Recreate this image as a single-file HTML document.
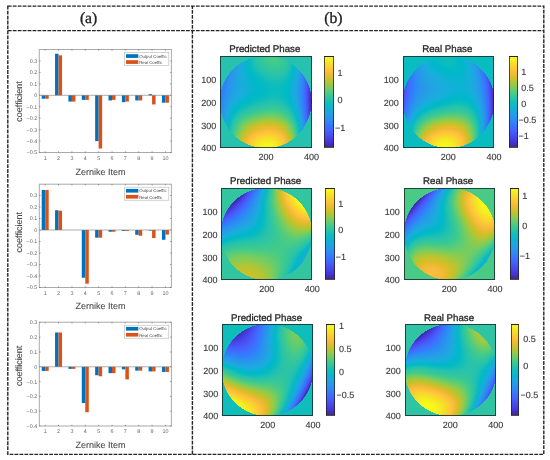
<!DOCTYPE html>
<html><head><meta charset="utf-8"><title>Zernike coefficients and phase</title>
<style>
html,body{margin:0;padding:0;background:#fff}
body{width:550px;height:460px;position:relative;overflow:hidden;font-family:"Liberation Sans", sans-serif}
#wrap{position:absolute;left:0;top:0;width:550px;height:460px;filter:blur(0.3px)}
svg{position:absolute;left:0;top:0;text-rendering:geometricPrecision}
.pm{position:absolute;overflow:hidden}
.pm i{position:absolute;left:0;right:0;display:block}
.fr{position:absolute;box-sizing:border-box;border:1px solid rgba(25,45,45,0.85)}
.cb{position:absolute;box-sizing:border-box;border:0.7px solid rgba(30,30,30,0.75)}
.tk{font-size:5.4px;fill:#666}
.al{font-size:9px;fill:#4a4a4a;stroke:#4a4a4a;stroke-width:0.1px}
.lg{font-size:4.3px;fill:#444}
.pt{font-size:9.0px;fill:#3a3a3a;stroke:#3a3a3a;stroke-width:0.12px}
.tt{font-size:9.7px;fill:#262626;stroke:#262626;stroke-width:0.3px}
.hd{font-family:"Liberation Serif",serif;font-size:15.7px;fill:#222;stroke:#222;stroke-width:0.35px}
</style></head><body><div id="wrap">

<svg width="550" height="460" viewBox="0 0 550 460" font-family='"Liberation Sans", sans-serif'>
<path d="M7.8 6.1H543.8V454.4H7.8Z" stroke="#252525" stroke-width="1.4" stroke-dasharray="3.8 1.15" fill="none"/>
<path d="M7.8 30.6H543.8" stroke="#252525" stroke-width="1.4" stroke-dasharray="3.8 1.15" fill="none"/>
<path d="M192.4 6.1V454.4" stroke-dashoffset="1" stroke="#252525" stroke-width="1.4" stroke-dasharray="3.8 1.15" fill="none"/>
<text x="79.9" y="22.6" class="hd">(a)</text>
<text x="324.2" y="22.6" class="hd">(b)</text>
<rect x="41.70" y="95.30" width="3.50" height="3.44" fill="#0072bd"/>
<rect x="45.20" y="95.30" width="3.50" height="3.44" fill="#d95319"/>
<rect x="55.06" y="53.74" width="3.50" height="41.56" fill="#0072bd"/>
<rect x="58.56" y="55.34" width="3.50" height="39.96" fill="#d95319"/>
<rect x="68.42" y="95.30" width="3.50" height="6.30" fill="#0072bd"/>
<rect x="71.92" y="95.30" width="3.50" height="6.30" fill="#d95319"/>
<rect x="81.78" y="95.30" width="3.50" height="4.58" fill="#0072bd"/>
<rect x="85.28" y="95.30" width="3.50" height="4.58" fill="#d95319"/>
<rect x="95.14" y="95.30" width="3.50" height="45.80" fill="#0072bd"/>
<rect x="98.64" y="95.30" width="3.50" height="53.24" fill="#d95319"/>
<rect x="108.50" y="95.30" width="3.50" height="5.15" fill="#0072bd"/>
<rect x="112.00" y="95.30" width="3.50" height="4.58" fill="#d95319"/>
<rect x="121.86" y="95.30" width="3.50" height="6.87" fill="#0072bd"/>
<rect x="125.36" y="95.30" width="3.50" height="6.30" fill="#d95319"/>
<rect x="135.22" y="95.30" width="3.50" height="5.15" fill="#0072bd"/>
<rect x="138.72" y="95.30" width="3.50" height="5.15" fill="#d95319"/>
<rect x="148.58" y="94.16" width="3.50" height="1.14" fill="#0072bd"/>
<rect x="152.08" y="95.30" width="3.50" height="9.16" fill="#d95319"/>
<rect x="161.94" y="95.30" width="3.50" height="7.44" fill="#0072bd"/>
<rect x="165.44" y="95.30" width="3.50" height="7.44" fill="#d95319"/>
<line x1="39.3" y1="95.30" x2="171.4" y2="95.30" stroke="#777" stroke-width="0.6"/>
<rect x="39.30" y="49.50" width="132.10" height="103.00" fill="none" stroke="#aaa" stroke-width="1"/>
<path d="M45.20 152.50v-1.2M45.20 49.50v1.2M58.56 152.50v-1.2M58.56 49.50v1.2M71.92 152.50v-1.2M71.92 49.50v1.2M85.28 152.50v-1.2M85.28 49.50v1.2M98.64 152.50v-1.2M98.64 49.50v1.2M112.00 152.50v-1.2M112.00 49.50v1.2M125.36 152.50v-1.2M125.36 49.50v1.2M138.72 152.50v-1.2M138.72 49.50v1.2M152.08 152.50v-1.2M152.08 49.50v1.2M165.44 152.50v-1.2M165.44 49.50v1.2M39.30 60.95h1.2M171.40 60.95h-1.2M39.30 72.40h1.2M171.40 72.40h-1.2M39.30 83.85h1.2M171.40 83.85h-1.2M39.30 95.30h1.2M171.40 95.30h-1.2M39.30 106.75h1.2M171.40 106.75h-1.2M39.30 118.20h1.2M171.40 118.20h-1.2M39.30 129.65h1.2M171.40 129.65h-1.2M39.30 141.10h1.2M171.40 141.10h-1.2M39.30 152.55h1.2M171.40 152.55h-1.2" stroke="#555" stroke-width="0.6" fill="none"/>
<text x="37.2" y="60.95" class="tk" text-anchor="end" dy="0.36em">0.3</text>
<text x="37.2" y="72.40" class="tk" text-anchor="end" dy="0.36em">0.2</text>
<text x="37.2" y="83.85" class="tk" text-anchor="end" dy="0.36em">0.1</text>
<text x="37.2" y="95.30" class="tk" text-anchor="end" dy="0.36em">0</text>
<text x="37.2" y="106.75" class="tk" text-anchor="end" dy="0.36em">−0.1</text>
<text x="37.2" y="118.20" class="tk" text-anchor="end" dy="0.36em">−0.2</text>
<text x="37.2" y="129.65" class="tk" text-anchor="end" dy="0.36em">−0.3</text>
<text x="37.2" y="141.10" class="tk" text-anchor="end" dy="0.36em">−0.4</text>
<text x="37.2" y="152.55" class="tk" text-anchor="end" dy="0.36em">−0.5</text>
<text x="45.20" y="158.30" class="tk" text-anchor="middle" dy="0.36em">1</text>
<text x="58.56" y="158.30" class="tk" text-anchor="middle" dy="0.36em">2</text>
<text x="71.92" y="158.30" class="tk" text-anchor="middle" dy="0.36em">3</text>
<text x="85.28" y="158.30" class="tk" text-anchor="middle" dy="0.36em">4</text>
<text x="98.64" y="158.30" class="tk" text-anchor="middle" dy="0.36em">5</text>
<text x="112.00" y="158.30" class="tk" text-anchor="middle" dy="0.36em">6</text>
<text x="125.36" y="158.30" class="tk" text-anchor="middle" dy="0.36em">7</text>
<text x="138.72" y="158.30" class="tk" text-anchor="middle" dy="0.36em">8</text>
<text x="152.08" y="158.30" class="tk" text-anchor="middle" dy="0.36em">9</text>
<text x="165.44" y="158.30" class="tk" text-anchor="middle" dy="0.36em">10</text>
<text x="75.6" y="174.90" class="al">Zernike Item</text>
<text transform="translate(22.3 101.50) rotate(-90)" class="al" text-anchor="middle">coefficient</text>
<rect x="124.5" y="52.50" width="44.3" height="13" fill="#fff" stroke="#b5b5b5" stroke-width="0.6"/>
<rect x="126" y="54.20" width="12.3" height="3.7" fill="#0072bd"/>
<rect x="126" y="60.20" width="12.3" height="3.7" fill="#d95319"/>
<text x="139.2" y="56.20" class="lg" dy="0.36em">Output Coeffic</text>
<text x="139.2" y="62.30" class="lg" dy="0.36em">Real Coeffic</text>
<rect x="41.70" y="189.98" width="3.50" height="40.02" fill="#0072bd"/>
<rect x="45.20" y="189.98" width="3.50" height="40.02" fill="#d95319"/>
<rect x="55.06" y="210.22" width="3.50" height="19.78" fill="#0072bd"/>
<rect x="58.56" y="210.68" width="3.50" height="19.32" fill="#d95319"/>
<rect x="81.78" y="230.00" width="3.50" height="47.73" fill="#0072bd"/>
<rect x="85.28" y="230.00" width="3.50" height="53.70" fill="#d95319"/>
<rect x="95.14" y="230.00" width="3.50" height="7.71" fill="#0072bd"/>
<rect x="98.64" y="230.00" width="3.50" height="7.71" fill="#d95319"/>
<rect x="108.50" y="230.00" width="3.50" height="1.72" fill="#0072bd"/>
<rect x="112.00" y="230.00" width="3.50" height="1.72" fill="#d95319"/>
<rect x="121.86" y="230.00" width="3.50" height="0.92" fill="#0072bd"/>
<rect x="125.36" y="230.00" width="3.50" height="0.92" fill="#d95319"/>
<rect x="135.22" y="230.00" width="3.50" height="4.83" fill="#0072bd"/>
<rect x="138.72" y="230.00" width="3.50" height="5.75" fill="#d95319"/>
<rect x="148.58" y="230.00" width="3.50" height="0.57" fill="#0072bd"/>
<rect x="152.08" y="230.00" width="3.50" height="8.05" fill="#d95319"/>
<rect x="161.94" y="230.00" width="3.50" height="9.78" fill="#0072bd"/>
<rect x="165.44" y="230.00" width="3.50" height="4.60" fill="#d95319"/>
<line x1="39.3" y1="230.00" x2="171.4" y2="230.00" stroke="#777" stroke-width="0.6"/>
<rect x="39.30" y="184.20" width="132.10" height="103.30" fill="none" stroke="#aaa" stroke-width="1"/>
<path d="M45.20 287.50v-1.2M45.20 184.20v1.2M58.56 287.50v-1.2M58.56 184.20v1.2M71.92 287.50v-1.2M71.92 184.20v1.2M85.28 287.50v-1.2M85.28 184.20v1.2M98.64 287.50v-1.2M98.64 184.20v1.2M112.00 287.50v-1.2M112.00 184.20v1.2M125.36 287.50v-1.2M125.36 184.20v1.2M138.72 287.50v-1.2M138.72 184.20v1.2M152.08 287.50v-1.2M152.08 184.20v1.2M165.44 287.50v-1.2M165.44 184.20v1.2M39.30 195.50h1.2M171.40 195.50h-1.2M39.30 207.00h1.2M171.40 207.00h-1.2M39.30 218.50h1.2M171.40 218.50h-1.2M39.30 230.00h1.2M171.40 230.00h-1.2M39.30 241.50h1.2M171.40 241.50h-1.2M39.30 253.00h1.2M171.40 253.00h-1.2M39.30 264.50h1.2M171.40 264.50h-1.2M39.30 276.00h1.2M171.40 276.00h-1.2M39.30 287.50h1.2M171.40 287.50h-1.2" stroke="#555" stroke-width="0.6" fill="none"/>
<text x="37.2" y="195.50" class="tk" text-anchor="end" dy="0.36em">0.3</text>
<text x="37.2" y="207.00" class="tk" text-anchor="end" dy="0.36em">0.2</text>
<text x="37.2" y="218.50" class="tk" text-anchor="end" dy="0.36em">0.1</text>
<text x="37.2" y="230.00" class="tk" text-anchor="end" dy="0.36em">0</text>
<text x="37.2" y="241.50" class="tk" text-anchor="end" dy="0.36em">−0.1</text>
<text x="37.2" y="253.00" class="tk" text-anchor="end" dy="0.36em">−0.2</text>
<text x="37.2" y="264.50" class="tk" text-anchor="end" dy="0.36em">−0.3</text>
<text x="37.2" y="276.00" class="tk" text-anchor="end" dy="0.36em">−0.4</text>
<text x="37.2" y="287.50" class="tk" text-anchor="end" dy="0.36em">−0.5</text>
<text x="45.20" y="293.10" class="tk" text-anchor="middle" dy="0.36em">1</text>
<text x="58.56" y="293.10" class="tk" text-anchor="middle" dy="0.36em">2</text>
<text x="71.92" y="293.10" class="tk" text-anchor="middle" dy="0.36em">3</text>
<text x="85.28" y="293.10" class="tk" text-anchor="middle" dy="0.36em">4</text>
<text x="98.64" y="293.10" class="tk" text-anchor="middle" dy="0.36em">5</text>
<text x="112.00" y="293.10" class="tk" text-anchor="middle" dy="0.36em">6</text>
<text x="125.36" y="293.10" class="tk" text-anchor="middle" dy="0.36em">7</text>
<text x="138.72" y="293.10" class="tk" text-anchor="middle" dy="0.36em">8</text>
<text x="152.08" y="293.10" class="tk" text-anchor="middle" dy="0.36em">9</text>
<text x="165.44" y="293.10" class="tk" text-anchor="middle" dy="0.36em">10</text>
<text x="75.6" y="308.60" class="al">Zernike Item</text>
<text transform="translate(22.3 232.30) rotate(-90)" class="al" text-anchor="middle">coefficient</text>
<rect x="124.5" y="187.20" width="44.3" height="13" fill="#fff" stroke="#b5b5b5" stroke-width="0.6"/>
<rect x="126" y="188.90" width="12.3" height="3.7" fill="#0072bd"/>
<rect x="126" y="194.90" width="12.3" height="3.7" fill="#d95319"/>
<text x="139.2" y="190.90" class="lg" dy="0.36em">Output Coeffic</text>
<text x="139.2" y="197.00" class="lg" dy="0.36em">Real Coeffic</text>
<rect x="41.70" y="366.80" width="3.50" height="4.14" fill="#0072bd"/>
<rect x="45.20" y="366.80" width="3.50" height="4.14" fill="#d95319"/>
<rect x="55.06" y="332.46" width="3.50" height="34.34" fill="#0072bd"/>
<rect x="58.56" y="332.46" width="3.50" height="34.34" fill="#d95319"/>
<rect x="68.42" y="366.80" width="3.50" height="2.07" fill="#0072bd"/>
<rect x="71.92" y="366.80" width="3.50" height="2.07" fill="#d95319"/>
<rect x="81.78" y="366.80" width="3.50" height="36.26" fill="#0072bd"/>
<rect x="85.28" y="366.80" width="3.50" height="45.44" fill="#d95319"/>
<rect x="95.14" y="366.80" width="3.50" height="8.44" fill="#0072bd"/>
<rect x="98.64" y="366.80" width="3.50" height="9.47" fill="#d95319"/>
<rect x="108.50" y="366.80" width="3.50" height="6.36" fill="#0072bd"/>
<rect x="112.00" y="366.80" width="3.50" height="6.36" fill="#d95319"/>
<rect x="121.86" y="366.80" width="3.50" height="2.52" fill="#0072bd"/>
<rect x="125.36" y="366.80" width="3.50" height="12.58" fill="#d95319"/>
<rect x="135.22" y="366.80" width="3.50" height="3.85" fill="#0072bd"/>
<rect x="138.72" y="366.80" width="3.50" height="3.85" fill="#d95319"/>
<rect x="148.58" y="366.80" width="3.50" height="4.59" fill="#0072bd"/>
<rect x="152.08" y="366.80" width="3.50" height="4.59" fill="#d95319"/>
<rect x="161.94" y="366.80" width="3.50" height="5.18" fill="#0072bd"/>
<rect x="165.44" y="366.80" width="3.50" height="5.18" fill="#d95319"/>
<line x1="39.3" y1="366.80" x2="171.4" y2="366.80" stroke="#777" stroke-width="0.6"/>
<rect x="39.30" y="322.20" width="132.10" height="103.80" fill="none" stroke="#aaa" stroke-width="1"/>
<path d="M45.20 426.00v-1.2M45.20 322.20v1.2M58.56 426.00v-1.2M58.56 322.20v1.2M71.92 426.00v-1.2M71.92 322.20v1.2M85.28 426.00v-1.2M85.28 322.20v1.2M98.64 426.00v-1.2M98.64 322.20v1.2M112.00 426.00v-1.2M112.00 322.20v1.2M125.36 426.00v-1.2M125.36 322.20v1.2M138.72 426.00v-1.2M138.72 322.20v1.2M152.08 426.00v-1.2M152.08 322.20v1.2M165.44 426.00v-1.2M165.44 322.20v1.2M39.30 322.40h1.2M171.40 322.40h-1.2M39.30 337.20h1.2M171.40 337.20h-1.2M39.30 352.00h1.2M171.40 352.00h-1.2M39.30 366.80h1.2M171.40 366.80h-1.2M39.30 381.60h1.2M171.40 381.60h-1.2M39.30 396.40h1.2M171.40 396.40h-1.2M39.30 411.20h1.2M171.40 411.20h-1.2M39.30 426.00h1.2M171.40 426.00h-1.2" stroke="#555" stroke-width="0.6" fill="none"/>
<text x="37.2" y="322.40" class="tk" text-anchor="end" dy="0.36em">0.3</text>
<text x="37.2" y="337.20" class="tk" text-anchor="end" dy="0.36em">0.2</text>
<text x="37.2" y="352.00" class="tk" text-anchor="end" dy="0.36em">0.1</text>
<text x="37.2" y="366.80" class="tk" text-anchor="end" dy="0.36em">0</text>
<text x="37.2" y="381.60" class="tk" text-anchor="end" dy="0.36em">−0.1</text>
<text x="37.2" y="396.40" class="tk" text-anchor="end" dy="0.36em">−0.2</text>
<text x="37.2" y="411.20" class="tk" text-anchor="end" dy="0.36em">−0.3</text>
<text x="37.2" y="426.00" class="tk" text-anchor="end" dy="0.36em">−0.4</text>
<text x="45.20" y="431.30" class="tk" text-anchor="middle" dy="0.36em">1</text>
<text x="58.56" y="431.30" class="tk" text-anchor="middle" dy="0.36em">2</text>
<text x="71.92" y="431.30" class="tk" text-anchor="middle" dy="0.36em">3</text>
<text x="85.28" y="431.30" class="tk" text-anchor="middle" dy="0.36em">4</text>
<text x="98.64" y="431.30" class="tk" text-anchor="middle" dy="0.36em">5</text>
<text x="112.00" y="431.30" class="tk" text-anchor="middle" dy="0.36em">6</text>
<text x="125.36" y="431.30" class="tk" text-anchor="middle" dy="0.36em">7</text>
<text x="138.72" y="431.30" class="tk" text-anchor="middle" dy="0.36em">8</text>
<text x="152.08" y="431.30" class="tk" text-anchor="middle" dy="0.36em">9</text>
<text x="165.44" y="431.30" class="tk" text-anchor="middle" dy="0.36em">10</text>
<text x="75.6" y="448.00" class="al">Zernike Item</text>
<text transform="translate(22.3 365.90) rotate(-90)" class="al" text-anchor="middle">coefficient</text>
<rect x="124.5" y="325.20" width="44.3" height="13" fill="#fff" stroke="#b5b5b5" stroke-width="0.6"/>
<rect x="126" y="326.90" width="12.3" height="3.7" fill="#0072bd"/>
<rect x="126" y="332.90" width="12.3" height="3.7" fill="#d95319"/>
<text x="139.2" y="328.90" class="lg" dy="0.36em">Output Coeffic</text>
<text x="139.2" y="335.00" class="lg" dy="0.36em">Real Coeffic</text>
<text x="264.80" y="52.30" class="tt" text-anchor="middle">Predicted Phase</text>
<text x="216.40" y="79.05" class="pt" text-anchor="end" dy="0.42em">100</text>
<text x="216.40" y="101.90" class="pt" text-anchor="end" dy="0.42em">200</text>
<text x="216.40" y="124.75" class="pt" text-anchor="end" dy="0.42em">300</text>
<text x="216.40" y="147.60" class="pt" text-anchor="end" dy="0.42em">400</text>
<text x="265.90" y="156.50" class="pt" text-anchor="middle" dy="0.36em">200</text>
<text x="311.60" y="156.50" class="pt" text-anchor="middle" dy="0.36em">400</text>
<text x="337.50" y="72.60" class="pt" dy="0.36em">1</text>
<text x="337.50" y="100.00" class="pt" dy="0.36em">0</text>
<text x="334.90" y="127.90" class="pt" dy="0.36em">−1</text>
<text x="447.25" y="52.30" class="tt" text-anchor="middle">Real Phase</text>
<text x="398.90" y="79.05" class="pt" text-anchor="end" dy="0.42em">100</text>
<text x="398.90" y="101.90" class="pt" text-anchor="end" dy="0.42em">200</text>
<text x="398.90" y="124.75" class="pt" text-anchor="end" dy="0.42em">300</text>
<text x="398.90" y="147.60" class="pt" text-anchor="end" dy="0.42em">400</text>
<text x="448.35" y="156.50" class="pt" text-anchor="middle" dy="0.36em">200</text>
<text x="494.00" y="156.50" class="pt" text-anchor="middle" dy="0.36em">400</text>
<text x="521.20" y="71.80" class="pt" dy="0.36em">1</text>
<text x="521.20" y="88.20" class="pt" dy="0.36em">0.5</text>
<text x="521.20" y="103.30" class="pt" dy="0.36em">0</text>
<text x="518.60" y="119.50" class="pt" dy="0.36em">−0.5</text>
<text x="518.60" y="135.90" class="pt" dy="0.36em">−1</text>
<text x="265.65" y="184.30" class="tt" text-anchor="middle">Predicted Phase</text>
<text x="217.50" y="211.05" class="pt" text-anchor="end" dy="0.42em">100</text>
<text x="217.50" y="233.90" class="pt" text-anchor="end" dy="0.42em">200</text>
<text x="217.50" y="256.75" class="pt" text-anchor="end" dy="0.42em">300</text>
<text x="217.50" y="279.60" class="pt" text-anchor="end" dy="0.42em">400</text>
<text x="266.75" y="288.50" class="pt" text-anchor="middle" dy="0.36em">200</text>
<text x="312.20" y="288.50" class="pt" text-anchor="middle" dy="0.36em">400</text>
<text x="338.30" y="203.40" class="pt" dy="0.36em">1</text>
<text x="338.30" y="230.00" class="pt" dy="0.36em">0</text>
<text x="335.70" y="256.30" class="pt" dy="0.36em">−1</text>
<text x="448.10" y="184.30" class="tt" text-anchor="middle">Real Phase</text>
<text x="399.70" y="211.05" class="pt" text-anchor="end" dy="0.42em">100</text>
<text x="399.70" y="233.90" class="pt" text-anchor="end" dy="0.42em">200</text>
<text x="399.70" y="256.75" class="pt" text-anchor="end" dy="0.42em">300</text>
<text x="399.70" y="279.60" class="pt" text-anchor="end" dy="0.42em">400</text>
<text x="449.20" y="288.50" class="pt" text-anchor="middle" dy="0.36em">200</text>
<text x="494.90" y="288.50" class="pt" text-anchor="middle" dy="0.36em">400</text>
<text x="522.30" y="195.50" class="pt" dy="0.36em">1</text>
<text x="522.30" y="225.70" class="pt" dy="0.36em">0</text>
<text x="519.70" y="255.90" class="pt" dy="0.36em">−1</text>
<text x="266.55" y="320.50" class="tt" text-anchor="middle">Predicted Phase</text>
<text x="218.40" y="347.20" class="pt" text-anchor="end" dy="0.42em">100</text>
<text x="218.40" y="370.00" class="pt" text-anchor="end" dy="0.42em">200</text>
<text x="218.40" y="392.80" class="pt" text-anchor="end" dy="0.42em">300</text>
<text x="218.40" y="415.60" class="pt" text-anchor="end" dy="0.42em">400</text>
<text x="267.65" y="424.50" class="pt" text-anchor="middle" dy="0.36em">200</text>
<text x="313.10" y="424.50" class="pt" text-anchor="middle" dy="0.36em">400</text>
<text x="339.10" y="325.70" class="pt" dy="0.36em">1</text>
<text x="339.10" y="349.10" class="pt" dy="0.36em">0.5</text>
<text x="339.10" y="372.10" class="pt" dy="0.36em">0</text>
<text x="336.50" y="394.80" class="pt" dy="0.36em">−0.5</text>
<text x="449.05" y="320.50" class="tt" text-anchor="middle">Real Phase</text>
<text x="400.70" y="347.20" class="pt" text-anchor="end" dy="0.42em">100</text>
<text x="400.70" y="370.00" class="pt" text-anchor="end" dy="0.42em">200</text>
<text x="400.70" y="392.80" class="pt" text-anchor="end" dy="0.42em">300</text>
<text x="400.70" y="415.60" class="pt" text-anchor="end" dy="0.42em">400</text>
<text x="450.15" y="424.50" class="pt" text-anchor="middle" dy="0.36em">200</text>
<text x="495.80" y="424.50" class="pt" text-anchor="middle" dy="0.36em">400</text>
<text x="523.20" y="339.00" class="pt" dy="0.36em">0.5</text>
<text x="523.20" y="366.10" class="pt" dy="0.36em">0</text>
<text x="520.60" y="394.70" class="pt" dy="0.36em">−0.5</text>
</svg>
<div class="pm" style="left:220.2px;top:56.2px;width:91.4px;height:91.4px;background:#26c2ad">
<i style="top:0.00px;height:1.02px;background:linear-gradient(90deg,#26c2ad 38.5px,#2ec4a4 38.9px,#34c79c 41.6px,#3ac994 44.3px,#3fca8e 47.1px,#45cb89 49.8px,#48cb86 52.5px,#26c2ad 52.9px)"></i>
<i style="top:1.00px;height:1.02px;background:linear-gradient(90deg,#26c2ad 33.6px,#1bc0b4 34.1px,#29c3aa 37.0px,#30c5a1 39.9px,#36c898 42.8px,#3dc991 45.7px,#43ca8b 48.6px,#47cb87 51.5px,#49cb85 54.4px,#48cb87 57.3px,#26c2ad 57.8px)"></i>
<i style="top:2.01px;height:1.02px;background:linear-gradient(90deg,#26c2ad 30.3px,#07bcc0 30.8px,#1ac0b5 33.7px,#28c3aa 36.7px,#30c5a1 39.7px,#36c899 42.7px,#3cc991 45.7px,#43ca8b 48.7px,#47cb87 51.7px,#49cb86 54.7px,#47cb87 57.7px,#41ca8c 60.6px,#26c2ad 61.1px)"></i>
<i style="top:3.01px;height:1.02px;background:linear-gradient(90deg,#26c2ad 27.7px,#01b8c9 28.1px,#09bdbe 31.1px,#1cc0b3 34.0px,#29c3aa 36.9px,#30c5a1 39.8px,#36c899 42.8px,#3cc992 45.7px,#41ca8c 48.6px,#46cb88 51.6px,#48cb86 54.5px,#46cb88 57.4px,#41ca8c 60.3px,#3ac994 63.3px,#26c2ad 63.7px)"></i>
<i style="top:4.02px;height:1.02px;background:linear-gradient(90deg,#26c2ad 25.4px,#08b4d0 25.9px,#01b9c6 28.7px,#0dbdbc 31.5px,#1ec0b2 34.4px,#2ac3a9 37.2px,#30c5a1 40.0px,#36c799 42.9px,#3bc993 45.7px,#40ca8d 48.5px,#44cb89 51.4px,#46cb88 54.2px,#46cb88 57.0px,#41ca8c 59.9px,#3bc992 62.7px,#34c79c 65.5px,#26c2ad 66.0px)"></i>
<i style="top:5.02px;height:1.02px;background:linear-gradient(90deg,#26c2ad 23.5px,#13b1d7 23.9px,#03b7cc 26.8px,#04bbc2 29.7px,#14bfb8 32.6px,#24c1af 35.5px,#2cc4a6 38.4px,#32c69e 41.3px,#37c897 44.2px,#3cc991 47.2px,#41ca8c 50.1px,#44cb8a 53.0px,#45cb89 55.9px,#42ca8b 58.8px,#3dc991 61.7px,#36c799 64.6px,#2ec4a4 67.5px,#26c2ad 67.9px)"></i>
<i style="top:6.03px;height:1.02px;background:linear-gradient(90deg,#26c2ad 21.7px,#19addc 22.2px,#0ab4d2 25.1px,#01b9c7 28.0px,#0abdbd 31.0px,#1bc0b4 33.9px,#27c2ab 36.9px,#2fc5a3 39.8px,#34c79c 42.8px,#38c896 45.7px,#3dc990 48.6px,#41ca8c 51.6px,#43ca8b 54.5px,#42ca8c 57.5px,#3eca8f 60.4px,#38c896 63.4px,#31c6a0 66.3px,#26c2ac 69.2px,#26c2ad 69.7px)"></i>
<i style="top:7.03px;height:1.02px;background:linear-gradient(90deg,#26c2ad 20.1px,#1ca9e0 20.6px,#13b1d7 23.5px,#04b6cd 26.5px,#03bbc3 29.4px,#11beb9 32.4px,#21c1b1 35.4px,#2ac3a8 38.3px,#30c5a1 41.3px,#35c79a 44.2px,#39c995 47.2px,#3dc990 50.1px,#40ca8d 53.1px,#40ca8d 56.0px,#3eca8f 59.0px,#3ac994 62.0px,#34c79c 64.9px,#2cc4a7 67.9px,#1ac0b5 70.8px,#26c2ad 71.3px)"></i>
<i style="top:8.04px;height:1.02px;background:linear-gradient(90deg,#26c2ad 18.7px,#1fa5e2 19.1px,#18aedb 22.1px,#0ab4d1 25.0px,#01b9c8 28.0px,#09bcbe 30.9px,#19bfb6 33.9px,#25c2ad 36.8px,#2dc4a6 39.8px,#31c69f 42.7px,#36c799 45.7px,#3ac994 48.7px,#3dc991 51.6px,#3eca8f 54.6px,#3dca90 57.5px,#3bc993 60.5px,#36c799 63.4px,#2fc5a2 66.4px,#24c1ae 69.3px,#0abdbd 72.3px,#26c2ad 72.7px)"></i>
<i style="top:9.04px;height:1.02px;background:linear-gradient(90deg,#26c2ad 17.3px,#22a2e4 17.8px,#1babde 20.7px,#11b1d6 23.6px,#03b7cc 26.6px,#02bbc3 29.5px,#0fbeba 32.5px,#1ec0b2 35.4px,#28c2ab 38.3px,#2ec4a4 41.3px,#32c69e 44.2px,#36c899 47.2px,#39c995 50.1px,#3cc992 53.1px,#3cc991 56.0px,#3bc993 58.9px,#37c898 61.9px,#32c69f 64.8px,#2ac3a9 67.8px,#19bfb6 70.7px,#01bac5 73.6px,#26c2ad 74.1px)"></i>
<i style="top:10.04px;height:1.02px;background:linear-gradient(90deg,#26c2ad 16.0px,#249ee6 16.5px,#1ea8e1 19.4px,#16afd9 22.3px,#08b4d0 25.3px,#01b9c8 28.2px,#08bcbf 31.1px,#15bfb7 34.0px,#22c1b0 36.9px,#2ac3a9 39.9px,#2fc5a3 42.8px,#33c69d 45.7px,#36c899 48.6px,#38c896 51.5px,#3ac994 54.5px,#3ac994 57.4px,#37c897 60.3px,#33c79c 63.2px,#2ec4a4 66.1px,#23c1af 69.1px,#0bbdbd 72.0px,#05b6cd 74.9px,#26c2ad 75.4px)"></i>
<i style="top:11.05px;height:1.02px;background:linear-gradient(90deg,#26c2ad 14.9px,#259be7 15.3px,#20a5e3 18.2px,#19acdc 21.1px,#0fb2d4 24.0px,#03b7cc 26.9px,#02bac4 29.8px,#0cbdbc 32.7px,#1ac0b5 35.6px,#25c2ae 38.5px,#2bc3a8 41.4px,#2fc5a2 44.3px,#33c69d 47.1px,#35c79a 50.0px,#37c897 52.9px,#38c896 55.8px,#37c898 58.7px,#34c79b 61.6px,#30c5a1 64.5px,#29c3aa 67.4px,#18bfb6 70.3px,#02bac4 73.2px,#10b2d5 76.1px,#26c2ad 76.5px)"></i>
<i style="top:12.05px;height:1.02px;background:linear-gradient(90deg,#26c2ad 13.8px,#2699ea 14.2px,#22a2e4 17.2px,#1baade 20.2px,#12b1d7 23.2px,#05b6ce 26.2px,#01b9c6 29.2px,#09bcbe 32.2px,#16bfb7 35.2px,#21c1b0 38.2px,#29c3aa 41.2px,#2ec4a4 44.2px,#31c6a0 47.2px,#34c79c 50.2px,#35c79a 53.2px,#36c899 56.2px,#35c79a 59.2px,#32c69e 62.2px,#2dc4a5 65.2px,#24c1af 68.2px,#0ebdbb 71.2px,#02b7cb 74.2px,#19addc 77.2px,#26c2ad 77.6px)"></i>
<i style="top:13.06px;height:1.02px;background:linear-gradient(90deg,#26c2ad 12.8px,#2896ec 13.2px,#23a0e5 16.2px,#1da8e0 19.1px,#16aeda 22.1px,#0bb4d2 25.0px,#01b8ca 28.0px,#03bbc2 30.9px,#0dbdbb 33.9px,#1ac0b5 36.8px,#24c1af 39.8px,#2ac3a9 42.7px,#2ec4a4 45.7px,#31c6a0 48.7px,#33c69d 51.6px,#34c79c 54.6px,#34c79c 57.5px,#32c69e 60.5px,#2fc5a3 63.4px,#28c3aa 66.4px,#1ac0b4 69.3px,#04bbc2 72.3px,#0ab4d2 75.2px,#1ea8e1 78.2px,#26c2ad 78.6px)"></i>
<i style="top:14.06px;height:1.02px;background:linear-gradient(90deg,#26c2ad 11.8px,#2a93ed 12.2px,#259de7 15.2px,#1fa5e2 18.1px,#19acdc 21.0px,#10b2d5 23.9px,#05b6ce 26.8px,#01b9c7 29.7px,#07bcc0 32.6px,#12beb9 35.5px,#1cc0b3 38.4px,#25c2ae 41.3px,#2ac3a9 44.2px,#2ec4a4 47.2px,#30c5a1 50.1px,#32c69f 53.0px,#32c69e 55.9px,#32c69f 58.8px,#2fc5a2 61.7px,#2bc3a8 64.6px,#22c1b0 67.5px,#0fbeba 70.4px,#01b8c8 73.3px,#14b0d8 76.2px,#22a2e4 79.2px,#26c2ad 79.6px)"></i>
<i style="top:15.07px;height:1.02px;background:linear-gradient(90deg,#26c2ad 10.9px,#2b91ef 11.3px,#259be8 14.3px,#21a4e3 17.3px,#1babde 20.3px,#13b0d7 23.3px,#07b5d0 26.3px,#01b8c9 29.3px,#04bbc2 32.3px,#0dbdbb 35.2px,#19bfb5 38.2px,#22c1b0 41.2px,#28c2ab 44.2px,#2cc4a7 47.2px,#2ec5a3 50.2px,#30c5a1 53.2px,#31c5a1 56.2px,#30c5a2 59.1px,#2dc4a5 62.1px,#28c2ab 65.1px,#1cc0b3 68.1px,#08bcbf 71.1px,#04b6cd 74.1px,#1aacdd 77.1px,#259ce7 80.1px,#26c2ad 80.5px)"></i>
<i style="top:16.07px;height:1.02px;background:linear-gradient(90deg,#26c2ad 10.0px,#2c8ef1 10.5px,#2699e9 13.4px,#22a1e4 16.4px,#1da9e0 19.3px,#16aeda 22.2px,#0cb3d3 25.2px,#03b7cc 28.1px,#01b9c6 31.0px,#07bcbf 34.0px,#11beba 36.9px,#1bc0b4 39.8px,#22c1af 42.8px,#28c2ab 45.7px,#2bc3a7 48.6px,#2ec4a5 51.6px,#2fc5a3 54.5px,#2fc5a3 57.4px,#2dc4a5 60.4px,#2ac3a9 63.3px,#22c1b0 66.2px,#13beb9 69.2px,#02bac5 72.1px,#0db3d3 75.0px,#1ea7e1 78.0px,#2896ec 80.9px,#26c2ad 81.4px)"></i>
<i style="top:17.07px;height:1.02px;background:linear-gradient(90deg,#26c2ad 9.2px,#2d8cf3 9.7px,#2797eb 12.6px,#249fe5 15.4px,#1ea6e1 18.3px,#19acdc 21.2px,#12b1d6 24.1px,#07b5d0 27.0px,#01b8c9 29.9px,#02bac3 32.7px,#09bdbe 35.6px,#13beb8 38.5px,#1cc0b4 41.4px,#23c1af 44.3px,#27c2ab 47.1px,#2ac3a8 50.0px,#2cc4a6 52.9px,#2dc4a5 55.8px,#2dc4a6 58.7px,#2ac3a9 61.5px,#25c2ad 64.4px,#1ac0b4 67.3px,#09bcbe 70.2px,#02b7cb 73.1px,#15afd9 76.0px,#22a2e4 78.8px,#2c8ff0 81.7px,#26c2ad 82.2px)"></i>
<i style="top:18.08px;height:1.02px;background:linear-gradient(90deg,#26c2ad 8.5px,#2d8af5 8.9px,#2895ec 11.9px,#249ee6 14.8px,#1fa5e2 17.7px,#1aabdd 20.7px,#13b0d7 23.6px,#09b4d1 26.6px,#02b7cb 29.5px,#01bac5 32.5px,#07bcc0 35.4px,#0fbebb 38.3px,#18bfb6 41.3px,#1fc1b1 44.2px,#25c2ae 47.2px,#28c3ab 50.1px,#2ac3a9 53.1px,#2bc3a8 56.0px,#2ac3a9 58.9px,#27c2ab 61.9px,#21c1b0 64.8px,#15bfb8 67.8px,#04bbc2 70.7px,#06b5cf 73.7px,#1aacdd 76.6px,#249de6 79.5px,#2d89f5 82.5px,#26c2ad 82.9px)"></i>
<i style="top:19.08px;height:1.02px;background:linear-gradient(90deg,#26c2ad 7.7px,#2d88f6 8.2px,#2a93ee 11.1px,#259ce7 14.0px,#21a3e3 16.9px,#1ca9df 19.7px,#17aeda 22.6px,#0eb2d4 25.5px,#06b5ce 28.4px,#01b8c9 31.3px,#02bac3 34.2px,#08bcbe 37.0px,#11beba 39.9px,#19bfb5 42.8px,#1fc0b2 45.7px,#24c1ae 48.6px,#27c2ac 51.5px,#28c3aa 54.4px,#29c3aa 57.2px,#27c2ac 60.1px,#23c1af 63.0px,#1ac0b4 65.9px,#0bbdbc 68.8px,#01b9c7 71.7px,#0eb2d4 74.5px,#1ea8e1 77.4px,#2798ea 80.3px,#2f83f9 83.2px,#26c2ad 83.7px)"></i>
<i style="top:20.09px;height:1.02px;background:linear-gradient(90deg,#26c2ad 7.1px,#2e86f7 7.5px,#2b92ef 10.5px,#259be8 13.4px,#22a2e4 16.3px,#1da8e0 19.3px,#18addb 22.2px,#11b2d5 25.1px,#07b5d0 28.1px,#01b7ca 31.0px,#01bac5 34.0px,#06bcc0 36.9px,#0dbdbc 39.8px,#15bfb7 42.8px,#1cc0b4 45.7px,#21c1b0 48.6px,#25c2ae 51.6px,#26c2ac 54.5px,#26c2ac 57.4px,#25c2ae 60.4px,#1fc1b1 63.3px,#16bfb7 66.3px,#07bcbf 69.2px,#02b7cb 72.1px,#14b0d8 75.1px,#20a4e3 78.0px,#2a93ee 80.9px,#327cfc 83.9px,#26c2ad 84.3px)"></i>
<i style="top:21.09px;height:1.02px;background:linear-gradient(90deg,#26c2ad 6.4px,#2e84f8 6.9px,#2c90f0 9.9px,#269ae9 12.8px,#22a1e4 15.8px,#1ea8e1 18.8px,#19addc 21.8px,#12b1d7 24.8px,#09b4d1 27.8px,#03b7cc 30.8px,#01b9c7 33.8px,#04bbc2 36.7px,#0abdbd 39.7px,#11beb9 42.7px,#19bfb5 45.7px,#1ec0b2 48.7px,#22c1b0 51.7px,#24c1af 54.7px,#24c1af 57.6px,#21c1b0 60.6px,#1bc0b4 63.6px,#11beba 66.6px,#03bbc2 69.6px,#05b6ce 72.6px,#18aedb 75.6px,#23a1e5 78.6px,#2c8ef1 81.5px,#3975fe 84.5px,#26c2ad 85.0px)"></i>
<i style="top:22.10px;height:1.02px;background:linear-gradient(90deg,#26c2ad 5.8px,#2e83f9 6.3px,#2c8ff1 9.2px,#2798ea 12.1px,#23a0e5 15.0px,#1fa6e2 18.0px,#1babde 20.9px,#15afd9 23.8px,#0eb2d4 26.7px,#06b5cf 29.6px,#01b8ca 32.6px,#01bac5 35.5px,#05bbc1 38.4px,#0bbdbd 41.3px,#12beb9 44.2px,#18bfb6 47.2px,#1dc0b3 50.1px,#20c1b1 53.0px,#21c1b0 55.9px,#20c1b1 58.8px,#1cc0b3 61.8px,#15bfb7 64.7px,#09bcbe 67.6px,#01b9c7 70.5px,#0cb3d3 73.4px,#1caadf 76.4px,#259ce7 79.3px,#2d89f6 82.2px,#3f6efe 85.1px,#26c2ad 85.6px)"></i>
<i style="top:23.10px;height:1.02px;background:linear-gradient(90deg,#26c2ad 5.2px,#2f81fa 5.7px,#2d8df2 8.7px,#2797eb 11.6px,#249fe6 14.6px,#20a5e2 17.5px,#1baade 20.5px,#16aeda 23.5px,#10b2d5 26.4px,#07b5d0 29.4px,#02b7cb 32.4px,#01b9c7 35.3px,#03bbc3 38.3px,#08bcbe 41.3px,#0fbebb 44.2px,#15bfb7 47.2px,#1abfb5 50.1px,#1dc0b3 53.1px,#1ec0b2 56.1px,#1dc0b3 59.0px,#19bfb5 62.0px,#11beba 65.0px,#06bcc0 67.9px,#01b8ca 70.9px,#11b1d6 73.9px,#1ea7e1 76.8px,#2698ea 79.8px,#2e84f9 82.7px,#4367fd 85.7px,#26c2ad 86.2px)"></i>
<i style="top:24.11px;height:1.02px;background:linear-gradient(90deg,#26c2ad 4.7px,#3080fa 5.2px,#2d8cf3 8.1px,#2896ec 11.0px,#249de6 13.8px,#21a4e3 16.7px,#1da9e0 19.6px,#19addc 22.5px,#13b0d7 25.4px,#0bb3d2 28.3px,#05b6ce 31.2px,#01b8ca 34.1px,#01bac6 37.0px,#04bbc2 39.9px,#09bcbe 42.8px,#0fbebb 45.7px,#14bfb8 48.6px,#19bfb6 51.5px,#1bc0b4 54.4px,#1bc0b4 57.3px,#19bfb5 60.2px,#13beb8 63.1px,#0abdbd 66.0px,#02bac5 68.9px,#06b6ce 71.8px,#16aeda 74.7px,#21a3e3 77.6px,#2994ed 80.4px,#317efb 83.3px,#4561fc 86.2px,#26c2ad 86.7px)"></i>
<i style="top:25.11px;height:1.02px;background:linear-gradient(90deg,#26c2ad 4.2px,#307ffb 4.7px,#2d8bf4 7.6px,#2995ec 10.5px,#259de7 13.4px,#21a3e3 16.4px,#1da8e0 19.3px,#19acdc 22.2px,#14b0d8 25.2px,#0db3d3 28.1px,#06b5cf 31.0px,#02b7cb 34.0px,#01b9c7 36.9px,#02bbc3 39.8px,#07bcbf 42.8px,#0cbdbc 45.7px,#11beb9 48.6px,#16bfb7 51.6px,#18bfb6 54.5px,#18bfb6 57.4px,#16bfb7 60.4px,#10beba 63.3px,#07bcbf 66.2px,#01b9c7 69.2px,#08b4d1 72.1px,#19addc 75.0px,#23a1e5 78.0px,#2c90f0 80.9px,#3579fd 83.8px,#475bfa 86.7px,#26c2ad 87.2px)"></i>
<i style="top:26.11px;height:1.02px;background:linear-gradient(90deg,#26c2ad 3.7px,#317efb 4.2px,#2d8af4 7.1px,#2994ed 10.1px,#259ce7 13.1px,#21a2e4 16.0px,#1ea8e0 19.0px,#1aacdd 22.0px,#15afd8 24.9px,#0eb2d4 27.9px,#07b5d0 30.9px,#03b7cc 33.8px,#01b8c8 36.8px,#02bac4 39.8px,#05bbc1 42.7px,#0abdbd 45.7px,#0fbebb 48.7px,#13beb9 51.6px,#15bfb7 54.6px,#15bfb7 57.6px,#13beb9 60.5px,#0dbdbc 63.5px,#05bbc1 66.5px,#01b8c9 69.4px,#0cb3d3 72.4px,#1babde 75.4px,#249ee6 78.3px,#2d8df2 81.3px,#3a74fe 84.3px,#4756f6 87.2px,#26c2ad 87.7px)"></i>
<i style="top:27.12px;height:1.02px;background:linear-gradient(90deg,#26c2ad 3.3px,#327dfc 3.7px,#2d89f5 6.7px,#2994ed 9.7px,#259ce7 12.7px,#22a2e4 15.7px,#1ea7e1 18.7px,#1aacdd 21.7px,#15afd9 24.7px,#10b2d5 27.7px,#09b4d1 30.7px,#04b6cd 33.7px,#01b8c9 36.7px,#01bac5 39.7px,#04bbc2 42.7px,#08bcbf 45.7px,#0cbdbc 48.7px,#10beba 51.7px,#13beb9 54.7px,#13beb9 57.7px,#10beba 60.7px,#0abdbd 63.7px,#02bbc3 66.7px,#02b7cb 69.7px,#10b2d5 72.7px,#1da9e0 75.7px,#259ce7 78.7px,#2d89f5 81.7px,#3e6fff 84.7px,#4850f3 87.7px,#26c2ad 88.1px)"></i>
<i style="top:28.12px;height:1.02px;background:linear-gradient(90deg,#26c2ad 2.9px,#327cfc 3.3px,#2d88f6 6.2px,#2a92ee 9.2px,#269ae8 12.1px,#23a1e4 15.0px,#1fa6e2 17.9px,#1baade 20.9px,#17aeda 23.8px,#12b1d7 26.7px,#0cb3d3 29.6px,#06b5cf 32.5px,#02b7cb 35.5px,#01b9c8 38.4px,#02bac4 41.3px,#05bbc1 44.2px,#09bcbe 47.2px,#0cbdbc 50.1px,#0fbeba 53.0px,#11beba 55.9px,#10beba 58.9px,#0cbdbc 61.8px,#06bcc0 64.7px,#01b9c6 67.6px,#06b5ce 70.5px,#15afd9 73.5px,#1fa6e2 76.4px,#2798ea 79.3px,#2e85f8 82.2px,#426afe 85.2px,#484bef 88.1px,#26c2ad 88.5px)"></i>
<i style="top:29.13px;height:1.02px;background:linear-gradient(90deg,#26c2ad 2.5px,#337bfd 2.9px,#2d88f6 5.9px,#2b92ee 8.8px,#269ae8 11.8px,#23a1e5 14.7px,#1fa6e2 17.7px,#1baade 20.6px,#18aedb 23.6px,#13b1d7 26.5px,#0db3d3 29.5px,#07b5cf 32.4px,#03b7cc 35.4px,#01b8c8 38.3px,#02bac5 41.3px,#04bbc2 44.2px,#07bcbf 47.2px,#0bbdbd 50.1px,#0dbdbb 53.1px,#0fbebb 56.0px,#0ebdbb 59.0px,#0abdbd 61.9px,#04bbc1 64.9px,#01b9c8 67.8px,#07b5d0 70.8px,#17aeda 73.7px,#20a4e3 76.7px,#2895ec 79.6px,#2f81fa 82.6px,#4466fd 85.5px,#4746eb 88.5px,#26c2ad 88.9px)"></i>
<i style="top:30.13px;height:1.02px;background:linear-gradient(90deg,#26c2ad 2.1px,#347afd 2.6px,#2d87f7 5.5px,#2b92ee 8.5px,#269ae8 11.5px,#23a0e5 14.5px,#1fa6e2 17.4px,#1caadf 20.4px,#18aedb 23.4px,#13b0d7 26.4px,#0db3d3 29.3px,#07b5d0 32.3px,#04b6cc 35.3px,#01b8c9 38.3px,#01b9c6 41.2px,#03bbc3 44.2px,#06bcc0 47.2px,#0abdbe 50.2px,#0cbdbc 53.1px,#0dbdbb 56.1px,#0cbdbc 59.1px,#09bcbe 62.1px,#03bbc2 65.0px,#01b8c9 68.0px,#0ab4d1 71.0px,#19addc 74.0px,#22a2e4 76.9px,#2a93ed 79.9px,#307efb 82.9px,#4562fc 85.9px,#4742e6 88.8px,#26c2ad 89.3px)"></i>
<i style="top:31.14px;height:1.02px;background:linear-gradient(90deg,#26c2ad 1.8px,#3479fd 2.2px,#2e87f7 5.2px,#2b92ef 8.2px,#269ae9 11.2px,#23a0e5 14.2px,#1fa6e2 17.2px,#1caadf 20.2px,#18addb 23.2px,#13b0d7 26.2px,#0eb3d4 29.2px,#08b5d0 32.2px,#04b6cd 35.2px,#01b8c9 38.2px,#01b9c6 41.2px,#02bbc3 44.2px,#06bcc0 47.2px,#09bcbe 50.2px,#0bbdbd 53.2px,#0cbdbc 56.2px,#0bbdbd 59.2px,#07bcbf 62.2px,#02bac3 65.2px,#01b8ca 68.2px,#0cb3d3 71.2px,#1aacdd 74.2px,#23a1e4 77.2px,#2b91ef 80.2px,#327bfc 83.2px,#465efb 86.2px,#463de0 89.2px,#26c2ad 89.6px)"></i>
<i style="top:32.14px;height:1.02px;background:linear-gradient(90deg,#26c2ad 1.5px,#3579fd 1.9px,#2e86f7 4.8px,#2b91ef 7.7px,#2699e9 10.7px,#23a0e5 13.6px,#20a5e2 16.5px,#1ca9df 19.4px,#19addc 22.3px,#14b0d8 25.3px,#0fb2d5 28.2px,#0ab4d1 31.1px,#05b6ce 34.0px,#02b7cb 36.9px,#01b9c8 39.9px,#02bac5 42.8px,#03bbc2 45.7px,#07bcc0 48.6px,#09bcbe 51.5px,#0bbdbd 54.5px,#0bbdbd 57.4px,#09bcbe 60.3px,#05bbc1 63.2px,#01b9c6 66.1px,#04b6cd 69.1px,#11b1d6 72.0px,#1ca9df 74.9px,#249ee6 77.8px,#2d8df2 80.7px,#3777fe 83.7px,#475af9 86.6px,#463ada 89.5px,#26c2ad 89.9px)"></i>
<i style="top:33.15px;height:1.02px;background:linear-gradient(90deg,#26c2ad 1.2px,#3578fd 1.6px,#2e86f7 4.6px,#2b91ef 7.5px,#2699e9 10.4px,#23a0e5 13.4px,#1fa5e2 16.3px,#1ca9df 19.3px,#19addc 22.2px,#14b0d8 25.1px,#0fb2d5 28.1px,#0ab4d1 31.0px,#05b6ce 33.9px,#02b7cb 36.9px,#01b9c8 39.8px,#02bac5 42.8px,#03bbc2 45.7px,#06bcc0 48.6px,#09bcbe 51.6px,#0abdbd 54.5px,#0abdbd 57.5px,#08bcbe 60.4px,#04bbc1 63.3px,#01b9c6 66.3px,#05b6ce 69.2px,#12b1d7 72.1px,#1da8e0 75.1px,#259ce7 78.0px,#2d8bf3 81.0px,#3a74fe 83.9px,#4757f7 86.8px,#4536d4 89.8px,#26c2ad 90.2px)"></i>
<i style="top:34.15px;height:1.02px;background:linear-gradient(90deg,#26c2ad 0.9px,#3678fd 1.4px,#2e86f7 4.3px,#2b91ef 7.3px,#2699e9 10.2px,#23a0e5 13.2px,#1fa5e2 16.1px,#1caadf 19.1px,#19addc 22.0px,#14b0d8 25.0px,#0fb2d4 28.0px,#09b4d1 30.9px,#05b6ce 33.9px,#02b7cb 36.8px,#01b9c8 39.8px,#02bac5 42.7px,#03bbc2 45.7px,#07bcc0 48.7px,#09bcbe 51.6px,#0abdbd 54.6px,#0abdbd 57.5px,#08bcbf 60.5px,#04bbc2 63.4px,#01b9c7 66.4px,#05b6ce 69.4px,#13b0d7 72.3px,#1ea8e1 75.3px,#259be8 78.2px,#2d8af5 81.2px,#3c71ff 84.1px,#4854f5 87.1px,#4434ce 90.0px,#26c2ad 90.5px)"></i>
<i style="top:35.15px;height:1.02px;background:linear-gradient(90deg,#26c2ad 0.7px,#3678fe 1.1px,#2e86f7 4.1px,#2b91ef 7.1px,#269ae9 10.0px,#23a0e5 13.0px,#1fa6e2 16.0px,#1caadf 19.0px,#18addb 21.9px,#13b0d8 24.9px,#0eb2d4 27.9px,#09b4d1 30.8px,#05b6cd 33.8px,#01b7ca 36.8px,#01b9c7 39.8px,#02bac4 42.7px,#04bbc2 45.7px,#07bcc0 48.7px,#09bcbe 51.6px,#0abdbd 54.6px,#0abdbd 57.6px,#08bcbf 60.6px,#04bbc2 63.5px,#01b9c7 66.5px,#06b5cf 69.5px,#14b0d8 72.4px,#1ea7e1 75.4px,#269ae8 78.4px,#2d88f6 81.4px,#3e6fff 84.3px,#4851f3 87.3px,#4331c7 90.3px,#26c2ad 90.7px)"></i>
<i style="top:36.16px;height:1.02px;background:linear-gradient(90deg,#26c2ad 0.5px,#3678fe 0.9px,#2e86f7 3.9px,#2b91ef 6.9px,#269ae9 9.9px,#23a1e4 12.8px,#1fa6e2 15.8px,#1baade 18.8px,#18aedb 21.8px,#13b0d7 24.8px,#0db3d3 27.8px,#08b5d0 30.8px,#04b6cd 33.8px,#01b8ca 36.7px,#01b9c7 39.7px,#02bac4 42.7px,#04bbc1 45.7px,#07bcbf 48.7px,#0abdbe 51.7px,#0bbdbd 54.7px,#0abdbd 57.6px,#08bcbf 60.6px,#04bbc2 63.6px,#01b9c7 66.6px,#06b5cf 69.6px,#15afd8 72.6px,#1fa6e1 75.6px,#2699e9 78.6px,#2e87f7 81.5px,#406dfe 84.5px,#484ff2 87.5px,#422fc1 90.5px,#26c2ad 90.9px)"></i>
<i style="top:37.16px;height:1.02px;background:linear-gradient(90deg,#26c2ad 0.3px,#3678fe 0.7px,#2e86f7 3.7px,#2b92ee 6.7px,#269ae8 9.7px,#22a1e4 12.7px,#1ea7e1 15.7px,#1babde 18.7px,#17aeda 21.7px,#12b1d6 24.7px,#0cb3d3 27.7px,#07b5cf 30.7px,#03b7cc 33.7px,#01b8c9 36.7px,#01b9c6 39.7px,#02bac3 42.7px,#05bbc1 45.7px,#08bcbf 48.7px,#0abdbd 51.7px,#0cbdbc 54.7px,#0bbdbd 57.7px,#09bcbe 60.7px,#04bbc2 63.7px,#01b9c7 66.7px,#06b5cf 69.7px,#15afd9 72.7px,#1fa6e2 75.7px,#2698ea 78.7px,#2e86f7 81.7px,#416bfe 84.7px,#484df0 87.7px,#412dbc 90.7px,#26c2ad 91.1px)"></i>
<i style="top:38.17px;height:1.02px;background:linear-gradient(90deg,#26c2ad 0.1px,#3678fe 0.5px,#2e86f7 3.5px,#2b91ef 6.4px,#269ae8 9.3px,#23a1e4 12.2px,#1ea6e1 15.1px,#1babde 18.0px,#17aeda 20.9px,#12b1d6 23.9px,#0cb3d3 26.8px,#07b5d0 29.7px,#04b6cc 32.6px,#01b8c9 35.5px,#01b9c6 38.4px,#02bac4 41.3px,#05bbc1 44.2px,#08bcbf 47.2px,#0abdbd 50.1px,#0dbdbc 53.0px,#0dbdbb 55.9px,#0bbdbc 58.8px,#08bcbf 61.7px,#03bbc3 64.6px,#01b8c9 67.5px,#09b4d1 70.5px,#18aedb 73.4px,#21a4e3 76.3px,#2896ec 79.2px,#2e83f9 82.1px,#4368fe 85.0px,#484aee 87.9px,#402bb7 90.9px,#26c2ad 91.3px)"></i>
<i style="top:39.17px;height:1.02px;background:linear-gradient(90deg,#26c2ad 0.0px,#3678fd 0.4px,#2e87f7 3.3px,#2b92ee 6.2px,#259be8 9.2px,#22a2e4 12.1px,#1ea7e1 15.0px,#1aabdd 17.9px,#16afd9 20.9px,#11b1d6 23.8px,#0ab4d2 26.7px,#06b5ce 29.6px,#02b7cb 32.5px,#01b8c8 35.5px,#01bac5 38.4px,#03bbc2 41.3px,#06bcc0 44.2px,#09bdbe 47.2px,#0cbdbc 50.1px,#0ebebb 53.0px,#0fbebb 55.9px,#0dbdbc 58.9px,#09bcbe 61.8px,#03bbc2 64.7px,#01b8c8 67.6px,#09b4d1 70.5px,#18aedb 73.5px,#21a4e3 76.4px,#2895ec 79.3px,#2f82fa 82.2px,#4367fd 85.2px,#4848ec 88.1px,#402ab3 91.0px,#26c2ad 91.4px)"></i>
<i style="top:40.18px;height:1.02px;background:linear-gradient(90deg,#26c2ad 0.0px,#3578fd 0.3px,#2e87f7 3.2px,#2a93ee 6.1px,#259be7 9.1px,#21a2e4 12.0px,#1da8e0 14.9px,#19acdc 17.9px,#14b0d8 20.8px,#0fb2d4 23.7px,#08b4d1 26.7px,#04b6cd 29.6px,#01b8ca 32.5px,#01b9c7 35.4px,#02bac4 38.4px,#05bbc1 41.3px,#08bcbf 44.2px,#0bbdbc 47.2px,#0fbebb 50.1px,#11beba 53.0px,#11beb9 56.0px,#0fbeba 58.9px,#0abdbd 61.8px,#04bbc1 64.7px,#01b9c8 67.7px,#08b4d0 70.6px,#17aedb 73.5px,#21a4e3 76.5px,#2895ec 79.4px,#2f81fa 82.3px,#4466fd 85.3px,#4747eb 88.2px,#3f28af 91.1px,#26c2ad 91.4px)"></i>
<i style="top:41.18px;height:1.02px;background:linear-gradient(90deg,#26c2ad 0.0px,#3579fd 0.2px,#2d88f6 3.1px,#2a93ed 6.1px,#259ce7 9.0px,#21a3e3 11.9px,#1da9e0 14.9px,#19addc 17.8px,#13b0d7 20.7px,#0cb3d3 23.7px,#07b5cf 26.6px,#03b7cc 29.5px,#01b8c8 32.5px,#01bac5 35.4px,#03bbc2 38.4px,#07bcc0 41.3px,#0abdbd 44.2px,#0ebebb 47.2px,#12beb9 50.1px,#14beb8 53.0px,#14beb8 56.0px,#12beb9 58.9px,#0cbdbc 61.9px,#06bcc0 64.8px,#01b9c7 67.7px,#07b5d0 70.7px,#17aeda 73.6px,#21a4e3 76.5px,#2895ec 79.5px,#2f81fa 82.4px,#4465fd 85.3px,#4746ea 88.3px,#3e27ac 91.2px,#26c2ad 91.4px)"></i>
<i style="top:42.18px;height:1.02px;background:linear-gradient(90deg,#26c2ad 0.0px,#3479fd 0.1px,#2d88f6 3.0px,#2994ed 6.0px,#249de7 8.9px,#20a4e3 11.9px,#1caadf 14.8px,#17aeda 17.8px,#11b1d6 20.7px,#0ab4d1 23.6px,#05b6ce 26.6px,#01b8ca 29.5px,#01b9c7 32.5px,#02bac4 35.4px,#06bcc1 38.3px,#09bdbe 41.3px,#0ebdbb 44.2px,#12beb9 47.2px,#15bfb7 50.1px,#17bfb6 53.1px,#17bfb6 56.0px,#15bfb8 58.9px,#0fbeba 61.9px,#08bcbf 64.8px,#01b9c6 67.8px,#06b5cf 70.7px,#16aeda 73.6px,#20a4e3 76.6px,#2895ec 79.5px,#2f81fa 82.5px,#4465fd 85.4px,#4745e9 88.4px,#3e27a9 91.3px,#26c2ad 91.4px)"></i>
<i style="top:43.19px;height:1.02px;background:linear-gradient(90deg,#347afd 0.0px,#2d89f5 3.0px,#2895ec 5.9px,#249ee6 8.9px,#1fa5e2 11.8px,#1babde 14.8px,#15afd9 17.7px,#0fb2d4 20.7px,#07b5d0 23.6px,#03b7cc 26.6px,#01b8c8 29.5px,#02bac5 32.4px,#04bbc1 35.4px,#08bcbe 38.3px,#0dbdbc 41.3px,#12beb9 44.2px,#16bfb7 47.2px,#19bfb5 50.1px,#1ac0b4 53.1px,#1ac0b5 56.0px,#18bfb6 59.0px,#12beb9 61.9px,#0abdbe 64.8px,#02bac5 67.8px,#05b6ce 70.7px,#15afd9 73.7px,#20a4e3 76.6px,#2896ec 79.6px,#2f81fa 82.5px,#4465fd 85.5px,#4744e9 88.4px,#3e26a8 91.4px)"></i>
<i style="top:44.19px;height:1.02px;background:linear-gradient(90deg,#337bfc 0.0px,#2d8af4 3.0px,#2896eb 5.9px,#249fe5 8.9px,#1fa6e1 11.8px,#1aacdd 14.7px,#14b0d8 17.7px,#0cb3d3 20.6px,#05b6ce 23.6px,#01b8ca 26.5px,#01b9c6 29.5px,#03bbc3 32.4px,#07bcbf 35.4px,#0cbdbc 38.3px,#11beb9 41.3px,#16bfb7 44.2px,#1ac0b5 47.2px,#1cc0b3 50.1px,#1ec0b2 53.1px,#1dc0b2 56.0px,#1bc0b4 59.0px,#16bfb7 61.9px,#0cbdbc 64.9px,#02bbc3 67.8px,#04b6cd 70.8px,#14b0d8 73.7px,#20a5e2 76.7px,#2896eb 79.6px,#2f81fa 82.5px,#4465fd 85.5px,#4744e8 88.4px,#3e26a8 91.4px)"></i>
<i style="top:45.20px;height:1.02px;background:linear-gradient(90deg,#327cfc 0.0px,#2d8bf4 2.9px,#2797eb 5.9px,#23a0e5 8.8px,#1ea7e1 11.8px,#19addc 14.7px,#12b1d6 17.7px,#08b4d1 20.6px,#03b7cc 23.6px,#01b9c8 26.5px,#02bac4 29.5px,#06bcc0 32.4px,#0bbdbd 35.4px,#11beba 38.3px,#16bfb7 41.3px,#1bc0b4 44.2px,#1ec0b2 47.2px,#20c1b1 50.1px,#22c1b0 53.1px,#21c1b0 56.0px,#1fc0b2 59.0px,#1abfb5 61.9px,#10beba 64.9px,#04bbc1 67.8px,#02b7cb 70.8px,#13b0d7 73.7px,#1fa6e2 76.7px,#2797eb 79.6px,#2f82fa 82.6px,#4465fd 85.5px,#4744e8 88.5px,#3e26a8 91.4px)"></i>
<i style="top:46.20px;height:1.02px;background:linear-gradient(90deg,#317dfc 0.0px,#2d8cf3 3.0px,#2798ea 5.9px,#22a1e4 8.9px,#1da9e0 11.8px,#17aeda 14.7px,#0eb2d4 17.7px,#06b5cf 20.6px,#01b8ca 23.6px,#01bac5 26.5px,#05bbc1 29.5px,#0abdbd 32.4px,#10beba 35.4px,#16bfb7 38.3px,#1bc0b4 41.3px,#1fc0b2 44.2px,#22c1af 47.2px,#24c2ae 50.1px,#25c2ad 53.1px,#25c2ae 56.0px,#23c1af 59.0px,#1dc0b3 61.9px,#14beb8 64.9px,#07bcc0 67.8px,#01b8ca 70.8px,#11b1d6 73.7px,#1ea7e1 76.7px,#2798ea 79.6px,#2e83f9 82.5px,#4466fd 85.5px,#4745e9 88.4px,#3e26a8 91.4px)"></i>
<i style="top:47.21px;height:1.02px;background:linear-gradient(90deg,#317efb 0.0px,#2d8df2 3.0px,#2699e9 5.9px,#21a3e4 8.9px,#1caadf 11.8px,#15afd8 14.8px,#0bb3d2 17.7px,#03b7cc 20.7px,#01b9c7 23.6px,#03bbc2 26.6px,#09bcbe 29.5px,#0fbebb 32.4px,#16bfb7 35.4px,#1bc0b4 38.3px,#20c1b1 41.3px,#24c1af 44.2px,#26c2ac 47.2px,#28c2ab 50.1px,#28c3aa 53.1px,#28c2ab 56.0px,#26c2ad 59.0px,#21c1b0 61.9px,#19bfb6 64.8px,#0abdbd 67.8px,#01b9c8 70.7px,#0fb2d4 73.7px,#1da8e0 76.6px,#2699ea 79.6px,#2e84f9 82.5px,#4367fd 85.5px,#4745ea 88.4px,#3e26a8 91.4px)"></i>
<i style="top:48.21px;height:1.02px;background:linear-gradient(90deg,#26c2ad 0.0px,#307ffb 0.1px,#2c8ff1 3.0px,#269be8 6.0px,#20a4e3 8.9px,#1aabdd 11.9px,#12b1d7 14.8px,#07b5d0 17.8px,#01b8ca 20.7px,#02bac4 23.6px,#07bcc0 26.6px,#0dbdbb 29.5px,#15bfb7 32.5px,#1bc0b4 35.4px,#20c1b1 38.3px,#25c2ae 41.3px,#27c2ab 44.2px,#2ac3a9 47.2px,#2bc3a8 50.1px,#2cc4a7 53.1px,#2bc3a8 56.0px,#29c3aa 58.9px,#25c2ad 61.9px,#1dc0b3 64.8px,#0ebdbb 67.8px,#01b9c6 70.7px,#0cb3d3 73.6px,#1ca9e0 76.6px,#269ae9 79.5px,#2e85f8 82.5px,#4368fd 85.4px,#4746eb 88.4px,#3e27aa 91.3px,#26c2ad 91.4px)"></i>
<i style="top:49.22px;height:1.02px;background:linear-gradient(90deg,#26c2ad 0.0px,#2f81fa 0.2px,#2c90f0 3.1px,#259ce7 6.1px,#1fa6e2 9.0px,#19addc 11.9px,#0fb2d4 14.9px,#05b6cd 17.8px,#01b9c7 20.7px,#04bbc1 23.7px,#0bbdbd 26.6px,#14beb8 29.5px,#1bc0b4 32.5px,#21c1b0 35.4px,#25c2ad 38.4px,#29c3aa 41.3px,#2bc3a8 44.2px,#2dc4a5 47.2px,#2ec4a4 50.1px,#2ec5a4 53.0px,#2ec4a4 56.0px,#2cc4a6 58.9px,#28c3aa 61.9px,#21c1b0 64.8px,#13beb8 67.7px,#02bac3 70.7px,#08b4d1 73.6px,#1baade 76.5px,#259be8 79.5px,#2e86f7 82.4px,#4269fe 85.3px,#4848ec 88.3px,#3e28ac 91.2px,#26c2ad 91.4px)"></i>
<i style="top:50.22px;height:1.02px;background:linear-gradient(90deg,#26c2ad 0.0px,#2f82fa 0.3px,#2b91ef 3.2px,#249de6 6.1px,#1ea7e1 9.1px,#17aeda 12.0px,#0bb3d2 14.9px,#02b7cb 17.9px,#02bac4 20.8px,#09bcbe 23.7px,#11beb9 26.7px,#1ac0b5 29.6px,#21c1b1 32.5px,#26c2ad 35.4px,#29c3a9 38.4px,#2cc4a6 41.3px,#2ec5a4 44.2px,#30c5a2 47.2px,#31c6a0 50.1px,#31c6a0 53.0px,#31c6a1 56.0px,#2fc5a3 58.9px,#2cc4a7 61.8px,#25c2ad 64.7px,#19bfb6 67.7px,#05bbc1 70.6px,#06b6ce 73.5px,#1aacdd 76.5px,#259de7 79.4px,#2d88f6 82.3px,#416bfe 85.3px,#4849ed 88.2px,#3f29b0 91.1px,#26c2ad 91.4px)"></i>
<i style="top:51.22px;height:1.02px;background:linear-gradient(90deg,#26c2ad 0.0px,#2e84f9 0.4px,#2a93ee 3.3px,#249fe5 6.2px,#1da9e0 9.2px,#14b0d8 12.1px,#07b5d0 15.0px,#01b8c8 17.9px,#05bbc1 20.9px,#0ebdbb 23.8px,#18bfb6 26.7px,#20c1b1 29.6px,#26c2ad 32.5px,#2ac3a9 35.5px,#2dc4a5 38.4px,#2fc5a2 41.3px,#31c69f 44.2px,#33c69d 47.2px,#34c79c 50.1px,#34c79b 53.0px,#34c79c 55.9px,#32c69f 58.9px,#2fc5a3 61.8px,#29c3aa 64.7px,#1ec0b2 67.6px,#09bdbe 70.5px,#03b7cc 73.5px,#18addb 76.4px,#249ee6 79.3px,#2d8af4 82.2px,#406dfe 85.2px,#484bef 88.1px,#402ab4 91.0px,#26c2ad 91.4px)"></i>
<i style="top:52.23px;height:1.02px;background:linear-gradient(90deg,#26c2ad 0.1px,#2e85f8 0.5px,#2995ec 3.5px,#23a1e4 6.4px,#1baade 9.3px,#11b1d6 12.2px,#04b6cd 15.1px,#02bac5 18.0px,#09bdbe 20.9px,#15bfb8 23.9px,#1ec0b2 26.8px,#25c2ad 29.7px,#2ac3a9 32.6px,#2ec4a5 35.5px,#30c5a1 38.4px,#33c69d 41.3px,#35c79b 44.2px,#36c898 47.2px,#37c897 50.1px,#37c897 53.0px,#37c898 55.9px,#35c79b 58.8px,#31c69f 61.7px,#2dc4a6 64.6px,#23c1af 67.5px,#0fbebb 70.5px,#01b8c9 73.4px,#15afd9 76.3px,#23a0e5 79.2px,#2d8cf3 82.1px,#3e6fff 85.0px,#484ef1 87.9px,#412cb9 90.9px,#26c2ad 91.3px)"></i>
<i style="top:53.23px;height:1.02px;background:linear-gradient(90deg,#26c2ad 0.3px,#2e87f7 0.7px,#2797eb 3.7px,#21a3e3 6.7px,#19addc 9.7px,#0bb3d2 12.7px,#01b8c9 15.7px,#06bcc0 18.7px,#13beb9 21.7px,#1ec0b2 24.7px,#26c2ac 27.7px,#2cc4a7 30.7px,#2fc5a3 33.7px,#32c69e 36.7px,#35c79a 39.7px,#37c897 42.7px,#3ac994 45.7px,#3bc992 48.7px,#3cc991 51.7px,#3bc992 54.7px,#39c994 57.7px,#36c899 60.7px,#31c6a0 63.7px,#2ac3a9 66.7px,#1bc0b4 69.7px,#02bbc3 72.7px,#0eb2d4 75.7px,#20a5e2 78.7px,#2b91ef 81.7px,#3974fe 84.7px,#4851f4 87.7px,#412ebe 90.7px,#26c2ad 91.1px)"></i>
<i style="top:54.24px;height:1.02px;background:linear-gradient(90deg,#26c2ad 0.5px,#2d89f5 0.9px,#2699e9 3.9px,#20a5e2 6.9px,#16aeda 9.9px,#07b5cf 12.8px,#01bac5 15.8px,#0bbdbd 18.8px,#1abfb5 21.8px,#24c1ae 24.8px,#2bc3a8 27.8px,#2fc5a3 30.8px,#33c69e 33.8px,#36c799 36.7px,#39c895 39.7px,#3cc991 42.7px,#3fca8e 45.7px,#41ca8c 48.7px,#42ca8c 51.7px,#41ca8c 54.7px,#3eca8f 57.6px,#3ac994 60.6px,#34c79b 63.6px,#2ec4a5 66.6px,#20c1b1 69.6px,#07bcbf 72.6px,#09b4d1 75.6px,#1ea7e1 78.6px,#2a93ed 81.5px,#3677fe 84.5px,#4854f5 87.5px,#4230c4 90.5px,#26c2ad 90.9px)"></i>
<i style="top:55.24px;height:1.02px;background:linear-gradient(90deg,#26c2ad 0.7px,#2d8bf4 1.1px,#269be8 4.1px,#1ea7e1 7.1px,#13b0d7 10.0px,#04b6cc 13.0px,#03bbc2 16.0px,#12beb9 19.0px,#20c1b1 21.9px,#29c3aa 24.9px,#2ec5a4 27.9px,#33c69e 30.8px,#36c898 33.8px,#3ac993 36.8px,#3eca8f 39.8px,#42ca8b 42.7px,#46cb88 45.7px,#48cb86 48.7px,#49cb85 51.6px,#48cb86 54.6px,#44cb89 57.6px,#3fca8f 60.6px,#38c896 63.5px,#31c6a0 66.5px,#26c2ad 69.5px,#0cbdbc 72.4px,#05b6ce 75.4px,#1ca9df 78.4px,#2896ec 81.4px,#337bfc 84.3px,#4757f7 87.3px,#4332cb 90.3px,#26c2ad 90.7px)"></i>
<i style="top:56.25px;height:1.02px;background:linear-gradient(90deg,#26c2ad 0.9px,#2d8df2 1.4px,#259de7 4.3px,#1da9e0 7.3px,#10b2d5 10.2px,#01b8c9 13.2px,#08bcbf 16.1px,#19bfb5 19.1px,#26c2ad 22.0px,#2dc4a5 25.0px,#32c69f 28.0px,#36c898 30.9px,#3bc992 33.9px,#40ca8d 36.8px,#45cb88 39.8px,#4acb84 42.7px,#4ecc81 45.7px,#50cc7f 48.7px,#51cc7f 51.6px,#50cc80 54.6px,#4ccb83 57.5px,#45cb89 60.5px,#3dc991 63.4px,#34c79b 66.4px,#2ac3a8 69.4px,#14bfb8 72.3px,#01b8ca 75.3px,#1aacdd 78.2px,#2699e9 81.2px,#317efb 84.1px,#475bf9 87.1px,#4435d2 90.0px,#26c2ad 90.5px)"></i>
<i style="top:57.25px;height:1.02px;background:linear-gradient(90deg,#26c2ad 1.2px,#2c8ff0 1.6px,#249fe6 4.6px,#1babde 7.5px,#0bb4d2 10.4px,#01b9c6 13.4px,#0fbebb 16.3px,#20c1b1 19.3px,#2bc3a8 22.2px,#31c6a0 25.1px,#36c799 28.1px,#3bc992 31.0px,#41ca8c 33.9px,#48cb86 36.9px,#4ecc81 39.8px,#53cc7d 42.8px,#57cc7a 45.7px,#59cc78 48.6px,#5acc77 51.6px,#58cc79 54.5px,#54cc7c 57.5px,#4dcc82 60.4px,#43ca8b 63.3px,#38c896 66.3px,#2ec5a4 69.2px,#1cc0b4 72.1px,#01b9c6 75.1px,#17aeda 78.0px,#259ce7 81.0px,#2f82fa 83.9px,#465ffb 86.8px,#4539d9 89.8px,#26c2ad 90.2px)"></i>
<i style="top:58.25px;height:1.02px;background:linear-gradient(90deg,#26c2ad 1.5px,#2b92ee 1.9px,#22a1e4 4.8px,#19addc 7.7px,#06b5cf 10.7px,#03bbc2 13.6px,#16bfb7 16.5px,#26c2ad 19.4px,#2ec5a4 22.3px,#34c79b 25.3px,#3ac993 28.2px,#41ca8c 31.1px,#49cb85 34.0px,#51cc7f 36.9px,#57cc7a 39.9px,#5ccc75 42.8px,#60cd72 45.7px,#63cd70 48.6px,#63cd6f 51.5px,#61cd71 54.5px,#5dcc75 57.4px,#55cc7b 60.3px,#4acb84 63.2px,#3dc990 66.1px,#32c69f 69.1px,#23c1af 72.0px,#03bbc2 74.9px,#13b0d7 77.8px,#249fe6 80.7px,#2e86f7 83.7px,#4563fd 86.6px,#463ddf 89.5px,#26c2ad 89.9px)"></i>
<i style="top:59.26px;height:1.02px;background:linear-gradient(90deg,#26c2ad 1.8px,#2994ed 2.2px,#20a4e3 5.2px,#14b0d8 8.2px,#01b8ca 11.2px,#0bbdbd 14.2px,#20c1b1 17.2px,#2dc4a6 20.2px,#34c79c 23.2px,#3bc993 26.2px,#43ca8a 29.2px,#4dcb82 32.2px,#55cc7b 35.2px,#5dcc75 38.2px,#63cd6f 41.2px,#68cd6b 44.2px,#6ccd68 47.2px,#6dcd67 50.2px,#6dcd68 53.2px,#69cd6b 56.2px,#61cd71 59.2px,#57cc7a 62.2px,#48cb86 65.2px,#38c896 68.2px,#2cc4a7 71.2px,#10beba 74.2px,#08b5d0 77.2px,#20a4e3 80.2px,#2d8cf3 83.2px,#4269fe 86.2px,#4742e6 89.2px,#26c2ad 89.6px)"></i>
<i style="top:60.26px;height:1.02px;background:linear-gradient(90deg,#26c2ad 2.1px,#2797eb 2.6px,#1fa6e1 5.5px,#10b2d5 8.5px,#01b9c6 11.5px,#13beb9 14.5px,#26c2ac 17.4px,#30c5a1 20.4px,#38c896 23.4px,#41ca8c 26.4px,#4bcb83 29.3px,#56cc7b 32.3px,#5fcd73 35.3px,#67cd6c 38.3px,#6ecd67 41.2px,#73cd62 44.2px,#77cc60 47.2px,#79cc5f 50.2px,#77cc5f 53.1px,#73cd63 56.1px,#6bcd69 59.1px,#60cd72 62.1px,#50cc7f 65.0px,#3eca8f 68.0px,#30c5a1 71.0px,#19bfb5 74.0px,#03b7cc 76.9px,#1ea7e1 79.9px,#2c90f0 82.9px,#3f6eff 85.9px,#4747eb 88.8px,#26c2ad 89.3px)"></i>
<i style="top:61.27px;height:1.02px;background:linear-gradient(90deg,#26c2ad 2.5px,#269ae9 2.9px,#1da9e0 5.9px,#0ab4d2 8.8px,#03bbc2 11.8px,#1bc0b4 14.7px,#2bc3a8 17.7px,#34c79c 20.6px,#3dc990 23.6px,#49cb85 26.5px,#55cc7c 29.5px,#60cd72 32.4px,#69cd6a 35.4px,#72cd63 38.3px,#7acc5e 41.3px,#7fcc5a 44.2px,#83cc57 47.2px,#84cc56 50.1px,#83cc57 53.1px,#7ecc5a 56.0px,#76cc60 59.0px,#6acd6a 61.9px,#5acc78 64.9px,#45cb88 67.8px,#34c79c 70.8px,#21c1b0 73.7px,#01b9c7 76.7px,#1babde 79.6px,#2994ed 82.6px,#3a74fe 85.5px,#484df0 88.5px,#26c2ad 88.9px)"></i>
<i style="top:62.27px;height:1.02px;background:linear-gradient(90deg,#26c2ad 2.9px,#259de7 3.3px,#1aabdd 6.2px,#05b6ce 9.2px,#09bcbe 12.1px,#22c1b0 15.0px,#2fc5a2 17.9px,#38c896 20.9px,#44cb89 23.8px,#52cc7e 26.7px,#5fcd73 29.6px,#6acd6a 32.5px,#75cc61 35.5px,#7ecc5b 38.4px,#85cb55 41.3px,#8bcb51 44.2px,#8fcb4e 47.2px,#90ca4d 50.1px,#8ecb4e 53.0px,#8acb52 55.9px,#81cc58 58.9px,#74cc62 61.8px,#63cd70 64.7px,#4ecc81 67.6px,#39c895 70.5px,#28c3ab 73.5px,#04bbc2 76.4px,#17aeda 79.3px,#2698ea 82.2px,#347afd 85.2px,#4853f4 88.1px,#26c2ad 88.5px)"></i>
<i style="top:63.28px;height:1.02px;background:linear-gradient(90deg,#26c2ad 3.3px,#23a0e5 3.7px,#17aeda 6.7px,#01b8c9 9.7px,#14beb8 12.7px,#2ac3a9 15.7px,#35c79b 18.7px,#41ca8c 21.7px,#51cc7f 24.7px,#5fcd73 27.7px,#6dcd67 30.7px,#7acc5e 33.7px,#85cb56 36.7px,#8dcb4f 39.7px,#94ca4a 42.7px,#99c946 45.7px,#9bc944 48.7px,#9bc945 51.7px,#97ca47 54.7px,#90ca4d 57.7px,#85cb56 60.7px,#73cd62 63.7px,#5ecc74 66.7px,#44cb8a 69.7px,#30c5a1 72.7px,#12beb9 75.7px,#0cb3d3 78.7px,#249fe6 81.7px,#2f81fa 84.7px,#4759f8 87.7px,#26c2ad 88.1px)"></i>
<i style="top:64.28px;height:1.02px;background:linear-gradient(90deg,#26c2ad 3.7px,#21a3e3 4.2px,#12b1d7 7.1px,#02bac5 10.1px,#1cc0b3 13.1px,#2ec5a4 16.0px,#39c994 19.0px,#49cb85 22.0px,#5acc77 24.9px,#6acd6a 27.9px,#79cc5e 30.9px,#86cb55 33.8px,#91ca4d 36.8px,#99c946 39.8px,#a0c841 42.7px,#a5c83e 45.7px,#a7c73c 48.7px,#a6c73c 51.6px,#a3c83f 54.6px,#9cc944 57.6px,#90ca4d 60.5px,#7fcc5a 63.5px,#68cd6b 66.5px,#4dcc82 69.4px,#35c79a 72.4px,#1dc0b3 75.4px,#05b6cd 78.3px,#21a3e3 81.3px,#2e87f7 84.3px,#4660fb 87.2px,#26c2ad 87.7px)"></i>
<i style="top:65.29px;height:1.02px;background:linear-gradient(90deg,#26c2ad 4.2px,#1fa6e2 4.7px,#0cb3d3 7.6px,#06bcc0 10.5px,#24c1af 13.4px,#32c69e 16.4px,#3fca8e 19.3px,#52cc7e 22.2px,#64cd6f 25.2px,#75cc61 28.1px,#85cb56 31.0px,#92ca4c 34.0px,#9dc943 36.9px,#a5c83d 39.8px,#acc739 42.8px,#b0c636 45.7px,#b2c535 48.6px,#b2c635 51.6px,#aec637 54.5px,#a7c73c 57.4px,#9cc944 60.4px,#8bcb51 63.3px,#74cd62 66.2px,#58cc79 69.2px,#3bc993 72.1px,#26c2ac 75.0px,#01b9c7 78.0px,#1da8e0 80.9px,#2d8df2 83.8px,#4367fd 86.7px,#26c2ad 87.2px)"></i>
<i style="top:66.29px;height:1.02px;background:linear-gradient(90deg,#26c2ad 4.7px,#1ca9df 5.2px,#05b6ce 8.1px,#0ebdbb 11.0px,#29c3a9 13.8px,#36c898 16.7px,#47cb87 19.6px,#5ccc76 22.5px,#6fcd66 25.4px,#81cc58 28.3px,#91ca4c 31.2px,#9ec942 34.1px,#a8c73b 37.0px,#b1c635 39.9px,#b7c532 42.8px,#bbc42f 45.7px,#bdc32e 48.6px,#bdc32f 51.5px,#b9c430 54.4px,#b2c535 57.3px,#a7c73c 60.2px,#97ca48 63.1px,#80cc59 66.0px,#63cd70 68.9px,#43ca8b 71.8px,#2dc4a6 74.7px,#05bbc1 77.6px,#19acdc 80.4px,#2a93ee 83.3px,#3e6fff 86.2px,#26c2ad 86.7px)"></i>
<i style="top:67.29px;height:1.02px;background:linear-gradient(90deg,#26c2ad 5.2px,#19addc 5.7px,#01b8c9 8.7px,#1ac0b5 11.6px,#30c5a2 14.6px,#3eca8f 17.5px,#55cc7c 20.5px,#6bcd69 23.5px,#80cc59 26.4px,#92ca4b 29.4px,#a1c840 32.4px,#aec637 35.3px,#b8c431 38.3px,#bfc32d 41.3px,#c4c22a 44.2px,#c7c129 47.2px,#c8c129 50.1px,#c6c22a 53.1px,#c0c32d 56.1px,#b7c532 59.0px,#a8c73b 62.0px,#93ca4b 65.0px,#76cc61 67.9px,#54cc7d 70.9px,#35c79a 73.9px,#16bfb7 76.8px,#0fb2d5 79.8px,#269ae8 82.7px,#3678fe 85.7px,#26c2ad 86.2px)"></i>
<i style="top:68.30px;height:1.02px;background:linear-gradient(90deg,#26c2ad 5.8px,#14b0d8 6.3px,#02bac3 9.2px,#23c1af 12.1px,#34c79b 15.0px,#47cb87 18.0px,#5fcd73 20.9px,#76cc60 23.8px,#8ccb50 26.7px,#9ec942 29.6px,#adc638 32.6px,#b9c430 35.5px,#c3c22b 38.4px,#cac129 41.3px,#cfc028 44.2px,#d2bf27 47.2px,#d2bf27 50.1px,#d0bf27 53.0px,#cbc129 55.9px,#c1c32c 58.8px,#b3c534 61.8px,#9fc942 64.7px,#83cc57 67.6px,#60cd73 70.5px,#3cc991 73.4px,#22c1af 76.4px,#05b6ce 79.3px,#23a0e5 82.2px,#2f80fa 85.1px,#26c2ad 85.6px)"></i>
<i style="top:69.30px;height:1.02px;background:linear-gradient(90deg,#26c2ad 6.4px,#0cb3d3 6.9px,#0abdbd 9.9px,#2bc3a8 12.8px,#3cc992 15.8px,#55cc7c 18.8px,#6fcd66 21.8px,#88cb53 24.8px,#9dc943 27.8px,#afc637 30.8px,#bdc42f 33.8px,#c8c129 36.7px,#d0bf27 39.7px,#d6be28 42.7px,#dabd28 45.7px,#dcbd29 48.7px,#dbbd28 51.7px,#d7be28 54.7px,#cfc028 57.6px,#c3c22b 60.6px,#b1c635 63.6px,#97ca48 66.6px,#74cd62 69.6px,#4ccb83 72.6px,#2ec5a4 75.6px,#02bac4 78.6px,#1ea7e1 81.5px,#2d89f5 84.5px,#26c2ad 85.0px)"></i>
<i style="top:70.31px;height:1.02px;background:linear-gradient(90deg,#26c2ad 7.1px,#05b6ce 7.5px,#16bfb7 10.5px,#30c5a1 13.4px,#43ca8a 16.3px,#5fcd73 19.3px,#7bcc5d 22.2px,#94ca4a 25.1px,#a9c73b 28.1px,#bac430 31.0px,#c7c129 34.0px,#d2bf27 36.9px,#dabd28 39.8px,#e0bc2a 42.8px,#e3bc2c 45.7px,#e5bb2c 48.6px,#e4bb2c 51.6px,#e0bc2a 54.5px,#d9be28 57.4px,#cec028 60.4px,#bcc42f 63.3px,#a4c83e 66.3px,#82cc58 69.2px,#59cc79 72.1px,#34c79b 75.1px,#0dbdbb 78.0px,#18addb 80.9px,#2b91ef 83.9px,#26c2ad 84.3px)"></i>
<i style="top:71.31px;height:1.02px;background:linear-gradient(90deg,#26c2ad 7.7px,#01b9c7 8.2px,#21c1b1 11.1px,#35c79a 14.0px,#4dcc82 16.9px,#6bcd69 19.7px,#87cb54 22.6px,#a0c841 25.5px,#b4c533 28.4px,#c5c22a 31.3px,#d2bf27 34.2px,#dcbd29 37.0px,#e3bc2c 39.9px,#e8bb2f 42.8px,#ecba32 45.7px,#edba33 48.6px,#ecba32 51.5px,#e9bb2f 54.4px,#e2bc2b 57.2px,#d7be28 60.1px,#c8c129 63.0px,#b0c636 65.9px,#90ca4d 68.8px,#66cd6d 71.7px,#3cc991 74.5px,#1ec0b2 77.4px,#0db3d4 80.3px,#2699e9 83.2px,#26c2ad 83.7px)"></i>
<i style="top:72.32px;height:1.02px;background:linear-gradient(90deg,#26c2ad 8.5px,#05bbc1 8.9px,#2ac3a9 11.9px,#3dc990 14.8px,#5ccc76 17.7px,#7ccc5c 20.7px,#99c946 23.6px,#b1c635 26.6px,#c4c22b 29.5px,#d3bf27 32.5px,#dfbc2a 35.4px,#e8bb2e 38.3px,#eeba34 41.3px,#f2ba38 44.2px,#f4ba39 47.2px,#f4ba3a 50.1px,#f2ba38 53.1px,#edba33 56.0px,#e4bb2c 58.9px,#d7be28 61.9px,#c3c22b 64.8px,#a5c83d 67.8px,#7dcc5c 70.7px,#4ecc81 73.7px,#2cc4a6 76.6px,#01b8c9 79.5px,#22a2e4 82.5px,#26c2ad 82.9px)"></i>
<i style="top:73.32px;height:1.02px;background:linear-gradient(90deg,#26c2ad 9.2px,#11beb9 9.7px,#30c5a1 12.6px,#47cb87 15.4px,#68cd6b 18.3px,#89cb52 21.2px,#a5c83d 24.1px,#bcc42f 27.0px,#cfc028 29.9px,#ddbd29 32.7px,#e8bb2e 35.6px,#f0ba36 38.5px,#f5ba3b 41.4px,#f9bb3d 44.3px,#fabb3d 47.1px,#fabb3d 50.0px,#f9bb3d 52.9px,#f4ba3a 55.8px,#edba33 58.7px,#e0bc2b 61.5px,#cec028 64.4px,#b3c534 67.3px,#8dcb50 70.2px,#5dcc75 73.1px,#34c79c 76.0px,#08bcbf 78.8px,#1caadf 81.7px,#26c2ad 82.2px)"></i>
<i style="top:74.33px;height:1.02px;background:linear-gradient(90deg,#26c2ad 10.0px,#1fc0b2 10.5px,#37c898 13.4px,#56cc7b 16.4px,#7acc5e 19.3px,#9bc944 22.2px,#b6c532 25.2px,#ccc028 28.1px,#ddbd29 31.0px,#e9bb30 34.0px,#f2ba38 36.9px,#f9bb3d 39.8px,#fdbd3d 42.8px,#febe3c 45.7px,#febf3b 48.6px,#febe3c 51.6px,#fcbc3d 54.5px,#f7ba3c 57.4px,#edba33 60.4px,#ddbd29 63.3px,#c6c22a 66.2px,#a3c83f 69.2px,#74cc62 72.1px,#41ca8c 75.0px,#1ec0b2 78.0px,#12b1d6 80.9px,#26c2ad 81.4px)"></i>
<i style="top:75.33px;height:1.02px;background:linear-gradient(90deg,#26c2ad 10.9px,#2ac3a9 11.3px,#41ca8c 14.3px,#66cd6d 17.3px,#8dcb50 20.3px,#adc638 23.3px,#c7c12a 26.3px,#dbbd28 29.3px,#e9bb30 32.3px,#f4ba3a 35.2px,#fbbc3d 38.2px,#febf3b 41.2px,#fec239 44.2px,#fec438 47.2px,#fec438 50.2px,#fec239 53.2px,#febe3c 56.2px,#f8ba3d 59.1px,#ebba31 62.1px,#d7be28 65.1px,#b8c431 68.1px,#8dcb50 71.1px,#56cc7b 74.1px,#2ec4a5 77.1px,#02b7cb 80.1px,#26c2ad 80.5px)"></i>
<i style="top:76.33px;height:1.02px;background:linear-gradient(90deg,#26c2ad 11.8px,#31c6a0 12.2px,#4ecc81 15.2px,#75cc61 18.1px,#9bc945 21.0px,#bac430 23.9px,#d2bf27 26.8px,#e4bb2c 29.7px,#f1ba37 32.6px,#fabb3d 35.5px,#fec03b 38.4px,#fec438 41.3px,#fec735 44.2px,#fec934 47.2px,#fec834 50.1px,#fec736 53.0px,#fec339 55.9px,#fdbd3d 58.8px,#f3ba39 61.7px,#e2bc2b 64.6px,#c6c22a 67.5px,#9ec942 70.4px,#69cd6b 73.3px,#37c897 76.2px,#09bcbe 79.2px,#26c2ad 79.6px)"></i>
<i style="top:77.34px;height:1.02px;background:linear-gradient(90deg,#26c2ad 12.8px,#39c895 13.2px,#5ecd74 16.2px,#89cb53 19.1px,#adc638 22.1px,#cac129 25.0px,#e0bc2a 28.0px,#f0ba36 30.9px,#fbbc3d 33.9px,#fec13a 36.8px,#fec736 39.8px,#fdcb33 42.7px,#fdcd32 45.7px,#fdce31 48.7px,#fdcc32 51.6px,#fec934 54.6px,#fec438 57.5px,#fdbd3d 60.5px,#efba35 63.4px,#d9be28 66.4px,#b6c533 69.3px,#84cc57 72.3px,#49cb85 75.2px,#22c1b0 78.2px,#26c2ad 78.6px)"></i>
<i style="top:78.34px;height:1.02px;background:linear-gradient(90deg,#26c2ad 13.8px,#46cb88 14.2px,#71cd64 17.2px,#9cc944 20.2px,#bfc32d 23.2px,#d9bd28 26.2px,#edba33 29.2px,#fabb3d 32.2px,#fec239 35.2px,#fec835 38.2px,#fdcd31 41.2px,#fcd12f 44.2px,#fbd22f 47.2px,#fbd22f 50.2px,#fcd030 53.2px,#fdcb33 56.2px,#fec438 59.2px,#fbbc3d 62.2px,#e9bb2f 65.2px,#cbc129 68.2px,#9ec942 71.2px,#62cd71 74.2px,#31c6a0 77.2px,#26c2ad 77.6px)"></i>
<i style="top:79.35px;height:1.02px;background:linear-gradient(90deg,#26c2ad 14.9px,#57cc7a 15.3px,#84cc56 18.2px,#acc738 21.1px,#ccc028 24.0px,#e4bb2c 26.9px,#f5ba3a 29.8px,#febf3c 32.7px,#fec736 35.6px,#fdcd31 38.5px,#fbd22f 41.4px,#fad62d 44.3px,#f9d72c 47.1px,#f9d72c 50.0px,#fad52e 52.9px,#fcd030 55.8px,#fec934 58.7px,#fec03b 61.6px,#f2ba38 64.5px,#d9bd28 67.4px,#b2c535 70.3px,#7bcc5d 73.2px,#3fca8e 76.1px,#26c2ad 76.5px)"></i>
<i style="top:80.35px;height:1.02px;background:linear-gradient(90deg,#26c2ad 16.0px,#6bcd69 16.5px,#99c946 19.4px,#bfc32d 22.3px,#dcbd29 25.3px,#f0ba36 28.2px,#febd3c 31.1px,#fec636 34.0px,#fdce31 36.9px,#fad42e 39.9px,#f8d92c 42.8px,#f7db2a 45.7px,#f7dc2a 48.6px,#f7db2b 51.5px,#f9d72d 54.5px,#fcd130 57.4px,#fec835 60.3px,#fdbd3d 63.2px,#eaba31 66.1px,#c9c129 69.1px,#98c947 72.0px,#59cc78 74.9px,#26c2ad 75.4px)"></i>
<i style="top:81.36px;height:1.02px;background:linear-gradient(90deg,#26c2ad 17.3px,#82cc58 17.8px,#aec637 20.7px,#d1bf27 23.6px,#eaba31 26.6px,#fbbc3d 29.5px,#fec537 32.5px,#fdce31 35.4px,#fad52d 38.3px,#f7db2b 41.3px,#f6df29 44.2px,#f6e028 47.2px,#f6e028 50.1px,#f6dd29 53.1px,#f9d82c 56.0px,#fcd030 58.9px,#fec537 61.9px,#f8ba3d 64.8px,#debc2a 67.8px,#b4c534 70.7px,#78cc5f 73.6px,#26c2ad 74.1px)"></i>
<i style="top:82.36px;height:1.02px;background:linear-gradient(90deg,#26c2ad 18.7px,#9ac946 19.1px,#c3c22b 22.1px,#e1bc2b 25.0px,#f7ba3c 28.0px,#fec339 30.9px,#fdcd32 33.9px,#fad52d 36.8px,#f7dc2a 39.8px,#f5e128 42.7px,#f5e427 45.7px,#f5e526 48.7px,#f5e327 51.6px,#f6df29 54.6px,#f9d82c 57.5px,#fdce31 60.5px,#fec13a 63.4px,#f0ba36 66.4px,#cdc028 69.3px,#99c946 72.3px,#26c2ad 72.7px)"></i>
<i style="top:83.36px;height:1.02px;background:linear-gradient(90deg,#26c2ad 20.1px,#b1c635 20.6px,#d6be28 23.5px,#f0ba36 26.5px,#febf3b 29.4px,#fdcb33 32.4px,#fad52e 35.4px,#f7dd2a 38.3px,#f5e327 41.3px,#f5e725 44.2px,#f5e924 47.2px,#f5e825 50.1px,#f5e526 53.1px,#f6df29 56.0px,#f9d72d 59.0px,#fdcb33 62.0px,#fdbd3d 64.9px,#e4bb2c 67.9px,#b9c431 70.8px,#26c2ad 71.3px)"></i>
<i style="top:84.37px;height:1.02px;background:linear-gradient(90deg,#26c2ad 21.7px,#c9c129 22.2px,#e8bb2e 25.1px,#fcbc3d 28.0px,#fec835 31.0px,#fbd32e 33.9px,#f7dc2a 36.9px,#f5e427 39.8px,#f5e924 42.8px,#f5eb23 45.7px,#f5ec22 48.6px,#f5ea23 51.6px,#f5e626 54.5px,#f6df29 57.5px,#fad42e 60.4px,#fec736 63.4px,#f6ba3b 66.3px,#d5be28 69.2px,#26c2ad 69.7px)"></i>
<i style="top:85.37px;height:1.02px;background:linear-gradient(90deg,#26c2ad 23.5px,#debc2a 23.9px,#f7ba3c 26.8px,#fec537 29.7px,#fcd12f 32.6px,#f7db2a 35.5px,#f5e427 38.4px,#f5ea24 41.3px,#f5ee21 44.2px,#f6ef20 47.2px,#f5ef20 50.1px,#f5ec22 53.0px,#f5e626 55.9px,#f6dd29 58.8px,#fcd12f 61.7px,#fec239 64.6px,#edba33 67.5px,#26c2ad 67.9px)"></i>
<i style="top:86.38px;height:1.02px;background:linear-gradient(90deg,#26c2ad 25.4px,#f1ba37 25.9px,#fec139 28.7px,#fdce31 31.5px,#f8da2b 34.4px,#f5e327 37.2px,#f5ea24 40.0px,#f6ef20 42.9px,#f6f21e 45.7px,#f6f21d 48.5px,#f6f11f 51.4px,#f5ec22 54.2px,#f5e626 57.0px,#f7db2a 59.9px,#fdce31 62.7px,#febe3c 65.5px,#26c2ad 66.0px)"></i>
<i style="top:87.38px;height:1.02px;background:linear-gradient(90deg,#26c2ad 27.7px,#fec03b 28.1px,#fdce31 31.1px,#f8da2b 34.0px,#f5e426 36.9px,#f5ec22 39.8px,#f6f11e 42.8px,#f7f41c 45.7px,#f7f51b 48.6px,#f7f31d 51.6px,#f5ee21 54.5px,#f5e725 57.4px,#f7db2a 60.3px,#fdcc32 63.3px,#26c2ad 63.7px)"></i>
<i style="top:88.39px;height:1.02px;background:linear-gradient(90deg,#26c2ad 30.3px,#fdcd31 30.8px,#f7db2b 33.7px,#f5e626 36.7px,#f5ee21 39.7px,#f7f31c 42.7px,#f8f619 45.7px,#f8f719 48.7px,#f7f51b 51.7px,#f6f020 54.7px,#f5e825 57.7px,#f7db2a 60.6px,#26c2ad 61.1px)"></i>
<i style="top:89.39px;height:1.02px;background:linear-gradient(90deg,#26c2ad 33.6px,#f6dd29 34.1px,#f5e825 37.0px,#f6f020 39.9px,#f7f51b 42.8px,#f8f817 45.7px,#f8f917 48.6px,#f8f719 51.5px,#f6f21e 54.4px,#f5ea24 57.3px,#26c2ad 57.8px)"></i>
<i style="top:90.40px;height:1.02px;background:linear-gradient(90deg,#26c2ad 38.5px,#f5ef20 38.9px,#f7f51b 41.6px,#f8f917 44.3px,#f9fa15 47.1px,#f9fa16 49.8px,#f8f719 52.5px,#26c2ad 52.9px)"></i>
</div>
<div class="fr" style="left:220.2px;top:56.2px;width:91.4px;height:91.4px"></div>
<div class="cb" style="left:324.4px;top:56.2px;width:9.4px;height:91.6px;background:linear-gradient(180deg,#f9fb15 0.0%,#f5e327 6.2%,#feca33 12.5%,#f1ba37 18.8%,#c8c129 25.0%,#94ca4a 31.2%,#5ccc76 37.5%,#34c79c 43.8%,#12beb9 50.0%,#0cb3d3 56.2%,#21a3e3 62.5%,#2c90f0 68.8%,#347afd 75.0%,#4562fc 81.2%,#484cef 87.5%,#4536d5 93.8%,#3e26a8 100.0%)"></div>
<div class="pm" style="left:402.7px;top:56.2px;width:91.3px;height:91.4px;background:#08bcbf">
<i style="top:0.00px;height:1.02px;background:linear-gradient(90deg,#08bcbf 38.5px,#0abdbe 38.9px,#0cbdbc 41.6px,#0dbdbc 44.3px,#0bbdbd 47.0px,#08bcbf 49.7px,#03bbc3 52.4px,#08bcbf 52.8px)"></i>
<i style="top:1.00px;height:1.02px;background:linear-gradient(90deg,#08bcbf 33.6px,#03bbc3 34.0px,#08bcbf 36.9px,#0bbdbc 39.8px,#0ebdbb 42.7px,#0ebdbb 45.7px,#0bbdbd 48.6px,#06bcc0 51.5px,#02bac5 54.4px,#02b7cb 57.3px,#08bcbf 57.7px)"></i>
<i style="top:2.01px;height:1.02px;background:linear-gradient(90deg,#08bcbf 30.3px,#01b8c8 30.7px,#02bbc3 33.7px,#08bcbf 36.7px,#0cbdbc 39.7px,#0fbebb 42.7px,#0fbebb 45.7px,#0cbdbc 48.6px,#08bcbf 51.6px,#02bac4 54.6px,#01b7ca 57.6px,#0cb3d3 60.6px,#08bcbf 61.0px)"></i>
<i style="top:3.01px;height:1.02px;background:linear-gradient(90deg,#08bcbf 27.6px,#05b6ce 28.1px,#01b9c8 31.0px,#03bbc3 33.9px,#08bcbf 36.9px,#0cbdbc 39.8px,#0fbebb 42.7px,#0fbebb 45.7px,#0dbdbc 48.6px,#09bcbe 51.5px,#03bbc2 54.4px,#01b8c8 57.4px,#07b5d0 60.3px,#15afd9 63.2px,#08bcbf 63.7px)"></i>
<i style="top:4.02px;height:1.02px;background:linear-gradient(90deg,#08bcbf 25.4px,#0cb3d3 25.9px,#04b6cd 28.7px,#01b9c7 31.5px,#03bbc2 34.3px,#08bcbf 37.2px,#0bbdbc 40.0px,#0ebdbb 42.8px,#0fbebb 45.7px,#0dbdbb 48.5px,#0abdbe 51.3px,#05bbc1 54.1px,#01b9c6 57.0px,#04b6cd 59.8px,#11b1d6 62.6px,#1babde 65.4px,#08bcbf 65.9px)"></i>
<i style="top:5.02px;height:1.02px;background:linear-gradient(90deg,#08bcbf 23.4px,#14b0d8 23.9px,#09b4d1 26.8px,#02b7cb 29.7px,#01b9c6 32.6px,#04bbc1 35.5px,#09bcbe 38.4px,#0cbdbc 41.3px,#0ebdbb 44.2px,#0ebdbb 47.1px,#0bbdbd 50.0px,#07bcbf 52.9px,#02bac4 55.8px,#01b8c9 58.7px,#09b4d1 61.6px,#17aeda 64.5px,#1fa6e2 67.4px,#08bcbf 67.9px)"></i>
<i style="top:6.03px;height:1.02px;background:linear-gradient(90deg,#08bcbf 21.7px,#19acdc 22.1px,#10b2d5 25.1px,#06b5cf 28.0px,#01b8c9 31.0px,#02bac4 33.9px,#05bbc1 36.8px,#09bcbe 39.8px,#0bbdbc 42.7px,#0dbdbc 45.7px,#0cbdbc 48.6px,#09bcbe 51.5px,#05bbc1 54.5px,#01b9c6 57.4px,#04b6cd 60.3px,#10b2d5 63.3px,#1babde 66.2px,#23a1e4 69.2px,#08bcbf 69.6px)"></i>
<i style="top:7.03px;height:1.02px;background:linear-gradient(90deg,#08bcbf 20.1px,#1da9e0 20.5px,#16afd9 23.5px,#0cb3d3 26.5px,#04b6cd 29.4px,#01b9c8 32.4px,#02bac4 35.3px,#06bcc0 38.3px,#09bcbe 41.2px,#0bbdbd 44.2px,#0bbdbd 47.1px,#0abdbd 50.1px,#07bcc0 53.0px,#02bac3 56.0px,#01b8c9 58.9px,#07b5d0 61.9px,#15afd9 64.8px,#1ea7e1 67.8px,#259ce7 70.8px,#08bcbf 71.2px)"></i>
<i style="top:8.04px;height:1.02px;background:linear-gradient(90deg,#08bcbf 18.6px,#20a5e2 19.1px,#1aacdd 22.0px,#12b1d7 25.0px,#08b4d1 27.9px,#02b7cb 30.9px,#01b9c7 33.8px,#02bbc3 36.8px,#06bcc0 39.7px,#08bcbf 42.7px,#0abdbe 45.7px,#09bdbe 48.6px,#08bcbf 51.6px,#04bbc2 54.5px,#01b9c6 57.5px,#03b7cc 60.4px,#0db3d3 63.4px,#19addc 66.3px,#21a3e3 69.3px,#2797eb 72.2px,#08bcbf 72.7px)"></i>
<i style="top:9.04px;height:1.02px;background:linear-gradient(90deg,#08bcbf 17.3px,#23a1e4 17.7px,#1da8e0 20.7px,#17aeda 23.6px,#0fb2d4 26.5px,#06b5cf 29.5px,#01b8ca 32.4px,#01b9c6 35.4px,#02bbc3 38.3px,#05bbc1 41.2px,#07bcbf 44.2px,#08bcbf 47.1px,#08bcbf 50.1px,#05bbc1 53.0px,#02bac4 55.9px,#01b8c8 58.9px,#06b5cf 61.8px,#12b1d7 64.8px,#1caadf 67.7px,#23a0e5 70.6px,#2b92ee 73.6px,#08bcbf 74.0px)"></i>
<i style="top:10.04px;height:1.02px;background:linear-gradient(90deg,#08bcbf 16.0px,#249de7 16.5px,#20a5e2 19.4px,#1aabdd 22.3px,#14b0d8 25.2px,#0bb3d2 28.1px,#05b6ce 31.1px,#01b8c9 34.0px,#01b9c6 36.9px,#02bac3 39.8px,#04bbc1 42.7px,#06bcc0 45.7px,#06bcc0 48.6px,#05bbc1 51.5px,#03bbc3 54.4px,#01b9c6 57.3px,#02b7cb 60.2px,#0ab4d2 63.2px,#16afda 66.1px,#1ea7e1 69.0px,#259ce7 71.9px,#2d8df2 74.8px,#08bcbf 75.3px)"></i>
<i style="top:11.05px;height:1.02px;background:linear-gradient(90deg,#08bcbf 14.9px,#2699e9 15.3px,#22a1e4 18.2px,#1da8e0 21.1px,#18addb 24.0px,#11b1d6 26.9px,#09b4d1 29.8px,#04b6cd 32.6px,#01b8c9 35.5px,#01b9c6 38.4px,#02bac4 41.3px,#03bbc2 44.2px,#04bbc1 47.1px,#04bbc1 50.0px,#03bbc2 52.9px,#02bac5 55.8px,#01b8c8 58.7px,#05b6ce 61.5px,#0fb2d5 64.4px,#19acdc 67.3px,#21a3e3 70.2px,#2798ea 73.1px,#2d88f6 76.0px,#08bcbf 76.4px)"></i>
<i style="top:12.05px;height:1.02px;background:linear-gradient(90deg,#08bcbf 13.8px,#2895ec 14.2px,#249ee6 17.2px,#1fa6e2 20.2px,#1aabdd 23.2px,#14b0d8 26.2px,#0db3d3 29.2px,#06b5cf 32.2px,#02b7cb 35.2px,#01b8c8 38.2px,#01b9c6 41.2px,#02bac4 44.2px,#02bbc3 47.1px,#03bbc3 50.1px,#02bac4 53.1px,#01b9c6 56.1px,#01b8ca 59.1px,#06b5cf 62.1px,#12b1d6 65.1px,#1babde 68.1px,#22a1e4 71.1px,#2994ed 74.1px,#2f83f9 77.1px,#08bcbf 77.5px)"></i>
<i style="top:13.06px;height:1.02px;background:linear-gradient(90deg,#08bcbf 12.7px,#2b91ef 13.2px,#259be8 16.1px,#21a2e4 19.1px,#1da9e0 22.0px,#18addb 25.0px,#12b1d7 27.9px,#0bb3d2 30.9px,#06b5ce 33.8px,#02b7cb 36.8px,#01b8c8 39.7px,#01b9c6 42.7px,#02bac5 45.7px,#02bac4 48.6px,#02bac4 51.6px,#01bac5 54.5px,#01b8c8 57.5px,#03b7cc 60.4px,#0ab4d2 63.4px,#15afd9 66.3px,#1da8e0 69.3px,#249ee6 72.2px,#2c90f0 75.2px,#317dfc 78.1px,#08bcbf 78.6px)"></i>
<i style="top:14.06px;height:1.02px;background:linear-gradient(90deg,#08bcbf 11.8px,#2d8df2 12.2px,#2797ea 15.1px,#249fe5 18.0px,#1fa6e2 21.0px,#1babde 23.9px,#16aeda 26.8px,#11b1d6 29.7px,#0ab4d2 32.6px,#06b5ce 35.5px,#03b7cb 38.4px,#01b8c9 41.3px,#01b9c7 44.2px,#01b9c6 47.1px,#01bac5 50.0px,#01b9c6 52.9px,#01b9c7 55.8px,#01b8ca 58.7px,#06b5cf 61.6px,#0fb2d4 64.5px,#19addc 67.4px,#1fa5e2 70.3px,#269ae8 73.3px,#2d8cf3 76.2px,#3678fe 79.1px,#08bcbf 79.5px)"></i>
<i style="top:15.07px;height:1.02px;background:linear-gradient(90deg,#08bcbf 10.9px,#2d89f5 11.3px,#2994ed 14.3px,#259de7 17.3px,#21a3e3 20.3px,#1da9e0 23.3px,#19addc 26.3px,#14b0d8 29.2px,#0eb2d4 32.2px,#08b4d0 35.2px,#05b6cd 38.2px,#02b7cb 41.2px,#01b8c9 44.2px,#01b9c8 47.1px,#01b9c7 50.1px,#01b9c7 53.1px,#01b8c9 56.1px,#02b7cb 59.1px,#07b5d0 62.1px,#11b1d6 65.0px,#1aacdd 68.0px,#21a4e3 71.0px,#2798ea 74.0px,#2d88f6 77.0px,#3b72ff 80.0px,#08bcbf 80.4px)"></i>
<i style="top:16.07px;height:1.02px;background:linear-gradient(90deg,#08bcbf 10.0px,#2e85f8 10.5px,#2b91ef 13.4px,#2699e9 16.3px,#23a0e5 19.3px,#1fa6e2 22.2px,#1baade 25.1px,#17aedb 28.1px,#13b1d7 31.0px,#0db3d3 33.9px,#08b4d0 36.9px,#05b6ce 39.8px,#03b7cc 42.7px,#01b8ca 45.7px,#01b8c9 48.6px,#01b8c8 51.5px,#01b8c9 54.4px,#02b7ca 57.4px,#05b6cd 60.3px,#0bb3d2 63.2px,#14b0d8 66.2px,#1caadf 69.1px,#23a1e4 72.0px,#2995ec 75.0px,#2e84f8 77.9px,#406dfe 80.8px,#08bcbf 81.3px)"></i>
<i style="top:17.07px;height:1.02px;background:linear-gradient(90deg,#08bcbf 9.2px,#2f81fa 9.7px,#2d8df2 12.7px,#2797eb 15.7px,#249ee6 18.7px,#20a4e3 21.7px,#1da9e0 24.7px,#19acdc 27.7px,#15afd9 30.7px,#10b2d5 33.7px,#0bb3d2 36.7px,#07b5d0 39.7px,#05b6cd 42.7px,#03b7cc 45.7px,#01b7ca 48.6px,#01b8ca 51.6px,#01b8ca 54.6px,#03b7cc 57.6px,#06b5cf 60.6px,#0db3d3 63.6px,#16afd9 66.6px,#1da9e0 69.6px,#249fe5 72.6px,#2a92ee 75.6px,#2f80fa 78.6px,#4368fe 81.6px,#08bcbf 82.1px)"></i>
<i style="top:18.08px;height:1.02px;background:linear-gradient(90deg,#08bcbf 8.5px,#317dfc 8.9px,#2d8af5 11.8px,#2994ed 14.8px,#259be7 17.7px,#22a1e4 20.7px,#1fa6e1 23.6px,#1baadf 26.5px,#18addb 29.5px,#14b0d8 32.4px,#10b2d5 35.4px,#0cb3d2 38.3px,#08b5d0 41.2px,#05b6ce 44.2px,#04b6cc 47.1px,#02b7cb 50.1px,#02b7cb 53.0px,#03b7cc 55.9px,#05b6cd 58.9px,#09b4d1 61.8px,#11b1d6 64.8px,#19addc 67.7px,#1fa6e2 70.6px,#259ce7 73.6px,#2c8ff1 76.5px,#327cfc 79.5px,#4563fc 82.4px,#08bcbf 82.8px)"></i>
<i style="top:19.08px;height:1.02px;background:linear-gradient(90deg,#08bcbf 7.7px,#3479fd 8.2px,#2e87f7 11.2px,#2b91ef 14.2px,#2699e9 17.2px,#23a0e5 20.2px,#20a5e3 23.2px,#1da9e0 26.2px,#1aacdd 29.2px,#16aeda 32.2px,#13b1d7 35.2px,#0eb2d4 38.2px,#0ab4d2 41.2px,#07b5d0 44.2px,#05b6ce 47.1px,#04b6cd 50.1px,#03b7cc 53.1px,#04b6cd 56.1px,#06b5ce 59.1px,#0ab4d2 62.1px,#12b1d6 65.1px,#19acdc 68.1px,#20a5e2 71.1px,#269be8 74.1px,#2d8cf3 77.1px,#3578fd 80.1px,#465efb 83.1px,#08bcbf 83.6px)"></i>
<i style="top:20.09px;height:1.02px;background:linear-gradient(90deg,#08bcbf 7.1px,#3875fe 7.5px,#2e83f9 10.4px,#2c8ef1 13.4px,#2796eb 16.3px,#259de7 19.2px,#22a2e4 22.2px,#1fa6e1 25.1px,#1caadf 28.0px,#19acdc 31.0px,#16afd9 33.9px,#13b1d7 36.8px,#0fb2d4 39.8px,#0bb3d2 42.7px,#08b5d0 45.7px,#06b5cf 48.6px,#05b6ce 51.5px,#05b6cd 54.5px,#06b6ce 57.4px,#08b5d0 60.3px,#0eb3d4 63.3px,#15afd9 66.2px,#1baade 69.1px,#21a2e4 72.1px,#2798ea 75.0px,#2d89f5 77.9px,#3a74fe 80.9px,#475af9 83.8px,#08bcbf 84.2px)"></i>
<i style="top:21.09px;height:1.02px;background:linear-gradient(90deg,#08bcbf 6.4px,#3c71ff 6.9px,#2f80fa 9.9px,#2d8cf3 12.8px,#2994ec 15.8px,#259be8 18.8px,#23a1e5 21.8px,#20a5e2 24.8px,#1da8e0 27.8px,#1aabdd 30.7px,#18aedb 33.7px,#14b0d8 36.7px,#11b1d6 39.7px,#0db3d4 42.7px,#0ab4d2 45.6px,#07b5d0 48.6px,#06b5cf 51.6px,#06b5cf 54.6px,#07b5cf 57.6px,#09b4d1 60.6px,#0fb2d4 63.5px,#16afd9 66.5px,#1ca9df 69.5px,#22a1e4 72.5px,#2796eb 75.5px,#2e87f7 78.5px,#3d70ff 81.4px,#4756f6 84.4px,#08bcbf 84.9px)"></i>
<i style="top:22.10px;height:1.02px;background:linear-gradient(90deg,#08bcbf 5.8px,#3f6efe 6.3px,#317dfc 9.2px,#2d89f5 12.1px,#2b92ee 15.0px,#2699e9 17.9px,#249ee6 20.9px,#21a3e4 23.8px,#1fa6e1 26.7px,#1ca9df 29.6px,#1aacdd 32.5px,#17aedb 35.4px,#14b0d8 38.4px,#12b1d6 41.3px,#0eb2d4 44.2px,#0bb4d2 47.1px,#08b4d1 50.0px,#07b5d0 52.9px,#07b5d0 55.9px,#08b4d1 58.8px,#0cb3d3 61.7px,#12b1d6 64.6px,#18addb 67.5px,#1ea7e1 70.4px,#249fe5 73.4px,#2a93ed 76.3px,#2e83f9 79.2px,#406cfe 82.1px,#4852f4 85.0px,#08bcbf 85.5px)"></i>
<i style="top:23.10px;height:1.02px;background:linear-gradient(90deg,#08bcbf 5.2px,#426afe 5.7px,#337afd 8.7px,#2e87f7 11.6px,#2c90f0 14.6px,#2797eb 17.5px,#259de7 20.5px,#22a1e4 23.5px,#20a5e2 26.4px,#1da8e0 29.4px,#1babde 32.3px,#19addc 35.3px,#16afd9 38.3px,#13b0d7 41.2px,#10b2d5 44.2px,#0db3d3 47.1px,#0ab4d2 50.1px,#08b4d1 53.0px,#08b4d0 56.0px,#09b4d1 59.0px,#0db3d3 61.9px,#13b0d7 64.9px,#19addc 67.8px,#1ea7e1 70.8px,#249ee6 73.8px,#2b92ee 76.7px,#2f81fa 79.7px,#4269fe 82.6px,#484ef1 85.6px,#08bcbf 86.1px)"></i>
<i style="top:24.11px;height:1.02px;background:linear-gradient(90deg,#08bcbf 4.7px,#4367fd 5.2px,#3677fe 8.2px,#2e84f8 11.2px,#2c8ef1 14.2px,#2896ec 17.2px,#259be7 20.2px,#23a0e5 23.2px,#20a4e3 26.2px,#1ea7e1 29.2px,#1caadf 32.2px,#1aacdd 35.2px,#17aedb 38.2px,#14b0d8 41.2px,#12b1d6 44.2px,#0eb2d4 47.1px,#0cb3d3 50.1px,#0ab4d1 53.1px,#09b4d1 56.1px,#0bb4d2 59.1px,#0eb2d4 62.1px,#14b0d8 65.1px,#19acdc 68.1px,#1fa6e2 71.1px,#259de7 74.1px,#2b90f0 77.1px,#307ffb 80.1px,#4466fd 83.1px,#484aed 86.1px,#08bcbf 86.6px)"></i>
<i style="top:25.11px;height:1.02px;background:linear-gradient(90deg,#08bcbf 4.2px,#4564fd 4.6px,#3974fe 7.6px,#2f82fa 10.5px,#2d8cf3 13.4px,#2a93ed 16.4px,#2699e9 19.3px,#249ee6 22.2px,#22a2e4 25.1px,#1fa5e2 28.1px,#1da8e0 31.0px,#1baade 33.9px,#19acdc 36.9px,#17aeda 39.8px,#14b0d8 42.7px,#12b1d6 45.7px,#0fb2d4 48.6px,#0cb3d3 51.5px,#0bb4d2 54.4px,#0bb4d2 57.4px,#0cb3d3 60.3px,#11b2d5 63.2px,#16afd9 66.2px,#1babde 69.1px,#20a4e3 72.0px,#269be8 74.9px,#2d8df2 77.9px,#337bfc 80.8px,#4562fc 83.7px,#4746ea 86.7px,#08bcbf 87.1px)"></i>
<i style="top:26.11px;height:1.02px;background:linear-gradient(90deg,#08bcbf 3.7px,#4561fc 4.2px,#3c72ff 7.1px,#3080fb 10.1px,#2d8af4 13.1px,#2b92ee 16.0px,#2798ea 19.0px,#259de7 21.9px,#23a1e4 24.9px,#20a4e3 27.9px,#1ea7e1 30.8px,#1ca9df 33.8px,#1aacdd 36.8px,#18addb 39.7px,#15afd9 42.7px,#13b1d7 45.7px,#10b2d5 48.6px,#0db3d4 51.6px,#0cb3d3 54.5px,#0cb3d2 57.5px,#0db3d3 60.5px,#11b1d6 63.4px,#16afda 66.4px,#1baade 69.4px,#21a3e3 72.3px,#269ae9 75.3px,#2d8cf3 78.2px,#3579fd 81.2px,#465ffb 84.2px,#4742e6 87.1px,#08bcbf 87.6px)"></i>
<i style="top:27.12px;height:1.02px;background:linear-gradient(90deg,#08bcbf 3.3px,#465ffb 3.7px,#3e6fff 6.7px,#317efb 9.7px,#2d89f6 12.7px,#2b91ef 15.7px,#2797eb 18.7px,#259ce7 21.7px,#23a0e5 24.7px,#21a3e3 27.7px,#1fa6e1 30.7px,#1da9e0 33.7px,#1babde 36.7px,#19addc 39.7px,#16afda 42.7px,#14b0d8 45.7px,#11b1d6 48.6px,#0eb2d4 51.6px,#0db3d3 54.6px,#0cb3d3 57.6px,#0eb2d4 60.6px,#12b1d6 63.6px,#17aeda 66.6px,#1caadf 69.6px,#21a3e3 72.6px,#2699e9 75.6px,#2d8bf4 78.6px,#3777fe 81.6px,#475dfa 84.6px,#473fe2 87.6px,#08bcbf 88.0px)"></i>
<i style="top:28.12px;height:1.02px;background:linear-gradient(90deg,#08bcbf 2.9px,#475cfa 3.3px,#406dfe 6.2px,#327bfc 9.1px,#2e86f7 12.1px,#2c8ff1 15.0px,#2895ec 17.9px,#269ae8 20.8px,#249ee6 23.7px,#22a2e4 26.7px,#20a5e2 29.6px,#1ea7e1 32.5px,#1caadf 35.4px,#1aacdd 38.3px,#18addb 41.3px,#15afd9 44.2px,#13b0d7 47.1px,#10b2d5 50.0px,#0eb2d4 53.0px,#0db3d3 55.9px,#0db3d3 58.8px,#0fb2d5 61.7px,#13b0d7 64.6px,#18addb 67.6px,#1da8e0 70.5px,#23a1e4 73.4px,#2797eb 76.3px,#2d88f6 79.2px,#3a73fe 82.2px,#4759f9 85.1px,#463cde 88.0px,#08bcbf 88.4px)"></i>
<i style="top:29.13px;height:1.02px;background:linear-gradient(90deg,#08bcbf 2.5px,#475af9 2.9px,#416bfe 5.9px,#347afd 8.8px,#2e85f8 11.8px,#2c8ef2 14.7px,#2994ed 17.7px,#269ae9 20.6px,#249ee6 23.5px,#22a1e4 26.5px,#20a4e3 29.4px,#1ea7e1 32.4px,#1ca9e0 35.3px,#1aabde 38.3px,#19addc 41.2px,#16afda 44.2px,#13b0d8 47.1px,#11b1d6 50.1px,#0fb2d4 53.0px,#0db3d3 56.0px,#0db3d4 58.9px,#0fb2d5 61.9px,#13b0d7 64.8px,#18addb 67.8px,#1da8e0 70.7px,#23a1e5 73.6px,#2896eb 76.6px,#2e87f7 79.5px,#3c71ff 82.5px,#4757f7 85.4px,#4539d9 88.4px,#08bcbf 88.8px)"></i>
<i style="top:30.13px;height:1.02px;background:linear-gradient(90deg,#08bcbf 2.1px,#4758f8 2.6px,#4269fe 5.5px,#3578fd 8.5px,#2e84f8 11.5px,#2d8df2 14.4px,#2994ed 17.4px,#2699e9 20.4px,#249de6 23.4px,#23a1e4 26.3px,#20a4e3 29.3px,#1ea6e1 32.3px,#1da9e0 35.2px,#1babde 38.2px,#19addc 41.2px,#16aeda 44.2px,#14b0d8 47.1px,#11b1d6 50.1px,#0fb2d4 53.1px,#0db3d4 56.1px,#0db3d4 59.0px,#0fb2d5 62.0px,#13b0d7 65.0px,#19addc 67.9px,#1da8e0 70.9px,#23a0e5 73.9px,#2895ec 76.9px,#2e86f7 79.8px,#3e70ff 82.8px,#4755f6 85.8px,#4536d4 88.7px,#08bcbf 89.2px)"></i>
<i style="top:31.14px;height:1.02px;background:linear-gradient(90deg,#08bcbf 1.8px,#4756f7 2.2px,#4367fd 5.2px,#3777fe 8.2px,#2e83f9 11.2px,#2d8cf3 14.2px,#2a93ed 17.2px,#2699e9 20.2px,#249de7 23.2px,#23a1e5 26.2px,#21a4e3 29.2px,#1fa6e1 32.2px,#1da9e0 35.2px,#1babde 38.2px,#19addc 41.2px,#17aeda 44.2px,#14b0d8 47.1px,#11b1d6 50.1px,#0fb2d4 53.1px,#0db3d3 56.1px,#0db3d3 59.1px,#0fb2d5 62.1px,#13b0d7 65.1px,#19addc 68.1px,#1da8e0 71.1px,#23a0e5 74.1px,#2995ec 77.1px,#2e85f8 80.1px,#3f6eff 83.1px,#4853f5 86.1px,#4434cf 89.1px,#08bcbf 89.5px)"></i>
<i style="top:32.14px;height:1.02px;background:linear-gradient(90deg,#08bcbf 1.5px,#4854f5 1.9px,#4466fd 4.8px,#3975fe 7.7px,#2f81fa 10.7px,#2d8bf4 13.6px,#2b92ee 16.5px,#2798ea 19.4px,#259ce7 22.3px,#23a0e5 25.2px,#21a3e4 28.2px,#1fa5e2 31.1px,#1ea8e1 34.0px,#1caadf 36.9px,#1aacdd 39.8px,#18aedb 42.7px,#15afd9 45.6px,#13b1d7 48.6px,#10b2d5 51.5px,#0eb3d4 54.4px,#0db3d3 57.3px,#0db3d3 60.2px,#10b2d5 63.1px,#14b0d8 66.1px,#19acdc 69.0px,#1ea7e1 71.9px,#249ee6 74.8px,#2a93ee 77.7px,#2f82f9 80.6px,#416bfe 83.6px,#4850f3 86.5px,#4332ca 89.4px,#08bcbf 89.8px)"></i>
<i style="top:33.15px;height:1.02px;background:linear-gradient(90deg,#08bcbf 1.2px,#4853f4 1.6px,#4464fd 4.6px,#3a74fe 7.5px,#2f81fa 10.4px,#2d8af4 13.4px,#2b92ee 16.3px,#2797ea 19.2px,#259ce7 22.2px,#23a0e5 25.1px,#21a3e4 28.0px,#1fa5e2 31.0px,#1ea8e0 33.9px,#1caadf 36.8px,#1aacdd 39.8px,#18aedb 42.7px,#15afd9 45.7px,#12b1d7 48.6px,#0fb2d5 51.5px,#0db3d3 54.5px,#0cb3d3 57.4px,#0db3d3 60.3px,#0fb2d5 63.3px,#14b0d8 66.2px,#19acdc 69.1px,#1ea7e1 72.1px,#249ee6 75.0px,#2a92ee 77.9px,#2f82fa 80.9px,#426afe 83.8px,#484ef1 86.7px,#4330c5 89.7px,#08bcbf 90.1px)"></i>
<i style="top:34.15px;height:1.02px;background:linear-gradient(90deg,#08bcbf 0.9px,#4851f4 1.4px,#4563fd 4.3px,#3a73fe 7.3px,#2f80fa 10.2px,#2d8af4 13.2px,#2b92ef 16.1px,#2797ea 19.1px,#259ce7 22.0px,#23a0e5 25.0px,#21a3e3 27.9px,#1fa6e2 30.9px,#1da8e0 33.8px,#1baadf 36.8px,#1aacdd 39.7px,#17aeda 42.7px,#14b0d8 45.7px,#12b1d6 48.6px,#0fb2d4 51.6px,#0cb3d3 54.5px,#0bb3d2 57.5px,#0cb3d3 60.4px,#0fb2d4 63.4px,#13b0d7 66.3px,#19addc 69.3px,#1ea7e1 72.2px,#249ee6 75.2px,#2b92ee 78.1px,#2f81fa 81.1px,#4369fe 84.0px,#484df0 87.0px,#422fc1 89.9px,#08bcbf 90.4px)"></i>
<i style="top:35.15px;height:1.02px;background:linear-gradient(90deg,#08bcbf 0.7px,#4850f3 1.1px,#4563fc 4.1px,#3b73fe 7.1px,#2f80fa 10.0px,#2d8af4 13.0px,#2b92ee 16.0px,#2798ea 18.9px,#259ce7 21.9px,#23a0e5 24.9px,#21a3e3 27.8px,#1fa6e2 30.8px,#1da8e0 33.8px,#1baade 36.7px,#19acdc 39.7px,#17aeda 42.7px,#14b0d8 45.7px,#11b1d6 48.6px,#0db3d4 51.6px,#0bb3d2 54.6px,#0ab4d2 57.5px,#0bb4d2 60.5px,#0eb3d4 63.5px,#13b1d7 66.4px,#19addc 69.4px,#1ea7e1 72.4px,#249ee6 75.3px,#2b92ee 78.3px,#2f80fa 81.3px,#4368fd 84.2px,#484bef 87.2px,#412dbc 90.2px,#08bcbf 90.6px)"></i>
<i style="top:36.16px;height:1.02px;background:linear-gradient(90deg,#08bcbf 0.5px,#484ff2 0.9px,#4562fc 3.9px,#3b73fe 6.9px,#2f80fa 9.9px,#2d8af4 12.8px,#2b92ee 15.8px,#2798ea 18.8px,#259de7 21.8px,#23a0e5 24.8px,#21a4e3 27.8px,#1fa6e1 30.7px,#1da9e0 33.7px,#1babde 36.7px,#19addc 39.7px,#16afd9 42.7px,#13b0d7 45.7px,#0fb2d5 48.6px,#0cb3d3 51.6px,#0ab4d1 54.6px,#09b4d1 57.6px,#09b4d1 60.6px,#0cb3d3 63.5px,#12b1d6 66.5px,#18addb 69.5px,#1ea7e1 72.5px,#249ee6 75.5px,#2b92ee 78.5px,#3080fa 81.4px,#4367fd 84.4px,#484aee 87.4px,#412cb9 90.4px,#08bcbf 90.8px)"></i>
<i style="top:37.16px;height:1.02px;background:linear-gradient(90deg,#08bcbf 0.3px,#484ef1 0.7px,#4562fc 3.7px,#3b72fe 6.7px,#2f80fa 9.7px,#2d8af4 12.7px,#2a92ee 15.7px,#2698ea 18.7px,#249de6 21.7px,#22a1e4 24.7px,#20a4e3 27.7px,#1ea7e1 30.7px,#1caadf 33.7px,#1aacdd 36.7px,#18aedb 39.7px,#15afd8 42.7px,#12b1d6 45.7px,#0eb3d4 48.6px,#0ab4d2 51.6px,#08b4d0 54.6px,#07b5d0 57.6px,#08b5d0 60.6px,#0bb4d2 63.6px,#11b1d6 66.6px,#18aedb 69.6px,#1ea8e0 72.6px,#249fe6 75.6px,#2b92ee 78.6px,#3080fb 81.6px,#4466fd 84.6px,#4849ed 87.6px,#402ab5 90.6px,#08bcbf 91.0px)"></i>
<i style="top:38.17px;height:1.02px;background:linear-gradient(90deg,#08bcbf 0.1px,#484ef1 0.5px,#4661fc 3.5px,#3c71ff 6.4px,#307ffb 9.3px,#2d8af5 12.2px,#2b92ee 15.1px,#2798ea 18.0px,#259de7 20.9px,#23a1e4 23.8px,#20a4e3 26.7px,#1ea7e1 29.6px,#1caadf 32.6px,#1aacdd 35.5px,#18aedb 38.4px,#15afd8 41.3px,#12b1d6 44.2px,#0eb3d4 47.1px,#0ab4d2 50.0px,#07b5d0 52.9px,#06b5cf 55.8px,#06b5ce 58.7px,#07b5cf 61.7px,#0ab4d2 64.6px,#11b1d6 67.5px,#18addb 70.4px,#1ea7e1 73.3px,#249de6 76.2px,#2c90f0 79.1px,#317dfb 82.0px,#4564fd 84.9px,#4747eb 87.8px,#3f29b2 90.8px,#08bcbf 91.2px)"></i>
<i style="top:39.17px;height:1.02px;background:linear-gradient(90deg,#08bcbf 0.0px,#484ef1 0.4px,#4661fc 3.3px,#3c72ff 6.2px,#3080fa 9.2px,#2d8af4 12.1px,#2a93ee 15.0px,#2699e9 17.9px,#249ee6 20.8px,#22a2e4 23.8px,#1fa5e2 26.7px,#1da8e0 29.6px,#1baade 32.5px,#19addc 35.4px,#16afda 38.4px,#13b0d7 41.3px,#0fb2d5 44.2px,#0bb3d2 47.1px,#08b5d0 50.0px,#06b5ce 52.9px,#05b6cd 55.9px,#04b6cd 58.8px,#05b6ce 61.7px,#08b4d1 64.6px,#0fb2d5 67.5px,#17aedb 70.5px,#1ea7e1 73.4px,#249ee6 76.3px,#2b90f0 79.2px,#317dfb 82.1px,#4563fd 85.1px,#4746ea 88.0px,#3f28af 90.9px,#08bcbf 91.3px)"></i>
<i style="top:40.18px;height:1.02px;background:linear-gradient(90deg,#08bcbf 0.0px,#484df1 0.3px,#4561fc 3.2px,#3b72ff 6.1px,#2f81fa 9.1px,#2d8bf4 12.0px,#2a93ed 14.9px,#269ae9 17.8px,#249fe6 20.8px,#21a3e3 23.7px,#1fa6e1 26.6px,#1ca9df 29.5px,#1aacdd 32.5px,#18aedb 35.4px,#14b0d8 38.3px,#11b1d6 41.3px,#0db3d3 44.2px,#08b4d1 47.1px,#06b5ce 50.0px,#04b6cd 53.0px,#03b7cc 55.9px,#03b7cc 58.8px,#04b6cd 61.8px,#07b5cf 64.7px,#0db3d4 67.6px,#16afda 70.5px,#1da8e0 73.5px,#249ee6 76.4px,#2b91ef 79.3px,#317efb 82.2px,#4563fd 85.2px,#4745e9 88.1px,#3f28ad 91.0px,#08bcbf 91.3px)"></i>
<i style="top:41.18px;height:1.02px;background:linear-gradient(90deg,#08bcbf 0.0px,#484ef1 0.2px,#4561fc 3.1px,#3b73fe 6.0px,#2f82fa 9.0px,#2d8cf3 11.9px,#2994ec 14.8px,#259be8 17.8px,#23a0e5 20.7px,#20a4e3 23.6px,#1ea8e1 26.6px,#1baade 29.5px,#19addc 32.4px,#16afd9 35.4px,#12b1d7 38.3px,#0eb2d4 41.2px,#09b4d1 44.2px,#06b5cf 47.1px,#04b6cd 50.1px,#02b7cb 53.0px,#01b8ca 55.9px,#01b8ca 58.9px,#02b7cb 61.8px,#05b6ce 64.7px,#0bb3d2 67.7px,#15afd9 70.6px,#1da9e0 73.5px,#249fe6 76.5px,#2b91ef 79.4px,#317efb 82.3px,#4563fd 85.3px,#4745e9 88.2px,#3e27ab 91.1px,#08bcbf 91.3px)"></i>
<i style="top:42.18px;height:1.02px;background:linear-gradient(90deg,#08bcbf 0.0px,#484ef1 0.1px,#4562fc 3.0px,#3a74fe 6.0px,#2f83f9 8.9px,#2d8df2 11.9px,#2896ec 14.8px,#259ce7 17.7px,#22a1e4 20.7px,#1fa6e2 23.6px,#1da9e0 26.5px,#1aacdd 29.5px,#17aeda 32.4px,#13b0d7 35.4px,#0fb2d5 38.3px,#0ab4d2 41.2px,#07b5cf 44.2px,#04b6cd 47.1px,#02b7ca 50.1px,#01b8c9 53.0px,#01b9c8 55.9px,#01b9c8 58.9px,#01b8c9 61.8px,#03b7cc 64.8px,#09b4d1 67.7px,#13b0d7 70.6px,#1caadf 73.6px,#23a0e5 76.5px,#2b92ee 79.4px,#317efb 82.4px,#4563fd 85.3px,#4744e8 88.3px,#3e27a9 91.2px,#08bcbf 91.3px)"></i>
<i style="top:43.19px;height:1.02px;background:linear-gradient(90deg,#484ef1 0.0px,#4563fc 3.0px,#3975fe 5.9px,#2e84f9 8.9px,#2c8ff1 11.8px,#2797eb 14.8px,#249ee6 17.7px,#21a3e3 20.6px,#1ea7e1 23.6px,#1baade 26.5px,#18addb 29.5px,#14b0d8 32.4px,#10b2d5 35.4px,#0bb3d2 38.3px,#07b5d0 41.2px,#04b6cd 44.2px,#01b7ca 47.1px,#01b8c8 50.1px,#01b9c6 53.0px,#01bac5 55.9px,#01bac5 58.9px,#01b9c7 61.8px,#01b8ca 64.8px,#06b5cf 67.7px,#12b1d6 70.7px,#1babde 73.6px,#23a0e5 76.5px,#2a92ee 79.5px,#307ffb 82.4px,#4563fd 85.4px,#4744e8 88.3px,#3e26a8 91.3px)"></i>
<i style="top:44.19px;height:1.02px;background:linear-gradient(90deg,#484ff2 0.0px,#4564fd 3.0px,#3776fe 5.9px,#2e85f8 8.8px,#2c90f0 11.8px,#2699ea 14.7px,#249fe5 17.7px,#20a4e3 20.6px,#1da9e0 23.6px,#1aacdd 26.5px,#16afd9 29.5px,#12b1d6 32.4px,#0cb3d3 35.3px,#07b5d0 38.3px,#04b6cd 41.2px,#01b8ca 44.2px,#01b9c8 47.1px,#01bac5 50.1px,#02bac4 53.0px,#02bbc3 56.0px,#02bbc3 58.9px,#02bac5 61.8px,#01b9c8 64.8px,#04b6cd 67.7px,#0fb2d5 70.7px,#1aacdd 73.6px,#22a1e4 76.6px,#2a93ed 79.5px,#307ffb 82.5px,#4564fd 85.4px,#4744e8 88.3px,#3e26a8 91.3px)"></i>
<i style="top:45.20px;height:1.02px;background:linear-gradient(90deg,#4850f3 0.0px,#4465fd 2.9px,#3678fd 5.9px,#2e87f7 8.8px,#2b92ee 11.8px,#269ae8 14.7px,#23a1e4 17.7px,#1fa6e1 20.6px,#1baade 23.6px,#18aedb 26.5px,#13b0d7 29.5px,#0db3d4 32.4px,#08b5d0 35.3px,#04b6cd 38.3px,#01b8ca 41.2px,#01b9c7 44.2px,#02bac5 47.1px,#03bbc2 50.1px,#05bbc1 53.0px,#06bcc0 56.0px,#06bcc0 58.9px,#03bbc2 61.8px,#01bac6 64.8px,#02b7cb 67.7px,#0cb3d3 70.7px,#19addc 73.6px,#21a2e4 76.6px,#2994ed 79.5px,#2f80fa 82.5px,#4464fd 85.4px,#4744e9 88.4px,#3e26a8 91.3px)"></i>
<i style="top:46.20px;height:1.02px;background:linear-gradient(90deg,#4851f4 0.0px,#4367fd 3.0px,#347afd 5.9px,#2d88f6 8.8px,#2994ed 11.8px,#259ce7 14.7px,#21a3e3 17.7px,#1da8e0 20.6px,#19acdc 23.6px,#14b0d8 26.5px,#0fb2d4 29.5px,#09b4d1 32.4px,#04b6cd 35.3px,#01b8ca 38.3px,#01b9c7 41.2px,#02bac4 44.2px,#04bbc1 47.1px,#07bcbf 50.1px,#09bdbe 53.0px,#0abdbd 56.0px,#0abdbe 58.9px,#07bcbf 61.8px,#02bbc3 64.8px,#01b8c9 67.7px,#09b4d1 70.7px,#18aedb 73.6px,#21a4e3 76.6px,#2895ec 79.5px,#2f81fa 82.5px,#4465fd 85.4px,#4745e9 88.3px,#3e26a8 91.3px)"></i>
<i style="top:47.21px;height:1.02px;background:linear-gradient(90deg,#4853f5 0.0px,#4368fe 3.0px,#327cfc 5.9px,#2d8af4 8.9px,#2896ec 11.8px,#249ee6 14.8px,#20a5e2 17.7px,#1baade 20.6px,#17aeda 23.6px,#11b1d6 26.5px,#0ab4d1 29.5px,#05b6cd 32.4px,#01b8ca 35.4px,#01b9c7 38.3px,#02bac3 41.2px,#06bcc0 44.2px,#09bcbe 47.1px,#0cbdbc 50.1px,#0fbeba 53.0px,#10beba 55.9px,#0fbeba 58.9px,#0bbdbc 61.8px,#06bcc0 64.8px,#01b9c6 67.7px,#06b5cf 70.7px,#16afd9 73.6px,#20a5e2 76.5px,#2796eb 79.5px,#2f82f9 82.4px,#4466fd 85.4px,#4746ea 88.3px,#3e26a9 91.3px)"></i>
<i style="top:48.21px;height:1.02px;background:linear-gradient(90deg,#08bcbf 0.0px,#4755f6 0.1px,#426afe 3.0px,#317efb 6.0px,#2d8cf3 8.9px,#2798ea 11.9px,#23a0e5 14.8px,#1ea7e1 17.7px,#19acdc 20.7px,#13b0d7 23.6px,#0cb3d3 26.5px,#05b6ce 29.5px,#01b8ca 32.4px,#01b9c6 35.4px,#02bbc3 38.3px,#07bcc0 41.2px,#0bbdbd 44.2px,#10beba 47.1px,#14beb8 50.1px,#16bfb7 53.0px,#17bfb6 55.9px,#16bfb7 58.9px,#11beb9 61.8px,#0abdbd 64.8px,#02bac4 67.7px,#04b6cd 70.6px,#13b0d7 73.6px,#1fa6e2 76.5px,#2798ea 79.4px,#2e84f9 82.4px,#4367fd 85.3px,#4746eb 88.3px,#3e27aa 91.2px,#08bcbf 91.3px)"></i>
<i style="top:49.22px;height:1.02px;background:linear-gradient(90deg,#08bcbf 0.0px,#4757f7 0.2px,#406dfe 3.1px,#2f80fa 6.0px,#2c8ff1 9.0px,#269ae9 11.9px,#21a2e4 14.8px,#1ca9df 17.8px,#17aeda 20.7px,#0fb2d4 23.6px,#06b5cf 26.6px,#01b7ca 29.5px,#01b9c6 32.4px,#03bbc2 35.4px,#08bcbf 38.3px,#0dbdbc 41.2px,#13beb9 44.2px,#18bfb6 47.1px,#1bc0b4 50.1px,#1dc0b3 53.0px,#1dc0b3 55.9px,#1cc0b3 58.9px,#18bfb6 61.8px,#0fbeba 64.7px,#05bbc1 67.7px,#01b8ca 70.6px,#11b2d5 73.5px,#1ea8e1 76.5px,#2699e9 79.4px,#2e85f8 82.3px,#4368fe 85.3px,#4747ec 88.2px,#3e28ac 91.1px,#08bcbf 91.3px)"></i>
<i style="top:50.22px;height:1.02px;background:linear-gradient(90deg,#08bcbf 0.0px,#4759f8 0.3px,#3e6fff 3.2px,#2e83f9 6.1px,#2b91ef 9.1px,#259ce7 12.0px,#20a5e2 14.9px,#1aacdd 17.8px,#13b1d7 20.8px,#09b4d1 23.7px,#02b7cb 26.6px,#01b9c6 29.5px,#04bbc2 32.5px,#09bcbe 35.4px,#0fbeba 38.3px,#16bfb7 41.3px,#1bc0b4 44.2px,#1fc0b2 47.1px,#22c1b0 50.0px,#24c1af 53.0px,#24c1af 55.9px,#22c1b0 58.8px,#1ec0b2 61.8px,#16bfb7 64.7px,#09bcbe 67.6px,#01b9c7 70.5px,#0db3d3 73.5px,#1ca9df 76.4px,#269be8 79.3px,#2e86f7 82.2px,#426afe 85.2px,#4849ed 88.1px,#3f28af 91.0px,#08bcbf 91.3px)"></i>
<i style="top:51.22px;height:1.02px;background:linear-gradient(90deg,#08bcbf 0.0px,#475bf9 0.4px,#3c72ff 3.3px,#2e85f8 6.2px,#2994ed 9.2px,#249fe6 12.1px,#1ea7e1 15.0px,#17aedb 17.9px,#0db3d4 20.8px,#04b6cd 23.8px,#01b9c7 26.7px,#03bbc2 29.6px,#0abdbe 32.5px,#11beb9 35.4px,#18bfb6 38.4px,#1ec0b2 41.3px,#22c1b0 44.2px,#25c2ad 47.1px,#27c2ab 50.0px,#28c3aa 52.9px,#28c3aa 55.9px,#27c2ac 58.8px,#24c1af 61.7px,#1cc0b3 64.6px,#0fbebb 67.5px,#02bac5 70.5px,#09b4d1 73.4px,#1babde 76.3px,#259ce7 79.2px,#2d88f6 82.1px,#416bfe 85.1px,#484aee 88.0px,#3f29b2 90.9px,#08bcbf 91.3px)"></i>
<i style="top:52.23px;height:1.02px;background:linear-gradient(90deg,#08bcbf 0.1px,#465efb 0.5px,#3975fe 3.5px,#2d88f6 6.4px,#2796eb 9.3px,#22a1e4 12.2px,#1caadf 15.1px,#13b0d7 18.0px,#07b5d0 20.9px,#01b8c9 23.8px,#02bbc3 26.7px,#0abdbd 29.6px,#12beb9 32.6px,#1ac0b5 35.5px,#20c1b1 38.4px,#25c2ad 41.3px,#28c3ab 44.2px,#2bc3a8 47.1px,#2cc4a6 50.0px,#2dc4a5 52.9px,#2dc4a6 55.8px,#2cc4a7 58.7px,#28c3aa 61.7px,#22c1b0 64.6px,#15bfb7 67.5px,#04bbc2 70.4px,#06b6ce 73.3px,#19acdc 76.2px,#249ee6 79.1px,#2d8af5 82.0px,#3f6dfe 84.9px,#484cef 87.8px,#402ab5 90.8px,#08bcbf 91.2px)"></i>
<i style="top:53.23px;height:1.02px;background:linear-gradient(90deg,#08bcbf 0.3px,#4561fc 0.7px,#3579fd 3.7px,#2d8cf3 6.7px,#269ae8 9.7px,#1fa5e2 12.7px,#18aedb 15.7px,#0bb3d2 18.7px,#01b8ca 21.7px,#03bbc3 24.7px,#0bbdbc 27.7px,#16bfb7 30.7px,#1ec0b2 33.7px,#25c2ae 36.7px,#29c3aa 39.7px,#2cc4a7 42.7px,#2ec5a4 45.7px,#30c5a2 48.6px,#31c6a1 51.6px,#31c6a0 54.6px,#30c5a2 57.6px,#2ec4a5 60.6px,#29c3aa 63.6px,#1fc1b1 66.6px,#0dbdbc 69.6px,#01b8c9 72.6px,#14b0d8 75.6px,#22a2e4 78.6px,#2c8ef1 81.6px,#3c72ff 84.6px,#484ff2 87.6px,#412cb9 90.6px,#08bcbf 91.0px)"></i>
<i style="top:54.24px;height:1.02px;background:linear-gradient(90deg,#08bcbf 0.5px,#4464fd 0.9px,#327dfc 3.9px,#2c8ff0 6.9px,#249de6 9.9px,#1da8e0 12.8px,#13b0d7 15.8px,#05b6ce 18.8px,#01bac5 21.8px,#09bdbe 24.8px,#15bfb7 27.8px,#1fc0b2 30.7px,#26c2ad 33.7px,#2bc3a8 36.7px,#2ec4a4 39.7px,#30c5a1 42.7px,#32c69e 45.7px,#34c79c 48.6px,#35c79b 51.6px,#35c79b 54.6px,#33c79c 57.6px,#31c6a0 60.6px,#2dc4a6 63.5px,#25c2ad 66.5px,#14beb8 69.5px,#01bac6 72.5px,#11b1d6 75.5px,#20a4e3 78.5px,#2c90f0 81.4px,#3974fe 84.4px,#4851f3 87.4px,#412dbd 90.4px,#08bcbf 90.8px)"></i>
<i style="top:55.24px;height:1.02px;background:linear-gradient(90deg,#08bcbf 0.7px,#4368fd 1.1px,#2f80fa 4.1px,#2a92ee 7.1px,#23a0e5 10.0px,#1babde 13.0px,#0db3d4 16.0px,#01b8c9 18.9px,#06bcc0 21.9px,#13beb9 24.9px,#1fc0b2 27.8px,#27c2ac 30.8px,#2cc4a7 33.8px,#2fc5a2 36.7px,#32c69e 39.7px,#35c79a 42.7px,#37c898 45.7px,#38c896 48.6px,#39c994 51.6px,#39c895 54.6px,#37c897 57.5px,#35c79b 60.5px,#30c5a1 63.5px,#29c3a9 66.4px,#1bc0b4 69.4px,#03bbc2 72.4px,#0cb3d3 75.3px,#1fa6e2 78.3px,#2a92ee 81.3px,#3777fe 84.2px,#4854f5 87.2px,#422fc2 90.2px,#08bcbf 90.6px)"></i>
<i style="top:56.25px;height:1.02px;background:linear-gradient(90deg,#08bcbf 0.9px,#416cfe 1.4px,#2e84f9 4.3px,#2896ec 7.3px,#21a4e3 10.2px,#17aeda 13.2px,#07b5cf 16.1px,#02bac5 19.1px,#0ebdbb 22.0px,#1dc0b3 25.0px,#26c2ac 27.9px,#2dc4a6 30.9px,#31c6a0 33.8px,#34c79c 36.8px,#37c897 39.7px,#3ac993 42.7px,#3dc990 45.7px,#3fca8e 48.6px,#3fca8e 51.6px,#3fca8e 54.5px,#3dc991 57.5px,#39c895 60.4px,#34c79c 63.4px,#2dc4a5 66.3px,#21c1b0 69.3px,#08bcbf 72.2px,#07b5d0 75.2px,#1da8e0 78.1px,#2995ec 81.1px,#3479fd 84.0px,#4756f7 87.0px,#4331c7 89.9px,#08bcbf 90.4px)"></i>
<i style="top:57.25px;height:1.02px;background:linear-gradient(90deg,#08bcbf 1.2px,#3d70ff 1.6px,#2d88f6 4.6px,#2699e9 7.5px,#1ea7e1 10.4px,#12b1d7 13.4px,#02b7cb 16.3px,#07bcbf 19.2px,#18bfb6 22.2px,#25c2ad 25.1px,#2dc4a6 28.0px,#31c69f 31.0px,#35c79a 33.9px,#3ac994 36.8px,#3eca90 39.8px,#42ca8c 42.7px,#45cb89 45.7px,#47cb87 48.6px,#48cb86 51.5px,#47cb87 54.5px,#44cb8a 57.4px,#3eca8f 60.3px,#38c896 63.3px,#31c6a0 66.2px,#26c2ac 69.1px,#0ebdbb 72.1px,#04b6cd 75.0px,#1baadf 77.9px,#2797eb 80.9px,#327cfc 83.8px,#4759f8 86.7px,#4433cd 89.7px,#08bcbf 90.1px)"></i>
<i style="top:58.25px;height:1.02px;background:linear-gradient(90deg,#08bcbf 1.5px,#3975fe 1.9px,#2d8cf3 4.8px,#259de7 7.7px,#1baadf 10.7px,#0bb3d2 13.6px,#01bac5 16.5px,#10beba 19.4px,#22c1b0 22.3px,#2cc4a7 25.2px,#31c69f 28.2px,#36c898 31.1px,#3cc992 34.0px,#41ca8c 36.9px,#47cb87 39.8px,#4bcb83 42.7px,#4fcc80 45.7px,#51cc7f 48.6px,#52cc7e 51.5px,#50cc7f 54.4px,#4ccb83 57.3px,#46cb88 60.2px,#3dc990 63.1px,#34c79b 66.1px,#2bc3a8 69.0px,#16bfb7 71.9px,#01b8c9 74.8px,#19acdc 77.7px,#269ae9 80.6px,#3080fb 83.6px,#475cfa 86.5px,#4536d4 89.4px,#08bcbf 89.8px)"></i>
<i style="top:59.26px;height:1.02px;background:linear-gradient(90deg,#08bcbf 1.8px,#347afd 2.2px,#2b90ef 5.2px,#22a2e4 8.2px,#16aeda 11.2px,#03b7cb 14.2px,#09bdbe 17.2px,#1fc0b2 20.2px,#2cc4a7 23.2px,#32c69e 26.2px,#38c896 29.2px,#3fca8e 32.2px,#47cb87 35.2px,#4ecc81 38.2px,#54cc7d 41.2px,#58cc79 44.2px,#5bcc76 47.1px,#5ccc75 50.1px,#5bcc76 53.1px,#58cc79 56.1px,#51cc7f 59.1px,#47cb87 62.1px,#3cc992 65.1px,#31c6a0 68.1px,#22c1af 71.1px,#03bbc2 74.1px,#13b0d7 77.1px,#249ee6 80.1px,#2e85f8 83.1px,#4661fc 86.1px,#4639d9 89.1px,#08bcbf 89.5px)"></i>
<i style="top:60.26px;height:1.02px;background:linear-gradient(90deg,#08bcbf 2.1px,#307ffb 2.6px,#2995ec 5.5px,#1fa5e2 8.5px,#10b2d5 11.5px,#01b9c6 14.4px,#14beb8 17.4px,#27c2ac 20.4px,#31c5a1 23.4px,#38c897 26.3px,#40ca8d 29.3px,#49cb85 32.3px,#52cc7e 35.2px,#59cc78 38.2px,#5fcd73 41.2px,#64cd6f 44.2px,#67cd6d 47.1px,#68cd6c 50.1px,#66cd6d 53.1px,#62cd71 56.1px,#5bcc77 59.0px,#50cc80 62.0px,#42ca8c 65.0px,#35c79a 67.9px,#28c2ab 70.9px,#09bcbe 73.9px,#0eb2d4 76.9px,#22a1e4 79.8px,#2d88f6 82.8px,#4464fd 85.8px,#463ddf 88.7px,#08bcbf 89.2px)"></i>
<i style="top:61.27px;height:1.02px;background:linear-gradient(90deg,#08bcbf 2.5px,#2e84f9 2.9px,#2699e9 5.9px,#1ca9df 8.8px,#08b4d0 11.8px,#06bcc0 14.7px,#1fc0b2 17.7px,#2dc4a5 20.6px,#36c799 23.5px,#3fca8e 26.5px,#4acb84 29.4px,#55cc7c 32.4px,#5ecd74 35.3px,#66cd6d 38.3px,#6ccd68 41.2px,#70cd65 44.2px,#73cd63 47.1px,#74cc62 50.1px,#72cd64 53.0px,#6dcd67 56.0px,#65cd6e 58.9px,#59cc78 61.9px,#49cb85 64.8px,#39c895 67.8px,#2cc4a6 70.7px,#10beba 73.6px,#08b5d0 76.6px,#20a4e3 79.5px,#2d8bf3 82.5px,#4368fe 85.4px,#4741e5 88.4px,#08bcbf 88.8px)"></i>
<i style="top:62.27px;height:1.02px;background:linear-gradient(90deg,#08bcbf 2.9px,#2d89f5 3.3px,#249de6 6.2px,#19addc 9.1px,#02b7cb 12.1px,#10beba 15.0px,#27c2ab 17.9px,#33c69e 20.8px,#3cc991 23.7px,#49cb85 26.7px,#56cc7b 29.6px,#61cd71 32.5px,#6bcd69 35.4px,#73cd63 38.3px,#7acc5e 41.3px,#7ecc5a 44.2px,#81cc59 47.1px,#81cc58 50.0px,#7fcc5a 53.0px,#79cc5e 55.9px,#70cd65 58.8px,#63cd70 61.7px,#52cc7e 64.6px,#3eca8f 67.6px,#30c5a1 70.5px,#19bfb5 73.4px,#03b7cc 76.3px,#1ea7e1 79.2px,#2c8ff1 82.2px,#406dfe 85.1px,#4745ea 88.0px,#08bcbf 88.4px)"></i>
<i style="top:63.28px;height:1.02px;background:linear-gradient(90deg,#08bcbf 3.3px,#2c8ef1 3.7px,#21a2e4 6.7px,#11b1d6 9.7px,#02bbc3 12.7px,#1fc1b1 15.7px,#30c5a2 18.7px,#3bc993 21.7px,#4acb85 24.7px,#59cc78 27.7px,#67cd6d 30.7px,#72cd63 33.7px,#7dcc5c 36.7px,#84cb56 39.7px,#8acb52 42.7px,#8dcb4f 45.7px,#8ecb4e 48.6px,#8dcb50 51.6px,#88cb53 54.6px,#7fcc5a 57.6px,#72cd63 60.6px,#61cd72 63.6px,#4bcb83 66.6px,#37c897 69.6px,#26c2ad 72.6px,#02bac5 75.6px,#1aacdd 78.6px,#2995ec 81.6px,#3b73fe 84.6px,#484aee 87.6px,#08bcbf 88.0px)"></i>
<i style="top:64.28px;height:1.02px;background:linear-gradient(90deg,#08bcbf 3.7px,#2994ed 4.2px,#1ea7e1 7.1px,#07b5d0 10.1px,#0cbdbc 13.1px,#28c3aa 16.0px,#35c79a 19.0px,#44cb8a 21.9px,#56cc7b 24.9px,#66cd6d 27.9px,#75cc62 30.8px,#81cc58 33.8px,#8bcb51 36.8px,#92ca4b 39.7px,#98ca47 42.7px,#9bc945 45.7px,#9bc944 48.6px,#99c946 51.6px,#94ca4a 54.5px,#8bcb51 57.5px,#7ecc5b 60.5px,#6bcd69 63.4px,#55cc7c 66.4px,#3cc991 69.4px,#2bc3a8 72.3px,#06bcc0 75.3px,#16afd9 78.2px,#2798ea 81.2px,#3678fd 84.2px,#4850f2 87.1px,#08bcbf 87.6px)"></i>
<i style="top:65.29px;height:1.02px;background:linear-gradient(90deg,#08bcbf 4.2px,#2699e9 4.6px,#1aacdd 7.6px,#01b8c9 10.5px,#19bfb5 13.4px,#2fc5a3 16.4px,#3cc991 19.3px,#50cc80 22.2px,#63cd70 25.1px,#74cc62 28.1px,#83cc57 31.0px,#90ca4d 33.9px,#99c946 36.9px,#a0c840 39.8px,#a5c83d 42.7px,#a8c73b 45.7px,#a8c73b 48.6px,#a6c83d 51.5px,#a0c841 54.4px,#97ca48 57.4px,#89cb52 60.3px,#76cc61 63.2px,#5ecd74 66.2px,#43ca8a 69.1px,#2fc5a2 72.0px,#0ebdbb 74.9px,#11b2d5 77.9px,#259ce7 80.8px,#317dfc 83.7px,#4755f6 86.7px,#08bcbf 87.1px)"></i>
<i style="top:66.29px;height:1.02px;background:linear-gradient(90deg,#08bcbf 4.7px,#249ee6 5.2px,#13b0d7 8.2px,#05bbc1 11.2px,#27c2ac 14.2px,#36c898 17.2px,#4acb84 20.2px,#61cd71 23.2px,#76cc61 26.2px,#88cb53 29.2px,#96ca48 32.2px,#a2c840 35.2px,#aac739 38.2px,#b0c636 41.2px,#b4c534 44.2px,#b5c533 47.1px,#b4c534 50.1px,#afc636 53.1px,#a7c73c 56.1px,#9ac945 59.1px,#88cb53 62.1px,#6fcd66 65.1px,#52cc7e 68.1px,#36c898 71.1px,#1ec0b2 74.1px,#05b6ce 77.1px,#22a2e4 80.1px,#2e84f9 83.1px,#475bf9 86.1px,#08bcbf 86.6px)"></i>
<i style="top:67.29px;height:1.02px;background:linear-gradient(90deg,#08bcbf 5.2px,#20a4e3 5.7px,#08b4d1 8.7px,#11beba 11.6px,#2ec4a4 14.6px,#3eca8f 17.5px,#57cc7a 20.5px,#6fcd66 23.5px,#85cb55 26.4px,#97ca48 29.4px,#a5c83d 32.3px,#b0c636 35.3px,#b8c431 38.3px,#bdc32e 41.2px,#c1c32d 44.2px,#c1c32c 47.1px,#c0c32d 50.1px,#bbc430 53.0px,#b2c534 56.0px,#a6c83d 59.0px,#93ca4a 61.9px,#7acc5d 64.9px,#5ccc76 67.8px,#3cc991 70.8px,#26c2ad 73.8px,#01b8c9 76.7px,#1fa6e2 79.7px,#2d89f5 82.6px,#4561fc 85.6px,#08bcbf 86.1px)"></i>
<i style="top:68.30px;height:1.02px;background:linear-gradient(90deg,#08bcbf 5.8px,#1caadf 6.3px,#01b8c9 9.2px,#1fc0b2 12.1px,#34c79b 15.0px,#4acb84 17.9px,#65cd6e 20.9px,#7ecc5a 23.8px,#94ca4a 26.7px,#a5c83d 29.6px,#b3c534 32.5px,#bdc32e 35.4px,#c5c22a 38.4px,#cac129 41.3px,#ccc028 44.2px,#cdc028 47.1px,#cbc129 50.0px,#c6c22a 52.9px,#bec32e 55.9px,#b1c635 58.8px,#9fc942 61.7px,#86cb55 64.6px,#66cd6d 67.5px,#44ca8a 70.4px,#2cc4a7 73.4px,#02bac3 76.3px,#1caadf 79.2px,#2c8ef1 82.1px,#4368fe 85.0px,#08bcbf 85.5px)"></i>
<i style="top:69.30px;height:1.02px;background:linear-gradient(90deg,#08bcbf 6.4px,#16afd9 6.9px,#06bcc0 9.9px,#2bc3a8 12.8px,#3eca8f 15.8px,#5ccc76 18.8px,#79cc5e 21.8px,#93ca4b 24.8px,#a8c73b 27.8px,#b8c431 30.7px,#c4c22b 33.7px,#cdc028 36.7px,#d3bf27 39.7px,#d6be28 42.7px,#d8be28 45.6px,#d7be28 48.6px,#d3bf27 51.6px,#ccc028 54.6px,#c1c32c 57.6px,#b0c636 60.6px,#99c946 63.5px,#79cc5e 66.5px,#54cc7c 69.5px,#34c79c 72.5px,#10beba 75.5px,#15afd9 78.5px,#2895ec 81.4px,#3e6fff 84.4px,#08bcbf 84.9px)"></i>
<i style="top:70.31px;height:1.02px;background:linear-gradient(90deg,#08bcbf 7.1px,#0ab4d2 7.5px,#15bfb8 10.4px,#32c69e 13.4px,#4bcb84 16.3px,#6bcd69 19.2px,#89cb52 22.2px,#a2c83f 25.1px,#b6c532 28.0px,#c5c22a 31.0px,#d0bf27 33.9px,#d8be28 36.8px,#debd29 39.8px,#e1bc2b 42.7px,#e2bc2b 45.7px,#e1bc2b 48.6px,#ddbd29 51.5px,#d6be28 54.5px,#cbc129 57.4px,#bbc430 60.3px,#a4c83e 63.3px,#85cb56 66.2px,#5ecd74 69.1px,#39c994 72.1px,#1cc0b4 75.0px,#0cb3d3 77.9px,#269be8 80.9px,#3677fe 83.8px,#08bcbf 84.2px)"></i>
<i style="top:71.31px;height:1.02px;background:linear-gradient(90deg,#08bcbf 7.7px,#01b8c9 8.2px,#25c2ad 11.2px,#3cc992 14.2px,#5dcc74 17.2px,#80cc59 20.2px,#9ec942 23.2px,#b6c532 26.2px,#c8c129 29.2px,#d5be28 32.2px,#debc2a 35.2px,#e5bb2d 38.2px,#e9bb30 41.2px,#ebba31 44.2px,#ebba31 47.1px,#e8bb2f 50.1px,#e2bc2b 53.1px,#d9be28 56.1px,#cbc129 59.1px,#b6c532 62.1px,#99c946 65.1px,#72cd64 68.1px,#47cb87 71.1px,#2ac3a9 74.1px,#01b8ca 77.1px,#22a1e4 80.1px,#3080fb 83.1px,#08bcbf 83.6px)"></i>
<i style="top:72.32px;height:1.02px;background:linear-gradient(90deg,#08bcbf 8.5px,#07bcbf 8.9px,#2ec5a3 11.8px,#48cb86 14.8px,#6dcd67 17.7px,#91ca4c 20.7px,#adc638 23.6px,#c3c22b 26.5px,#d4bf28 29.5px,#e0bc2a 32.4px,#e9bb2f 35.4px,#eeba34 38.3px,#f2ba38 41.2px,#f3ba39 44.2px,#f3ba38 47.1px,#f0ba36 50.1px,#ebba31 53.0px,#e2bc2b 55.9px,#d4bf28 58.9px,#c0c32d 61.8px,#a4c83e 64.8px,#7ecc5a 67.7px,#52cc7e 70.6px,#30c5a2 73.6px,#02bbc3 76.5px,#1ea7e1 79.5px,#2d88f6 82.4px,#08bcbf 82.8px)"></i>
<i style="top:73.32px;height:1.02px;background:linear-gradient(90deg,#08bcbf 9.2px,#1abfb5 9.7px,#37c897 12.7px,#5ccc76 15.7px,#84cc56 18.7px,#a6c83c 21.7px,#c1c32c 24.7px,#d4be28 27.7px,#e3bc2c 30.7px,#edba33 33.7px,#f4ba39 36.7px,#f8ba3d 39.7px,#fabb3d 42.7px,#fabb3d 45.7px,#f9bb3d 48.6px,#f5ba3a 51.6px,#edba34 54.6px,#e2bc2b 57.6px,#d1bf27 60.6px,#b7c532 63.6px,#93ca4a 66.6px,#65cd6e 69.6px,#39c895 72.6px,#13beb9 75.6px,#18addb 78.6px,#2c8ff0 81.6px,#08bcbf 82.1px)"></i>
<i style="top:74.33px;height:1.02px;background:linear-gradient(90deg,#08bcbf 10.0px,#29c3aa 10.5px,#43ca8a 13.4px,#6dcd68 16.3px,#95ca49 19.3px,#b6c532 22.2px,#cec028 25.1px,#e0bc2a 28.1px,#edba33 31.0px,#f6ba3b 33.9px,#fbbc3d 36.9px,#febe3c 39.8px,#febf3b 42.7px,#febf3b 45.7px,#febe3c 48.6px,#fbbc3d 51.5px,#f5ba3a 54.4px,#eaba31 57.4px,#dabd28 60.3px,#c2c22c 63.2px,#a0c841 66.2px,#72cd63 69.1px,#42ca8c 72.0px,#21c1b1 75.0px,#0eb2d4 77.9px,#2797ea 80.8px,#08bcbf 81.3px)"></i>
<i style="top:75.33px;height:1.02px;background:linear-gradient(90deg,#08bcbf 10.9px,#33c69e 11.3px,#57cc7a 14.3px,#84cc56 17.3px,#abc739 20.3px,#c9c129 23.3px,#dfbc2a 26.3px,#eeba34 29.2px,#f8ba3d 32.2px,#febe3c 35.2px,#fec139 38.2px,#fec438 41.2px,#fec537 44.2px,#fec438 47.1px,#fec13a 50.1px,#fdbd3d 53.1px,#f5ba3b 56.1px,#e8bb2e 59.1px,#d3bf27 62.1px,#b4c534 65.0px,#89cb53 68.0px,#54cc7c 71.0px,#2ec4a5 74.0px,#01b8ca 77.0px,#249fe5 80.0px,#08bcbf 80.4px)"></i>
<i style="top:76.33px;height:1.02px;background:linear-gradient(90deg,#08bcbf 11.8px,#3eca8f 12.2px,#6acd6a 15.1px,#98ca47 18.0px,#bcc42f 21.0px,#d6be28 23.9px,#e9bb30 26.8px,#f7ba3c 29.7px,#febe3c 32.6px,#fec338 35.5px,#fec735 38.4px,#fec934 41.3px,#feca33 44.2px,#fec934 47.1px,#fec636 50.0px,#fec13a 52.9px,#fbbc3d 55.8px,#efba35 58.7px,#dcbd29 61.6px,#bfc32d 64.5px,#97ca48 67.4px,#62cd70 70.3px,#35c79b 73.3px,#06bcc0 76.2px,#1ea7e1 79.1px,#08bcbf 79.5px)"></i>
<i style="top:77.34px;height:1.02px;background:linear-gradient(90deg,#08bcbf 12.7px,#51cc7f 13.2px,#82cc57 16.1px,#aec637 19.1px,#cfc028 22.0px,#e6bb2d 25.0px,#f6ba3b 27.9px,#febf3b 30.9px,#fec536 33.8px,#feca33 36.8px,#fdce31 39.7px,#fccf30 42.7px,#fccf31 45.7px,#fdcc32 48.6px,#fec835 51.6px,#fec239 54.5px,#fabb3d 57.5px,#eaba31 60.4px,#d1bf27 63.4px,#acc738 66.3px,#79cc5e 69.3px,#42ca8b 72.2px,#1bc0b4 75.2px,#16afd9 78.1px,#08bcbf 78.6px)"></i>
<i style="top:78.34px;height:1.02px;background:linear-gradient(90deg,#08bcbf 13.8px,#68cd6c 14.2px,#9bc945 17.2px,#c3c22b 20.2px,#e0bc2a 23.2px,#f4ba39 26.2px,#febf3b 29.2px,#fec736 32.2px,#fdcd32 35.2px,#fbd12f 38.2px,#fad42e 41.2px,#fad42e 44.2px,#fbd32e 47.1px,#fccf30 50.1px,#fec934 53.1px,#fec13a 56.1px,#f6ba3c 59.1px,#e1bc2b 62.1px,#c1c32c 65.1px,#92ca4c 68.1px,#57cc7a 71.1px,#2cc4a7 74.1px,#06b5cf 77.1px,#08bcbf 77.5px)"></i>
<i style="top:79.35px;height:1.02px;background:linear-gradient(90deg,#08bcbf 14.9px,#81cc58 15.3px,#b0c636 18.2px,#d4bf28 21.1px,#ecba33 24.0px,#fcbc3d 26.9px,#fec537 29.8px,#fdcd32 32.6px,#fbd32e 35.5px,#f9d72d 38.4px,#f8d92b 41.3px,#f8d92b 44.2px,#f9d82c 47.1px,#fad42e 50.0px,#fdce31 52.9px,#fec636 55.8px,#fcbc3d 58.7px,#eabb30 61.5px,#cdc028 64.4px,#a2c840 67.3px,#68cd6b 70.2px,#35c79a 73.1px,#04bbc2 76.0px,#08bcbf 76.4px)"></i>
<i style="top:80.35px;height:1.02px;background:linear-gradient(90deg,#08bcbf 16.0px,#9cc944 16.5px,#c7c12a 19.4px,#e5bb2d 22.3px,#f9bb3d 25.2px,#fec438 28.1px,#fdcd31 31.1px,#fad52e 34.0px,#f8da2b 36.9px,#f6dd29 39.8px,#f6de29 42.7px,#f6de29 45.7px,#f8da2b 48.6px,#fad52d 51.5px,#fdcd31 54.4px,#fec338 57.3px,#f7ba3c 60.2px,#debc2a 63.2px,#b9c431 66.1px,#83cc57 69.0px,#45cb88 71.9px,#1cc0b4 74.8px,#08bcbf 75.3px)"></i>
<i style="top:81.36px;height:1.02px;background:linear-gradient(90deg,#08bcbf 17.3px,#b5c533 17.7px,#dbbd28 20.7px,#f4ba3a 23.6px,#fec239 26.5px,#fdcd32 29.5px,#fad52d 32.4px,#f7dc2a 35.4px,#f6e128 38.3px,#f5e327 41.2px,#f5e327 44.2px,#f6e128 47.1px,#f7dc2a 50.1px,#fad52e 53.0px,#fdcb33 55.9px,#febf3b 58.9px,#eeba34 61.8px,#cec028 64.8px,#9dc943 67.7px,#5ecd74 70.6px,#2ec5a4 73.6px,#08bcbf 74.0px)"></i>
<i style="top:82.36px;height:1.02px;background:linear-gradient(90deg,#08bcbf 18.6px,#cdc028 19.1px,#ecba33 22.0px,#febe3c 25.0px,#fdcb33 27.9px,#fad52d 30.9px,#f6dd29 33.8px,#f5e327 36.8px,#f5e626 39.7px,#f5e725 42.7px,#f5e626 45.7px,#f5e227 48.6px,#f7dc2a 51.6px,#fbd32e 54.5px,#fec835 57.5px,#fabb3d 60.4px,#e0bc2b 63.4px,#b7c532 66.3px,#7bcc5d 69.3px,#3cc991 72.2px,#08bcbf 72.7px)"></i>
<i style="top:83.36px;height:1.02px;background:linear-gradient(90deg,#08bcbf 20.1px,#e2bc2b 20.5px,#fabc3d 23.5px,#fec835 26.5px,#fad42e 29.4px,#f6dd29 32.4px,#f5e426 35.3px,#f5e924 38.3px,#f5eb23 41.2px,#f5eb23 44.2px,#f5e825 47.1px,#f5e327 50.1px,#f7db2b 53.0px,#fcd030 56.0px,#fec339 58.9px,#f1ba36 61.9px,#cec028 64.8px,#9ac946 67.8px,#57cc7a 70.8px,#08bcbf 71.2px)"></i>
<i style="top:84.37px;height:1.02px;background:linear-gradient(90deg,#08bcbf 21.7px,#f4ba3a 22.1px,#fec437 25.1px,#fbd22f 28.0px,#f7dd2a 31.0px,#f5e526 33.9px,#f5eb23 36.8px,#f5ee21 39.8px,#f5ef21 42.7px,#f5ed22 45.7px,#f5e924 48.6px,#f5e227 51.5px,#f8d82c 54.5px,#fdcc32 57.4px,#fdbd3d 60.3px,#e3bc2c 63.3px,#b7c532 66.2px,#78cc5f 69.2px,#08bcbf 69.6px)"></i>
<i style="top:85.37px;height:1.02px;background:linear-gradient(90deg,#08bcbf 23.4px,#fec13a 23.9px,#fccf30 26.8px,#f7db2a 29.7px,#f5e526 32.6px,#f5ec23 35.5px,#f6f020 38.4px,#f6f21e 41.3px,#f6f11f 44.2px,#f5ee21 47.1px,#f5e924 50.0px,#f6e028 52.9px,#fad52e 55.8px,#fec636 58.7px,#f5ba3a 61.6px,#d2bf27 64.5px,#9dc943 67.4px,#08bcbf 67.9px)"></i>
<i style="top:86.38px;height:1.02px;background:linear-gradient(90deg,#08bcbf 25.4px,#fdcd32 25.9px,#f8da2b 28.7px,#f5e426 31.5px,#f5ec22 34.3px,#f6f11f 37.2px,#f7f41c 40.0px,#f7f41c 42.8px,#f6f21d 45.7px,#f5ee21 48.5px,#f5e725 51.3px,#f7dd2a 54.1px,#fcd030 57.0px,#fec13a 59.8px,#eaba31 62.6px,#c1c32c 65.4px,#08bcbf 65.9px)"></i>
<i style="top:87.38px;height:1.02px;background:linear-gradient(90deg,#08bcbf 27.6px,#f8d92b 28.1px,#f5e526 31.0px,#f5ed21 33.9px,#f7f31d 36.9px,#f7f61a 39.8px,#f8f619 42.7px,#f7f41c 45.7px,#f6f020 48.6px,#f5e825 51.5px,#f7dd2a 54.4px,#fdce31 57.4px,#febd3c 60.3px,#e2bc2b 63.2px,#08bcbf 63.7px)"></i>
<i style="top:88.39px;height:1.02px;background:linear-gradient(90deg,#08bcbf 30.3px,#f5e626 30.7px,#f5ef21 33.7px,#f7f51b 36.7px,#f8f818 39.7px,#f8f817 42.7px,#f7f61a 45.7px,#f6f11f 48.6px,#f5e924 51.6px,#f7dd2a 54.6px,#fdcd32 57.6px,#fbbc3d 60.6px,#08bcbf 61.0px)"></i>
<i style="top:89.39px;height:1.02px;background:linear-gradient(90deg,#08bcbf 33.6px,#f6f11f 34.0px,#f8f61a 36.9px,#f9f916 39.8px,#f9fa16 42.7px,#f8f719 45.7px,#f6f21e 48.6px,#f5ea24 51.5px,#f6de29 54.4px,#fdce31 57.3px,#08bcbf 57.7px)"></i>
<i style="top:90.40px;height:1.02px;background:linear-gradient(90deg,#08bcbf 38.5px,#f9fa16 38.9px,#f9fb15 41.6px,#f9f916 44.3px,#f7f61a 47.0px,#f6ef20 49.7px,#f5e626 52.4px,#08bcbf 52.8px)"></i>
</div>
<div class="fr" style="left:402.7px;top:56.2px;width:91.3px;height:91.4px"></div>
<div class="cb" style="left:509.0px;top:56.2px;width:8.5px;height:91.6px;background:linear-gradient(180deg,#f9fb15 0.0%,#f5e327 6.2%,#feca33 12.5%,#f1ba37 18.8%,#c8c129 25.0%,#94ca4a 31.2%,#5ccc76 37.5%,#34c79c 43.8%,#12beb9 50.0%,#0cb3d3 56.2%,#21a3e3 62.5%,#2c90f0 68.8%,#347afd 75.0%,#4562fc 81.2%,#484cef 87.5%,#4536d5 93.8%,#3e26a8 100.0%)"></div>
<div class="pm" style="left:221.3px;top:188.2px;width:90.9px;height:91.4px;background:#31c6a0">
<i style="top:0.00px;height:1.02px;background:linear-gradient(90deg,#31c6a0 38.3px,#2c8ef1 38.7px,#23a1e5 41.4px,#12b1d7 44.1px,#07bcbf 46.8px,#2ec4a5 49.5px,#4acb84 52.2px,#31c6a0 52.6px)"></i>
<i style="top:1.00px;height:1.02px;background:linear-gradient(90deg,#31c6a0 33.4px,#416bfe 33.9px,#2e83f9 36.8px,#2798ea 39.7px,#1baade 42.6px,#01b8c9 45.4px,#25c2ae 48.3px,#3fca8e 51.2px,#70cd65 54.1px,#a7c73c 57.0px,#31c6a0 57.5px)"></i>
<i style="top:2.01px;height:1.02px;background:linear-gradient(90deg,#31c6a0 30.1px,#4756f7 30.6px,#3f6dfe 33.6px,#2e85f8 36.5px,#269ae9 39.5px,#1aacdd 42.5px,#01b9c6 45.4px,#28c3ab 48.4px,#44cb8a 51.4px,#77cc60 54.4px,#aec637 57.3px,#dbbd29 60.3px,#31c6a0 60.8px)"></i>
<i style="top:3.01px;height:1.02px;background:linear-gradient(90deg,#31c6a0 27.5px,#4848ec 28.0px,#465dfa 30.9px,#3a74fe 33.8px,#2d8af5 36.7px,#259de7 39.6px,#17aedb 42.5px,#02bac4 45.4px,#2ac3a9 48.4px,#44cb89 51.3px,#75cc61 54.2px,#abc739 57.1px,#d8be28 60.0px,#f9ba3d 62.9px,#31c6a0 63.4px)"></i>
<i style="top:4.02px;height:1.02px;background:linear-gradient(90deg,#31c6a0 25.3px,#463ddf 25.7px,#4851f3 28.6px,#4465fd 31.4px,#337bfc 34.2px,#2c8ff1 37.0px,#23a0e5 39.8px,#14b0d8 42.6px,#04bbc2 45.4px,#2ac3a8 48.3px,#44ca8a 51.1px,#71cd64 53.9px,#a4c83e 56.7px,#d1bf27 59.5px,#f2ba38 62.3px,#fec735 65.2px,#31c6a0 65.6px)"></i>
<i style="top:5.02px;height:1.02px;background:linear-gradient(90deg,#31c6a0 23.3px,#4535d2 23.8px,#4848ec 26.7px,#475dfa 29.6px,#3c72ff 32.5px,#2e87f7 35.3px,#2699e9 38.2px,#1caadf 41.1px,#03b7cc 44.0px,#1cc0b3 46.9px,#37c898 49.8px,#5dcc74 52.7px,#90ca4d 55.6px,#c0c32d 58.4px,#e7bb2e 61.3px,#fec03b 64.2px,#fbd32e 67.1px,#31c6a0 67.6px)"></i>
<i style="top:6.03px;height:1.02px;background:linear-gradient(90deg,#31c6a0 21.6px,#4330c5 22.0px,#4742e6 25.0px,#4756f6 27.9px,#426afe 30.8px,#307ffb 33.7px,#2b92ee 36.7px,#21a3e3 39.6px,#0fb2d5 42.5px,#09bcbe 45.4px,#2ec4a4 48.4px,#49cb85 51.3px,#79cc5f 54.2px,#abc739 57.2px,#d6be28 60.1px,#f7ba3c 63.0px,#feca33 65.9px,#f6de29 68.9px,#31c6a0 69.3px)"></i>
<i style="top:7.03px;height:1.02px;background:linear-gradient(90deg,#31c6a0 20.0px,#412dbb 20.5px,#463cdf 23.4px,#4850f2 26.3px,#4563fd 29.3px,#3678fd 32.2px,#2d8bf3 35.2px,#259de7 38.1px,#19acdc 41.0px,#01b8c8 44.0px,#21c1b0 46.9px,#39c995 49.9px,#61cd72 52.8px,#93ca4b 55.7px,#c2c22c 58.7px,#e7bb2e 61.6px,#fec03b 64.6px,#fbd32e 67.5px,#f5e626 70.4px,#31c6a0 70.9px)"></i>
<i style="top:8.04px;height:1.02px;background:linear-gradient(90deg,#31c6a0 18.5px,#402ab4 19.0px,#4538d8 21.9px,#484bef 24.9px,#465efb 27.8px,#3c71ff 30.8px,#2e85f8 33.7px,#2797eb 36.6px,#1ea6e1 39.6px,#0ab4d1 42.5px,#0ebdbb 45.4px,#2fc5a2 48.4px,#4bcb84 51.3px,#79cc5e 54.3px,#aac73a 57.2px,#d4bf28 60.1px,#f4ba3a 63.1px,#fec835 66.0px,#f7db2b 69.0px,#f5ed22 71.9px,#31c6a0 72.4px)"></i>
<i style="top:9.04px;height:1.02px;background:linear-gradient(90deg,#31c6a0 17.2px,#3f28ae 17.7px,#4536d3 20.6px,#4747eb 23.5px,#4759f8 26.4px,#416cfe 29.4px,#307ffb 32.3px,#2b91ef 35.2px,#23a1e5 38.1px,#16afd9 41.1px,#01bac5 44.0px,#24c1ae 46.9px,#3ac994 49.8px,#60cd72 52.8px,#90ca4d 55.7px,#bdc32e 58.6px,#e2bc2b 61.5px,#fdbd3d 64.5px,#fdce31 67.4px,#f5e128 70.3px,#f6f21e 73.2px,#31c6a0 73.7px)"></i>
<i style="top:10.04px;height:1.02px;background:linear-gradient(90deg,#31c6a0 16.0px,#3e27aa 16.4px,#4434ce 19.3px,#4744e8 22.2px,#4755f6 25.1px,#4367fd 28.0px,#347afd 30.9px,#2d8bf3 33.8px,#259be8 36.7px,#1caadf 39.6px,#06b6ce 42.5px,#12beb9 45.4px,#30c5a1 48.4px,#4acb84 51.3px,#75cc61 54.2px,#a4c83e 57.1px,#cdc028 60.0px,#eeba34 62.9px,#fec239 65.8px,#fad42e 68.7px,#f5e626 71.6px,#f7f51b 74.5px,#31c6a0 74.9px)"></i>
<i style="top:11.05px;height:1.02px;background:linear-gradient(90deg,#31c6a0 14.8px,#3e26a8 15.2px,#4433cb 18.1px,#4742e6 21.0px,#4853f4 23.9px,#4563fd 26.8px,#3875fe 29.6px,#2e87f7 32.5px,#2896eb 35.4px,#20a4e3 38.3px,#12b1d6 41.1px,#03bbc3 44.0px,#25c2ad 46.9px,#3ac994 49.8px,#5dcc75 52.6px,#8acb52 55.5px,#b5c533 58.4px,#dabd28 61.3px,#f7ba3c 64.1px,#fec835 67.0px,#f8d92b 69.9px,#f5ea24 72.8px,#f8f818 75.7px,#31c6a0 76.1px)"></i>
<i style="top:12.05px;height:1.02px;background:linear-gradient(90deg,#31c6a0 13.7px,#3e26a8 14.2px,#4332cb 17.1px,#4741e5 20.1px,#4853f4 23.1px,#4563fd 26.1px,#3875fe 29.1px,#2e87f7 32.0px,#2796eb 35.0px,#20a5e3 38.0px,#11b1d6 41.0px,#03bbc2 44.0px,#26c2ac 46.9px,#3bc992 49.9px,#60cd72 52.9px,#8dcb4f 55.9px,#b9c430 58.9px,#debd29 61.8px,#f9bb3d 64.8px,#feca33 67.8px,#f7dc2a 70.8px,#f5ec22 73.8px,#f9fa16 76.7px,#31c6a0 77.2px)"></i>
<i style="top:13.06px;height:1.02px;background:linear-gradient(90deg,#31c6a0 12.7px,#3e26a8 13.1px,#4332ca 16.1px,#4740e4 19.0px,#4851f3 22.0px,#4661fc 24.9px,#3c71ff 27.8px,#2f82f9 30.8px,#2b92ee 33.7px,#23a0e5 36.6px,#19addc 39.6px,#02b7cb 42.5px,#16bfb7 45.4px,#31c6a0 48.4px,#49cb85 51.3px,#72cd63 54.3px,#9fc942 57.2px,#c7c12a 60.1px,#e7bb2e 63.1px,#febe3c 66.0px,#fdce31 68.9px,#f6df29 71.9px,#f5ee21 74.8px,#f9fb15 77.8px,#31c6a0 78.2px)"></i>
<i style="top:14.06px;height:1.02px;background:linear-gradient(90deg,#31c6a0 11.7px,#3e27a9 12.2px,#4332ca 15.1px,#4740e3 18.0px,#484ff2 20.9px,#465efb 23.8px,#3f6eff 26.6px,#307ffb 29.5px,#2c8ef2 32.4px,#259be8 35.3px,#1da8e0 38.2px,#0cb3d3 41.1px,#06bcc0 44.0px,#27c2ac 46.9px,#39c994 49.8px,#5acc77 52.7px,#84cc56 55.6px,#aec637 58.5px,#d2bf27 61.4px,#efba35 64.3px,#fec239 67.1px,#fbd22f 70.0px,#f5e128 72.9px,#f6ef20 75.8px,#f9fb15 78.7px,#31c6a0 79.2px)"></i>
<i style="top:15.07px;height:1.02px;background:linear-gradient(90deg,#31c6a0 10.8px,#3e27ab 11.3px,#4433cc 14.3px,#4741e5 17.2px,#4850f3 20.2px,#465ffb 23.2px,#3e6fff 26.1px,#307ffb 29.1px,#2c8ef1 32.1px,#259ce7 35.1px,#1da8e0 38.0px,#0bb3d2 41.0px,#07bcc0 44.0px,#27c2ab 46.9px,#3ac994 49.9px,#5bcc76 52.9px,#85cb55 55.8px,#afc637 58.8px,#d3bf27 61.8px,#f0ba36 64.8px,#fec239 67.7px,#fbd22f 70.7px,#f5e228 73.7px,#f6f020 76.6px,#f9fb15 79.6px,#31c6a0 80.1px)"></i>
<i style="top:16.07px;height:1.02px;background:linear-gradient(90deg,#31c6a0 10.0px,#3f28af 10.4px,#4434ce 13.3px,#4741e5 16.3px,#4850f2 19.2px,#465efb 22.1px,#406dfe 25.0px,#327dfc 27.9px,#2d8bf4 30.9px,#2798ea 33.8px,#20a4e3 36.7px,#15afd8 39.6px,#01b8c8 42.5px,#19bfb5 45.4px,#30c5a1 48.4px,#46cb88 51.3px,#6bcd69 54.2px,#94ca4a 57.1px,#bbc42f 60.0px,#dcbd29 63.0px,#f5ba3b 65.9px,#fec537 68.8px,#fad42e 71.7px,#f5e327 74.6px,#f6f020 77.6px,#f9fa16 80.5px,#31c6a0 80.9px)"></i>
<i style="top:17.07px;height:1.02px;background:linear-gradient(90deg,#31c6a0 9.2px,#402ab3 9.6px,#4435d2 12.6px,#4743e7 15.6px,#4852f4 18.6px,#4660fb 21.6px,#3f6eff 24.6px,#317efb 27.5px,#2d8bf3 30.5px,#2698ea 33.5px,#20a5e3 36.5px,#14b0d8 39.5px,#01b9c8 42.5px,#19bfb5 45.4px,#30c5a1 48.4px,#46cb88 51.4px,#6bcd69 54.4px,#94ca4a 57.4px,#bbc42f 60.4px,#dcbd29 63.4px,#f5ba3b 66.3px,#fec537 69.3px,#fad42e 72.3px,#f5e227 75.3px,#f5ef21 78.3px,#f8f817 81.3px,#31c6a0 81.7px)"></i>
<i style="top:18.08px;height:1.02px;background:linear-gradient(90deg,#31c6a0 8.4px,#402bb8 8.9px,#4536d5 11.8px,#4744e8 14.7px,#4852f4 17.6px,#465ffb 20.6px,#406dfe 23.5px,#327cfc 26.4px,#2d89f5 29.4px,#2895ec 32.3px,#23a1e4 35.2px,#1aacdd 38.1px,#06b5cf 41.1px,#09bcbe 44.0px,#27c2ac 46.9px,#38c896 49.8px,#54cc7c 52.8px,#79cc5e 55.7px,#a1c840 58.6px,#c5c22a 61.5px,#e2bc2b 64.5px,#f9bb3d 67.4px,#fec736 70.3px,#fad52d 73.3px,#f5e227 76.2px,#f5ed21 79.1px,#f8f619 82.0px,#31c6a0 82.5px)"></i>
<i style="top:19.08px;height:1.02px;background:linear-gradient(90deg,#31c6a0 7.7px,#412dbd 8.2px,#4539d9 11.1px,#4746eb 14.1px,#4854f5 17.1px,#4561fc 20.1px,#3e6fff 23.1px,#317dfc 26.1px,#2d8af5 29.0px,#2896eb 32.0px,#22a1e4 35.0px,#19acdc 38.0px,#06b5cf 41.0px,#09bcbe 44.0px,#27c2ac 46.9px,#38c896 49.9px,#54cc7d 52.9px,#79cc5e 55.9px,#a0c841 58.9px,#c4c22b 61.9px,#e1bc2b 64.8px,#f8ba3d 67.8px,#fec636 70.8px,#fad42e 73.8px,#f6e128 76.8px,#f5ec23 79.8px,#f7f41c 82.7px,#31c6a0 83.2px)"></i>
<i style="top:20.09px;height:1.02px;background:linear-gradient(90deg,#31c6a0 7.0px,#4230c3 7.5px,#463bdc 10.4px,#4848ec 13.3px,#4755f6 16.2px,#4561fc 19.2px,#3f6eff 22.1px,#327cfc 25.0px,#2d88f6 27.9px,#2a93ed 30.8px,#249ee6 33.8px,#1da9e0 36.7px,#0fb2d5 39.6px,#01b9c6 42.5px,#1abfb5 45.4px,#2fc5a2 48.4px,#41ca8c 51.3px,#60cd72 54.2px,#86cb55 57.1px,#aac73a 60.1px,#cbc129 63.0px,#e6bb2d 65.9px,#fabb3d 68.8px,#fec735 71.7px,#fad42e 74.7px,#f6e028 77.6px,#f5ea24 80.5px,#f6f11e 83.4px,#31c6a0 83.9px)"></i>
<i style="top:21.09px;height:1.02px;background:linear-gradient(90deg,#31c6a0 6.4px,#4332c9 6.8px,#463ee0 9.8px,#484bee 12.8px,#4757f8 15.7px,#4564fd 18.7px,#3d70ff 21.7px,#317dfb 24.7px,#2d89f5 27.6px,#2994ed 30.6px,#249fe5 33.6px,#1ca9df 36.5px,#0eb2d4 39.5px,#01bac5 42.5px,#1abfb5 45.4px,#2fc5a3 48.4px,#40ca8d 51.4px,#5fcd73 54.4px,#84cc56 57.3px,#a9c73b 60.3px,#c9c129 63.3px,#e4bb2c 66.2px,#f9bb3d 69.2px,#fec537 72.2px,#fbd22f 75.2px,#f6dd29 78.1px,#f5e725 81.1px,#f5ee21 84.1px,#31c6a0 84.5px)"></i>
<i style="top:22.10px;height:1.02px;background:linear-gradient(90deg,#31c6a0 5.8px,#4434cf 6.2px,#4740e4 9.1px,#484df0 12.0px,#4759f8 14.9px,#4465fd 17.9px,#3d71ff 20.8px,#317dfc 23.7px,#2d88f6 26.6px,#2a92ee 29.5px,#259ce7 32.4px,#1fa6e2 35.3px,#15afd9 38.2px,#03b7cc 41.1px,#0bbdbd 44.0px,#26c2ac 46.9px,#35c79a 49.8px,#4bcb84 52.7px,#6bcd69 55.6px,#8fcb4e 58.5px,#b1c636 61.4px,#cfc028 64.3px,#e7bb2e 67.2px,#fabb3d 70.1px,#fec537 73.0px,#fcd12f 76.0px,#f7db2a 78.9px,#f5e427 81.8px,#f5ea24 84.7px,#31c6a0 85.1px)"></i>
<i style="top:23.10px;height:1.02px;background:linear-gradient(90deg,#31c6a0 5.2px,#4537d6 5.7px,#4744e8 8.6px,#4850f3 11.6px,#475cfa 14.5px,#4367fd 17.5px,#3a73fe 20.4px,#307ffb 23.3px,#2d8af5 26.3px,#2994ed 29.2px,#249de6 32.2px,#1ea7e1 35.1px,#14b0d8 38.1px,#03b7cc 41.0px,#0bbdbd 44.0px,#26c2ad 46.9px,#35c79a 49.9px,#4acb84 52.8px,#69cd6a 55.8px,#8dcb50 58.7px,#aec637 61.7px,#ccc028 64.6px,#e5bb2d 67.6px,#f8ba3d 70.5px,#fec338 73.4px,#fdce31 76.4px,#f8d82c 79.3px,#f6e028 82.3px,#f5e626 85.2px,#31c6a0 85.7px)"></i>
<i style="top:24.11px;height:1.02px;background:linear-gradient(90deg,#31c6a0 4.7px,#463adc 5.1px,#4747eb 8.1px,#4854f5 11.1px,#465ffb 14.1px,#426afe 17.1px,#3876fe 20.1px,#2f81fa 23.1px,#2d8bf3 26.0px,#2895ec 29.0px,#249ee6 32.0px,#1ea8e1 35.0px,#14b0d8 38.0px,#02b7cb 41.0px,#0bbdbd 44.0px,#26c2ad 46.9px,#35c79b 49.9px,#49cb85 52.9px,#67cd6c 55.9px,#8acb51 58.9px,#acc739 61.9px,#c9c129 64.9px,#e2bc2b 67.8px,#f5ba3b 70.8px,#fec13a 73.8px,#fdcc32 76.8px,#fad52d 79.8px,#f7dd2a 82.8px,#f5e128 85.8px,#31c6a0 86.2px)"></i>
<i style="top:25.11px;height:1.02px;background:linear-gradient(90deg,#31c6a0 4.2px,#473ee1 4.6px,#484bee 7.5px,#4756f7 10.5px,#4561fc 13.4px,#406cfe 16.3px,#3777fe 19.2px,#2f81fa 22.1px,#2d8bf4 25.0px,#2994ed 28.0px,#259de7 30.9px,#1fa5e2 33.8px,#18addb 36.7px,#08b4d0 39.6px,#02bac3 42.5px,#1abfb5 45.4px,#2dc4a5 48.4px,#3bc993 51.3px,#53cc7d 54.2px,#71cd64 57.1px,#92ca4b 60.0px,#b2c635 62.9px,#cdc028 65.9px,#e4bb2c 68.8px,#f5ba3b 71.7px,#fec03a 74.6px,#feca33 77.5px,#fbd22f 80.4px,#f8d92c 83.4px,#f7dd2a 86.3px,#31c6a0 86.7px)"></i>
<i style="top:26.11px;height:1.02px;background:linear-gradient(90deg,#31c6a0 3.7px,#4742e6 4.2px,#484ef1 7.1px,#475af9 10.1px,#4465fd 13.0px,#3e6fff 16.0px,#347afd 18.9px,#2e84f9 21.9px,#2d8df2 24.8px,#2895ec 27.8px,#249ee6 30.7px,#1fa6e2 33.7px,#17aeda 36.6px,#07b5d0 39.6px,#02bbc3 42.5px,#1abfb5 45.4px,#2dc4a5 48.4px,#3ac994 51.3px,#51cc7e 54.3px,#6fcd66 57.2px,#90ca4d 60.2px,#aec637 63.1px,#cac129 66.1px,#e0bc2b 69.0px,#f2ba38 72.0px,#febe3c 74.9px,#fec736 77.9px,#fdce31 80.8px,#fad42e 83.8px,#f9d82c 86.7px,#31c6a0 87.2px)"></i>
<i style="top:27.12px;height:1.02px;background:linear-gradient(90deg,#31c6a0 3.3px,#4746eb 3.7px,#4853f4 6.7px,#465efb 9.7px,#4368fe 12.7px,#3b73fe 15.6px,#317dfc 18.6px,#2e86f7 21.6px,#2c8ff1 24.6px,#2797eb 27.6px,#249fe5 30.5px,#1ea7e1 33.5px,#16afda 36.5px,#06b5cf 39.5px,#03bbc3 42.5px,#1abfb5 45.4px,#2dc4a6 48.4px,#39c994 51.4px,#50cc80 54.4px,#6ccd68 57.4px,#8ccb50 60.4px,#abc739 63.3px,#c6c22a 66.3px,#ddbd29 69.3px,#efba35 72.3px,#fbbc3d 75.3px,#fec338 78.2px,#fdca33 81.2px,#fcd030 84.2px,#fbd22f 87.2px,#31c6a0 87.6px)"></i>
<i style="top:28.12px;height:1.02px;background:linear-gradient(90deg,#31c6a0 2.8px,#484bee 3.3px,#4756f7 6.2px,#4561fc 9.1px,#416bfe 12.0px,#3975fe 14.9px,#307efb 17.8px,#2e87f7 20.7px,#2c8ff1 23.6px,#2797eb 26.6px,#249ee6 29.5px,#1fa5e2 32.4px,#19addc 35.3px,#0cb3d3 38.2px,#01b9c8 41.1px,#0dbdbb 44.0px,#24c2ae 46.9px,#32c69f 49.8px,#40ca8d 52.7px,#58cc79 55.6px,#74cc62 58.5px,#93ca4b 61.4px,#afc637 64.3px,#c8c129 67.3px,#ddbd29 70.2px,#edba34 73.1px,#fabb3d 76.0px,#fec13a 78.9px,#fec735 81.8px,#fdcb33 84.7px,#fdcd32 87.6px,#31c6a0 88.1px)"></i>
<i style="top:29.13px;height:1.02px;background:linear-gradient(90deg,#31c6a0 2.5px,#484ff2 2.9px,#475af9 5.8px,#4465fd 8.8px,#3e6fff 11.7px,#3579fd 14.6px,#2f82fa 17.6px,#2d8af5 20.5px,#2b91ef 23.4px,#2698ea 26.4px,#23a0e5 29.3px,#1ea7e1 32.2px,#18addb 35.2px,#0bb3d2 38.1px,#01b9c7 41.0px,#0ebdbb 44.0px,#24c2ae 46.9px,#31c6a0 49.9px,#3fca8e 52.8px,#56cc7b 55.7px,#71cd64 58.7px,#8fcb4e 61.6px,#abc739 64.5px,#c4c22b 67.5px,#d8be28 70.4px,#e9bb30 73.3px,#f6ba3b 76.3px,#febd3c 79.2px,#fec338 82.1px,#fec636 85.1px,#fec735 88.0px,#31c6a0 88.4px)"></i>
<i style="top:30.13px;height:1.02px;background:linear-gradient(90deg,#31c6a0 2.1px,#4854f5 2.5px,#465ffb 5.5px,#4269fe 8.5px,#3a73fe 11.4px,#317dfc 14.4px,#2e85f8 17.3px,#2d8cf3 20.3px,#2a93ed 23.3px,#269ae8 26.2px,#22a1e4 29.2px,#1da8e0 32.1px,#17aeda 35.1px,#09b4d1 38.1px,#01b9c7 41.0px,#0ebdbb 44.0px,#24c1ae 46.9px,#31c6a0 49.9px,#3eca8f 52.8px,#54cc7c 55.8px,#6ecd66 58.8px,#8bcb51 61.7px,#a6c73c 64.7px,#bfc32d 67.6px,#d4bf28 70.6px,#e5bb2c 73.6px,#f1ba37 76.5px,#fabb3d 79.5px,#febf3c 82.4px,#fec239 85.4px,#fec239 88.4px,#31c6a0 88.8px)"></i>
<i style="top:31.14px;height:1.02px;background:linear-gradient(90deg,#31c6a0 1.8px,#4758f8 2.2px,#4563fd 5.2px,#3f6efe 8.2px,#3677fe 11.2px,#2f80fa 14.1px,#2d88f6 17.1px,#2c8ff1 20.1px,#2896ec 23.1px,#259ce7 26.1px,#21a3e4 29.0px,#1da9e0 32.0px,#15afd9 35.0px,#08b4d0 38.0px,#01b9c6 41.0px,#0fbebb 44.0px,#24c1ae 46.9px,#31c6a1 49.9px,#3dc990 52.9px,#52cc7e 55.9px,#6bcd69 58.9px,#87cb54 61.9px,#a2c83f 64.8px,#bac430 67.8px,#cfc028 70.8px,#dfbc2a 73.8px,#ecba33 76.8px,#f6ba3b 79.7px,#fbbc3d 82.7px,#fdbd3d 85.7px,#fdbd3d 88.7px,#31c6a0 89.1px)"></i>
<i style="top:32.14px;height:1.02px;background:linear-gradient(90deg,#31c6a0 1.4px,#475dfa 1.9px,#4367fd 4.8px,#3c71ff 7.7px,#337bfc 10.6px,#2e83f9 13.5px,#2d8af5 16.4px,#2b90ef 19.3px,#2797eb 22.2px,#259de7 25.1px,#21a2e4 28.0px,#1da8e0 30.9px,#17aedb 33.8px,#0cb3d3 36.7px,#01b8ca 39.6px,#07bcc0 42.5px,#1ac0b4 45.4px,#2bc3a8 48.4px,#35c79b 51.3px,#43ca8a 54.2px,#59cc78 57.1px,#71cd64 60.0px,#8ccb50 62.9px,#a4c83e 65.8px,#bac430 68.7px,#cdc028 71.6px,#ddbd29 74.5px,#e8bb2f 77.4px,#f1ba37 80.3px,#f6ba3b 83.2px,#f8ba3d 86.1px,#f7ba3c 89.0px,#31c6a0 89.5px)"></i>
<i style="top:33.15px;height:1.02px;background:linear-gradient(90deg,#31c6a0 1.2px,#4561fc 1.6px,#406cfe 4.5px,#3776fe 7.5px,#307ffb 10.4px,#2e86f7 13.3px,#2d8df2 16.2px,#2a93ed 19.1px,#2699e9 22.1px,#249fe6 25.0px,#20a4e3 27.9px,#1caadf 30.8px,#16afd9 33.8px,#0ab4d2 36.7px,#01b8c9 39.6px,#08bcbf 42.5px,#1bc0b4 45.4px,#2ac3a8 48.4px,#34c79b 51.3px,#42ca8c 54.2px,#57cc7a 57.1px,#6ecd67 60.1px,#87cb54 63.0px,#9fc941 65.9px,#b5c533 68.8px,#c8c129 71.8px,#d7be28 74.7px,#e2bc2b 77.6px,#ebba31 80.5px,#efba35 83.4px,#f1ba37 86.4px,#efba35 89.3px,#31c6a0 89.7px)"></i>
<i style="top:34.15px;height:1.02px;background:linear-gradient(90deg,#31c6a0 0.9px,#4466fd 1.3px,#3c71ff 4.3px,#337bfc 7.2px,#2e83f9 10.2px,#2d8af4 13.1px,#2b90ef 16.0px,#2896eb 19.0px,#259ce7 21.9px,#23a1e4 24.9px,#1fa6e2 27.8px,#1babde 30.7px,#14b0d8 33.7px,#08b4d0 36.6px,#01b9c8 39.6px,#09bcbe 42.5px,#1bc0b4 45.4px,#2ac3a9 48.4px,#34c79c 51.3px,#40ca8d 54.3px,#54cc7c 57.2px,#6bcd69 60.2px,#83cc57 63.1px,#9ac945 66.0px,#b0c636 69.0px,#c2c22c 71.9px,#d1bf27 74.9px,#dcbd29 77.8px,#e4bb2c 80.7px,#e8bb2f 83.7px,#e9bb30 86.6px,#e5bb2d 89.6px,#31c6a0 90.0px)"></i>
<i style="top:35.15px;height:1.02px;background:linear-gradient(90deg,#31c6a0 0.7px,#416bfe 1.1px,#3876fe 4.1px,#307ffb 7.0px,#2e87f7 10.0px,#2c8ef2 12.9px,#2994ed 15.9px,#2699e9 18.8px,#249ee6 21.8px,#21a3e3 24.8px,#1ea8e0 27.7px,#19acdc 30.7px,#12b1d6 33.6px,#06b5cf 36.6px,#01b9c7 39.5px,#0abdbe 42.5px,#1cc0b3 45.4px,#2ac3a9 48.4px,#34c79c 51.4px,#3fca8e 54.3px,#52cc7e 57.3px,#67cd6c 60.2px,#7fcc5a 63.2px,#95ca49 66.1px,#aac73a 69.1px,#bcc42f 72.1px,#cac129 75.0px,#d5be28 78.0px,#ddbd29 80.9px,#e0bc2b 83.9px,#e0bc2a 86.8px,#dbbd29 89.8px,#31c6a0 90.2px)"></i>
<i style="top:36.16px;height:1.02px;background:linear-gradient(90deg,#31c6a0 0.4px,#3d70ff 0.9px,#327bfc 3.9px,#2e84f9 6.8px,#2d8bf4 9.8px,#2b91ef 12.8px,#2797eb 15.7px,#259ce7 18.7px,#23a0e5 21.7px,#20a5e2 24.7px,#1caadf 27.6px,#17aedb 30.6px,#0fb2d5 33.6px,#05b6ce 36.5px,#01b9c6 39.5px,#0bbdbd 42.5px,#1dc0b3 45.4px,#2ac3a9 48.4px,#33c79d 51.4px,#3eca8f 54.4px,#50cc80 57.3px,#64cd6f 60.3px,#7acc5d 63.3px,#90ca4d 66.2px,#a4c83e 69.2px,#b6c533 72.2px,#c4c22b 75.2px,#cec028 78.1px,#d5be28 81.1px,#d8be28 84.1px,#d7be28 87.0px,#d0bf27 90.0px,#31c6a0 90.5px)"></i>
<i style="top:37.16px;height:1.02px;background:linear-gradient(90deg,#31c6a0 0.3px,#3876fe 0.7px,#3080fa 3.7px,#2d88f6 6.7px,#2c8ff1 9.7px,#2995ec 12.6px,#269ae9 15.6px,#249ee6 18.6px,#21a3e3 21.6px,#1ea7e1 24.6px,#1aabdd 27.6px,#15afd9 30.5px,#0cb3d3 33.5px,#03b7cc 36.5px,#02bac4 39.5px,#0cbdbc 42.5px,#1dc0b3 45.4px,#2ac3a8 48.4px,#33c69d 51.4px,#3dc990 54.4px,#4ecc81 57.4px,#61cd71 60.4px,#76cc60 63.3px,#8bcb51 66.3px,#9fc942 69.3px,#afc636 72.3px,#bdc42f 75.3px,#c7c12a 78.3px,#cdc028 81.2px,#cfc028 84.2px,#ccc028 87.2px,#c4c22b 90.2px,#31c6a0 90.6px)"></i>
<i style="top:38.17px;height:1.02px;background:linear-gradient(90deg,#31c6a0 0.1px,#337bfc 0.5px,#2e85f8 3.5px,#2d8cf3 6.5px,#2a93ee 9.5px,#2798ea 12.5px,#259de7 15.5px,#22a1e4 18.5px,#1fa5e2 21.5px,#1ca9df 24.5px,#19addc 27.5px,#12b1d7 30.5px,#09b4d1 33.5px,#02b7ca 36.5px,#02bbc3 39.5px,#0ebdbb 42.5px,#1ec0b2 45.4px,#2bc3a8 48.4px,#33c69d 51.4px,#3cc991 54.4px,#4ccb83 57.4px,#5ecd74 60.4px,#72cd63 63.4px,#86cb54 66.4px,#99c946 69.4px,#a9c73b 72.4px,#b5c533 75.4px,#bfc32e 78.4px,#c4c22b 81.4px,#c5c22a 84.4px,#c1c32c 87.4px,#b7c531 90.4px,#31c6a0 90.8px)"></i>
<i style="top:39.17px;height:1.02px;background:linear-gradient(90deg,#31c6a0 0.0px,#2f80fa 0.4px,#2d89f5 3.3px,#2c90f0 6.2px,#2896eb 9.1px,#259be8 12.0px,#239fe5 14.9px,#21a3e3 17.8px,#1ea7e1 20.7px,#1baade 23.7px,#17aedb 26.6px,#12b1d6 29.5px,#09b4d1 32.4px,#02b7cb 35.3px,#02bac5 38.2px,#0abdbe 41.1px,#19bfb6 44.0px,#25c2ad 46.9px,#2ec5a4 49.8px,#36c899 52.7px,#40ca8d 55.6px,#50cc7f 58.5px,#61cd71 61.4px,#74cd62 64.3px,#86cb55 67.2px,#96ca48 70.2px,#a4c83e 73.1px,#b0c636 76.0px,#b7c532 78.9px,#bbc42f 81.8px,#bbc430 84.7px,#b5c533 87.6px,#aac73a 90.5px,#31c6a0 90.9px)"></i>
<i style="top:40.18px;height:1.02px;background:linear-gradient(90deg,#31c6a0 0.0px,#2e85f8 0.3px,#2d8df2 3.2px,#2994ed 6.1px,#269ae9 9.0px,#249ee6 11.9px,#21a2e4 14.8px,#1fa6e2 17.8px,#1caadf 20.7px,#19addc 23.6px,#14b0d8 26.5px,#0eb2d4 29.4px,#06b5cf 32.3px,#01b8c9 35.2px,#02bbc3 38.2px,#0cbdbc 41.1px,#1ac0b5 44.0px,#26c2ac 46.9px,#2ec5a3 49.8px,#36c799 52.7px,#3fca8e 55.7px,#4ecc81 58.6px,#5ecd74 61.5px,#6fcd66 64.4px,#81cc59 67.3px,#90ca4d 70.2px,#9dc943 73.1px,#a8c73b 76.1px,#afc637 79.0px,#b2c635 81.9px,#b0c636 84.8px,#a9c73a 87.7px,#9cc944 90.6px,#31c6a0 90.9px)"></i>
<i style="top:41.18px;height:1.02px;background:linear-gradient(90deg,#31c6a0 0.0px,#2d8af5 0.2px,#2b91ef 3.1px,#2798ea 6.0px,#249de6 8.9px,#22a2e4 11.9px,#1fa6e2 14.8px,#1da9e0 17.7px,#1aacdd 20.6px,#16afd9 23.5px,#11b1d6 26.5px,#0ab4d1 29.4px,#04b6cd 32.3px,#01b9c7 35.2px,#04bbc1 38.1px,#0ebebb 41.1px,#1cc0b4 44.0px,#27c2ac 46.9px,#2fc5a3 49.8px,#35c79a 52.8px,#3eca8f 55.7px,#4ccb83 58.6px,#5ccc76 61.5px,#6bcd69 64.4px,#7bcc5d 67.4px,#8acb52 70.3px,#96ca48 73.2px,#a0c841 76.1px,#a6c83d 79.0px,#a8c73b 82.0px,#a5c83d 84.9px,#9dc943 87.8px,#8ecb4f 90.7px,#31c6a0 90.9px)"></i>
<i style="top:42.18px;height:1.02px;background:linear-gradient(90deg,#31c6a0 0.0px,#2c8ef1 0.1px,#2896ec 3.0px,#259ce7 6.0px,#23a1e4 8.9px,#20a5e2 11.8px,#1da9e0 14.7px,#1aacdd 17.7px,#17aeda 20.6px,#12b1d7 23.5px,#0cb3d3 26.4px,#06b5cf 29.4px,#01b7ca 32.3px,#01bac5 35.2px,#07bcc0 38.1px,#11beb9 41.1px,#1dc0b3 44.0px,#27c2ab 46.9px,#2fc5a3 49.8px,#35c79a 52.8px,#3eca8f 55.7px,#4acb84 58.6px,#59cc78 61.5px,#67cd6c 64.5px,#76cc60 67.4px,#84cc56 70.3px,#8fca4d 73.2px,#98ca47 76.2px,#9dc943 79.1px,#9ec942 82.0px,#9ac946 84.9px,#90ca4d 87.9px,#7fcc5a 90.8px,#31c6a0 90.9px)"></i>
<i style="top:43.19px;height:1.02px;background:linear-gradient(90deg,#2a93ee 0.0px,#269ae9 3.0px,#23a0e5 5.9px,#20a4e3 8.8px,#1da8e0 11.8px,#1aabdd 14.7px,#17aeda 17.6px,#13b0d7 20.5px,#0db3d4 23.5px,#07b5d0 26.4px,#03b7cc 29.3px,#01b9c8 32.3px,#02bbc3 35.2px,#09bdbe 38.1px,#14bfb8 41.1px,#1fc0b1 44.0px,#28c3aa 46.9px,#2fc5a3 49.8px,#35c79a 52.8px,#3dc990 55.7px,#49cb86 58.6px,#56cc7b 61.6px,#64cd6f 64.5px,#71cd64 67.4px,#7ecc5b 70.4px,#88cb53 73.3px,#90ca4d 76.2px,#94ca4a 79.1px,#93ca4a 82.1px,#8ecb4f 85.0px,#83cc57 87.9px,#70cd65 90.9px)"></i>
<i style="top:44.19px;height:1.02px;background:linear-gradient(90deg,#2797eb 0.0px,#249ee6 2.9px,#21a3e3 5.9px,#1ea8e0 8.8px,#1aabdd 11.7px,#17aeda 14.7px,#13b1d7 17.6px,#0db3d4 20.5px,#08b4d0 23.5px,#04b6cd 26.4px,#01b8c9 29.3px,#01bac5 32.3px,#05bbc1 35.2px,#0dbdbc 38.1px,#17bfb6 41.1px,#21c1b0 44.0px,#29c3aa 46.9px,#2fc5a2 49.8px,#35c79a 52.8px,#3dc991 55.7px,#47cb87 58.6px,#54cc7d 61.6px,#60cd72 64.5px,#6ccd68 67.4px,#78cc5f 70.4px,#81cc58 73.3px,#88cb53 76.2px,#8bcb51 79.2px,#89cb52 82.1px,#82cc57 85.0px,#75cc61 88.0px,#63cd70 90.9px)"></i>
<i style="top:45.20px;height:1.02px;background:linear-gradient(90deg,#259be8 0.0px,#22a1e4 2.9px,#1ea7e1 5.9px,#1babde 8.8px,#17aeda 11.7px,#12b1d7 14.7px,#0db3d3 17.6px,#08b5d0 20.5px,#04b6cd 23.5px,#01b8ca 26.4px,#01b9c6 29.3px,#03bbc3 32.3px,#09bcbe 35.2px,#11beba 38.1px,#1ac0b5 41.1px,#23c1af 44.0px,#2ac3a9 46.9px,#30c5a2 49.8px,#35c79a 52.8px,#3cc991 55.7px,#46cb88 58.6px,#51cc7f 61.6px,#5dcc75 64.5px,#68cd6c 67.4px,#72cd64 70.4px,#7acc5d 73.3px,#80cc59 76.2px,#81cc58 79.2px,#7fcc5a 82.1px,#77cc60 85.0px,#69cd6b 88.0px,#57cc7a 90.9px)"></i>
<i style="top:46.20px;height:1.02px;background:linear-gradient(90deg,#249fe5 0.0px,#1fa5e2 2.9px,#1baade 5.9px,#17aeda 8.8px,#12b1d6 11.7px,#0cb3d3 14.7px,#07b5cf 17.6px,#04b6cc 20.5px,#01b8c9 23.5px,#01b9c6 26.4px,#02bac3 29.3px,#07bcc0 32.3px,#0cbdbc 35.2px,#15bfb7 38.1px,#1dc0b3 41.1px,#25c2ad 44.0px,#2bc3a8 46.9px,#30c5a1 49.8px,#35c79a 52.8px,#3cc992 55.7px,#45cb89 58.6px,#4fcc80 61.6px,#5acc78 64.5px,#63cd6f 67.4px,#6ccd68 70.4px,#73cd62 73.3px,#78cc5f 76.2px,#78cc5f 79.2px,#74cc62 82.1px,#6bcd69 85.0px,#5ecc74 88.0px,#4bcb84 90.9px)"></i>
<i style="top:47.21px;height:1.02px;background:linear-gradient(90deg,#21a3e3 0.0px,#1da9e0 3.0px,#18addb 5.9px,#12b1d6 8.8px,#0bb3d2 11.8px,#06b5cf 14.7px,#03b7cb 17.6px,#01b8c9 20.5px,#01b9c6 23.5px,#02bbc3 26.4px,#06bcc0 29.3px,#0bbdbd 32.3px,#11beb9 35.2px,#19bfb5 38.1px,#20c1b1 41.1px,#27c2ac 44.0px,#2cc4a6 46.9px,#31c6a0 49.8px,#35c799 52.8px,#3cc992 55.7px,#43ca8a 58.6px,#4dcc82 61.6px,#57cc7a 64.5px,#60cd73 67.4px,#67cd6c 70.4px,#6dcd68 73.3px,#70cd65 76.2px,#6fcd66 79.1px,#6acd6a 82.1px,#61cd71 85.0px,#53cc7d 87.9px,#40ca8d 90.9px)"></i>
<i style="top:48.21px;height:1.02px;background:linear-gradient(90deg,#31c6a0 0.0px,#1ea7e1 0.1px,#19acdc 3.0px,#13b0d7 6.0px,#0bb3d2 8.9px,#05b6ce 11.8px,#01b7ca 14.7px,#01b9c7 17.7px,#02bac5 20.6px,#03bbc2 23.5px,#07bcbf 26.4px,#0bbdbd 29.4px,#10beba 32.3px,#17bfb7 35.2px,#1dc0b3 38.1px,#23c1af 41.1px,#29c3aa 44.0px,#2dc4a5 46.9px,#31c69f 49.8px,#36c799 52.8px,#3bc992 55.7px,#43ca8b 58.6px,#4bcb84 61.5px,#54cc7c 64.5px,#5ccc76 67.4px,#62cd70 70.3px,#67cd6d 73.2px,#68cd6b 76.2px,#67cd6c 79.1px,#61cd71 82.0px,#57cc7a 84.9px,#48cb86 87.9px,#39c895 90.8px,#31c6a0 90.9px)"></i>
<i style="top:49.22px;height:1.02px;background:linear-gradient(90deg,#31c6a0 0.0px,#1baade 0.2px,#15afd8 3.1px,#0cb3d3 6.0px,#05b6ce 8.9px,#01b8c9 11.9px,#01b9c6 14.8px,#02bbc3 17.7px,#06bbc1 20.6px,#09bcbe 23.5px,#0cbdbc 26.5px,#11beb9 29.4px,#16bfb7 32.3px,#1bc0b4 35.2px,#21c1b0 38.1px,#26c2ad 41.1px,#2ac3a8 44.0px,#2ec5a4 46.9px,#32c69e 49.8px,#36c899 52.8px,#3bc992 55.7px,#42ca8c 58.6px,#49cb85 61.5px,#51cc7f 64.4px,#58cc79 67.4px,#5ecc74 70.3px,#61cd71 73.2px,#62cd71 76.1px,#5fcd73 79.0px,#59cc78 82.0px,#4ecc81 84.9px,#3fca8e 87.8px,#33c79d 90.7px,#31c6a0 90.9px)"></i>
<i style="top:50.22px;height:1.02px;background:linear-gradient(90deg,#31c6a0 0.0px,#18aedb 0.3px,#0eb2d4 3.2px,#05b6ce 6.1px,#01b8c9 9.0px,#02bac5 11.9px,#04bbc2 14.8px,#08bcbf 17.8px,#0bbdbc 20.7px,#0fbeba 23.6px,#14beb8 26.5px,#18bfb6 29.4px,#1cc0b4 32.3px,#20c1b1 35.2px,#24c2ae 38.2px,#28c3aa 41.1px,#2cc4a7 44.0px,#2fc5a2 46.9px,#33c69d 49.8px,#36c898 52.7px,#3bc992 55.7px,#41ca8c 58.6px,#48cb86 61.5px,#4fcc81 64.4px,#55cc7c 67.3px,#59cc78 70.2px,#5bcc76 73.1px,#5bcc76 76.1px,#58cc79 79.0px,#50cc7f 81.9px,#45cb88 84.8px,#39c895 87.7px,#2ec5a4 90.6px,#31c6a0 90.9px)"></i>
<i style="top:51.22px;height:1.02px;background:linear-gradient(90deg,#31c6a0 0.0px,#12b1d6 0.4px,#07b5cf 3.3px,#01b8c9 6.2px,#02bac4 9.1px,#06bcc0 12.0px,#0abdbd 14.9px,#0fbeba 17.8px,#13beb8 20.7px,#17bfb6 23.7px,#1ac0b4 26.6px,#1ec0b2 29.5px,#21c1b0 32.4px,#24c2ae 35.3px,#27c2ab 38.2px,#2bc3a8 41.1px,#2ec4a5 44.0px,#31c5a1 46.9px,#34c79c 49.8px,#37c897 52.7px,#3cc992 55.6px,#41ca8d 58.5px,#47cb87 61.4px,#4ccb83 64.3px,#51cc7f 67.2px,#55cc7c 70.2px,#56cc7b 73.1px,#55cc7c 76.0px,#51cc7f 78.9px,#49cb86 81.8px,#3eca8f 84.7px,#34c79c 87.6px,#29c3aa 90.5px,#31c6a0 90.9px)"></i>
<i style="top:52.23px;height:1.02px;background:linear-gradient(90deg,#31c6a0 0.1px,#0ab4d2 0.5px,#01b8ca 3.5px,#02bac4 6.5px,#08bcbf 9.5px,#0ebebb 12.5px,#14bfb8 15.5px,#19bfb5 18.5px,#1cc0b4 21.5px,#1fc0b2 24.5px,#21c1b0 27.5px,#24c1ae 30.5px,#26c2ac 33.5px,#29c3aa 36.5px,#2cc4a7 39.5px,#2ec4a4 42.5px,#30c5a1 45.4px,#33c79d 48.4px,#36c898 51.4px,#3ac994 54.4px,#3eca8f 57.4px,#44cb8a 60.4px,#49cb85 63.4px,#4dcc82 66.4px,#50cc7f 69.4px,#51cc7f 72.4px,#50cc80 75.4px,#4bcb84 78.4px,#43ca8b 81.4px,#39c995 84.4px,#30c5a1 87.4px,#22c1b0 90.4px,#31c6a0 90.8px)"></i>
<i style="top:53.23px;height:1.02px;background:linear-gradient(90deg,#31c6a0 0.3px,#04b6cd 0.7px,#01bac5 3.7px,#08bcbf 6.7px,#10beba 9.7px,#18bfb6 12.6px,#1cc0b3 15.6px,#20c1b1 18.6px,#23c1af 21.6px,#25c2ae 24.6px,#26c2ac 27.6px,#28c3ab 30.5px,#2ac3a9 33.5px,#2cc4a7 36.5px,#2ec4a5 39.5px,#30c5a2 42.5px,#32c69f 45.4px,#34c79b 48.4px,#37c897 51.4px,#3bc993 54.4px,#3eca8f 57.4px,#43ca8a 60.4px,#47cb87 63.3px,#4bcb84 66.3px,#4dcb82 69.3px,#4dcb82 72.3px,#4acb84 75.3px,#45cb89 78.3px,#3dc990 81.2px,#35c79a 84.2px,#2cc4a7 87.2px,#19bfb5 90.2px,#31c6a0 90.6px)"></i>
<i style="top:54.24px;height:1.02px;background:linear-gradient(90deg,#31c6a0 0.4px,#01b9c8 0.9px,#06bcc0 3.9px,#11beba 6.8px,#1abfb5 9.8px,#1fc1b1 12.8px,#24c1af 15.7px,#26c2ac 18.7px,#28c2ab 21.7px,#29c3aa 24.7px,#2bc3a8 27.6px,#2cc4a7 30.6px,#2dc4a6 33.6px,#2ec5a4 36.5px,#30c5a2 39.5px,#31c69f 42.5px,#33c79d 45.4px,#36c799 48.4px,#38c896 51.4px,#3bc992 54.4px,#3eca8f 57.3px,#42ca8b 60.3px,#46cb88 63.3px,#48cb86 66.2px,#49cb85 69.2px,#49cb86 72.2px,#45cb88 75.2px,#3fca8e 78.1px,#39c895 81.1px,#31c6a0 84.1px,#27c2ac 87.0px,#0ebebb 90.0px,#31c6a0 90.5px)"></i>
<i style="top:55.24px;height:1.02px;background:linear-gradient(90deg,#31c6a0 0.7px,#03bbc2 1.1px,#0fbebb 4.1px,#1ac0b5 7.0px,#22c1b0 10.0px,#26c2ac 12.9px,#29c3aa 15.9px,#2bc3a8 18.8px,#2cc4a6 21.8px,#2dc4a5 24.8px,#2ec4a4 27.7px,#2fc5a3 30.7px,#30c5a2 33.6px,#31c5a1 36.6px,#32c69f 39.5px,#33c79d 42.5px,#35c79a 45.4px,#37c898 48.4px,#39c994 51.4px,#3cc991 54.3px,#3fca8e 57.3px,#42ca8b 60.2px,#45cb89 63.2px,#46cb88 66.1px,#46cb87 69.1px,#45cb89 72.1px,#41ca8c 75.0px,#3cc992 78.0px,#35c79a 80.9px,#2ec4a4 83.9px,#20c1b1 86.8px,#07bcc0 89.8px,#31c6a0 90.2px)"></i>
<i style="top:56.25px;height:1.02px;background:linear-gradient(90deg,#31c6a0 0.9px,#0abdbd 1.3px,#19bfb6 4.3px,#22c1af 7.2px,#28c2ab 10.2px,#2bc3a7 13.1px,#2dc4a5 16.0px,#2fc5a3 19.0px,#30c5a2 21.9px,#30c5a1 24.9px,#31c6a0 27.8px,#32c69f 30.7px,#32c69e 33.7px,#33c69d 36.6px,#34c79c 39.6px,#35c79a 42.5px,#37c898 45.4px,#38c896 48.4px,#3bc993 51.3px,#3dc990 54.3px,#3fca8e 57.2px,#42ca8c 60.2px,#43ca8a 63.1px,#44cb89 66.0px,#44cb8a 69.0px,#41ca8c 71.9px,#3dca90 74.9px,#38c896 77.8px,#32c69e 80.7px,#2ac3a9 83.7px,#19bfb5 86.6px,#02bac4 89.6px,#31c6a0 90.0px)"></i>
<i style="top:57.25px;height:1.02px;background:linear-gradient(90deg,#31c6a0 1.2px,#14bfb8 1.6px,#21c1b0 4.5px,#28c3aa 7.5px,#2dc4a6 10.4px,#2fc5a2 13.3px,#31c6a0 16.2px,#32c69e 19.1px,#33c69d 22.1px,#34c79c 25.0px,#34c79c 27.9px,#34c79b 30.8px,#35c79a 33.8px,#35c799 36.7px,#36c898 39.6px,#37c897 42.5px,#39c895 45.4px,#3ac993 48.4px,#3cc991 51.3px,#3eca8f 54.2px,#40ca8d 57.1px,#41ca8c 60.1px,#43ca8b 63.0px,#43ca8b 65.9px,#41ca8c 68.8px,#3eca8f 71.8px,#3ac993 74.7px,#35c79a 77.6px,#2fc5a2 80.5px,#26c2ad 83.4px,#11beba 86.4px,#01b8c9 89.3px,#31c6a0 89.7px)"></i>
<i style="top:58.25px;height:1.02px;background:linear-gradient(90deg,#31c6a0 1.4px,#1ec0b2 1.9px,#28c2ab 4.8px,#2dc4a5 7.7px,#31c6a0 10.6px,#33c69d 13.5px,#35c79b 16.4px,#36c799 19.3px,#36c898 22.2px,#37c897 25.1px,#37c897 28.0px,#37c897 30.9px,#38c896 33.8px,#38c896 36.7px,#39c895 39.6px,#3ac994 42.5px,#3bc993 45.4px,#3cc991 48.4px,#3eca90 51.3px,#3fca8e 54.2px,#40ca8d 57.1px,#41ca8c 60.0px,#42ca8c 62.9px,#41ca8c 65.8px,#3fca8e 68.7px,#3cc991 71.6px,#38c896 74.5px,#33c69d 77.4px,#2dc4a6 80.3px,#21c1b1 83.2px,#0abdbe 86.1px,#04b6cd 89.0px,#31c6a0 89.5px)"></i>
<i style="top:59.26px;height:1.02px;background:linear-gradient(90deg,#31c6a0 1.8px,#25c2ad 2.2px,#2dc4a5 5.2px,#32c69f 8.2px,#35c79a 11.2px,#37c897 14.1px,#39c895 17.1px,#3ac993 20.1px,#3bc993 23.1px,#3bc992 26.1px,#3bc992 29.0px,#3bc992 32.0px,#3cc992 35.0px,#3cc991 38.0px,#3cc991 41.0px,#3dc990 44.0px,#3eca8f 46.9px,#3fca8e 49.9px,#40ca8d 52.9px,#41ca8c 55.9px,#42ca8c 58.9px,#41ca8c 61.9px,#40ca8d 64.8px,#3eca8f 67.8px,#3bc993 70.8px,#36c898 73.8px,#31c69f 76.8px,#2bc3a8 79.7px,#1cc0b3 82.7px,#05bbc1 85.7px,#08b5d0 88.7px,#31c6a0 89.1px)"></i>
<i style="top:60.26px;height:1.02px;background:linear-gradient(90deg,#31c6a0 2.1px,#2bc3a8 2.5px,#31c6a0 5.5px,#35c79a 8.5px,#39c895 11.4px,#3cc991 14.4px,#3eca8f 17.3px,#3fca8e 20.3px,#40ca8d 23.3px,#40ca8d 26.2px,#40ca8d 29.2px,#40ca8d 32.1px,#3fca8e 35.1px,#3fca8e 38.1px,#40ca8d 41.0px,#40ca8d 44.0px,#41ca8d 46.9px,#41ca8c 49.9px,#42ca8b 52.8px,#42ca8b 55.8px,#42ca8b 58.8px,#41ca8c 61.7px,#3fca8e 64.7px,#3dc990 67.6px,#39c895 70.6px,#35c79b 73.6px,#2fc5a2 76.5px,#27c2ab 79.5px,#17bfb7 82.4px,#02bac4 85.4px,#0db3d4 88.4px,#31c6a0 88.8px)"></i>
<i style="top:61.27px;height:1.02px;background:linear-gradient(90deg,#31c6a0 2.5px,#30c5a2 2.9px,#35c79a 5.8px,#3ac994 8.8px,#3eca8f 11.7px,#42ca8c 14.6px,#44cb89 17.6px,#46cb88 20.5px,#46cb88 23.4px,#46cb88 26.4px,#46cb88 29.3px,#45cb89 32.2px,#45cb89 35.2px,#44cb89 38.1px,#44cb8a 41.0px,#44cb8a 44.0px,#44cb8a 46.9px,#44cb8a 49.9px,#44cb8a 52.8px,#44ca8a 55.7px,#43ca8b 58.7px,#41ca8c 61.6px,#3fca8e 64.5px,#3cc992 67.5px,#37c897 70.4px,#33c79d 73.3px,#2ec4a5 76.3px,#24c1ae 79.2px,#11beba 82.1px,#01b9c7 85.1px,#12b1d6 88.0px,#31c6a0 88.4px)"></i>
<i style="top:62.27px;height:1.02px;background:linear-gradient(90deg,#31c6a0 2.8px,#34c79c 3.3px,#3ac994 6.2px,#3fca8e 9.1px,#45cb89 12.0px,#49cb85 14.9px,#4bcb84 17.8px,#4ccb83 20.7px,#4dcb82 23.6px,#4ccb82 26.6px,#4ccb83 29.5px,#4bcb84 32.4px,#4acb85 35.3px,#49cb85 38.2px,#48cb86 41.1px,#48cb86 44.0px,#47cb87 46.9px,#47cb87 49.8px,#46cb88 52.7px,#45cb89 55.6px,#44ca8a 58.5px,#41ca8c 61.4px,#3eca8f 64.3px,#3bc993 67.3px,#36c898 70.2px,#32c69f 73.1px,#2cc4a7 76.0px,#20c1b1 78.9px,#0bbdbc 81.8px,#01b8ca 84.7px,#15afd9 87.6px,#31c6a0 88.1px)"></i>
<i style="top:63.28px;height:1.02px;background:linear-gradient(90deg,#31c6a0 3.3px,#38c896 3.7px,#3fca8e 6.7px,#47cb87 9.7px,#4dcc82 12.7px,#51cc7f 15.6px,#53cc7d 18.6px,#54cc7d 21.6px,#54cc7d 24.6px,#53cc7d 27.6px,#52cc7e 30.5px,#51cc7f 33.5px,#4fcc80 36.5px,#4ecc81 39.5px,#4dcb82 42.5px,#4bcb83 45.4px,#4acb84 48.4px,#49cb85 51.4px,#47cb87 54.4px,#45cb88 57.4px,#43ca8b 60.4px,#3fca8e 63.3px,#3bc993 66.3px,#36c898 69.3px,#31c69f 72.3px,#2bc3a8 75.3px,#1ec0b2 78.2px,#09bcbe 81.2px,#03b7cc 84.2px,#18aedb 87.2px,#31c6a0 87.6px)"></i>
<i style="top:64.28px;height:1.02px;background:linear-gradient(90deg,#31c6a0 3.7px,#3dca90 4.2px,#47cb87 7.1px,#4fcc81 10.1px,#55cc7c 13.0px,#58cc79 16.0px,#5acc77 18.9px,#5bcc76 21.9px,#5bcc77 24.8px,#5acc78 27.8px,#58cc79 30.7px,#57cc7a 33.7px,#55cc7c 36.6px,#53cc7d 39.6px,#52cc7e 42.5px,#50cc80 45.4px,#4ecc81 48.4px,#4ccb83 51.3px,#49cb85 54.3px,#47cb87 57.2px,#43ca8a 60.2px,#3fca8e 63.1px,#3ac993 66.1px,#35c799 69.0px,#30c5a1 72.0px,#29c3aa 74.9px,#1bc0b4 77.9px,#06bcc0 80.8px,#06b5ce 83.8px,#1aacdd 86.7px,#31c6a0 87.2px)"></i>
<i style="top:65.29px;height:1.02px;background:linear-gradient(90deg,#31c6a0 4.2px,#44cb89 4.6px,#4fcc81 7.5px,#57cc7a 10.5px,#5ccc75 13.4px,#60cd72 16.3px,#62cd71 19.2px,#62cd70 22.1px,#62cd71 25.0px,#61cd72 28.0px,#5fcd73 30.9px,#5dcc75 33.8px,#5bcc77 36.7px,#59cc79 39.6px,#56cc7a 42.5px,#54cc7c 45.4px,#52cc7e 48.4px,#4fcc81 51.3px,#4ccb83 54.2px,#48cb86 57.1px,#44cb8a 60.0px,#3fca8e 62.9px,#3ac994 65.9px,#35c79a 68.8px,#2fc5a2 71.7px,#27c2ab 74.6px,#18bfb6 77.5px,#03bbc2 80.4px,#08b4d0 83.4px,#1babde 86.3px,#31c6a0 86.7px)"></i>
<i style="top:66.29px;height:1.02px;background:linear-gradient(90deg,#31c6a0 4.7px,#4ccb83 5.1px,#57cc7a 8.1px,#5fcd73 11.1px,#65cd6e 14.1px,#68cd6b 17.1px,#6acd6a 20.1px,#6acd6a 23.1px,#69cd6b 26.0px,#67cd6c 29.0px,#65cd6e 32.0px,#62cd70 35.0px,#60cd73 38.0px,#5dcc75 41.0px,#5acc77 44.0px,#57cc7a 46.9px,#54cc7d 49.9px,#50cc80 52.9px,#4bcb83 55.9px,#46cb87 58.9px,#41ca8c 61.9px,#3bc992 64.9px,#35c799 67.8px,#30c5a2 70.8px,#27c2ab 73.8px,#17bfb6 76.8px,#02bbc3 79.8px,#0ab4d2 82.8px,#1caadf 85.8px,#31c6a0 86.2px)"></i>
<i style="top:67.29px;height:1.02px;background:linear-gradient(90deg,#31c6a0 5.2px,#55cc7c 5.7px,#5fcd73 8.6px,#67cd6c 11.6px,#6dcd68 14.5px,#70cd65 17.5px,#71cd64 20.4px,#71cd64 23.3px,#70cd65 26.3px,#6ecd67 29.2px,#6bcd69 32.2px,#68cd6b 35.1px,#65cd6e 38.1px,#62cd71 41.0px,#5fcd73 44.0px,#5bcc77 46.9px,#57cc7a 49.9px,#53cc7e 52.8px,#4dcc82 55.8px,#48cb86 58.7px,#41ca8c 61.7px,#3bc992 64.6px,#35c79a 67.6px,#2fc5a3 70.5px,#26c2ac 73.4px,#15bfb7 76.4px,#02bac4 79.3px,#0cb3d3 82.3px,#1da9e0 85.2px,#31c6a0 85.7px)"></i>
<i style="top:68.30px;height:1.02px;background:linear-gradient(90deg,#31c6a0 5.8px,#5dcc75 6.2px,#67cd6c 9.1px,#6fcd65 12.0px,#75cc61 14.9px,#78cc5f 17.9px,#79cc5e 20.8px,#79cc5e 23.7px,#78cc5f 26.6px,#75cc61 29.5px,#72cd63 32.4px,#6fcd66 35.3px,#6bcd69 38.2px,#67cd6c 41.1px,#63cd6f 44.0px,#5fcd73 46.9px,#5bcc77 49.8px,#55cc7b 52.7px,#50cc80 55.6px,#49cb85 58.5px,#42ca8b 61.4px,#3bc992 64.3px,#35c79a 67.2px,#2fc5a3 70.1px,#25c2ad 73.0px,#13beb9 76.0px,#01b9c6 78.9px,#0eb2d4 81.8px,#1da8e0 84.7px,#31c6a0 85.1px)"></i>
<i style="top:69.30px;height:1.02px;background:linear-gradient(90deg,#31c6a0 6.4px,#65cd6e 6.8px,#70cd65 9.8px,#78cc5f 12.8px,#7ecc5b 15.7px,#80cc59 18.7px,#81cc58 21.7px,#80cc59 24.7px,#7ecc5a 27.6px,#7bcc5d 30.6px,#78cc5f 33.6px,#74cd62 36.5px,#6fcd66 39.5px,#6bcd69 42.5px,#66cd6d 45.4px,#60cd72 48.4px,#5bcc77 51.4px,#55cc7c 54.4px,#4dcc82 57.3px,#45cb88 60.3px,#3dc990 63.3px,#36c898 66.2px,#30c5a2 69.2px,#26c2ac 72.2px,#14beb8 75.2px,#01bac5 78.1px,#0eb2d4 81.1px,#1ea7e1 84.1px,#31c6a0 84.5px)"></i>
<i style="top:70.31px;height:1.02px;background:linear-gradient(90deg,#31c6a0 7.0px,#6ecd67 7.5px,#79cc5e 10.4px,#81cc59 13.3px,#85cb55 16.2px,#88cb53 19.2px,#88cb53 22.1px,#88cb53 25.0px,#85cb55 27.9px,#82cc57 30.8px,#7fcc5a 33.8px,#7acc5e 36.7px,#75cc61 39.6px,#70cd65 42.5px,#6acd6a 45.4px,#64cd6e 48.4px,#5ecd74 51.3px,#57cc7a 54.2px,#4fcc80 57.1px,#47cb87 60.1px,#3eca8f 63.0px,#36c898 65.9px,#2fc5a2 68.8px,#26c2ad 71.7px,#13beb9 74.7px,#01b9c6 77.6px,#0fb2d5 80.5px,#1ea7e1 83.4px,#31c6a0 83.9px)"></i>
<i style="top:71.31px;height:1.02px;background:linear-gradient(90deg,#31c6a0 7.7px,#77cc60 8.2px,#82cc58 11.1px,#89cb52 14.1px,#8dcb4f 17.1px,#8fca4d 20.1px,#90ca4d 23.1px,#8ecb4f 26.1px,#8bcb51 29.0px,#88cb53 32.0px,#83cc57 35.0px,#7ecc5a 38.0px,#79cc5f 41.0px,#72cd63 44.0px,#6ccd69 46.9px,#64cd6e 49.9px,#5dcc75 52.9px,#55cc7c 55.9px,#4bcb84 58.9px,#41ca8c 61.9px,#38c896 64.8px,#31c6a0 67.8px,#28c2ab 70.8px,#15bfb7 73.8px,#01bac5 76.8px,#0fb2d4 79.8px,#1ea7e1 82.7px,#31c6a0 83.2px)"></i>
<i style="top:72.32px;height:1.02px;background:linear-gradient(90deg,#31c6a0 8.4px,#80cc59 8.9px,#8acb52 11.8px,#91ca4d 14.7px,#95ca49 17.6px,#96ca48 20.6px,#96ca48 23.5px,#95ca49 26.4px,#92ca4c 29.4px,#8ecb4e 32.3px,#89cb52 35.2px,#84cc56 38.1px,#7ecc5b 41.1px,#77cc60 44.0px,#70cd65 46.9px,#68cd6b 49.8px,#60cd72 52.8px,#57cc7a 55.7px,#4dcb82 58.6px,#42ca8b 61.5px,#39c895 64.5px,#31c6a0 67.4px,#28c2ab 70.3px,#15bfb7 73.3px,#01bac5 76.2px,#0fb2d4 79.1px,#1ea7e1 82.0px,#31c6a0 82.5px)"></i>
<i style="top:73.32px;height:1.02px;background:linear-gradient(90deg,#31c6a0 9.2px,#88cb53 9.6px,#92ca4c 12.6px,#98c947 15.6px,#9cc944 18.6px,#9dc943 21.6px,#9cc943 24.6px,#9ac945 27.5px,#97ca48 30.5px,#93ca4b 33.5px,#8dcb4f 36.5px,#87cb54 39.5px,#80cc59 42.5px,#78cc5f 45.4px,#70cd65 48.4px,#67cd6c 51.4px,#5dcc75 54.4px,#52cc7e 57.4px,#47cb87 60.4px,#3cc992 63.4px,#33c69d 66.3px,#2ac3a9 69.3px,#19bfb6 72.3px,#02bac4 75.3px,#0db3d3 78.3px,#1ea8e0 81.3px,#31c6a0 81.7px)"></i>
<i style="top:74.33px;height:1.02px;background:linear-gradient(90deg,#31c6a0 10.0px,#91ca4d 10.4px,#99c946 13.3px,#9fc941 16.3px,#a2c83f 19.2px,#a3c83f 22.1px,#a2c83f 25.0px,#a0c841 27.9px,#9dc943 30.9px,#98c947 33.8px,#93ca4b 36.7px,#8ccb50 39.6px,#85cb55 42.5px,#7dcc5b 45.4px,#74cc62 48.4px,#6acd6a 51.3px,#60cd72 54.2px,#55cc7c 57.1px,#48cb86 60.0px,#3dc991 63.0px,#34c79c 65.9px,#2bc3a8 68.8px,#19bfb5 71.7px,#02bac3 74.6px,#0cb3d3 77.6px,#1da9e0 80.5px,#31c6a0 80.9px)"></i>
<i style="top:75.33px;height:1.02px;background:linear-gradient(90deg,#31c6a0 10.8px,#98c947 11.3px,#a1c840 14.3px,#a6c83d 17.2px,#a9c73b 20.2px,#a9c73a 23.2px,#a8c73b 26.1px,#a5c83d 29.1px,#a1c840 32.1px,#9cc944 35.1px,#95ca49 38.0px,#8ecb4e 41.0px,#86cb55 44.0px,#7dcc5c 46.9px,#72cd63 49.9px,#67cd6c 52.9px,#5bcc76 55.8px,#4ecc81 58.8px,#41ca8d 61.8px,#36c899 64.8px,#2dc4a5 67.7px,#1dc0b3 70.7px,#05bbc1 73.7px,#09b4d1 76.6px,#1caadf 79.6px,#31c6a0 80.1px)"></i>
<i style="top:76.33px;height:1.02px;background:linear-gradient(90deg,#31c6a0 11.7px,#a0c841 12.2px,#a7c73c 15.1px,#acc738 18.0px,#aec637 20.9px,#aec637 23.8px,#adc638 26.6px,#aac73a 29.5px,#a6c83d 32.4px,#a1c840 35.3px,#9ac945 38.2px,#93ca4b 41.1px,#8acb51 44.0px,#81cc59 46.9px,#76cc61 49.8px,#6acd6a 52.7px,#5ecc74 55.6px,#50cc7f 58.5px,#42ca8b 61.4px,#37c898 64.3px,#2ec4a4 67.1px,#1fc0b1 70.0px,#06bcc0 72.9px,#07b5cf 75.8px,#1babde 78.7px,#31c6a0 79.2px)"></i>
<i style="top:77.34px;height:1.02px;background:linear-gradient(90deg,#31c6a0 12.7px,#a7c73c 13.1px,#aec637 16.1px,#b2c635 19.0px,#b4c534 22.0px,#b3c534 24.9px,#b1c635 27.8px,#aec637 30.8px,#a9c73a 33.7px,#a3c83f 36.6px,#9cc944 39.6px,#93ca4a 42.5px,#8acb52 45.4px,#7fcc5a 48.4px,#72cd63 51.3px,#65cd6e 54.3px,#57cc7a 57.2px,#48cb86 60.1px,#3bc993 63.1px,#31c5a1 66.0px,#24c1ae 68.9px,#0abdbd 71.9px,#04b6cd 74.8px,#19acdc 77.8px,#31c6a0 78.2px)"></i>
<i style="top:78.34px;height:1.02px;background:linear-gradient(90deg,#31c6a0 13.7px,#aec637 14.2px,#b4c534 17.1px,#b7c532 20.1px,#b8c431 23.1px,#b8c431 26.1px,#b5c533 29.1px,#b1c635 32.0px,#abc739 35.0px,#a4c83e 38.0px,#9cc943 41.0px,#93ca4b 44.0px,#88cb53 46.9px,#7bcc5d 49.9px,#6dcd67 52.9px,#5fcd73 55.9px,#4fcc80 58.9px,#3fca8e 61.8px,#34c79c 64.8px,#28c3ab 67.8px,#11beba 70.8px,#01b8ca 73.8px,#17aeda 76.7px,#31c6a0 77.2px)"></i>
<i style="top:79.35px;height:1.02px;background:linear-gradient(90deg,#31c6a0 14.8px,#b4c534 15.2px,#b9c430 18.1px,#bcc42f 21.0px,#bdc32f 23.9px,#bcc42f 26.8px,#b9c431 29.6px,#b5c533 32.5px,#afc637 35.4px,#a8c73b 38.3px,#a0c841 41.1px,#96ca48 44.0px,#8bcb51 46.9px,#7fcc5a 49.8px,#70cd65 52.6px,#61cd71 55.5px,#52cc7e 58.4px,#41ca8c 61.3px,#35c79a 64.1px,#2ac3a9 67.0px,#15bfb7 69.9px,#01b9c7 72.8px,#13b0d7 75.7px,#31c6a0 76.1px)"></i>
<i style="top:80.35px;height:1.02px;background:linear-gradient(90deg,#31c6a0 16.0px,#bac430 16.4px,#bec32e 19.3px,#c0c32d 22.2px,#c0c32d 25.1px,#bfc32e 28.0px,#bbc42f 30.9px,#b7c532 33.8px,#b0c636 36.7px,#a8c73b 39.6px,#9fc941 42.5px,#94ca4a 45.4px,#88cb53 48.4px,#7acc5e 51.3px,#6acd6a 54.2px,#59cc78 57.1px,#48cb86 60.0px,#39c895 62.9px,#2ec5a4 65.8px,#1dc0b3 68.7px,#02bbc3 71.6px,#0eb3d4 74.5px,#31c6a0 74.9px)"></i>
<i style="top:81.36px;height:1.02px;background:linear-gradient(90deg,#31c6a0 17.2px,#bfc32d 17.7px,#c3c22b 20.6px,#c4c22b 23.5px,#c4c22b 26.4px,#c1c32c 29.4px,#bdc32e 32.3px,#b8c531 35.2px,#b0c636 38.1px,#a8c73b 41.1px,#9dc943 44.0px,#91ca4c 46.9px,#83cc57 49.8px,#73cd63 52.8px,#61cd71 55.7px,#50cc80 58.6px,#3eca8f 61.5px,#32c69f 64.5px,#24c1ae 67.4px,#08bcbf 70.3px,#07b5cf 73.2px,#31c6a0 73.7px)"></i>
<i style="top:82.36px;height:1.02px;background:linear-gradient(90deg,#31c6a0 18.5px,#c4c22b 19.0px,#c7c12a 21.9px,#c7c12a 24.9px,#c6c22a 27.8px,#c3c22b 30.8px,#bec32e 33.7px,#b8c431 36.6px,#afc636 39.6px,#a6c83d 42.5px,#9ac945 45.4px,#8ccb50 48.4px,#7ccc5c 51.3px,#6acd6a 54.3px,#58cc79 57.2px,#45cb89 60.1px,#36c799 63.1px,#2ac3a9 66.0px,#11beb9 69.0px,#02b7ca 71.9px,#31c6a0 72.4px)"></i>
<i style="top:83.36px;height:1.02px;background:linear-gradient(90deg,#31c6a0 20.0px,#c8c129 20.5px,#cac129 23.4px,#cac129 26.3px,#c8c129 29.3px,#c4c22b 32.2px,#bec32e 35.2px,#b7c532 38.1px,#aec637 41.0px,#a2c83f 44.0px,#95ca49 46.9px,#86cb55 49.9px,#74cc62 52.8px,#61cd71 55.7px,#4dcc82 58.7px,#3bc992 61.6px,#2fc5a3 64.6px,#1cc0b3 67.5px,#02bac5 70.4px,#31c6a0 70.9px)"></i>
<i style="top:84.37px;height:1.02px;background:linear-gradient(90deg,#31c6a0 21.6px,#cbc129 22.0px,#ccc028 25.0px,#cbc029 27.9px,#c8c129 30.8px,#c4c22b 33.7px,#bdc32e 36.7px,#b5c533 39.6px,#abc739 42.5px,#9ec942 45.4px,#8fcb4e 48.4px,#7ecc5b 51.3px,#6bcd69 54.2px,#57cc7a 57.2px,#42ca8b 60.1px,#34c79c 63.0px,#26c2ad 65.9px,#09bcbe 68.9px,#31c6a0 69.3px)"></i>
<i style="top:85.37px;height:1.02px;background:linear-gradient(90deg,#31c6a0 23.3px,#cec028 23.8px,#cec028 26.7px,#ccc028 29.6px,#c8c129 32.5px,#c3c22b 35.3px,#bbc42f 38.2px,#b2c635 41.1px,#a6c83d 44.0px,#98c947 46.9px,#88cb53 49.8px,#75cc61 52.7px,#61cd71 55.6px,#4ccb83 58.4px,#3ac994 61.3px,#2dc4a5 64.2px,#18bfb6 67.1px,#31c6a0 67.6px)"></i>
<i style="top:86.38px;height:1.02px;background:linear-gradient(90deg,#31c6a0 25.3px,#cfc028 25.7px,#cec028 28.6px,#cbc028 31.4px,#c7c12a 34.2px,#c0c32d 37.0px,#b8c431 39.8px,#adc638 42.6px,#a0c840 45.4px,#91ca4c 48.3px,#80cc59 51.1px,#6ccd68 53.9px,#57cc7a 56.7px,#42ca8b 59.5px,#34c79c 62.3px,#25c2ad 65.2px,#31c6a0 65.6px)"></i>
<i style="top:87.38px;height:1.02px;background:linear-gradient(90deg,#31c6a0 27.5px,#d0bf27 28.0px,#cdc028 30.9px,#c9c129 33.8px,#c2c22c 36.7px,#bac430 39.6px,#afc637 42.5px,#a1c840 45.4px,#91ca4c 48.4px,#7ecc5b 51.3px,#68cd6b 54.2px,#52cc7e 57.1px,#3dc990 60.0px,#2fc5a2 62.9px,#31c6a0 63.4px)"></i>
<i style="top:88.39px;height:1.02px;background:linear-gradient(90deg,#31c6a0 30.1px,#cfc028 30.6px,#cac129 33.6px,#c4c22b 36.5px,#bbc430 39.5px,#afc636 42.5px,#a1c840 45.4px,#90ca4d 48.4px,#7ccc5c 51.4px,#65cd6e 54.4px,#4ecc81 57.3px,#39c994 60.3px,#31c6a0 60.8px)"></i>
<i style="top:89.39px;height:1.02px;background:linear-gradient(90deg,#31c6a0 33.4px,#cac129 33.9px,#c3c22b 36.8px,#bac430 39.7px,#afc637 42.6px,#a1c840 45.4px,#90ca4d 48.3px,#7bcc5d 51.2px,#65cd6e 54.1px,#4ecc81 57.0px,#31c6a0 57.5px)"></i>
<i style="top:90.40px;height:1.02px;background:linear-gradient(90deg,#31c6a0 38.3px,#bdc32e 38.7px,#b3c534 41.4px,#a7c73c 44.1px,#98c947 46.8px,#86cb54 49.5px,#72cd64 52.2px,#31c6a0 52.6px)"></i>
</div>
<div class="fr" style="left:221.3px;top:188.2px;width:90.9px;height:91.4px"></div>
<div class="cb" style="left:325.2px;top:188.3px;width:9.4px;height:91.5px;background:linear-gradient(180deg,#f9fb15 0.0%,#f5e327 6.2%,#feca33 12.5%,#f1ba37 18.8%,#c8c129 25.0%,#94ca4a 31.2%,#5ccc76 37.5%,#34c79c 43.8%,#12beb9 50.0%,#0cb3d3 56.2%,#21a3e3 62.5%,#2c90f0 68.8%,#347afd 75.0%,#4562fc 81.2%,#484cef 87.5%,#4536d5 93.8%,#3e26a8 100.0%)"></div>
<div class="pm" style="left:403.5px;top:188.2px;width:91.4px;height:91.4px;background:#49cb86">
<i style="top:0.00px;height:1.02px;background:linear-gradient(90deg,#49cb86 38.5px,#2994ed 38.9px,#20a5e2 41.6px,#0db3d3 44.3px,#09bdbe 47.1px,#2cc4a7 49.8px,#40ca8d 52.5px,#49cb86 52.9px)"></i>
<i style="top:1.00px;height:1.02px;background:linear-gradient(90deg,#49cb86 33.6px,#3876fe 34.1px,#2d8cf3 37.0px,#249fe5 39.9px,#15afd8 42.8px,#03bbc2 45.7px,#29c3aa 48.6px,#3fca8e 51.5px,#66cd6d 54.4px,#92ca4c 57.3px,#49cb86 57.8px)"></i>
<i style="top:2.01px;height:1.02px;background:linear-gradient(90deg,#49cb86 30.3px,#4561fc 30.8px,#337afd 33.7px,#2b90f0 36.7px,#21a3e3 39.7px,#0eb2d4 42.7px,#0bbdbd 45.7px,#2fc5a3 48.7px,#49cb85 51.7px,#74cc62 54.7px,#a1c840 57.7px,#c7c12a 60.6px,#49cb86 61.1px)"></i>
<i style="top:3.01px;height:1.02px;background:linear-gradient(90deg,#49cb86 27.7px,#4853f5 28.1px,#416bfe 31.1px,#2e83f9 34.0px,#2797eb 36.9px,#1da8e0 39.8px,#06b5ce 42.8px,#15bfb7 45.7px,#32c69e 48.6px,#50cc80 51.6px,#7bcc5d 54.5px,#a7c73c 57.4px,#ccc028 60.3px,#e8bb2f 63.3px,#49cb86 63.7px)"></i>
<i style="top:4.02px;height:1.02px;background:linear-gradient(90deg,#49cb86 25.4px,#4848ec 25.9px,#465ffb 28.7px,#3876fe 31.5px,#2d8bf4 34.4px,#259de7 37.2px,#19acdc 40.0px,#01b8c9 42.9px,#1ec0b2 45.7px,#35c79a 48.5px,#55cc7c 51.4px,#7fcc5a 54.2px,#a9c73a 57.0px,#cdc028 59.9px,#e9bb2f 62.7px,#fcbc3d 65.5px,#49cb86 66.0px)"></i>
<i style="top:5.02px;height:1.02px;background:linear-gradient(90deg,#49cb86 23.5px,#473fe3 23.9px,#4757f7 26.8px,#3f6dfe 29.7px,#2e84f8 32.6px,#2797eb 35.5px,#1ea7e1 38.4px,#07b5d0 41.3px,#10beba 44.2px,#30c5a2 47.2px,#49cb85 50.1px,#72cd63 53.0px,#9fc941 55.9px,#c6c22a 58.8px,#e4bb2c 61.7px,#fabb3d 64.6px,#fec735 67.5px,#49cb86 67.9px)"></i>
<i style="top:6.03px;height:1.02px;background:linear-gradient(90deg,#49cb86 21.7px,#4539d8 22.2px,#4850f2 25.1px,#4367fd 28.0px,#317efb 31.0px,#2b91ef 33.9px,#22a2e4 36.9px,#12b1d7 39.8px,#04bbc2 42.8px,#28c3aa 45.7px,#3dca90 48.6px,#64cd6f 51.6px,#91ca4c 54.5px,#bac430 57.5px,#dcbd29 60.4px,#f6ba3b 63.4px,#fec437 66.3px,#fbd12f 69.2px,#49cb86 69.7px)"></i>
<i style="top:7.03px;height:1.02px;background:linear-gradient(90deg,#49cb86 20.1px,#4434ce 20.6px,#484aee 23.5px,#4661fc 26.5px,#3677fe 29.4px,#2d8cf3 32.4px,#249de6 35.4px,#19acdc 38.3px,#01b8c9 41.3px,#1dc0b3 44.2px,#35c79a 47.2px,#54cc7c 50.1px,#80cc59 53.1px,#abc739 56.0px,#d1bf27 59.0px,#eeba34 62.0px,#fec03b 64.9px,#fdce31 67.9px,#f7db2b 70.8px,#49cb86 71.3px)"></i>
<i style="top:8.04px;height:1.02px;background:linear-gradient(90deg,#49cb86 18.7px,#4330c5 19.1px,#4745e9 22.1px,#475cfa 25.0px,#3c72ff 28.0px,#2e87f7 30.9px,#2798ea 33.9px,#1da8e0 36.8px,#08b4d0 39.8px,#0dbdbb 42.7px,#2ec4a4 45.7px,#45cb89 48.7px,#6dcd68 51.6px,#9ac946 54.6px,#c2c22c 57.5px,#e3bc2c 60.5px,#fabb3d 63.4px,#fec834 66.4px,#f9d62d 69.3px,#f5e227 72.3px,#49cb86 72.7px)"></i>
<i style="top:9.04px;height:1.02px;background:linear-gradient(90deg,#49cb86 17.3px,#412dbd 17.8px,#4741e5 20.7px,#4758f8 23.6px,#406dfe 26.6px,#2f82fa 29.5px,#2994ed 32.5px,#21a3e3 35.4px,#13b1d7 38.3px,#02bac3 41.3px,#25c2ae 44.2px,#39c895 47.2px,#5bcc77 50.1px,#86cb55 53.1px,#b0c636 56.0px,#d5be28 58.9px,#f0ba36 61.9px,#fec239 64.8px,#fcd030 67.8px,#f6de29 70.7px,#f5e825 73.6px,#49cb86 74.1px)"></i>
<i style="top:10.04px;height:1.02px;background:linear-gradient(90deg,#49cb86 16.0px,#402bb7 16.5px,#473ee1 19.4px,#4854f5 22.3px,#4269fe 25.3px,#317efb 28.2px,#2c8ff0 31.1px,#249fe6 34.0px,#19addc 36.9px,#02b7cb 39.9px,#17bfb6 42.8px,#31c6a0 45.7px,#49cb85 48.6px,#71cd64 51.5px,#9cc943 54.5px,#c4c22b 57.4px,#e4bb2c 60.3px,#fbbc3d 63.2px,#fec934 66.1px,#f9d72c 69.1px,#f5e427 72.0px,#f5ed21 74.9px,#49cb86 75.4px)"></i>
<i style="top:11.05px;height:1.02px;background:linear-gradient(90deg,#49cb86 14.9px,#3f29b2 15.3px,#463cde 18.2px,#4851f3 21.1px,#4465fd 24.0px,#347afd 26.9px,#2d8bf3 29.8px,#259be8 32.7px,#1da8e0 35.6px,#0ab4d1 38.5px,#08bcbf 41.4px,#29c3aa 44.3px,#3cc992 47.1px,#5dcc74 50.0px,#87cb54 52.9px,#b0c636 55.8px,#d4bf28 58.7px,#f0ba36 61.6px,#fec13a 64.5px,#fcd030 67.4px,#f6de29 70.3px,#f5e924 73.2px,#f6f21e 76.1px,#49cb86 76.5px)"></i>
<i style="top:12.05px;height:1.02px;background:linear-gradient(90deg,#49cb86 13.8px,#3f28ae 14.2px,#463bdc 17.2px,#4851f3 20.2px,#4465fd 23.2px,#347afd 26.2px,#2d8bf3 29.2px,#259be8 32.2px,#1da9e0 35.2px,#09b4d1 38.2px,#09bcbe 41.2px,#2ac3a9 44.2px,#3dc990 47.2px,#60cd72 50.2px,#8ccb50 53.2px,#b5c533 56.2px,#d9be28 59.2px,#f4ba39 62.2px,#fec537 65.2px,#fad42e 68.2px,#f5e228 71.2px,#f5ed22 74.2px,#f7f51b 77.2px,#49cb86 77.6px)"></i>
<i style="top:13.06px;height:1.02px;background:linear-gradient(90deg,#49cb86 12.8px,#3e27ab 13.2px,#4639da 16.2px,#484ff2 19.1px,#4563fc 22.1px,#3776fe 25.0px,#2d88f6 28.0px,#2797eb 30.9px,#20a5e3 33.9px,#13b0d7 36.8px,#01b9c6 39.8px,#1ec0b2 42.7px,#33c79d 45.7px,#4dcc82 48.7px,#74cc62 51.6px,#9fc942 54.6px,#c5c22a 57.5px,#e5bb2d 60.5px,#fbbc3d 63.4px,#feca33 66.4px,#f8d92b 69.3px,#f5e626 72.3px,#f6f01f 75.2px,#f8f719 78.2px,#49cb86 78.6px)"></i>
<i style="top:14.06px;height:1.02px;background:linear-gradient(90deg,#49cb86 11.8px,#3e27aa 12.2px,#4538d8 15.2px,#484df0 18.1px,#4660fc 21.0px,#3a73fe 23.9px,#2e85f8 26.8px,#2994ed 29.7px,#23a1e4 32.6px,#19addc 35.5px,#04b6cd 38.4px,#0fbebb 41.3px,#2cc4a7 44.2px,#3dca90 47.2px,#5fcd73 50.1px,#87cb54 53.0px,#afc636 55.9px,#d3bf27 58.8px,#efba35 61.7px,#fec13a 64.6px,#fcd030 67.5px,#f6de29 70.4px,#f5ea24 73.3px,#f7f31d 76.2px,#f8f917 79.2px,#49cb86 79.6px)"></i>
<i style="top:15.07px;height:1.02px;background:linear-gradient(90deg,#49cb86 10.9px,#3e26a9 11.3px,#4538d8 14.3px,#484ef1 17.3px,#4561fc 20.3px,#3a74fe 23.3px,#2e85f8 26.3px,#2994ed 29.3px,#22a1e4 32.3px,#19addc 35.2px,#04b6cd 38.2px,#0fbebb 41.2px,#2cc4a7 44.2px,#3eca90 47.2px,#5fcd73 50.2px,#89cb53 53.2px,#b1c635 56.2px,#d5be28 59.1px,#f1ba37 62.1px,#fec239 65.1px,#fbd22f 68.1px,#f6e028 71.1px,#f5ec22 74.1px,#f7f51b 77.1px,#f9fa15 80.1px,#49cb86 80.5px)"></i>
<i style="top:16.07px;height:1.02px;background:linear-gradient(90deg,#49cb86 10.0px,#3e27a9 10.5px,#4538d7 13.4px,#484df0 16.4px,#4660fb 19.3px,#3c72ff 22.2px,#2e83f9 25.2px,#2b91ef 28.1px,#249ee6 31.0px,#1ca9df 34.0px,#0cb3d3 36.9px,#03bbc2 39.8px,#21c1b0 42.8px,#34c79c 45.7px,#4ccb83 48.6px,#70cd65 51.6px,#99c946 54.5px,#bfc32d 57.4px,#dfbc2a 60.4px,#f8ba3d 63.3px,#fec735 66.2px,#fad62d 69.2px,#f5e327 72.1px,#f5ee21 75.0px,#f8f61a 78.0px,#f9fb15 80.9px,#49cb86 81.4px)"></i>
<i style="top:17.07px;height:1.02px;background:linear-gradient(90deg,#49cb86 9.2px,#3e27aa 9.7px,#4538d7 12.6px,#484cf0 15.4px,#465ffb 18.3px,#3d70ff 21.2px,#2f81fa 24.1px,#2c8ff1 27.0px,#259be8 29.9px,#1fa6e2 32.7px,#14b0d8 35.6px,#01b8c9 38.5px,#13beb9 41.4px,#2cc4a7 44.3px,#3cc991 47.1px,#5bcc77 50.0px,#81cc59 52.9px,#a8c73b 55.8px,#cbc129 58.7px,#e8bb2f 61.5px,#fdbd3d 64.4px,#fdcb33 67.3px,#f8d92b 70.2px,#f5e626 73.1px,#f6f01f 76.0px,#f8f719 78.8px,#f9fb15 81.7px,#49cb86 82.2px)"></i>
<i style="top:18.08px;height:1.02px;background:linear-gradient(90deg,#49cb86 8.5px,#3e27ab 8.9px,#4639d9 11.9px,#484ef1 14.8px,#4660fb 17.7px,#3c71ff 20.7px,#2f82fa 23.6px,#2c8ff0 26.6px,#259be8 29.5px,#1fa6e1 32.5px,#14b0d8 35.4px,#01b8c9 38.3px,#12beb9 41.3px,#2cc4a7 44.2px,#3cc992 47.2px,#5acc77 50.1px,#80cc59 53.1px,#a8c73b 56.0px,#cbc029 58.9px,#e8bb2f 61.9px,#fdbd3d 64.8px,#fdcc32 67.8px,#f8da2b 70.7px,#f5e725 73.7px,#f6f11f 76.6px,#f8f718 79.5px,#f9fa15 82.5px,#49cb86 82.9px)"></i>
<i style="top:19.08px;height:1.02px;background:linear-gradient(90deg,#49cb86 7.7px,#3f28ae 8.2px,#4639da 11.1px,#484ef1 14.0px,#4660fb 16.9px,#3d70ff 19.7px,#2f80fa 22.6px,#2d8df2 25.5px,#2699e9 28.4px,#21a3e3 31.3px,#19addc 34.2px,#07b5cf 37.0px,#06bcc0 39.9px,#21c1b0 42.8px,#33c69e 45.7px,#47cb87 48.6px,#68cd6c 51.5px,#8fcb4e 54.4px,#b4c534 57.2px,#d5be28 60.1px,#efba35 63.0px,#fec03a 65.9px,#fccf30 68.8px,#f7dd2a 71.7px,#f5e924 74.5px,#f6f11e 77.4px,#f8f719 80.3px,#f9fa16 83.2px,#49cb86 83.7px)"></i>
<i style="top:20.09px;height:1.02px;background:linear-gradient(90deg,#49cb86 7.1px,#3f29b1 7.5px,#463bdd 10.5px,#484ff2 13.4px,#4561fc 16.3px,#3b72ff 19.3px,#2f82fa 22.2px,#2c8ef1 25.1px,#269ae9 28.1px,#21a4e3 31.0px,#19addb 34.0px,#07b5cf 36.9px,#05bbc1 39.8px,#20c1b1 42.8px,#32c69f 45.7px,#46cb88 48.6px,#66cd6d 51.6px,#8dcb4f 54.5px,#b3c534 57.4px,#d4bf28 60.4px,#efba35 63.3px,#fec03a 66.3px,#fccf30 69.2px,#f7dd2a 72.1px,#f5e825 75.1px,#f6f11e 78.0px,#f8f719 80.9px,#f8f817 83.9px,#49cb86 84.3px)"></i>
<i style="top:21.09px;height:1.02px;background:linear-gradient(90deg,#49cb86 6.4px,#402ab4 6.9px,#463ddf 9.9px,#4851f4 12.8px,#4563fd 15.8px,#3974fe 18.8px,#2e83f9 21.8px,#2c8ff0 24.8px,#269ae8 27.8px,#20a4e3 30.8px,#18addb 33.8px,#07b5cf 36.7px,#05bbc1 39.7px,#1fc1b1 42.7px,#31c6a0 45.7px,#44cb89 48.7px,#64cd6e 51.7px,#8bcb51 54.7px,#b1c635 57.6px,#d3bf27 60.6px,#eeba34 63.6px,#fec03b 66.6px,#fccf31 69.6px,#f7dc2a 72.6px,#f5e825 75.6px,#f6f11f 78.6px,#f7f61a 81.5px,#f8f719 84.5px,#49cb86 85.0px)"></i>
<i style="top:22.10px;height:1.02px;background:linear-gradient(90deg,#49cb86 5.8px,#402bb8 6.3px,#463ee1 9.2px,#4852f4 12.1px,#4564fd 15.0px,#3a74fe 18.0px,#2f82f9 20.9px,#2c8ef1 23.8px,#2698ea 26.7px,#22a2e4 29.6px,#1babde 32.6px,#0eb2d4 35.5px,#01b9c8 38.4px,#11beb9 41.3px,#29c3a9 44.2px,#37c897 47.2px,#50cc80 50.1px,#71cd64 53.0px,#97ca47 55.9px,#bbc42f 58.8px,#dabd28 61.8px,#f3ba39 64.7px,#fec339 67.6px,#fcd12f 70.5px,#f6de29 73.4px,#f5e825 76.4px,#f6f01f 79.3px,#f7f41c 82.2px,#f7f51b 85.1px,#49cb86 85.6px)"></i>
<i style="top:23.10px;height:1.02px;background:linear-gradient(90deg,#49cb86 5.2px,#412dbc 5.7px,#4740e4 8.7px,#4755f6 11.6px,#4466fd 14.6px,#3776fe 17.5px,#2e84f8 20.5px,#2c8ff0 23.5px,#2699e9 26.4px,#21a2e4 29.4px,#1babde 32.4px,#0eb2d4 35.3px,#01b9c8 38.3px,#10beba 41.3px,#28c3aa 44.2px,#36c898 47.2px,#4ecc81 50.1px,#6fcd66 53.1px,#95ca49 56.1px,#b9c430 59.0px,#d9be28 62.0px,#f2ba38 65.0px,#fec239 67.9px,#fcd030 70.9px,#f7dd2a 73.9px,#f5e725 76.8px,#f5ef20 79.8px,#f6f31d 82.7px,#f6f21e 85.7px,#49cb86 86.2px)"></i>
<i style="top:24.11px;height:1.02px;background:linear-gradient(90deg,#49cb86 4.7px,#422fc1 5.2px,#4742e6 8.1px,#4756f6 11.0px,#4367fd 13.8px,#3776fe 16.7px,#2e84f9 19.6px,#2c8ff1 22.5px,#2798ea 25.4px,#23a1e5 28.3px,#1da9e0 31.2px,#14b0d8 34.1px,#04b6cd 37.0px,#05bbc1 39.9px,#1dc0b3 42.8px,#2fc5a3 45.7px,#3dca90 48.6px,#59cc78 51.5px,#7bcc5d 54.4px,#9fc941 57.3px,#c1c32c 60.2px,#dfbc2a 63.1px,#f6ba3b 66.0px,#fec438 68.9px,#fcd12f 71.8px,#f6dd29 74.7px,#f5e725 77.6px,#f5ee21 80.4px,#f6f11f 83.3px,#f6ef20 86.2px,#49cb86 86.7px)"></i>
<i style="top:25.11px;height:1.02px;background:linear-gradient(90deg,#49cb86 4.2px,#4331c6 4.7px,#4745e9 7.6px,#4759f8 10.5px,#426afe 13.4px,#3579fd 16.4px,#2e86f7 19.3px,#2b90f0 22.2px,#2699e9 25.2px,#22a1e4 28.1px,#1ca9e0 31.0px,#14b0d8 34.0px,#04b6cd 36.9px,#05bbc1 39.8px,#1cc0b3 42.8px,#2ec4a4 45.7px,#3cc991 48.6px,#56cc7b 51.6px,#78cc5f 54.5px,#9cc943 57.4px,#bfc32d 60.4px,#ddbd29 63.3px,#f4ba39 66.2px,#fec339 69.2px,#fcd030 72.1px,#f7dc2a 75.0px,#f5e526 78.0px,#f5ec23 80.9px,#f5ee21 83.8px,#f5ec22 86.7px,#49cb86 87.2px)"></i>
<i style="top:26.11px;height:1.02px;background:linear-gradient(90deg,#49cb86 3.7px,#4433cb 4.2px,#4848ec 7.1px,#475bfa 10.1px,#406dfe 13.1px,#327cfc 16.0px,#2d88f6 19.0px,#2b92ee 22.0px,#269be8 24.9px,#22a2e4 27.9px,#1caadf 30.9px,#13b0d7 33.8px,#05b6cd 36.8px,#04bbc2 39.8px,#1bc0b4 42.7px,#2dc4a5 45.7px,#3bc993 48.7px,#54cc7d 51.6px,#74cc62 54.6px,#99c946 57.6px,#bcc42f 60.5px,#dabd28 63.5px,#f2ba38 66.5px,#fec13a 69.4px,#fdce31 72.4px,#f8da2b 75.4px,#f5e327 78.3px,#f5e924 81.3px,#f5eb23 84.3px,#f5e924 87.2px,#49cb86 87.7px)"></i>
<i style="top:27.12px;height:1.02px;background:linear-gradient(90deg,#49cb86 3.3px,#4435d1 3.7px,#484bef 6.7px,#465efb 9.7px,#3e70ff 12.7px,#307ffb 15.7px,#2d8af4 18.7px,#2994ed 21.7px,#259ce7 24.7px,#21a3e3 27.7px,#1baade 30.7px,#13b0d7 33.7px,#05b6cd 36.7px,#04bbc2 39.7px,#19bfb5 42.7px,#2cc4a6 45.7px,#39c895 48.7px,#51cc7f 51.7px,#71cd64 54.7px,#96ca49 57.7px,#b9c431 60.7px,#d7be28 63.7px,#f0ba36 66.7px,#fec03b 69.7px,#fdcd32 72.7px,#f9d82c 75.7px,#f5e128 78.7px,#f5e725 81.7px,#f5e825 84.7px,#f5e526 87.7px,#49cb86 88.1px)"></i>
<i style="top:28.12px;height:1.02px;background:linear-gradient(90deg,#49cb86 2.9px,#4537d6 3.3px,#484df1 6.2px,#4660fc 9.2px,#3c71ff 12.1px,#3080fb 15.0px,#2d8bf4 17.9px,#2994ed 20.9px,#259be7 23.8px,#22a2e4 26.7px,#1da9e0 29.6px,#16afd9 32.5px,#09b4d1 35.5px,#01b9c7 38.4px,#0dbdbc 41.3px,#24c1af 44.2px,#31c6a0 47.2px,#40ca8d 50.1px,#5bcc77 53.0px,#7ccc5c 55.9px,#9fc942 58.9px,#c0c32d 61.8px,#dcbd29 64.7px,#f2ba38 67.6px,#fec13a 70.5px,#fdcd32 73.5px,#f9d72c 76.4px,#f6e029 79.3px,#f5e426 82.2px,#f5e526 85.2px,#f5e128 88.1px,#49cb86 88.5px)"></i>
<i style="top:29.13px;height:1.02px;background:linear-gradient(90deg,#49cb86 2.5px,#463adc 2.9px,#4851f3 5.9px,#4564fd 8.8px,#3975fe 11.8px,#2f83f9 14.7px,#2d8df2 17.7px,#2896ec 20.6px,#259de7 23.6px,#21a4e3 26.5px,#1caadf 29.5px,#15afd9 32.4px,#09b4d1 35.4px,#01b9c7 38.3px,#0cbdbc 41.3px,#22c1af 44.2px,#30c5a1 47.2px,#3eca8f 50.1px,#58cc79 53.1px,#78cc5f 56.0px,#9bc944 59.0px,#bcc42f 61.9px,#d9be28 64.9px,#f0ba36 67.8px,#febf3b 70.8px,#fdcb33 73.7px,#fad52d 76.7px,#f7dd2a 79.6px,#f5e128 82.6px,#f5e228 85.5px,#f7dd2a 88.5px,#49cb86 88.9px)"></i>
<i style="top:30.13px;height:1.02px;background:linear-gradient(90deg,#49cb86 2.1px,#463de0 2.6px,#4854f6 5.5px,#4367fd 8.5px,#3578fd 11.5px,#2e85f8 14.5px,#2c90f0 17.4px,#2798ea 20.4px,#249fe6 23.4px,#20a5e2 26.4px,#1baade 29.3px,#14b0d8 32.3px,#08b4d0 35.3px,#01b9c7 38.3px,#0bbdbc 41.2px,#21c1b0 44.2px,#2fc5a2 47.2px,#3dc991 50.2px,#55cc7b 53.1px,#74cc62 56.1px,#97ca47 59.1px,#b9c431 62.1px,#d6be28 65.0px,#edba33 68.0px,#fdbd3d 71.0px,#fec834 74.0px,#fbd22f 76.9px,#f8da2b 79.9px,#f6de29 82.9px,#f6de29 85.9px,#f8d82c 88.8px,#49cb86 89.3px)"></i>
<i style="top:31.14px;height:1.02px;background:linear-gradient(90deg,#49cb86 1.8px,#4741e5 2.2px,#4758f8 5.2px,#416bfe 8.2px,#327cfc 11.2px,#2d88f6 14.2px,#2a92ee 17.2px,#269ae9 20.2px,#23a0e5 23.2px,#1fa6e2 26.2px,#1aabdd 29.2px,#13b0d7 32.2px,#07b5d0 35.2px,#01b9c7 38.2px,#0bbdbd 41.2px,#20c1b1 44.2px,#2fc5a3 47.2px,#3bc992 50.2px,#53cc7d 53.2px,#71cd64 56.2px,#94ca4a 59.2px,#b5c533 62.2px,#d2bf27 65.2px,#eaba31 68.2px,#fbbc3d 71.2px,#fec636 74.2px,#fcd030 77.2px,#f9d72d 80.2px,#f8db2b 83.2px,#f8da2b 86.2px,#fbd42e 89.2px,#49cb86 89.6px)"></i>
<i style="top:32.14px;height:1.02px;background:linear-gradient(90deg,#49cb86 1.5px,#4745e9 1.9px,#475bf9 4.8px,#3f6eff 7.7px,#317efb 10.7px,#2d8af4 13.6px,#2a93ed 16.5px,#269be8 19.4px,#23a1e4 22.3px,#1fa6e2 25.3px,#1babde 28.2px,#15afd9 31.1px,#0bb3d2 34.0px,#01b7ca 36.9px,#04bbc1 39.9px,#16bfb7 42.8px,#28c2ab 45.7px,#33c69d 48.6px,#42ca8c 51.5px,#5bcc76 54.5px,#7acc5e 57.4px,#9bc944 60.3px,#bac430 63.2px,#d6be28 66.1px,#ecba32 69.1px,#fbbc3d 72.0px,#fec537 74.9px,#fdce31 77.8px,#fad42e 80.7px,#f9d72d 83.7px,#fad52d 86.6px,#fccf31 89.5px,#49cb86 89.9px)"></i>
<i style="top:33.15px;height:1.02px;background:linear-gradient(90deg,#49cb86 1.2px,#4849ed 1.6px,#465ffb 4.6px,#3b72ff 7.5px,#2f82fa 10.4px,#2d8df2 13.4px,#2896eb 16.3px,#259de7 19.3px,#21a3e4 22.2px,#1ea8e1 25.1px,#1aacdd 28.1px,#13b0d8 31.0px,#09b4d1 33.9px,#01b8ca 36.9px,#05bbc1 39.8px,#15bfb7 42.8px,#27c2ac 45.7px,#32c69e 48.6px,#40ca8d 51.6px,#59cc79 54.5px,#76cc60 57.5px,#97ca47 60.4px,#b6c532 63.3px,#d2bf27 66.3px,#e8bb2f 69.2px,#f9bb3d 72.1px,#fec338 75.1px,#fdcb33 78.0px,#fcd12f 81.0px,#fbd32e 83.9px,#fcd12f 86.8px,#feca33 89.8px,#49cb86 90.2px)"></i>
<i style="top:34.15px;height:1.02px;background:linear-gradient(90deg,#49cb86 0.9px,#484df0 1.4px,#4563fc 4.3px,#3776fe 7.3px,#2e85f8 10.2px,#2b90ef 13.2px,#2699e9 16.1px,#249fe5 19.1px,#20a5e3 22.0px,#1ca9df 25.0px,#18addb 28.0px,#12b1d6 30.9px,#08b4d0 33.9px,#01b8c9 36.8px,#05bbc1 39.8px,#15bfb7 42.7px,#26c2ac 45.7px,#32c69f 48.7px,#3eca8f 51.6px,#56cc7b 54.6px,#73cd63 57.5px,#93ca4a 60.5px,#b2c535 63.4px,#cec028 66.4px,#e5bb2d 69.4px,#f6ba3c 72.3px,#fec03a 75.3px,#fec835 78.2px,#fdcd31 81.2px,#fccf30 84.1px,#fdcc32 87.1px,#fec537 90.0px,#49cb86 90.5px)"></i>
<i style="top:35.15px;height:1.02px;background:linear-gradient(90deg,#49cb86 0.7px,#4851f3 1.1px,#4367fd 4.1px,#337bfd 7.1px,#2d89f5 10.0px,#2994ed 13.0px,#259ce7 16.0px,#22a2e4 19.0px,#1ea7e1 21.9px,#1babde 24.9px,#16aeda 27.9px,#10b2d5 30.8px,#07b5cf 33.8px,#01b8c9 36.8px,#05bbc1 39.8px,#15bfb7 42.7px,#26c2ad 45.7px,#31c6a0 48.7px,#3dc990 51.6px,#54cc7d 54.6px,#70cd65 57.6px,#90ca4d 60.6px,#aec637 63.5px,#cac129 66.5px,#e1bc2b 69.5px,#f3ba38 72.4px,#febe3c 75.4px,#fec537 78.4px,#feca33 81.4px,#fdcb33 84.3px,#fec835 87.3px,#fec03b 90.3px,#49cb86 90.7px)"></i>
<i style="top:36.16px;height:1.02px;background:linear-gradient(90deg,#49cb86 0.5px,#4755f6 0.9px,#416cfe 3.9px,#307ffb 6.9px,#2d8df2 9.9px,#2797eb 12.8px,#249ee6 15.8px,#20a4e3 18.8px,#1da9e0 21.8px,#19acdc 24.8px,#14b0d8 27.8px,#0db3d3 30.8px,#05b6ce 33.8px,#01b9c8 36.7px,#06bcc0 39.7px,#15bfb7 42.7px,#26c2ad 45.7px,#31c5a1 48.7px,#3cc991 51.7px,#51cc7e 54.7px,#6ccd68 57.6px,#8ccb50 60.6px,#aac739 63.6px,#c6c22a 66.6px,#ddbd29 69.6px,#efba35 72.6px,#fbbc3d 75.6px,#fec239 78.6px,#fec636 81.5px,#fec735 84.5px,#fec338 87.5px,#fbbc3d 90.5px,#49cb86 90.9px)"></i>
<i style="top:37.16px;height:1.02px;background:linear-gradient(90deg,#49cb86 0.3px,#4759f9 0.7px,#3d70ff 3.7px,#2e83f9 6.7px,#2b90f0 9.7px,#269ae8 12.7px,#22a1e4 15.7px,#1ea7e1 18.7px,#1babde 21.7px,#17aeda 24.7px,#12b1d6 27.7px,#0ab4d2 30.7px,#04b6cd 33.7px,#01b9c7 36.7px,#07bcbf 39.7px,#16bfb7 42.7px,#25c2ad 45.7px,#30c5a1 48.7px,#3bc992 51.7px,#4fcc80 54.7px,#6acd6a 57.7px,#88cb53 60.7px,#a6c73c 63.7px,#c2c22c 66.7px,#d9be28 69.7px,#ebba32 72.7px,#f8ba3d 75.7px,#febf3c 78.7px,#fec339 81.7px,#fec338 84.7px,#febf3b 87.7px,#f5ba3a 90.7px,#49cb86 91.1px)"></i>
<i style="top:38.17px;height:1.02px;background:linear-gradient(90deg,#49cb86 0.1px,#465efb 0.5px,#3974fe 3.5px,#2e86f7 6.4px,#2a93ee 9.3px,#259ce7 12.2px,#21a3e3 15.1px,#1da8e0 18.0px,#1aacdd 20.9px,#15afd9 23.9px,#10b2d5 26.8px,#09b4d1 29.7px,#04b6cd 32.6px,#01b9c8 35.5px,#04bbc2 38.4px,#0fbeba 41.3px,#1fc0b2 44.2px,#2bc3a8 47.2px,#34c79b 50.1px,#41ca8c 53.0px,#57cc7a 55.9px,#71cd64 58.8px,#8ecb4e 61.7px,#abc739 64.6px,#c4c22b 67.5px,#d9bd28 70.5px,#eaba31 73.4px,#f6ba3b 76.3px,#fcbd3d 79.2px,#febf3b 82.1px,#febf3c 85.0px,#fabb3d 87.9px,#edba34 90.9px,#49cb86 91.3px)"></i>
<i style="top:39.17px;height:1.02px;background:linear-gradient(90deg,#49cb86 0.0px,#4562fc 0.4px,#3479fd 3.3px,#2d8af4 6.2px,#2797eb 9.2px,#239fe5 12.1px,#1fa6e2 15.0px,#1babde 17.9px,#17aeda 20.9px,#12b1d6 23.8px,#0cb3d3 26.7px,#06b5cf 29.6px,#02b7cb 32.5px,#01b9c6 35.5px,#06bcc0 38.4px,#11beba 41.3px,#1fc1b1 44.2px,#2bc3a8 47.2px,#34c79c 50.1px,#40ca8d 53.0px,#55cc7c 55.9px,#6ecd67 58.9px,#8bcb51 61.8px,#a7c73c 64.7px,#c0c32d 67.6px,#d5be28 70.5px,#e6bb2d 73.5px,#f2ba37 76.4px,#f9bb3d 79.3px,#fcbc3d 82.2px,#fbbc3d 85.2px,#f4ba3a 88.1px,#e5bb2d 91.0px,#49cb86 91.4px)"></i>
<i style="top:40.18px;height:1.02px;background:linear-gradient(90deg,#49cb86 0.0px,#4367fd 0.3px,#317efb 3.2px,#2c8ef1 6.1px,#269ae8 9.1px,#21a3e4 12.0px,#1da9e0 14.9px,#18addb 17.9px,#13b0d7 20.8px,#0db3d4 23.7px,#08b5d0 26.7px,#04b6cd 29.6px,#01b8c9 32.5px,#02bac4 35.4px,#08bcbf 38.4px,#13beb9 41.3px,#20c1b1 44.2px,#2bc3a7 47.2px,#34c79c 50.1px,#3fca8e 53.0px,#53cc7d 56.0px,#6ccd69 58.9px,#87cb54 61.8px,#a2c83f 64.7px,#bbc42f 67.7px,#d1bf27 70.6px,#e1bc2b 73.5px,#edba33 76.5px,#f5ba3a 79.4px,#f8ba3d 82.3px,#f6ba3b 85.3px,#edba33 88.2px,#dbbd29 91.1px,#49cb86 91.4px)"></i>
<i style="top:41.18px;height:1.02px;background:linear-gradient(90deg,#49cb86 0.0px,#406cfe 0.2px,#2e83f9 3.1px,#2a92ee 6.1px,#249ee6 9.0px,#1fa6e2 11.9px,#1aacdd 14.9px,#14b0d8 17.8px,#0eb2d4 20.7px,#08b4d1 23.7px,#05b6cd 26.6px,#01b8ca 29.5px,#01b9c7 32.5px,#03bbc3 35.4px,#0abdbe 38.4px,#15bfb7 41.3px,#21c1b0 44.2px,#2cc4a7 47.2px,#34c79c 50.1px,#3eca8f 53.0px,#52cc7e 56.0px,#69cd6b 58.9px,#84cc56 61.9px,#9fc942 64.8px,#b7c532 67.7px,#ccc028 70.7px,#dcbd29 73.6px,#e8bb2f 76.5px,#f0ba36 79.5px,#f2ba38 82.4px,#efba35 85.3px,#e5bb2d 88.3px,#d1bf27 91.2px,#49cb86 91.4px)"></i>
<i style="top:42.18px;height:1.02px;background:linear-gradient(90deg,#49cb86 0.0px,#3c71ff 0.1px,#2e87f7 3.0px,#2797eb 6.0px,#22a1e4 8.9px,#1ca9df 11.9px,#16aeda 14.8px,#0fb2d5 17.8px,#08b4d1 20.7px,#04b6cd 23.6px,#01b7ca 26.6px,#01b9c7 29.5px,#02bac4 32.5px,#06bbc1 35.4px,#0cbdbc 38.3px,#18bfb6 41.3px,#23c1af 44.2px,#2cc4a7 47.2px,#34c79c 50.1px,#3eca8f 53.1px,#51cc7f 56.0px,#67cd6c 58.9px,#81cc59 61.9px,#9bc945 64.8px,#b3c534 67.8px,#c7c12a 70.7px,#d7be28 73.6px,#e3bc2c 76.6px,#eaba31 79.5px,#ecba32 82.5px,#e8bb2f 85.4px,#ddbd29 88.4px,#c6c22a 91.3px,#49cb86 91.4px)"></i>
<i style="top:43.19px;height:1.02px;background:linear-gradient(90deg,#3777fe 0.0px,#2d8cf3 3.0px,#269ae8 5.9px,#20a5e2 8.9px,#19acdc 11.8px,#12b1d6 14.8px,#09b4d1 17.7px,#04b6cd 20.7px,#01b8ca 23.6px,#01b9c7 26.6px,#02bac5 29.5px,#04bbc2 32.4px,#09bcbe 35.4px,#10beba 38.3px,#1ac0b5 41.3px,#24c2ae 44.2px,#2dc4a6 47.2px,#34c79c 50.1px,#3eca8f 53.1px,#50cc80 56.0px,#65cd6e 59.0px,#7ecc5b 61.9px,#97ca48 64.8px,#aec637 67.8px,#c2c22c 70.7px,#d2bf27 73.7px,#debd29 76.6px,#e4bb2c 79.6px,#e6bb2d 82.5px,#e1bc2b 85.5px,#d3bf27 88.4px,#bac430 91.4px)"></i>
<i style="top:44.19px;height:1.02px;background:linear-gradient(90deg,#327cfc 0.0px,#2c90f0 3.0px,#249ee6 5.9px,#1da8e0 8.9px,#15afd9 11.8px,#0bb3d2 14.7px,#04b6cd 17.7px,#01b8c9 20.6px,#01b9c6 23.6px,#02bac4 26.5px,#04bbc2 29.5px,#08bcbf 32.4px,#0cbdbc 35.4px,#14beb8 38.3px,#1dc0b3 41.3px,#26c2ad 44.2px,#2ec4a5 47.2px,#34c79b 50.1px,#3eca8f 53.1px,#4fcc80 56.0px,#63cd6f 59.0px,#7bcc5d 61.9px,#93ca4a 64.9px,#aac73a 67.8px,#bdc32e 70.8px,#cdc028 73.7px,#d8be28 76.7px,#debc2a 79.6px,#dfbc2a 82.5px,#d9be28 85.5px,#cac129 88.4px,#aec637 91.4px)"></i>
<i style="top:45.20px;height:1.02px;background:linear-gradient(90deg,#2f81fa 0.0px,#2995ec 2.9px,#22a2e4 5.9px,#1aacdd 8.8px,#0fb2d5 11.8px,#05b6ce 14.7px,#01b8c9 17.7px,#02bac5 20.6px,#03bbc2 23.6px,#06bcc0 26.5px,#09bcbe 29.5px,#0cbdbc 32.4px,#11beb9 35.4px,#18bfb6 38.3px,#20c1b1 41.3px,#28c2ab 44.2px,#2ec5a4 47.2px,#35c79a 50.1px,#3eca8f 53.1px,#4fcc81 56.0px,#62cd70 59.0px,#79cc5f 61.9px,#90ca4d 64.9px,#a6c83d 67.8px,#b9c431 70.8px,#c8c129 73.7px,#d2bf27 76.7px,#d8be28 79.6px,#d7be28 82.6px,#d0bf27 85.5px,#bfc32d 88.5px,#a0c840 91.4px)"></i>
<i style="top:46.20px;height:1.02px;background:linear-gradient(90deg,#2e86f7 0.0px,#2699e9 3.0px,#1fa6e2 5.9px,#15afd9 8.9px,#08b5d0 11.8px,#01b8c9 14.7px,#02bac4 17.7px,#05bbc1 20.6px,#09bcbe 23.6px,#0bbdbc 26.5px,#0fbebb 29.5px,#12beb9 32.4px,#17bfb6 35.4px,#1cc0b3 38.3px,#23c1af 41.3px,#29c3a9 44.2px,#2fc5a2 47.2px,#36c799 50.1px,#3fca8e 53.1px,#4ecc81 56.0px,#61cd71 59.0px,#76cc60 61.9px,#8dcb4f 64.9px,#a2c840 67.8px,#b4c534 70.8px,#c2c22c 73.7px,#ccc028 76.7px,#d1bf27 79.6px,#d0c028 82.5px,#c7c12a 85.5px,#b4c534 88.4px,#93ca4b 91.4px)"></i>
<i style="top:47.21px;height:1.02px;background:linear-gradient(90deg,#2d8bf4 0.0px,#249de7 3.0px,#1caadf 5.9px,#0fb2d5 8.9px,#02b7cb 11.8px,#02bac4 14.8px,#07bcbf 17.7px,#0cbdbc 20.7px,#10beba 23.6px,#13beb8 26.6px,#16bfb7 29.5px,#19bfb6 32.4px,#1cc0b3 35.4px,#21c1b0 38.3px,#26c2ad 41.3px,#2cc4a7 44.2px,#31c5a1 47.2px,#36c898 50.1px,#3fca8e 53.1px,#4ecc81 56.0px,#60cd72 59.0px,#74cc62 61.9px,#8acb52 64.8px,#9ec943 67.8px,#afc637 70.7px,#bcc42f 73.7px,#c6c22a 76.6px,#cac129 79.6px,#c7c129 82.5px,#bdc32e 85.5px,#a8c73b 88.4px,#85cb55 91.4px)"></i>
<i style="top:48.21px;height:1.02px;background:linear-gradient(90deg,#49cb86 0.0px,#2c90f0 0.1px,#22a1e4 3.0px,#18addb 6.0px,#07b5d0 8.9px,#01b9c6 11.9px,#07bcbf 14.8px,#0fbebb 17.8px,#15bfb7 20.7px,#19bfb6 23.6px,#1bc0b4 26.6px,#1cc0b3 29.5px,#1ec0b2 32.5px,#21c1b0 35.4px,#25c2ae 38.3px,#29c3aa 41.3px,#2dc4a5 44.2px,#32c69f 47.2px,#37c897 50.1px,#41ca8d 53.1px,#4fcc81 56.0px,#60cd72 58.9px,#73cd63 61.9px,#87cb54 64.8px,#9ac946 67.8px,#aac73a 70.7px,#b7c532 73.6px,#bfc32d 76.6px,#c2c22c 79.5px,#bfc32d 82.5px,#b3c534 85.4px,#9cc944 88.4px,#78cc5f 91.3px,#49cb86 91.4px)"></i>
<i style="top:49.22px;height:1.02px;background:linear-gradient(90deg,#49cb86 0.0px,#2895ec 0.2px,#1fa5e2 3.1px,#13b1d7 6.1px,#02b7cb 9.0px,#05bbc1 11.9px,#10beba 14.9px,#19bfb6 17.8px,#1dc0b3 20.7px,#20c1b1 23.7px,#21c1b0 26.6px,#23c1af 29.5px,#24c1ae 32.5px,#26c2ad 35.4px,#28c3aa 38.4px,#2cc4a7 41.3px,#2fc5a3 44.2px,#33c79d 47.2px,#39c895 50.1px,#42ca8b 53.0px,#4fcc80 56.0px,#5fcd73 58.9px,#71cd64 61.9px,#84cc56 64.8px,#96ca48 67.7px,#a5c83d 70.7px,#b1c635 73.6px,#b8c431 76.5px,#bac430 79.5px,#b6c532 82.4px,#a9c73b 85.3px,#90ca4d 88.3px,#6acd6a 91.2px,#49cb86 91.4px)"></i>
<i style="top:50.22px;height:1.02px;background:linear-gradient(90deg,#49cb86 0.0px,#2699e9 0.3px,#1ca9df 3.2px,#0ab4d2 6.1px,#01bac5 9.1px,#0dbdbc 12.0px,#1abfb5 14.9px,#21c1b0 17.9px,#25c2ae 20.8px,#26c2ac 23.7px,#27c2ab 26.7px,#28c2ab 29.6px,#28c3aa 32.5px,#2ac3a9 35.4px,#2cc4a7 38.4px,#2ec4a4 41.3px,#31c6a0 44.2px,#35c79a 47.2px,#3bc993 50.1px,#44ca8a 53.0px,#50cc7f 56.0px,#5fcd73 58.9px,#70cd65 61.8px,#82cc58 64.7px,#92ca4b 67.7px,#a0c841 70.6px,#abc739 73.5px,#b2c635 76.5px,#b3c534 79.4px,#adc638 82.3px,#9ec942 85.3px,#84cc56 88.2px,#5ecc74 91.1px,#49cb86 91.4px)"></i>
<i style="top:51.22px;height:1.02px;background:linear-gradient(90deg,#49cb86 0.0px,#249ee6 0.4px,#18addb 3.3px,#04b6cc 6.2px,#07bcc0 9.2px,#18bfb6 12.1px,#22c1af 15.0px,#28c2ab 17.9px,#2ac3a9 20.9px,#2cc4a7 23.8px,#2cc4a7 26.7px,#2cc4a6 29.6px,#2dc4a6 32.5px,#2dc4a5 35.5px,#2ec5a4 38.4px,#30c5a1 41.3px,#33c69d 44.2px,#37c898 47.2px,#3cc991 50.1px,#45cb88 53.0px,#52cc7e 55.9px,#60cd73 58.9px,#6fcd66 61.8px,#80cc5a 64.7px,#8fcb4e 67.6px,#9cc944 70.5px,#a5c83d 73.5px,#abc739 76.4px,#abc739 79.3px,#a3c83e 82.2px,#93ca4b 85.2px,#77cc60 88.1px,#52cc7e 91.0px,#49cb86 91.4px)"></i>
<i style="top:52.23px;height:1.02px;background:linear-gradient(90deg,#49cb86 0.1px,#21a3e4 0.5px,#12b1d7 3.5px,#01b9c7 6.4px,#10beba 9.3px,#21c1b0 12.2px,#29c3aa 15.1px,#2dc4a6 18.0px,#2fc5a3 20.9px,#30c5a2 23.9px,#30c5a2 26.8px,#30c5a2 29.7px,#30c5a2 32.6px,#30c5a1 35.5px,#31c6a0 38.4px,#33c69d 41.3px,#35c79a 44.2px,#39c895 47.2px,#3eca8f 50.1px,#47cb87 53.0px,#53cc7d 55.9px,#60cd72 58.8px,#6ecd66 61.7px,#7dcc5b 64.6px,#8ccb50 67.5px,#97ca47 70.5px,#a0c841 73.4px,#a4c83e 76.3px,#a2c83f 79.2px,#9ac945 82.1px,#88cb53 85.0px,#6bcd69 87.9px,#47cb87 90.9px,#49cb86 91.3px)"></i>
<i style="top:53.23px;height:1.02px;background:linear-gradient(90deg,#49cb86 0.3px,#1ea7e1 0.7px,#09b4d1 3.7px,#06bcc0 6.7px,#1dc0b3 9.7px,#29c3aa 12.7px,#2fc5a3 15.7px,#32c69f 18.7px,#33c69d 21.7px,#34c79c 24.7px,#33c79c 27.7px,#33c79d 30.7px,#33c79d 33.7px,#34c79c 36.7px,#35c79b 39.7px,#36c898 42.7px,#3ac994 45.7px,#3eca8f 48.7px,#46cb88 51.7px,#50cc7f 54.7px,#5ccc76 57.7px,#69cd6a 60.7px,#77cc5f 63.7px,#85cb55 66.7px,#91ca4c 69.7px,#99c946 72.7px,#9dc943 75.7px,#9bc945 78.7px,#92ca4c 81.7px,#7fcc5a 84.7px,#61cd71 87.7px,#3eca8f 90.7px,#49cb86 91.1px)"></i>
<i style="top:54.24px;height:1.02px;background:linear-gradient(90deg,#49cb86 0.5px,#1aabdd 0.9px,#02b7cb 3.9px,#10beba 6.9px,#25c2ad 9.9px,#2ec5a3 12.8px,#33c69d 15.8px,#36c899 18.8px,#37c897 21.8px,#38c896 24.8px,#37c897 27.8px,#37c897 30.8px,#37c898 33.8px,#37c897 36.7px,#38c896 39.7px,#3ac994 42.7px,#3dc991 45.7px,#42ca8c 48.7px,#49cb85 51.7px,#53cc7e 54.7px,#5dcc74 57.6px,#69cd6a 60.6px,#76cc60 63.6px,#83cc57 66.6px,#8dcb4f 69.6px,#94ca4a 72.6px,#96ca48 75.6px,#93ca4b 78.6px,#88cb53 81.5px,#74cd62 84.5px,#57cc7a 87.5px,#37c897 90.5px,#49cb86 90.9px)"></i>
<i style="top:55.24px;height:1.02px;background:linear-gradient(90deg,#49cb86 0.7px,#15afd9 1.1px,#01bac5 4.1px,#1bc0b4 7.1px,#2cc4a7 10.0px,#33c69d 13.0px,#38c896 16.0px,#3bc992 19.0px,#3dc990 21.9px,#3dc990 24.9px,#3dc991 27.9px,#3cc991 30.8px,#3bc992 33.8px,#3bc992 36.8px,#3cc991 39.8px,#3dca90 42.7px,#41ca8d 45.7px,#46cb88 48.7px,#4ccb82 51.6px,#55cc7b 54.6px,#5fcd73 57.6px,#6acd6a 60.6px,#75cc61 63.5px,#80cc59 66.5px,#89cb52 69.5px,#8fcb4e 72.4px,#90ca4d 75.4px,#8bcb51 78.4px,#7fcc5a 81.4px,#6acd6a 84.3px,#4dcb82 87.3px,#32c69e 90.3px,#49cb86 90.7px)"></i>
<i style="top:56.25px;height:1.02px;background:linear-gradient(90deg,#49cb86 0.9px,#0db3d3 1.4px,#08bcbf 4.3px,#25c2ae 7.3px,#31c6a0 10.2px,#38c896 13.2px,#3eca8f 16.1px,#42ca8b 19.1px,#44cb89 22.0px,#45cb89 25.0px,#44ca8a 28.0px,#42ca8b 30.9px,#41ca8c 33.9px,#40ca8d 36.8px,#41ca8c 39.8px,#42ca8b 42.7px,#45cb88 45.7px,#4acb85 48.7px,#50cc7f 51.6px,#58cc79 54.6px,#61cd72 57.5px,#6bcd69 60.5px,#75cc62 63.4px,#7ecc5b 66.4px,#85cb55 69.4px,#8acb52 72.3px,#89cb52 75.3px,#83cc57 78.2px,#75cc61 81.2px,#60cd72 84.1px,#44ca8a 87.1px,#2dc4a5 90.0px,#49cb86 90.5px)"></i>
<i style="top:57.25px;height:1.02px;background:linear-gradient(90deg,#49cb86 1.2px,#05b6cd 1.6px,#13beb9 4.6px,#2cc4a7 7.5px,#35c799 10.4px,#3eca8f 13.4px,#46cb88 16.3px,#4bcb84 19.3px,#4dcc82 22.2px,#4dcc82 25.1px,#4ccb83 28.1px,#4acb85 31.0px,#48cb86 33.9px,#47cb87 36.9px,#47cb87 39.8px,#48cb86 42.8px,#4bcb84 45.7px,#4fcc81 48.6px,#54cc7c 51.6px,#5bcc76 54.5px,#63cd70 57.5px,#6bcd69 60.4px,#74cc62 63.3px,#7ccc5c 66.3px,#82cc58 69.2px,#85cb56 72.1px,#83cc57 75.1px,#7bcc5d 78.0px,#6dcd68 81.0px,#57cc7a 83.9px,#3cc991 86.8px,#28c2ab 89.8px,#49cb86 90.2px)"></i>
<i style="top:58.25px;height:1.02px;background:linear-gradient(90deg,#49cb86 1.5px,#01b9c7 1.9px,#1ec0b2 4.8px,#31c5a1 7.7px,#3bc992 10.7px,#47cb87 13.6px,#50cc80 16.5px,#55cc7c 19.4px,#57cc7a 22.3px,#56cc7b 25.3px,#55cc7c 28.2px,#52cc7e 31.1px,#50cc7f 34.0px,#4fcc81 36.9px,#4ecc81 39.9px,#4fcc81 42.8px,#51cc7f 45.7px,#54cc7c 48.6px,#59cc79 51.5px,#5ecd74 54.5px,#65cd6e 57.4px,#6dcd68 60.3px,#74cc62 63.2px,#7acc5d 66.1px,#7fcc5a 69.1px,#80cc59 72.0px,#7dcc5c 74.9px,#74cd62 77.8px,#64cd6f 80.7px,#4ecc81 83.7px,#37c898 86.6px,#21c1b1 89.5px,#49cb86 89.9px)"></i>
<i style="top:59.26px;height:1.02px;background:linear-gradient(90deg,#49cb86 1.8px,#06bcc0 2.2px,#28c3ab 5.2px,#36c898 8.2px,#45cb89 11.2px,#52cc7e 14.2px,#5bcc77 17.2px,#5fcd73 20.2px,#60cd72 23.2px,#5fcd73 26.2px,#5dcc75 29.2px,#5acc77 32.2px,#58cc79 35.2px,#56cc7b 38.2px,#56cc7b 41.2px,#56cc7b 44.2px,#58cc79 47.2px,#5bcc76 50.2px,#60cd72 53.2px,#65cd6e 56.2px,#6ccd68 59.2px,#72cd63 62.2px,#78cc5f 65.2px,#7bcc5d 68.2px,#7ccc5c 71.2px,#78cc5f 74.2px,#6ecd66 77.2px,#5fcd73 80.2px,#48cb86 83.2px,#33c69d 86.2px,#18bfb6 89.2px,#49cb86 89.6px)"></i>
<i style="top:60.26px;height:1.02px;background:linear-gradient(90deg,#49cb86 2.1px,#11beba 2.6px,#2ec5a4 5.5px,#3dc990 8.5px,#4fcc81 11.5px,#5ccc75 14.5px,#65cd6e 17.4px,#69cd6a 20.4px,#6acd6a 23.4px,#69cd6b 26.4px,#67cd6d 29.3px,#63cd6f 32.3px,#61cd72 35.3px,#5ecd74 38.3px,#5dcc75 41.2px,#5dcc75 44.2px,#5ecd74 47.2px,#61cd72 50.2px,#64cd6f 53.1px,#69cd6b 56.1px,#6ecd67 59.1px,#73cd63 62.1px,#77cc60 65.0px,#79cc5f 68.0px,#78cc5f 71.0px,#72cd63 74.0px,#68cd6c 76.9px,#57cc7a 79.9px,#41ca8c 82.9px,#2fc5a2 85.9px,#0ebebb 88.8px,#49cb86 89.3px)"></i>
<i style="top:61.27px;height:1.02px;background:linear-gradient(90deg,#49cb86 2.5px,#1dc0b3 2.9px,#33c79c 5.9px,#46cb88 8.8px,#59cc78 11.8px,#67cd6c 14.7px,#70cd65 17.7px,#74cc62 20.6px,#75cc61 23.6px,#74cd62 26.5px,#71cd65 29.5px,#6dcd67 32.4px,#6acd6a 35.4px,#67cd6d 38.3px,#65cd6e 41.3px,#64cd6f 44.2px,#64cd6e 47.2px,#66cd6d 50.1px,#69cd6b 53.1px,#6ccd68 56.0px,#70cd65 59.0px,#73cd62 61.9px,#76cc61 64.9px,#76cc60 67.8px,#74cd62 70.8px,#6dcd67 73.7px,#61cd71 76.7px,#50cc7f 79.6px,#3cc992 82.6px,#2bc3a7 85.5px,#07bcc0 88.5px,#49cb86 88.9px)"></i>
<i style="top:62.27px;height:1.02px;background:linear-gradient(90deg,#49cb86 2.9px,#27c2ab 3.3px,#39c995 6.2px,#50cc80 9.2px,#64cd6f 12.1px,#72cd63 15.0px,#7bcc5d 17.9px,#7fcc5a 20.9px,#80cc59 23.8px,#7fcc5a 26.7px,#7bcc5d 29.6px,#77cc60 32.5px,#73cd63 35.5px,#70cd65 38.4px,#6dcd67 41.3px,#6ccd69 44.2px,#6bcd69 47.2px,#6ccd68 50.1px,#6ecd67 53.0px,#70cd65 55.9px,#72cd63 58.9px,#74cc62 61.8px,#75cc61 64.7px,#74cc62 67.6px,#70cd65 70.5px,#68cd6b 73.5px,#5ccc76 76.4px,#4acb85 79.3px,#37c897 82.2px,#26c2ac 85.2px,#02bac4 88.1px,#49cb86 88.5px)"></i>
<i style="top:63.28px;height:1.02px;background:linear-gradient(90deg,#49cb86 3.3px,#2ec4a4 3.7px,#42ca8b 6.7px,#5ccc75 9.7px,#71cd64 12.7px,#7fcc5a 15.7px,#87cb54 18.7px,#8bcb51 21.7px,#8bcb51 24.7px,#88cb53 27.7px,#85cb56 30.7px,#80cc59 33.7px,#7ccc5c 36.7px,#78cc5f 39.7px,#75cc61 42.7px,#73cd63 45.7px,#72cd63 48.7px,#72cd63 51.7px,#73cd63 54.7px,#74cc62 57.7px,#75cc61 60.7px,#75cc61 63.7px,#73cd63 66.7px,#6ecd66 69.7px,#66cd6e 72.7px,#59cc79 75.7px,#46cb88 78.7px,#35c79a 81.7px,#22c1b0 84.7px,#01b8c8 87.7px,#49cb86 88.1px)"></i>
<i style="top:64.28px;height:1.02px;background:linear-gradient(90deg,#49cb86 3.7px,#34c79c 4.2px,#4ccb82 7.1px,#67cd6c 10.1px,#7dcc5c 13.1px,#8bcb51 16.0px,#92ca4b 19.0px,#96ca49 22.0px,#95ca49 24.9px,#93ca4b 27.9px,#8fcb4e 30.9px,#8acb51 33.8px,#86cb55 36.8px,#81cc58 39.8px,#7ecc5b 42.7px,#7bcc5d 45.7px,#79cc5e 48.7px,#78cc5f 51.6px,#78cc5f 54.6px,#78cc5f 57.6px,#77cc60 60.5px,#75cc61 63.5px,#72cd64 66.5px,#6ccd69 69.4px,#62cd71 72.4px,#54cc7d 75.4px,#41ca8c 78.3px,#32c69f 81.3px,#1bc0b4 84.3px,#03b7cc 87.2px,#49cb86 87.7px)"></i>
<i style="top:65.29px;height:1.02px;background:linear-gradient(90deg,#49cb86 4.2px,#3ac993 4.7px,#58cc79 7.6px,#73cd63 10.5px,#88cb53 13.4px,#95ca49 16.4px,#9dc943 19.3px,#a0c841 22.2px,#a0c941 25.2px,#9dc943 28.1px,#99c946 31.0px,#94ca4a 34.0px,#8fcb4e 36.9px,#8bcb51 39.8px,#86cb54 42.8px,#83cc57 45.7px,#80cc59 48.6px,#7ecc5b 51.6px,#7dcc5c 54.5px,#7bcc5d 57.4px,#79cc5e 60.4px,#76cc61 63.3px,#71cd65 66.2px,#69cd6b 69.2px,#5ecd74 72.1px,#4fcc80 75.0px,#3dc990 78.0px,#2fc5a3 80.9px,#14bfb8 83.8px,#07b5cf 86.7px,#49cb86 87.2px)"></i>
<i style="top:66.29px;height:1.02px;background:linear-gradient(90deg,#49cb86 4.7px,#43ca8a 5.2px,#63cd6f 8.1px,#80cc59 11.0px,#93ca4a 13.8px,#a0c841 16.7px,#a7c73c 19.6px,#aac73a 22.5px,#aac73a 25.4px,#a7c73c 28.3px,#a3c83f 31.2px,#9ec942 34.1px,#99c946 37.0px,#94ca4a 39.9px,#8fcb4e 42.8px,#8bcb51 45.7px,#87cb54 48.6px,#84cc56 51.5px,#81cc58 54.4px,#7fcc5a 57.3px,#7bcc5d 60.2px,#76cc60 63.1px,#70cd65 66.0px,#67cd6d 68.9px,#5bcc77 71.8px,#4acb84 74.7px,#3ac994 77.6px,#2cc4a7 80.4px,#0ebdbb 83.3px,#0cb3d3 86.2px,#49cb86 86.7px)"></i>
<i style="top:67.29px;height:1.02px;background:linear-gradient(90deg,#49cb86 5.2px,#4fcc81 5.7px,#71cd64 8.7px,#8dcb4f 11.6px,#a0c841 14.6px,#acc739 17.5px,#b2c635 20.5px,#b4c534 23.5px,#b2c534 26.4px,#afc636 29.4px,#abc739 32.4px,#a5c83d 35.3px,#a0c941 38.3px,#9ac945 41.3px,#95ca49 44.2px,#90ca4d 47.2px,#8ccb50 50.1px,#88cb53 53.1px,#84cc56 56.1px,#7fcc5a 59.0px,#79cc5e 62.0px,#71cd64 65.0px,#67cd6c 67.9px,#5acc77 70.9px,#49cb85 73.9px,#38c896 76.8px,#2ac3a8 79.8px,#0abdbe 82.7px,#10b2d5 85.7px,#49cb86 86.2px)"></i>
<i style="top:68.30px;height:1.02px;background:linear-gradient(90deg,#49cb86 5.8px,#5bcc76 6.3px,#7ecc5b 9.2px,#99c946 12.1px,#aac739 15.0px,#b5c533 18.0px,#bbc430 20.9px,#bcc42f 23.8px,#bbc42f 26.7px,#b8c431 29.6px,#b4c534 32.6px,#aec637 35.5px,#a8c73b 38.4px,#a2c83f 41.3px,#9dc943 44.2px,#97ca47 47.2px,#92ca4b 50.1px,#8dcb4f 53.0px,#88cb53 55.9px,#82cc58 58.8px,#7acc5d 61.8px,#71cd64 64.7px,#65cd6e 67.6px,#57cc7a 70.5px,#46cb88 73.4px,#36c899 76.4px,#27c2ab 79.3px,#06bcc1 82.2px,#13b0d7 85.1px,#49cb86 85.6px)"></i>
<i style="top:69.30px;height:1.02px;background:linear-gradient(90deg,#49cb86 6.4px,#68cd6c 6.9px,#8ccb50 9.9px,#a5c83d 12.8px,#b6c533 15.8px,#bfc32d 18.8px,#c4c22b 21.8px,#c5c22a 24.8px,#c3c22b 27.8px,#bfc32d 30.8px,#bac430 33.8px,#b4c533 36.7px,#aec637 39.7px,#a8c73b 42.7px,#a1c840 45.7px,#9bc945 48.7px,#95ca4a 51.7px,#8ecb4f 54.7px,#87cb54 57.6px,#7ecc5a 60.6px,#74cc62 63.6px,#67cd6c 66.6px,#58cc79 69.6px,#46cb88 72.6px,#35c79a 75.6px,#26c2ad 78.6px,#03bbc2 81.5px,#16afd9 84.5px,#49cb86 85.0px)"></i>
<i style="top:70.31px;height:1.02px;background:linear-gradient(90deg,#49cb86 7.1px,#75cc61 7.5px,#98ca47 10.5px,#b0c636 13.4px,#bfc32d 16.3px,#c8c129 19.3px,#ccc028 22.2px,#cdc028 25.1px,#cbc129 28.1px,#c7c129 31.0px,#c2c22c 34.0px,#bcc42f 36.9px,#b6c532 39.8px,#afc636 42.8px,#a8c73b 45.7px,#a1c840 48.6px,#9ac945 51.6px,#92ca4b 54.5px,#8acb52 57.4px,#80cc59 60.4px,#74cc62 63.3px,#66cd6d 66.3px,#56cc7b 69.2px,#43ca8a 72.1px,#34c79c 75.1px,#23c1af 78.0px,#02bac5 80.9px,#18aedb 83.9px,#49cb86 84.3px)"></i>
<i style="top:71.31px;height:1.02px;background:linear-gradient(90deg,#49cb86 7.7px,#83cc57 8.2px,#a3c83e 11.1px,#b9c430 14.0px,#c7c129 16.9px,#cfc028 19.7px,#d3bf27 22.6px,#d4bf28 25.5px,#d2bf27 28.4px,#cfc028 31.3px,#cac129 34.2px,#c4c22b 37.0px,#bdc32e 39.9px,#b6c532 42.8px,#afc637 45.7px,#a7c73c 48.6px,#9fc941 51.5px,#96ca48 54.4px,#8dcb4f 57.2px,#82cc58 60.1px,#75cc62 63.0px,#65cd6e 65.9px,#54cc7c 68.8px,#41ca8c 71.7px,#32c69e 74.5px,#20c1b1 77.4px,#01b9c6 80.3px,#19addc 83.2px,#49cb86 83.7px)"></i>
<i style="top:72.32px;height:1.02px;background:linear-gradient(90deg,#49cb86 8.5px,#91ca4c 8.9px,#afc636 11.9px,#c4c22b 14.8px,#d0bf27 17.7px,#d7be28 20.7px,#dabd28 23.6px,#dabd28 26.6px,#d8be28 29.5px,#d4bf28 32.5px,#cfc028 35.4px,#c8c129 38.3px,#c1c32c 41.3px,#b9c430 44.2px,#b1c635 47.2px,#a8c73b 50.1px,#9ec942 53.1px,#94ca4a 56.0px,#88cb53 58.9px,#7acc5e 61.9px,#69cd6b 64.8px,#57cc7a 67.8px,#42ca8b 70.7px,#32c69e 73.7px,#1fc1b1 76.6px,#01b9c7 79.5px,#1aacdd 82.5px,#49cb86 82.9px)"></i>
<i style="top:73.32px;height:1.02px;background:linear-gradient(90deg,#49cb86 9.2px,#9ec942 9.7px,#bac430 12.6px,#ccc028 15.4px,#d7be28 18.3px,#debd29 21.2px,#e0bc2b 24.1px,#e0bc2a 27.0px,#debd2a 29.9px,#dabd28 32.7px,#d5be28 35.6px,#cfc028 38.5px,#c7c12a 41.4px,#bfc32d 44.3px,#b7c532 47.1px,#adc638 50.0px,#a3c83f 52.9px,#97ca48 55.8px,#8acb52 58.7px,#7acc5d 61.5px,#69cd6b 64.4px,#56cc7b 67.3px,#40ca8d 70.2px,#31c6a0 73.1px,#1dc0b3 76.0px,#01b8c8 78.8px,#1aabdd 81.7px,#49cb86 82.2px)"></i>
<i style="top:74.33px;height:1.02px;background:linear-gradient(90deg,#49cb86 10.0px,#aac73a 10.5px,#c4c22b 13.4px,#d5be28 16.4px,#dfbc2a 19.3px,#e4bb2c 22.2px,#e6bb2d 25.2px,#e5bb2d 28.1px,#e2bc2b 31.0px,#debd2a 34.0px,#d8be28 36.9px,#d1bf27 39.8px,#c9c129 42.8px,#c0c32d 45.7px,#b6c532 48.6px,#acc739 51.6px,#9fc941 54.5px,#91ca4c 57.4px,#81cc59 60.4px,#6dcd67 63.3px,#59cc78 66.2px,#43ca8b 69.2px,#32c69e 72.1px,#1ec0b2 75.0px,#01b8c8 78.0px,#1babde 80.9px,#49cb86 81.4px)"></i>
<i style="top:75.33px;height:1.02px;background:linear-gradient(90deg,#49cb86 10.9px,#b6c532 11.3px,#cec028 14.3px,#ddbd29 17.3px,#e6bb2d 20.3px,#eabb30 23.3px,#ebba31 26.3px,#e9bb30 29.3px,#e6bb2d 32.3px,#e1bc2b 35.2px,#dbbd28 38.2px,#d3bf27 41.2px,#cac129 44.2px,#c0c32d 47.2px,#b5c533 50.2px,#a8c73b 53.2px,#99c946 56.2px,#88cb53 59.1px,#73cd63 62.1px,#5dcc75 65.1px,#46cb88 68.1px,#33c79d 71.1px,#1fc1b1 74.1px,#01b9c8 77.1px,#1babde 80.1px,#49cb86 80.5px)"></i>
<i style="top:76.33px;height:1.02px;background:linear-gradient(90deg,#49cb86 11.8px,#c1c32c 12.2px,#d6be28 15.2px,#e3bc2c 18.1px,#ebba31 21.0px,#eeba34 23.9px,#efba35 26.8px,#eeba34 29.7px,#eaba31 32.6px,#e6bb2d 35.5px,#dfbc2a 38.4px,#d8be28 41.3px,#cfc028 44.2px,#c4c22a 47.2px,#b9c431 50.1px,#abc739 53.0px,#9bc944 55.9px,#89cb52 58.8px,#74cc62 61.7px,#5dcc75 64.6px,#45cb89 67.5px,#33c69d 70.4px,#1fc0b2 73.3px,#01b8c8 76.2px,#1aabdd 79.2px,#49cb86 79.6px)"></i>
<i style="top:77.34px;height:1.02px;background:linear-gradient(90deg,#49cb86 12.8px,#cbc129 13.2px,#debd29 16.2px,#e9bb30 19.1px,#f0ba36 22.1px,#f2ba38 25.0px,#f2ba38 28.0px,#f0ba36 30.9px,#edba33 33.9px,#e7bb2e 36.8px,#e0bc2a 39.8px,#d8be28 42.7px,#cdc028 45.7px,#c2c32c 48.7px,#b4c534 51.6px,#a4c83e 54.6px,#91ca4c 57.5px,#7bcc5d 60.5px,#62cd70 63.4px,#49cb85 66.4px,#35c79b 69.3px,#21c1b0 72.3px,#01b9c7 75.2px,#1aacdd 78.2px,#49cb86 78.6px)"></i>
<i style="top:78.34px;height:1.02px;background:linear-gradient(90deg,#49cb86 13.8px,#d4bf28 14.2px,#e5bb2c 17.2px,#efba35 20.2px,#f4ba39 23.2px,#f6ba3b 26.2px,#f5ba3b 29.2px,#f2ba38 32.2px,#eeba34 35.2px,#e8bb2f 38.2px,#e0bc2a 41.2px,#d6be28 44.2px,#cbc129 47.2px,#bdc32e 50.2px,#adc638 53.2px,#99c946 56.2px,#83cc57 59.2px,#69cd6b 62.2px,#4ecc81 65.2px,#37c898 68.2px,#25c2ae 71.2px,#02bac5 74.2px,#19addc 77.2px,#49cb86 77.6px)"></i>
<i style="top:79.35px;height:1.02px;background:linear-gradient(90deg,#49cb86 14.9px,#dcbd29 15.3px,#eaba31 18.2px,#f3ba38 21.1px,#f7ba3c 24.0px,#f8ba3d 26.9px,#f8ba3d 29.8px,#f5ba3a 32.7px,#f1ba36 35.6px,#eaba31 38.5px,#e3bc2c 41.4px,#d9be28 44.3px,#cdc028 47.1px,#bfc32d 50.0px,#afc637 52.9px,#9bc944 55.8px,#84cc56 58.7px,#6acd6a 61.6px,#4fcc81 64.5px,#37c897 67.4px,#26c2ad 70.3px,#02bac3 73.2px,#17aeda 76.1px,#49cb86 76.5px)"></i>
<i style="top:80.35px;height:1.02px;background:linear-gradient(90deg,#49cb86 16.0px,#e3bc2c 16.5px,#efba35 19.4px,#f7ba3c 22.3px,#fabb3d 25.3px,#fabb3d 28.2px,#f9bb3d 31.1px,#f6ba3b 34.0px,#f0ba36 36.9px,#e9bb30 39.9px,#e1bc2b 42.8px,#d5be28 45.7px,#c8c129 48.6px,#b7c531 51.5px,#a4c83e 54.5px,#8dcb50 57.4px,#71cd64 60.3px,#55cc7b 63.2px,#3bc993 66.1px,#29c3aa 69.1px,#06bcc0 72.0px,#14b0d8 74.9px,#49cb86 75.4px)"></i>
<i style="top:81.36px;height:1.02px;background:linear-gradient(90deg,#49cb86 17.3px,#e9bb30 17.8px,#f4ba39 20.7px,#f9bb3d 23.6px,#fbbc3d 26.6px,#fbbc3d 29.5px,#f9bb3d 32.5px,#f6ba3b 35.4px,#efba35 38.3px,#e7bb2e 41.3px,#ddbd29 44.2px,#d0bf27 47.2px,#c0c32d 50.1px,#adc638 53.1px,#95ca49 56.0px,#7acc5d 58.9px,#5dcc75 61.9px,#3fca8e 64.8px,#2dc4a6 67.8px,#0bbdbd 70.7px,#0fb2d5 73.6px,#49cb86 74.1px)"></i>
<i style="top:82.36px;height:1.02px;background:linear-gradient(90deg,#49cb86 18.7px,#efba35 19.1px,#f8ba3d 22.1px,#fbbc3d 25.0px,#fcbd3d 28.0px,#fbbc3d 30.9px,#f9bb3d 33.9px,#f4ba3a 36.8px,#edba33 39.8px,#e4bb2c 42.7px,#d8be28 45.7px,#c8c129 48.7px,#b6c533 51.6px,#9fc942 54.6px,#84cc57 57.5px,#64cd6e 60.5px,#46cb88 63.4px,#30c5a1 66.4px,#13beb8 69.3px,#08b4d1 72.3px,#49cb86 72.7px)"></i>
<i style="top:83.36px;height:1.02px;background:linear-gradient(90deg,#49cb86 20.1px,#f3ba39 20.6px,#fabb3d 23.5px,#fcbd3d 26.5px,#fdbd3d 29.4px,#fbbc3d 32.4px,#f8ba3d 35.4px,#f2ba38 38.3px,#e9bb30 41.3px,#debc2a 44.2px,#d0bf27 47.2px,#bec32e 50.1px,#a8c73b 53.1px,#8dcb4f 56.0px,#6ecd67 59.0px,#4ecc81 62.0px,#34c79b 64.9px,#1dc0b3 67.9px,#03b7cc 70.8px,#49cb86 71.3px)"></i>
<i style="top:84.37px;height:1.02px;background:linear-gradient(90deg,#49cb86 21.7px,#f7ba3c 22.2px,#fbbc3d 25.1px,#fdbd3d 28.0px,#fcbd3d 31.0px,#fabb3d 33.9px,#f6ba3b 36.9px,#eeba34 39.8px,#e4bb2c 42.8px,#d7be28 45.7px,#c6c22a 48.6px,#b1c635 51.6px,#97ca48 54.5px,#78cc5f 57.5px,#57cc7a 60.4px,#3ac994 63.4px,#26c2ad 66.3px,#01bac5 69.2px,#49cb86 69.7px)"></i>
<i style="top:85.37px;height:1.02px;background:linear-gradient(90deg,#49cb86 23.5px,#f9bb3d 23.9px,#fcbc3d 26.8px,#fcbd3d 29.7px,#fbbc3d 32.6px,#f8ba3d 35.5px,#f2ba37 38.4px,#e9bb2f 41.3px,#ddbd29 44.2px,#cdc028 47.2px,#b9c430 50.1px,#a1c840 53.0px,#83cc57 55.9px,#62cd71 58.8px,#41ca8c 61.7px,#2dc4a6 64.6px,#09bdbe 67.5px,#49cb86 67.9px)"></i>
<i style="top:86.38px;height:1.02px;background:linear-gradient(90deg,#49cb86 25.4px,#fabb3d 25.9px,#fbbc3d 28.7px,#fbbc3d 31.5px,#f9bb3d 34.4px,#f4ba39 37.2px,#ecba32 40.0px,#e1bc2b 42.9px,#d3bf27 45.7px,#c1c32c 48.5px,#aac73a 51.4px,#8ecb4f 54.2px,#6dcd67 57.0px,#4ccb83 59.9px,#33c79d 62.7px,#1ac0b4 65.5px,#49cb86 66.0px)"></i>
<i style="top:87.38px;height:1.02px;background:linear-gradient(90deg,#49cb86 27.7px,#fabb3d 28.1px,#fabb3d 31.1px,#f8ba3d 34.0px,#f2ba38 36.9px,#eaba31 39.8px,#dfbc2a 42.8px,#cfc028 45.7px,#bbc42f 48.6px,#a1c840 51.6px,#82cc57 54.5px,#5fcd73 57.4px,#3eca8f 60.3px,#2ac3a9 63.3px,#49cb86 63.7px)"></i>
<i style="top:88.39px;height:1.02px;background:linear-gradient(90deg,#49cb86 30.3px,#f8ba3d 30.8px,#f6ba3b 33.7px,#f0ba36 36.7px,#e8bb2f 39.7px,#dcbd29 42.7px,#cbc129 45.7px,#b5c533 48.7px,#98c946 51.7px,#76cc60 54.7px,#53cc7e 57.7px,#35c79a 60.6px,#49cb86 61.1px)"></i>
<i style="top:89.39px;height:1.02px;background:linear-gradient(90deg,#49cb86 33.6px,#f2ba38 34.1px,#ecba33 37.0px,#e3bc2c 39.9px,#d6be28 42.8px,#c5c22a 45.7px,#aec637 48.6px,#91ca4c 51.5px,#6ecd66 54.4px,#4bcb83 57.3px,#49cb86 57.8px)"></i>
<i style="top:90.40px;height:1.02px;background:linear-gradient(90deg,#49cb86 38.5px,#e2bc2b 38.9px,#d6be28 41.6px,#c7c12a 44.3px,#b3c534 47.1px,#99c946 49.8px,#7bcc5d 52.5px,#49cb86 52.9px)"></i>
</div>
<div class="fr" style="left:403.5px;top:188.2px;width:91.4px;height:91.4px"></div>
<div class="cb" style="left:509.7px;top:188.2px;width:8.9px;height:91.6px;background:linear-gradient(180deg,#f9fb15 0.0%,#f5e327 6.2%,#feca33 12.5%,#f1ba37 18.8%,#c8c129 25.0%,#94ca4a 31.2%,#5ccc76 37.5%,#34c79c 43.8%,#12beb9 50.0%,#0cb3d3 56.2%,#21a3e3 62.5%,#2c90f0 68.8%,#347afd 75.0%,#4562fc 81.2%,#484cef 87.5%,#4536d5 93.8%,#3e26a8 100.0%)"></div>
<div class="pm" style="left:222.2px;top:324.4px;width:90.9px;height:91.2px;background:#0fbebb">
<i style="top:0.00px;height:1.02px;background:linear-gradient(90deg,#0fbebb 38.3px,#416bfe 38.7px,#327bfc 41.4px,#2d8bf4 44.1px,#2699ea 46.8px,#1fa5e2 49.5px,#13b0d7 52.2px,#0fbebb 52.6px)"></i>
<i style="top:1.00px;height:1.02px;background:linear-gradient(90deg,#0fbebb 33.4px,#4853f4 33.9px,#4562fc 36.8px,#3b73fe 39.7px,#2e84f8 42.6px,#2994ed 45.5px,#22a1e4 48.3px,#17aeda 51.2px,#02b7cb 54.1px,#11beb9 57.0px,#0fbebb 57.5px)"></i>
<i style="top:2.00px;height:1.02px;background:linear-gradient(90deg,#0fbebb 30.1px,#4745e9 30.6px,#4854f5 33.6px,#4563fd 36.5px,#3974fe 39.5px,#2e86f8 42.5px,#2895ec 45.5px,#21a3e3 48.4px,#14b0d8 51.4px,#01b9c8 54.4px,#18bfb6 57.3px,#2ec4a4 60.3px,#0fbebb 60.8px)"></i>
<i style="top:3.01px;height:1.02px;background:linear-gradient(90deg,#0fbebb 27.5px,#463bdd 28.0px,#4849ed 30.9px,#4757f7 33.8px,#4366fd 36.7px,#3677fe 39.6px,#2d88f6 42.5px,#2796eb 45.5px,#20a4e3 48.4px,#14b0d8 51.3px,#01b9c7 54.2px,#19bfb6 57.1px,#2ec4a4 60.0px,#3bc993 62.9px,#0fbebb 63.4px)"></i>
<i style="top:4.01px;height:1.02px;background:linear-gradient(90deg,#0fbebb 25.3px,#4536d3 25.7px,#4741e5 28.6px,#484ef1 31.4px,#475bfa 34.2px,#426afe 37.0px,#337afd 39.8px,#2d8af5 42.6px,#2798ea 45.5px,#20a5e3 48.3px,#14b0d8 51.1px,#01b9c8 53.9px,#16bfb7 56.7px,#2dc4a6 59.5px,#39c895 62.3px,#4bcb84 65.2px,#0fbebb 65.6px)"></i>
<i style="top:5.01px;height:1.02px;background:linear-gradient(90deg,#0fbebb 23.3px,#4332ca 23.8px,#463cde 26.7px,#4848ec 29.6px,#4755f6 32.5px,#4563fd 35.3px,#3b73fe 38.2px,#2e83f9 41.1px,#2b92ee 44.0px,#249fe5 46.9px,#1aacdd 49.8px,#05b6ce 52.7px,#0bbdbd 55.6px,#27c2ab 58.4px,#35c79a 61.3px,#46cb88 64.2px,#5acc78 67.1px,#0fbebb 67.6px)"></i>
<i style="top:6.01px;height:1.02px;background:linear-gradient(90deg,#0fbebb 21.6px,#4230c4 22.0px,#4538d8 25.0px,#4743e7 27.9px,#4850f3 30.8px,#465dfb 33.7px,#406cfe 36.7px,#327cfc 39.6px,#2d8cf3 42.5px,#269ae9 45.5px,#1ea7e1 48.4px,#0fb2d5 51.3px,#02bac4 54.2px,#1ec0b2 57.2px,#31c5a1 60.1px,#3fca8e 63.0px,#54cc7d 65.9px,#65cd6e 68.9px,#0fbebb 69.3px)"></i>
<i style="top:7.02px;height:1.02px;background:linear-gradient(90deg,#0fbebb 20.0px,#422fc0 20.5px,#4536d3 23.4px,#4740e3 26.3px,#484cef 29.3px,#4758f8 32.2px,#4466fd 35.2px,#3876fe 38.1px,#2e85f8 41.0px,#2994ed 44.0px,#23a1e4 46.9px,#18addb 49.9px,#03b7cc 52.8px,#10beba 55.7px,#2ac3a8 58.7px,#38c896 61.6px,#4bcb84 64.6px,#5fcd73 67.5px,#6ecd67 70.4px,#0fbebb 70.9px)"></i>
<i style="top:8.02px;height:1.02px;background:linear-gradient(90deg,#0fbebb 18.5px,#422ebf 19.0px,#4435d0 21.9px,#463de0 24.9px,#4848ec 27.8px,#4854f5 30.8px,#4561fc 33.7px,#3e6fff 36.6px,#307ffb 39.6px,#2d8df2 42.5px,#259be8 45.5px,#1da8e0 48.4px,#0db3d3 51.3px,#03bbc3 54.3px,#20c1b1 57.2px,#32c69f 60.1px,#41ca8d 63.1px,#56cc7b 66.0px,#68cd6c 69.0px,#74cc62 71.9px,#0fbebb 72.4px)"></i>
<i style="top:9.02px;height:1.02px;background:linear-gradient(90deg,#0fbebb 17.2px,#422ebf 17.7px,#4434cf 20.6px,#463cde 23.5px,#4746ea 26.4px,#4851f3 29.4px,#475dfa 32.3px,#426afe 35.2px,#3579fd 38.1px,#2d87f6 41.1px,#2895ec 44.0px,#22a2e4 46.9px,#17aedb 49.8px,#02b7cb 52.8px,#11beba 55.7px,#2bc3a8 58.6px,#38c896 61.5px,#4bcb84 64.5px,#5fcd73 67.4px,#6fcd66 70.3px,#78cc5f 73.2px,#0fbebb 73.7px)"></i>
<i style="top:10.02px;height:1.02px;background:linear-gradient(90deg,#0fbebb 16.0px,#422fc0 16.4px,#4434ce 19.3px,#463bdc 22.2px,#4744e8 25.1px,#484ef1 28.0px,#4759f8 30.9px,#4465fd 33.8px,#3a73fe 36.7px,#2f82fa 39.6px,#2c8ff0 42.5px,#259ce7 45.5px,#1da9e0 48.4px,#0db3d3 51.3px,#03bbc3 54.2px,#1fc1b1 57.1px,#31c6a0 60.0px,#3fca8e 62.9px,#54cc7c 65.8px,#67cd6d 68.7px,#74cd62 71.6px,#79cc5e 74.5px,#0fbebb 74.9px)"></i>
<i style="top:11.02px;height:1.02px;background:linear-gradient(90deg,#0fbebb 14.8px,#4230c3 15.2px,#4434cf 18.1px,#463adc 21.0px,#4742e6 23.9px,#484cef 26.8px,#4756f7 29.6px,#4561fc 32.5px,#3f6eff 35.4px,#327cfc 38.3px,#2d8af5 41.1px,#2797eb 44.0px,#21a3e3 46.9px,#17aeda 49.8px,#02b7cb 52.6px,#0fbebb 55.5px,#29c3aa 58.4px,#36c898 61.3px,#48cb86 64.1px,#5ccc75 67.0px,#6ccd68 69.9px,#77cc60 72.8px,#79cc5e 75.7px,#0fbebb 76.1px)"></i>
<i style="top:12.03px;height:1.02px;background:linear-gradient(90deg,#0fbebb 13.7px,#4331c7 14.2px,#4535d2 17.1px,#463bdd 20.1px,#4743e7 23.1px,#484cef 26.1px,#4756f7 29.1px,#4561fc 32.0px,#3f6efe 35.0px,#327cfc 38.0px,#2d8af5 41.0px,#2797eb 44.0px,#21a3e3 46.9px,#16afd9 49.9px,#01b8ca 52.9px,#13beb8 55.9px,#2cc4a7 58.9px,#39c895 61.8px,#4ccb83 64.8px,#60cd72 67.8px,#6fcd65 70.8px,#78cc5f 73.8px,#76cc60 76.7px,#0fbebb 77.2px)"></i>
<i style="top:13.03px;height:1.02px;background:linear-gradient(90deg,#0fbebb 12.7px,#4433cc 13.1px,#4537d5 16.1px,#463cde 19.0px,#4743e7 22.0px,#484bee 24.9px,#4854f5 27.8px,#465efb 30.8px,#426afe 33.7px,#3777fe 36.6px,#2e84f8 39.6px,#2b91ef 42.5px,#249ee6 45.5px,#1ca9df 48.4px,#0bb3d2 51.3px,#04bbc2 54.3px,#20c1b1 57.2px,#31c6a0 60.1px,#3fca8e 63.1px,#54cc7d 66.0px,#66cd6d 68.9px,#72cd63 71.9px,#77cc60 74.8px,#72cd63 77.8px,#0fbebb 78.2px)"></i>
<i style="top:14.03px;height:1.02px;background:linear-gradient(90deg,#0fbebb 11.7px,#4435d1 12.2px,#4539d9 15.1px,#463de0 18.0px,#4743e7 20.9px,#484aee 23.8px,#4852f4 26.6px,#475cfa 29.5px,#4466fd 32.4px,#3b72ff 35.3px,#307ffb 38.2px,#2d8cf3 41.1px,#2798ea 44.0px,#20a4e3 46.9px,#16afda 49.8px,#02b7cb 52.7px,#0fbebb 55.6px,#29c3aa 58.5px,#36c799 61.4px,#46cb88 64.3px,#5acc77 67.1px,#6acd6a 70.0px,#73cd62 72.9px,#75cc61 75.8px,#6dcd67 78.7px,#0fbebb 79.2px)"></i>
<i style="top:15.03px;height:1.02px;background:linear-gradient(90deg,#0fbebb 10.8px,#4538d7 11.3px,#463bdd 14.3px,#473fe3 17.2px,#4745e9 20.2px,#484cef 23.2px,#4853f5 26.1px,#475cfa 29.1px,#4366fd 32.1px,#3b72fe 35.1px,#307ffb 38.0px,#2d8cf3 41.0px,#2698ea 44.0px,#20a4e3 46.9px,#15afd9 49.9px,#01b8ca 52.9px,#11beb9 55.8px,#2ac3a9 58.8px,#37c897 61.8px,#49cb86 64.8px,#5ccc76 67.7px,#6bcd69 70.7px,#73cd63 73.7px,#72cd63 76.6px,#67cd6c 79.6px,#0fbebb 80.1px)"></i>
<i style="top:16.04px;height:1.02px;background:linear-gradient(90deg,#0fbebb 10.0px,#463bdd 10.4px,#463ee1 13.3px,#4741e5 16.3px,#4746ea 19.2px,#484cef 22.1px,#4853f5 25.0px,#475bf9 27.9px,#4564fd 30.9px,#3f6fff 33.8px,#337bfc 36.7px,#2e87f7 39.6px,#2a93ee 42.5px,#249fe6 45.5px,#1caadf 48.4px,#0bb3d2 51.3px,#02bbc3 54.2px,#1dc0b3 57.1px,#2fc5a2 60.0px,#3cc991 63.0px,#4fcc81 65.9px,#60cd72 68.8px,#6ccd68 71.7px,#71cd64 74.6px,#6dcd67 77.6px,#60cd72 80.5px,#0fbebb 80.9px)"></i>
<i style="top:17.04px;height:1.02px;background:linear-gradient(90deg,#0fbebb 9.2px,#473fe2 9.6px,#4741e5 12.6px,#4744e8 15.6px,#4848ec 18.6px,#484ef1 21.6px,#4854f5 24.6px,#475cfa 27.5px,#4465fd 30.5px,#3e6fff 33.5px,#327bfc 36.5px,#2d87f6 39.5px,#2a93ed 42.5px,#249fe5 45.5px,#1baade 48.4px,#0ab4d2 51.4px,#03bbc2 54.4px,#1fc0b2 57.4px,#30c5a1 60.4px,#3dc990 63.4px,#50cc7f 66.3px,#61cd72 69.3px,#6ccd68 72.3px,#6fcd66 75.3px,#68cd6b 78.3px,#58cc79 81.3px,#0fbebb 81.7px)"></i>
<i style="top:18.04px;height:1.02px;background:linear-gradient(90deg,#0fbebb 8.4px,#4743e7 8.9px,#4745e9 11.8px,#4747eb 14.7px,#484bee 17.6px,#484ff2 20.6px,#4854f6 23.5px,#475bf9 26.4px,#4563fd 29.4px,#406cfe 32.3px,#3677fe 35.2px,#2e83f9 38.1px,#2c8ef1 41.1px,#269ae9 44.0px,#20a5e2 46.9px,#15afd9 49.8px,#02b7cb 52.8px,#0dbdbb 55.7px,#27c2ab 58.6px,#34c79b 61.5px,#42ca8b 64.5px,#55cc7c 67.4px,#63cd70 70.3px,#6bcd69 73.3px,#6bcd69 76.2px,#62cd70 79.1px,#4fcc80 82.0px,#0fbebb 82.5px)"></i>
<i style="top:19.04px;height:1.02px;background:linear-gradient(90deg,#0fbebb 7.7px,#4848ec 8.2px,#4849ed 11.1px,#484bee 14.1px,#484df1 17.1px,#4851f4 20.1px,#4756f7 23.1px,#475dfa 26.1px,#4464fd 29.0px,#3f6dfe 32.0px,#3578fd 35.0px,#2e84f9 38.0px,#2c8ff1 41.0px,#269ae8 44.0px,#1fa5e2 46.9px,#15afd9 49.9px,#02b7ca 52.9px,#0fbebb 55.9px,#28c3ab 58.9px,#35c79b 61.9px,#43ca8a 64.8px,#55cc7c 67.8px,#62cd70 70.8px,#69cd6b 73.8px,#67cd6c 76.8px,#5ccc76 79.8px,#47cb87 82.7px,#0fbebb 83.2px)"></i>
<i style="top:20.04px;height:1.02px;background:linear-gradient(90deg,#0fbebb 7.0px,#484df0 7.5px,#484df0 10.4px,#484ef1 13.3px,#4850f3 16.2px,#4853f5 19.2px,#4757f8 22.1px,#465dfa 25.0px,#4563fd 27.9px,#416cfe 30.8px,#3875fe 33.8px,#3080fa 36.7px,#2d8bf4 39.6px,#2895ec 42.5px,#23a0e5 45.5px,#1baade 48.4px,#0cb3d2 51.3px,#02bac4 54.2px,#1ac0b5 57.1px,#2dc4a5 60.1px,#38c896 63.0px,#48cb86 65.9px,#57cc7a 68.8px,#62cd70 71.7px,#66cd6d 74.7px,#62cd71 77.6px,#54cc7c 80.5px,#3eca8f 83.4px,#0fbebb 83.9px)"></i>
<i style="top:21.05px;height:1.02px;background:linear-gradient(90deg,#0fbebb 6.4px,#4852f4 6.8px,#4852f4 9.8px,#4852f4 12.8px,#4854f5 15.7px,#4756f7 18.7px,#475af9 21.7px,#465ffb 24.7px,#4465fd 27.6px,#406dfe 30.6px,#3776fe 33.6px,#2f81fa 36.5px,#2d8bf4 39.5px,#2896eb 42.5px,#23a0e5 45.5px,#1babde 48.4px,#0bb4d2 51.4px,#02bac3 54.4px,#1bc0b4 57.3px,#2dc4a5 60.3px,#39c895 63.3px,#48cb86 66.2px,#57cc7a 69.2px,#60cd72 72.2px,#63cd70 75.2px,#5dcc75 78.1px,#4ccb82 81.1px,#38c896 84.1px,#0fbebb 84.5px)"></i>
<i style="top:22.05px;height:1.02px;background:linear-gradient(90deg,#0fbebb 5.8px,#4757f7 6.2px,#4756f7 9.1px,#4756f7 12.0px,#4757f7 14.9px,#4759f8 17.9px,#475cfa 20.8px,#4660fb 23.7px,#4465fd 26.6px,#406cfe 29.5px,#3974fe 32.4px,#317efb 35.3px,#2d88f6 38.2px,#2b92ee 41.1px,#259ce7 44.0px,#1fa6e2 46.9px,#15afd9 49.8px,#03b7cc 52.7px,#0abdbd 55.6px,#24c1af 58.5px,#31c6a0 61.4px,#3cc991 64.3px,#4bcb84 67.2px,#58cc79 70.1px,#5fcd73 73.0px,#5fcd73 76.0px,#56cc7b 78.9px,#44cb89 81.8px,#33c69e 84.7px,#0fbebb 85.1px)"></i>
<i style="top:23.05px;height:1.02px;background:linear-gradient(90deg,#0fbebb 5.2px,#475cfa 5.7px,#475bf9 8.6px,#475bf9 11.6px,#475bf9 14.5px,#475cfa 17.5px,#465ffb 20.4px,#4562fc 23.3px,#4367fd 26.3px,#3f6efe 29.2px,#3876fe 32.2px,#307ffb 35.1px,#2d89f6 38.1px,#2a92ee 41.0px,#259ce7 44.0px,#1fa6e1 46.9px,#15afd8 49.9px,#02b7cb 52.8px,#0bbdbd 55.8px,#24c1ae 58.7px,#31c6a0 61.7px,#3cc991 64.6px,#4acb85 67.6px,#56cc7b 70.5px,#5ccc76 73.4px,#5acc77 76.4px,#50cc80 79.3px,#3dca90 82.3px,#2dc4a5 85.2px,#0fbebb 85.7px)"></i>
<i style="top:24.05px;height:1.02px;background:linear-gradient(90deg,#0fbebb 4.7px,#4562fc 5.1px,#4660fc 8.1px,#465ffb 11.1px,#465ffb 14.1px,#4660fb 17.1px,#4562fc 20.1px,#4465fd 23.1px,#426afe 26.0px,#3e70ff 29.0px,#3678fe 32.0px,#2f80fa 35.0px,#2d8af5 38.0px,#2a93ed 41.0px,#259de7 44.0px,#1ea7e1 46.9px,#14b0d8 49.9px,#02b7cb 52.9px,#0bbdbd 55.9px,#24c2ae 58.9px,#31c6a0 61.9px,#3cc992 64.9px,#49cb85 67.8px,#54cc7c 70.8px,#59cc79 73.8px,#55cc7b 76.8px,#49cb85 79.8px,#38c896 82.8px,#26c2ac 85.8px,#0fbebb 86.2px)"></i>
<i style="top:25.05px;height:1.02px;background:linear-gradient(90deg,#0fbebb 4.2px,#4368fe 4.6px,#4466fd 7.5px,#4564fd 10.5px,#4563fd 13.4px,#4563fd 16.3px,#4465fd 19.2px,#4367fd 22.1px,#416bfe 25.0px,#3d70ff 28.0px,#3777fe 30.9px,#307ffb 33.8px,#2e87f7 36.7px,#2c90f0 39.6px,#2699e9 42.5px,#21a2e4 45.5px,#1aacdd 48.4px,#0bb3d2 51.3px,#02bac5 54.2px,#16bfb7 57.1px,#29c3a9 60.0px,#34c79c 62.9px,#3eca8f 65.9px,#4acb84 68.8px,#53cc7d 71.7px,#55cc7c 74.6px,#4fcc80 77.5px,#42ca8c 80.4px,#33c69d 83.4px,#1cc0b3 86.3px,#0fbebb 86.7px)"></i>
<i style="top:26.06px;height:1.02px;background:linear-gradient(90deg,#0fbebb 3.7px,#3f6eff 4.2px,#416bfe 7.1px,#4269fe 10.1px,#4368fd 13.0px,#4367fd 16.0px,#4368fe 18.9px,#426afe 21.9px,#3f6efe 24.8px,#3b72fe 27.8px,#3579fd 30.7px,#2f80fa 33.7px,#2d88f6 36.6px,#2b91ef 39.6px,#269ae8 42.5px,#21a3e3 45.5px,#1aacdd 48.4px,#0ab4d2 51.3px,#02bac4 54.3px,#16bfb7 57.2px,#2ac3a9 60.2px,#34c79c 63.1px,#3dca90 66.1px,#49cb86 69.0px,#50cc7f 72.0px,#51cc7f 74.9px,#4acb85 77.9px,#3cc991 80.8px,#2ec5a4 83.8px,#10beba 86.7px,#0fbebb 87.2px)"></i>
<i style="top:27.06px;height:1.02px;background:linear-gradient(90deg,#0fbebb 3.3px,#3975fe 3.7px,#3c71ff 6.7px,#3f6eff 9.7px,#406cfe 12.7px,#416cfe 15.6px,#406cfe 18.6px,#3f6dfe 21.6px,#3d71ff 24.6px,#3975fe 27.6px,#337bfc 30.5px,#2f82f9 33.5px,#2d8af5 36.5px,#2b92ee 39.5px,#259be8 42.5px,#20a4e3 45.5px,#19addc 48.4px,#09b4d1 51.4px,#02bac4 54.4px,#17bfb6 57.4px,#2ac3a9 60.4px,#33c79c 63.3px,#3dc990 66.3px,#47cb87 69.3px,#4dcc82 72.3px,#4dcb82 75.3px,#45cb89 78.2px,#37c897 81.2px,#29c3aa 84.2px,#05bbc1 87.2px,#0fbebb 87.6px)"></i>
<i style="top:28.06px;height:1.02px;background:linear-gradient(90deg,#0fbebb 2.8px,#327bfc 3.3px,#3677fe 6.2px,#3974fe 9.1px,#3c72ff 12.0px,#3d70ff 14.9px,#3e70ff 17.8px,#3d71ff 20.7px,#3b73fe 23.6px,#3777fe 26.6px,#327cfc 29.5px,#2f82fa 32.4px,#2d88f6 35.3px,#2c90f0 38.2px,#2798ea 41.1px,#23a0e5 44.0px,#1da9e0 46.9px,#13b1d7 49.8px,#02b7cb 52.7px,#08bcbe 55.6px,#1fc0b2 58.5px,#2dc4a5 61.4px,#35c799 64.3px,#3eca8f 67.3px,#46cb87 70.2px,#4acb84 73.1px,#48cb86 76.0px,#3eca8f 78.9px,#33c69d 81.8px,#21c1b1 84.7px,#01b8c8 87.6px,#0fbebb 88.1px)"></i>
<i style="top:29.06px;height:1.02px;background:linear-gradient(90deg,#0fbebb 2.5px,#2f81fa 2.9px,#317efb 5.8px,#347afd 8.8px,#3777fe 11.7px,#3975fe 14.6px,#3974fe 17.6px,#3975fe 20.5px,#3776fe 23.4px,#347afd 26.4px,#317efb 29.3px,#2e84f9 32.2px,#2d8af4 35.2px,#2b91ef 38.1px,#2699e9 41.0px,#22a1e4 44.0px,#1caadf 46.9px,#12b1d6 49.9px,#02b7cb 52.8px,#09bcbe 55.7px,#1fc0b1 58.7px,#2dc4a5 61.6px,#35c79a 64.5px,#3dc990 67.5px,#44cb89 70.4px,#47cb87 73.3px,#43ca8a 76.3px,#3ac994 79.2px,#2fc5a3 82.1px,#17bfb7 85.1px,#06b5cf 88.0px,#0fbebb 88.4px)"></i>
<i style="top:30.07px;height:1.02px;background:linear-gradient(90deg,#0fbebb 2.1px,#2d87f6 2.5px,#2e83f9 5.5px,#3080fb 8.5px,#327cfc 11.4px,#347afd 14.4px,#3579fd 17.3px,#3579fd 20.3px,#347afd 23.3px,#317dfc 26.2px,#2f81fa 29.2px,#2e86f7 32.1px,#2d8cf3 35.1px,#2a93ee 38.1px,#269ae8 41.0px,#22a2e4 44.0px,#1baade 46.9px,#10b2d5 49.9px,#01b8ca 52.8px,#0abdbe 55.8px,#1fc1b1 58.8px,#2dc4a6 61.7px,#35c79b 64.7px,#3cc991 67.6px,#42ca8b 70.6px,#44ca8a 73.6px,#3fca8e 76.5px,#36c898 79.5px,#2bc3a8 82.4px,#0bbdbd 85.4px,#11b2d5 88.4px,#0fbebb 88.8px)"></i>
<i style="top:31.07px;height:1.02px;background:linear-gradient(90deg,#0fbebb 1.8px,#2d8df2 2.2px,#2d89f5 5.2px,#2e85f8 8.2px,#2f82fa 11.2px,#307ffb 14.1px,#317dfc 17.1px,#317dfc 20.1px,#317efb 23.1px,#3080fa 26.1px,#2e83f9 29.0px,#2d88f6 32.0px,#2c8ef1 35.0px,#2995ec 38.0px,#259ce7 41.0px,#21a3e3 44.0px,#1babde 46.9px,#0fb2d4 49.9px,#01b8c9 52.9px,#0abdbd 55.9px,#20c1b1 58.9px,#2dc4a6 61.9px,#34c79b 64.8px,#3bc993 67.8px,#3fca8e 70.8px,#40ca8d 73.8px,#3bc992 76.8px,#33c69d 79.7px,#25c2ad 82.7px,#03bbc3 85.7px,#18addb 88.7px,#0fbebb 89.1px)"></i>
<i style="top:32.07px;height:1.02px;background:linear-gradient(90deg,#0fbebb 1.4px,#2a93ed 1.9px,#2c8ff1 4.8px,#2d8bf4 7.7px,#2e87f7 10.6px,#2e84f8 13.5px,#2f82fa 16.4px,#2f81fa 19.3px,#2f81fa 22.2px,#2f83f9 25.1px,#2e85f8 28.0px,#2d89f5 30.9px,#2c8ef1 33.8px,#2994ed 36.7px,#269ae8 39.6px,#22a1e4 42.5px,#1da8e0 45.5px,#15afd9 48.4px,#06b5cf 51.3px,#02bac4 54.2px,#14beb8 57.1px,#25c2ad 60.0px,#2fc5a3 62.9px,#35c79a 65.8px,#3bc993 68.7px,#3eca8f 71.6px,#3dc991 74.5px,#37c897 77.4px,#2fc5a3 80.3px,#1cc0b4 83.2px,#01b8c9 86.1px,#1da9e0 89.0px,#0fbebb 89.5px)"></i>
<i style="top:33.07px;height:1.02px;background:linear-gradient(90deg,#0fbebb 1.2px,#2699e9 1.6px,#2994ed 4.5px,#2c90f0 7.5px,#2d8cf3 10.4px,#2d89f5 13.3px,#2e86f7 16.2px,#2e85f8 19.1px,#2e85f8 22.1px,#2e86f7 25.0px,#2d88f6 27.9px,#2d8cf3 30.8px,#2b90f0 33.8px,#2896ec 36.7px,#259ce7 39.6px,#21a2e4 42.5px,#1ca9df 45.5px,#14b0d8 48.4px,#05b6ce 51.3px,#02bbc3 54.2px,#14bfb8 57.1px,#25c2ad 60.1px,#2fc5a3 63.0px,#35c79b 65.9px,#39c994 68.8px,#3cc992 71.8px,#3ac994 74.7px,#34c79b 77.6px,#2bc3a8 80.5px,#12beb9 83.4px,#06b5cf 86.4px,#20a4e3 89.3px,#0fbebb 89.7px)"></i>
<i style="top:34.07px;height:1.02px;background:linear-gradient(90deg,#0fbebb 0.9px,#249ee6 1.3px,#269ae9 4.3px,#2895ec 7.2px,#2b91ef 10.2px,#2d8df2 13.1px,#2d8bf4 16.0px,#2d89f5 19.0px,#2d89f5 21.9px,#2d89f5 24.9px,#2d8bf3 27.8px,#2c8ef1 30.7px,#2a93ee 33.7px,#2798ea 36.6px,#249de6 39.6px,#20a4e3 42.5px,#1babde 45.5px,#12b1d6 48.4px,#04b6cd 51.3px,#04bbc2 54.3px,#15bfb7 57.2px,#26c2ad 60.2px,#2ec5a3 63.1px,#34c79b 66.0px,#38c896 69.0px,#3ac994 71.9px,#37c897 74.9px,#32c69f 77.8px,#26c2ac 80.7px,#09bcbe 83.7px,#0fb2d5 86.6px,#249fe6 89.6px,#0fbebb 90.0px)"></i>
<i style="top:35.08px;height:1.02px;background:linear-gradient(90deg,#0fbebb 0.7px,#21a4e3 1.1px,#249fe6 4.1px,#269ae8 7.0px,#2896eb 10.0px,#2a92ee 12.9px,#2c8ff0 15.9px,#2d8df2 18.8px,#2d8df2 21.8px,#2d8df2 24.8px,#2c8ff1 27.7px,#2b91ef 30.7px,#2895ec 33.6px,#269ae9 36.6px,#239fe5 39.5px,#1fa5e2 42.5px,#1aacdd 45.5px,#10b2d5 48.4px,#03b7cb 51.4px,#05bbc1 54.3px,#17bfb7 57.3px,#26c2ad 60.2px,#2ec5a4 63.2px,#33c79c 66.1px,#37c898 69.1px,#37c897 72.1px,#35c79a 75.0px,#2fc5a3 78.0px,#21c1b1 80.9px,#02bac3 83.9px,#16afda 86.8px,#2699e9 89.8px,#0fbebb 90.2px)"></i>
<i style="top:36.08px;height:1.02px;background:linear-gradient(90deg,#0fbebb 0.4px,#1da9e0 0.9px,#20a4e3 3.9px,#249fe5 6.8px,#259be8 9.8px,#2797eb 12.8px,#2994ed 15.7px,#2b92ef 18.7px,#2b90ef 21.7px,#2b91ef 24.7px,#2b92ee 27.6px,#2994ed 30.6px,#2798ea 33.6px,#259ce7 36.5px,#22a1e4 39.5px,#1ea7e1 42.5px,#19addc 45.5px,#0db3d4 48.4px,#01b8ca 51.4px,#06bcc0 54.4px,#18bfb6 57.3px,#26c2ac 60.3px,#2ec4a4 63.3px,#33c69d 66.2px,#36c799 69.2px,#36c799 72.2px,#33c69d 75.2px,#2cc4a7 78.1px,#1abfb5 81.1px,#01b8c8 84.1px,#1babde 87.0px,#2994ed 90.0px,#0fbebb 90.5px)"></i>
<i style="top:37.08px;height:1.02px;background:linear-gradient(90deg,#0fbebb 0.3px,#18aedb 0.7px,#1da9e0 3.7px,#20a4e3 6.7px,#239fe5 9.7px,#259be7 12.6px,#2798ea 15.6px,#2896ec 18.6px,#2994ed 21.6px,#2994ed 24.6px,#2895ec 27.6px,#2797eb 30.5px,#269ae8 33.5px,#249ee6 36.5px,#21a3e3 39.5px,#1da9e0 42.5px,#17aeda 45.5px,#0bb4d2 48.4px,#01b8c9 51.4px,#08bcbf 54.4px,#19bfb5 57.4px,#26c2ac 60.4px,#2ec4a4 63.3px,#32c69e 66.3px,#35c79b 69.3px,#34c79b 72.3px,#31c5a1 75.3px,#28c3aa 78.3px,#11beb9 81.2px,#04b6cd 84.2px,#1ea7e1 87.2px,#2c8ef1 90.2px,#0fbebb 90.6px)"></i>
<i style="top:38.08px;height:1.02px;background:linear-gradient(90deg,#0fbebb 0.1px,#10b2d5 0.5px,#18addb 3.5px,#1da9e0 6.5px,#20a4e3 9.5px,#23a0e5 12.5px,#259ce7 15.5px,#269ae9 18.5px,#2698ea 21.5px,#2798ea 24.5px,#2698ea 27.5px,#269ae8 30.5px,#249de7 33.5px,#23a1e4 36.5px,#1fa5e2 39.5px,#1baade 42.5px,#14b0d8 45.5px,#08b5d0 48.4px,#01b9c7 51.4px,#09bcbe 54.4px,#1ac0b5 57.4px,#27c2ac 60.4px,#2ec4a5 63.4px,#32c69f 66.4px,#33c79c 69.4px,#33c69e 72.4px,#2ec5a4 75.4px,#24c2ae 78.4px,#0abdbe 81.4px,#0ab4d2 84.4px,#21a3e4 87.4px,#2d89f6 90.4px,#0fbebb 90.8px)"></i>
<i style="top:39.09px;height:1.02px;background:linear-gradient(90deg,#0fbebb 0.0px,#05b6ce 0.4px,#10b2d5 3.3px,#18aedb 6.2px,#1ca9df 9.1px,#20a5e2 12.0px,#22a1e4 14.9px,#249ee6 17.8px,#259de7 20.7px,#259ce7 23.7px,#259ce7 26.6px,#259de7 29.5px,#249fe6 32.4px,#22a2e4 35.3px,#1fa6e2 38.2px,#1baadf 41.1px,#16afd9 44.0px,#0cb3d3 46.9px,#02b7cb 49.8px,#04bbc2 52.7px,#12beb9 55.6px,#20c1b1 58.5px,#2ac3a9 61.4px,#2fc5a3 64.3px,#32c69f 67.2px,#32c69e 70.2px,#30c5a1 73.1px,#2bc3a8 76.0px,#1cc0b3 78.9px,#02bac4 81.8px,#13b0d8 84.7px,#249ee6 87.6px,#2e83f9 90.5px,#0fbebb 90.9px)"></i>
<i style="top:40.09px;height:1.02px;background:linear-gradient(90deg,#0fbebb 0.0px,#01b9c7 0.3px,#06b6ce 3.2px,#10b2d5 6.1px,#18addb 9.0px,#1ca9df 11.9px,#1fa6e2 14.8px,#21a3e4 17.8px,#23a1e5 20.7px,#239fe5 23.6px,#249fe5 26.5px,#23a0e5 29.4px,#22a2e4 32.3px,#20a5e3 35.2px,#1da8e0 38.2px,#1aacdd 41.1px,#13b0d7 44.0px,#08b4d0 46.9px,#01b8c9 49.8px,#06bcc0 52.7px,#14beb8 55.7px,#21c1b0 58.6px,#2ac3a9 61.5px,#2ec5a3 64.4px,#31c6a0 67.3px,#31c6a0 70.2px,#2fc5a3 73.1px,#28c2ab 76.1px,#16bfb7 79.0px,#01b9c8 81.9px,#19addb 84.8px,#2699e9 87.7px,#327dfc 90.6px,#0fbebb 90.9px)"></i>
<i style="top:41.09px;height:1.02px;background:linear-gradient(90deg,#0fbebb 0.0px,#08bcbf 0.2px,#01b9c7 3.1px,#06b5cf 6.0px,#11b1d6 8.9px,#18aedb 11.9px,#1caadf 14.8px,#1ea7e1 17.7px,#20a5e3 20.6px,#21a3e3 23.5px,#21a3e3 26.5px,#21a3e3 29.4px,#20a5e2 32.3px,#1ea7e1 35.2px,#1baade 38.1px,#17aeda 41.1px,#0fb2d5 44.0px,#05b6ce 46.9px,#01b9c7 49.8px,#08bcbf 52.8px,#16bfb7 55.7px,#23c1af 58.6px,#2ac3a9 61.5px,#2ec5a4 64.4px,#30c5a1 67.4px,#30c5a2 70.3px,#2dc4a6 73.2px,#24c2ae 76.1px,#0ebebb 79.0px,#03b7cc 82.0px,#1caadf 84.9px,#2995ec 87.8px,#3876fe 90.7px,#0fbebb 90.9px)"></i>
<i style="top:42.09px;height:1.02px;background:linear-gradient(90deg,#0fbebb 0.0px,#16bfb7 0.1px,#07bcc0 3.0px,#01b8c8 6.0px,#07b5cf 8.9px,#11b1d6 11.8px,#17aeda 14.7px,#1babde 17.7px,#1da9e0 20.6px,#1ea7e1 23.5px,#1fa6e1 26.4px,#1ea7e1 29.4px,#1da8e0 32.3px,#1caadf 35.2px,#19addc 38.1px,#14b0d8 41.1px,#0bb3d2 44.0px,#03b7cc 46.9px,#02bac4 49.8px,#0bbdbd 52.8px,#19bfb5 55.7px,#24c1ae 58.6px,#2ac3a8 61.5px,#2ec4a4 64.5px,#2fc5a2 67.4px,#2fc5a3 70.3px,#2bc3a8 73.2px,#20c1b1 76.2px,#09bcbe 79.1px,#07b5d0 82.0px,#1ea7e1 84.9px,#2b90f0 87.9px,#3e70ff 90.8px,#0fbebb 90.9px)"></i>
<i style="top:43.09px;height:1.02px;background:linear-gradient(90deg,#23c1af 0.0px,#14beb8 3.0px,#05bbc1 5.9px,#01b8c9 8.8px,#07b5d0 11.8px,#10b2d5 14.7px,#16afd9 17.6px,#19acdc 20.5px,#1babde 23.5px,#1caadf 26.4px,#1caadf 29.3px,#1babde 32.3px,#19addc 35.2px,#15afd9 38.1px,#0fb2d5 41.1px,#07b5cf 44.0px,#01b8c9 46.9px,#03bbc2 49.8px,#0ebebb 52.8px,#1bc0b4 55.7px,#25c2ad 58.6px,#2bc3a8 61.6px,#2ec4a4 64.5px,#2fc5a3 67.4px,#2dc4a5 70.4px,#28c3aa 73.3px,#1bc0b4 76.2px,#04bbc2 79.1px,#0eb3d4 82.1px,#21a3e3 85.0px,#2d8cf3 87.9px,#426afe 90.9px)"></i>
<i style="top:44.10px;height:1.02px;background:linear-gradient(90deg,#2cc4a7 0.0px,#21c1b0 2.9px,#11beb9 5.9px,#04bbc2 8.8px,#01b8c9 11.7px,#07b5cf 14.7px,#0fb2d4 17.6px,#14b0d8 20.5px,#17aeda 23.5px,#18addb 26.4px,#18addb 29.3px,#17aeda 32.3px,#15afd8 35.2px,#11b1d6 38.1px,#0ab4d1 41.1px,#03b7cc 44.0px,#01b9c6 46.9px,#07bcc0 49.8px,#12beb9 52.8px,#1ec0b2 55.7px,#26c2ac 58.6px,#2bc3a8 61.6px,#2ec4a5 64.5px,#2ec5a4 67.4px,#2cc4a7 70.4px,#26c2ad 73.3px,#16bfb7 76.2px,#01bac5 79.2px,#13b0d7 82.1px,#23a0e5 85.0px,#2e87f7 88.0px,#4564fd 90.9px)"></i>
<i style="top:45.10px;height:1.02px;background:linear-gradient(90deg,#32c69e 0.0px,#2bc3a8 2.9px,#1fc0b2 5.9px,#0fbeba 8.8px,#03bbc2 11.7px,#01b8c9 14.7px,#06b5ce 17.6px,#0cb3d3 20.5px,#10b2d5 23.5px,#13b1d7 26.4px,#13b0d7 29.3px,#12b1d7 32.3px,#0fb2d5 35.2px,#0ab4d2 38.1px,#05b6ce 41.1px,#01b8c9 44.0px,#02bac3 46.9px,#0abdbd 49.8px,#16bfb7 52.8px,#20c1b1 55.7px,#27c2ab 58.6px,#2cc4a7 61.6px,#2ec4a5 64.5px,#2dc4a5 67.4px,#2bc3a8 70.4px,#23c1af 73.3px,#11beba 76.2px,#01b8c9 79.2px,#17aeda 82.1px,#259ce7 85.0px,#2f82f9 88.0px,#465efb 90.9px)"></i>
<i style="top:46.10px;height:1.02px;background:linear-gradient(90deg,#3ac994 0.0px,#31c6a0 2.9px,#29c3aa 5.9px,#1dc0b3 8.8px,#0ebdbb 11.7px,#03bbc2 14.7px,#01b8c8 17.6px,#04b6cd 20.5px,#07b5d0 23.5px,#0ab4d2 26.4px,#0cb3d3 29.3px,#0bb3d2 32.3px,#08b4d0 35.2px,#05b6ce 38.1px,#01b8ca 41.1px,#01bac5 44.0px,#06bcc0 46.9px,#0fbeba 49.8px,#1ac0b5 52.8px,#23c1af 55.7px,#29c3aa 58.6px,#2cc4a7 61.6px,#2dc4a5 64.5px,#2dc4a6 67.4px,#29c3aa 70.4px,#20c1b1 73.3px,#0bbdbc 76.2px,#03b7cc 79.2px,#1aabdd 82.1px,#2699e9 85.0px,#317efb 88.0px,#4759f8 90.9px)"></i>
<i style="top:47.10px;height:1.02px;background:linear-gradient(90deg,#44ca8a 0.0px,#38c896 3.0px,#30c5a1 5.9px,#27c2ab 8.8px,#1bc0b4 11.8px,#0dbdbb 14.7px,#04bbc2 17.6px,#01b9c7 20.5px,#01b8ca 23.5px,#04b6cc 26.4px,#05b6cd 29.3px,#05b6cd 32.3px,#03b7cc 35.2px,#01b8c9 38.1px,#01b9c6 41.1px,#04bbc2 44.0px,#0bbdbd 46.9px,#15bfb8 49.8px,#1ec0b2 52.8px,#25c2ad 55.7px,#2ac3a9 58.6px,#2dc4a6 61.6px,#2dc4a5 64.5px,#2cc4a6 67.4px,#28c2ab 70.4px,#1dc0b3 73.3px,#08bcbf 76.2px,#06b5cf 79.1px,#1da9e0 82.1px,#2895ec 85.0px,#3579fd 87.9px,#4854f5 90.9px)"></i>
<i style="top:48.11px;height:1.02px;background:linear-gradient(90deg,#0fbebb 0.0px,#51cc7f 0.1px,#41ca8c 3.0px,#36c899 6.0px,#2fc5a3 8.9px,#26c2ac 11.8px,#1bc0b4 14.7px,#0ebebb 17.7px,#06bcc0 20.6px,#02bac4 23.5px,#01b9c7 26.4px,#01b8c8 29.4px,#01b8c8 32.3px,#01b9c7 35.2px,#02bac5 38.1px,#04bbc2 41.1px,#09bcbe 44.0px,#11beb9 46.9px,#1ac0b5 49.8px,#22c1b0 52.8px,#27c2ab 55.7px,#2bc3a8 58.6px,#2dc4a5 61.5px,#2dc4a5 64.5px,#2cc4a7 67.4px,#26c2ac 70.3px,#19bfb5 73.2px,#04bbc2 76.2px,#0ab4d2 79.1px,#1fa6e1 82.0px,#2b92ee 84.9px,#3a74fe 87.9px,#484ff2 90.8px,#0fbebb 90.9px)"></i>
<i style="top:49.11px;height:1.02px;background:linear-gradient(90deg,#0fbebb 0.0px,#5fcd73 0.2px,#4ecc82 3.1px,#3eca8f 6.0px,#35c79b 8.9px,#2ec4a4 11.9px,#26c2ad 14.8px,#1cc0b4 17.7px,#11beb9 20.6px,#09bdbe 23.5px,#05bbc1 26.5px,#03bbc2 29.4px,#02bbc3 32.3px,#04bbc2 35.2px,#06bcc0 38.1px,#0abdbd 41.1px,#10beba 44.0px,#18bfb6 46.9px,#1fc0b1 49.8px,#25c2ad 52.8px,#2ac3a9 55.7px,#2cc4a6 58.6px,#2ec4a5 61.5px,#2dc4a5 64.4px,#2bc3a8 67.4px,#25c2ae 70.3px,#16bfb7 73.2px,#02bac4 76.1px,#0fb2d5 79.0px,#21a4e3 82.0px,#2c8ef1 84.9px,#3e6fff 87.8px,#484aee 90.7px,#0fbebb 90.9px)"></i>
<i style="top:50.11px;height:1.02px;background:linear-gradient(90deg,#0fbebb 0.0px,#6ecd67 0.3px,#5bcc76 3.2px,#4acb85 6.1px,#3cc991 9.0px,#34c79c 11.9px,#2dc4a5 14.8px,#26c2ac 17.8px,#1ec0b2 20.7px,#16bfb7 23.6px,#0fbeba 26.5px,#0bbdbc 29.4px,#0abdbd 32.3px,#0bbdbd 35.2px,#0ebdbb 38.2px,#12beb9 41.1px,#18bfb6 44.0px,#1ec0b2 46.9px,#24c1ae 49.8px,#28c3aa 52.7px,#2cc4a7 55.7px,#2ec4a5 58.6px,#2ec5a4 61.5px,#2dc4a5 64.4px,#2ac3a8 67.3px,#23c1af 70.2px,#12beb9 73.1px,#01b9c7 76.1px,#13b0d7 79.0px,#22a1e4 81.9px,#2d8bf4 84.8px,#416bfe 87.7px,#4745e9 90.6px,#0fbebb 90.9px)"></i>
<i style="top:51.11px;height:1.02px;background:linear-gradient(90deg,#0fbebb 0.0px,#7dcc5b 0.4px,#6acd6a 3.3px,#57cc7a 6.2px,#47cb87 9.1px,#3bc993 12.0px,#33c79d 14.9px,#2dc4a5 17.8px,#27c2ab 20.7px,#21c1b0 23.7px,#1bc0b4 26.6px,#18bfb6 29.5px,#15bfb7 32.4px,#16bfb7 35.3px,#18bfb6 38.2px,#1bc0b4 41.1px,#1fc1b1 44.0px,#24c1ae 46.9px,#28c2ab 49.8px,#2bc3a8 52.7px,#2dc4a5 55.6px,#2fc5a3 58.5px,#2fc5a3 61.4px,#2ec4a5 64.3px,#2ac3a9 67.2px,#21c1b0 70.2px,#0ebebb 73.1px,#01b8c9 76.0px,#16afda 78.9px,#249fe6 81.8px,#2d88f6 84.7px,#4366fd 87.6px,#4741e5 90.5px,#0fbebb 90.9px)"></i>
<i style="top:52.11px;height:1.02px;background:linear-gradient(90deg,#0fbebb 0.1px,#8dcb4f 0.5px,#78cc5f 3.5px,#64cd6f 6.5px,#52cc7e 9.5px,#43ca8b 12.5px,#38c895 15.5px,#32c69e 18.5px,#2dc4a5 21.5px,#29c3aa 24.5px,#24c2ae 27.5px,#21c1b0 30.5px,#1fc1b1 33.5px,#20c1b1 36.5px,#21c1b0 39.5px,#24c1ae 42.5px,#27c2ac 45.5px,#2ac3a9 48.4px,#2dc4a6 51.4px,#2fc5a3 54.4px,#30c5a2 57.4px,#30c5a2 60.4px,#2ec5a3 63.4px,#2bc3a8 66.4px,#23c1af 69.4px,#10beba 72.4px,#01b8c9 75.4px,#16aeda 78.4px,#249ee6 81.4px,#2e86f7 84.4px,#4564fd 87.4px,#463ddf 90.4px,#0fbebb 90.8px)"></i>
<i style="top:53.12px;height:1.02px;background:linear-gradient(90deg,#0fbebb 0.3px,#9cc944 0.7px,#88cb53 3.7px,#73cd63 6.7px,#60cd72 9.7px,#4fcc80 12.6px,#41ca8c 15.6px,#38c895 18.6px,#33c69d 21.6px,#2fc5a3 24.6px,#2cc4a7 27.6px,#29c3aa 30.5px,#27c2ab 33.5px,#27c2ab 36.5px,#28c3ab 39.5px,#29c3a9 42.5px,#2cc4a7 45.5px,#2dc4a5 48.4px,#2fc5a2 51.4px,#31c5a1 54.4px,#31c6a0 57.4px,#31c6a0 60.4px,#2fc5a3 63.3px,#2bc3a8 66.3px,#21c1b0 69.3px,#0dbdbc 72.3px,#02b7cb 75.3px,#19addc 78.3px,#259ce7 81.2px,#2e83f9 84.2px,#4660fb 87.2px,#4639d9 90.2px,#0fbebb 90.6px)"></i>
<i style="top:54.12px;height:1.02px;background:linear-gradient(90deg,#0fbebb 0.4px,#aac73a 0.9px,#97ca48 3.9px,#83cc57 6.8px,#6ecd66 9.8px,#5dcc75 12.8px,#4dcc82 15.7px,#41ca8c 18.7px,#39c994 21.7px,#35c79b 24.7px,#31c6a0 27.6px,#2fc5a3 30.6px,#2ec4a5 33.6px,#2dc4a5 36.5px,#2dc4a5 39.5px,#2ec4a4 42.5px,#2fc5a3 45.5px,#30c5a1 48.4px,#32c69f 51.4px,#33c69e 54.4px,#33c69e 57.3px,#32c69f 60.3px,#2fc5a2 63.3px,#2ac3a8 66.2px,#20c1b1 69.2px,#0abdbd 72.2px,#04b6cd 75.2px,#1aabdd 78.1px,#2699e9 81.1px,#3080fa 84.1px,#475cfa 87.0px,#4536d3 90.0px,#0fbebb 90.5px)"></i>
<i style="top:55.12px;height:1.02px;background:linear-gradient(90deg,#0fbebb 0.7px,#b8c431 1.1px,#a5c83d 4.1px,#92ca4c 7.0px,#7ecc5b 10.0px,#6bcd69 12.9px,#5bcc77 15.9px,#4dcc82 18.8px,#42ca8b 21.8px,#3bc992 24.8px,#37c898 27.7px,#34c79b 30.7px,#33c69e 33.6px,#32c69f 36.6px,#32c69f 39.5px,#32c69f 42.5px,#33c69e 45.5px,#34c79c 48.4px,#34c79b 51.4px,#35c79b 54.3px,#34c79b 57.3px,#33c69e 60.2px,#30c5a2 63.2px,#2ac3a9 66.1px,#1ec0b2 69.1px,#08bcbf 72.1px,#06b5cf 75.0px,#1caadf 78.0px,#2797eb 80.9px,#317dfc 83.9px,#4759f8 86.8px,#4433cd 89.8px,#0fbebb 90.2px)"></i>
<i style="top:56.12px;height:1.02px;background:linear-gradient(90deg,#0fbebb 0.9px,#c5c22a 1.3px,#b3c534 4.3px,#a0c841 7.2px,#8dcb4f 10.2px,#7acc5e 13.1px,#68cd6b 16.0px,#5acc77 19.0px,#4ecc81 21.9px,#45cb89 24.9px,#3eca8f 27.8px,#3ac993 30.7px,#38c896 33.7px,#36c898 36.6px,#36c899 39.6px,#36c899 42.5px,#36c898 45.5px,#37c898 48.4px,#37c897 51.3px,#37c898 54.3px,#36c799 57.2px,#34c79c 60.2px,#30c5a1 63.1px,#2ac3a9 66.0px,#1dc0b3 69.0px,#06bcc0 71.9px,#08b4d0 74.9px,#1da8e0 77.8px,#2895ec 80.7px,#347afd 83.7px,#4756f7 86.6px,#4331c7 89.6px,#0fbebb 90.0px)"></i>
<i style="top:57.13px;height:1.02px;background:linear-gradient(90deg,#0fbebb 1.2px,#d0bf27 1.6px,#c0c32d 4.5px,#aec637 7.5px,#9cc944 10.4px,#89cb52 13.3px,#77cc60 16.2px,#68cd6c 19.1px,#5bcc76 22.1px,#51cc7f 25.0px,#49cb86 27.9px,#43ca8b 30.8px,#3fca8e 33.8px,#3dc991 36.7px,#3cc992 39.6px,#3bc993 42.5px,#3bc993 45.5px,#3bc993 48.4px,#3ac993 51.3px,#39c994 54.2px,#37c897 57.1px,#35c79b 60.1px,#31c5a1 63.0px,#2ac3a9 65.9px,#1cc0b4 68.8px,#04bbc1 71.8px,#0bb3d2 74.7px,#1fa6e1 77.6px,#2a93ee 80.5px,#3777fe 83.4px,#4853f5 86.4px,#422fc1 89.3px,#0fbebb 89.7px)"></i>
<i style="top:58.13px;height:1.02px;background:linear-gradient(90deg,#0fbebb 1.4px,#dbbd29 1.9px,#ccc028 4.8px,#bbc42f 7.7px,#aac73a 10.6px,#98ca47 13.5px,#87cb54 16.4px,#76cc60 19.3px,#69cd6b 22.2px,#5ecc74 25.1px,#55cc7c 28.0px,#4ecc81 30.9px,#48cb86 33.8px,#45cb89 36.7px,#43ca8b 39.6px,#41ca8c 42.5px,#40ca8d 45.5px,#3fca8e 48.4px,#3eca8f 51.3px,#3cc991 54.2px,#3ac994 57.1px,#36c799 60.0px,#31c6a0 62.9px,#2ac3a9 65.8px,#1bc0b4 68.7px,#03bbc3 71.6px,#0db3d4 74.5px,#20a5e2 77.4px,#2b91ef 80.3px,#3974fe 83.2px,#4851f3 86.1px,#412dbb 89.0px,#0fbebb 89.5px)"></i>
<i style="top:59.13px;height:1.02px;background:linear-gradient(90deg,#0fbebb 1.8px,#e5bb2d 2.2px,#d7be28 5.2px,#c7c12a 8.2px,#b5c533 11.2px,#a4c83e 14.1px,#92ca4b 17.1px,#82cc57 20.1px,#74cc62 23.1px,#68cd6c 26.1px,#5fcd73 29.0px,#57cc7a 32.0px,#52cc7e 35.0px,#4ecc82 38.0px,#4acb84 41.0px,#48cb86 44.0px,#46cb88 46.9px,#44cb89 49.9px,#41ca8c 52.9px,#3dca90 55.9px,#39c895 58.9px,#33c79c 61.9px,#2dc4a6 64.8px,#1fc0b2 67.8px,#06bcc0 70.8px,#0bb4d2 73.8px,#1fa6e2 76.8px,#2b91ef 79.7px,#3a74fe 82.7px,#4850f2 85.7px,#402bb7 88.7px,#0fbebb 89.1px)"></i>
<i style="top:60.13px;height:1.02px;background:linear-gradient(90deg,#0fbebb 2.1px,#eeba34 2.5px,#e1bc2b 5.5px,#d2bf27 8.5px,#c2c22c 11.4px,#b1c635 14.4px,#a1c840 17.3px,#91ca4c 20.3px,#83cc57 23.3px,#76cc61 26.2px,#6bcd69 29.2px,#63cd70 32.1px,#5dcc75 35.1px,#58cc79 38.1px,#54cc7c 41.0px,#51cc7f 44.0px,#4dcc82 46.9px,#4acb84 49.9px,#46cb88 52.8px,#40ca8d 55.8px,#3bc993 58.8px,#34c79b 61.7px,#2dc4a6 64.7px,#1ec0b2 67.6px,#04bbc1 70.6px,#0db3d3 73.6px,#20a5e3 76.5px,#2c90f0 79.5px,#3c72ff 82.4px,#484ef1 85.4px,#402ab3 88.4px,#0fbebb 88.8px)"></i>
<i style="top:61.13px;height:1.02px;background:linear-gradient(90deg,#0fbebb 2.5px,#f6ba3b 2.9px,#eaba31 5.8px,#ddbd29 8.8px,#cec028 11.7px,#bec32e 14.6px,#afc637 17.6px,#9fc941 20.5px,#91ca4c 23.4px,#84cb56 26.4px,#79cc5e 29.3px,#70cd65 32.2px,#68cd6b 35.2px,#62cd70 38.1px,#5ecc74 41.0px,#59cc78 44.0px,#55cc7b 46.9px,#50cc7f 49.9px,#4bcb84 52.8px,#44cb89 55.7px,#3cc991 58.7px,#35c79a 61.6px,#2dc4a5 64.5px,#1ec0b2 67.5px,#03bbc2 70.4px,#0fb2d4 73.3px,#21a3e3 76.3px,#2c8ef1 79.2px,#3e70ff 82.1px,#484cef 85.1px,#3f28af 88.0px,#0fbebb 88.4px)"></i>
<i style="top:62.14px;height:1.02px;background:linear-gradient(90deg,#0fbebb 2.8px,#fcbc3d 3.3px,#f2ba38 6.2px,#e6bb2d 9.1px,#d9be28 12.0px,#cac129 14.9px,#bcc42f 17.8px,#adc638 20.7px,#9fc941 23.6px,#92ca4b 26.6px,#87cb54 29.5px,#7dcc5b 32.4px,#75cc61 35.3px,#6ecd67 38.2px,#68cd6c 41.1px,#62cd70 44.0px,#5dcc75 46.9px,#57cc7a 49.8px,#50cc7f 52.7px,#48cb86 55.6px,#3eca8f 58.5px,#36c899 61.4px,#2dc4a5 64.3px,#1dc0b3 67.3px,#02bbc3 70.2px,#11b1d6 73.1px,#22a2e4 76.0px,#2d8df2 78.9px,#3f6eff 81.8px,#484aee 84.7px,#3e27ac 87.6px,#0fbebb 88.1px)"></i>
<i style="top:63.14px;height:1.02px;background:linear-gradient(90deg,#0fbebb 3.3px,#fec03a 3.7px,#f9bb3d 6.7px,#eeba34 9.7px,#e1bc2b 12.7px,#d3bf27 15.6px,#c5c22a 18.6px,#b7c532 21.6px,#a9c73a 24.6px,#9dc943 27.6px,#91ca4c 30.5px,#87cb54 33.5px,#7ecc5b 36.5px,#76cc60 39.5px,#6fcd66 42.5px,#68cd6c 45.5px,#61cd71 48.4px,#59cc78 51.4px,#50cc80 54.4px,#45cb89 57.4px,#3ac994 60.4px,#31c5a1 63.3px,#23c1af 66.3px,#06bcc0 69.3px,#0cb3d3 72.3px,#20a4e3 75.3px,#2c8ef1 78.2px,#3e6fff 81.2px,#484aee 84.2px,#3e27aa 87.2px,#0fbebb 87.6px)"></i>
<i style="top:64.14px;height:1.02px;background:linear-gradient(90deg,#0fbebb 3.7px,#fec537 4.2px,#febe3c 7.1px,#f6ba3b 10.1px,#eaba31 13.0px,#debd29 16.0px,#d1bf27 18.9px,#c3c22b 21.9px,#b6c532 24.8px,#aac73a 27.8px,#9ec942 30.7px,#94ca4a 33.7px,#8acb51 36.6px,#82cc58 39.6px,#79cc5e 42.5px,#71cd64 45.5px,#68cd6b 48.4px,#5fcd73 51.3px,#54cc7c 54.3px,#48cb86 57.2px,#3bc992 60.2px,#31c6a0 63.1px,#23c1af 66.1px,#06bcc0 69.0px,#0eb2d4 72.0px,#21a3e3 74.9px,#2d8df2 77.9px,#3f6efe 80.8px,#4849ed 83.8px,#3e26a8 86.7px,#0fbebb 87.2px)"></i>
<i style="top:65.14px;height:1.02px;background:linear-gradient(90deg,#0fbebb 4.2px,#feca33 4.6px,#fec339 7.5px,#fcbc3d 10.5px,#f2ba38 13.4px,#e7bb2e 16.3px,#dbbd29 19.2px,#cec028 22.1px,#c2c22c 25.0px,#b6c532 28.0px,#abc739 30.9px,#a0c841 33.8px,#96ca48 36.7px,#8dcb50 39.6px,#83cc57 42.5px,#7acc5e 45.5px,#70cd65 48.4px,#65cd6e 51.3px,#59cc78 54.2px,#4bcb84 57.1px,#3dc991 60.0px,#32c69f 62.9px,#23c1af 65.9px,#05bbc1 68.8px,#0fb2d5 71.7px,#22a2e4 74.6px,#2d8cf3 77.5px,#406dfe 80.4px,#4848ec 83.4px,#3e26a8 86.3px,#0fbebb 86.7px)"></i>
<i style="top:66.15px;height:1.02px;background:linear-gradient(90deg,#0fbebb 4.7px,#fccf30 5.1px,#fec735 8.1px,#fec03b 11.1px,#f8ba3d 14.1px,#eeba34 17.1px,#e2bc2b 20.1px,#d6be28 23.1px,#cac129 26.0px,#bec32e 29.0px,#b3c534 32.0px,#a8c73b 35.0px,#9dc943 38.0px,#93ca4b 41.0px,#88cb53 44.0px,#7dcc5b 46.9px,#71cd64 49.9px,#63cd6f 52.9px,#54cc7c 55.9px,#43ca8a 58.9px,#35c79a 61.9px,#28c3aa 64.9px,#0bbdbd 67.8px,#0ab4d1 70.8px,#20a5e3 73.8px,#2c8ef1 76.8px,#3f6eff 79.8px,#4849ed 82.8px,#3e26a8 85.8px,#0fbebb 86.2px)"></i>
<i style="top:67.15px;height:1.02px;background:linear-gradient(90deg,#0fbebb 5.2px,#fad42e 5.7px,#fdcc32 8.6px,#fec437 11.6px,#fdbd3d 14.5px,#f5ba3b 17.5px,#ebba31 20.4px,#e0bc2a 23.3px,#d4be28 26.3px,#c9c129 29.2px,#bec32e 32.2px,#b3c534 35.1px,#a8c73b 38.1px,#9dc943 41.0px,#92ca4c 44.0px,#85cb55 46.9px,#78cc5f 49.9px,#69cd6b 52.8px,#58cc79 55.8px,#46cb88 58.7px,#36c899 61.7px,#29c3aa 64.6px,#0bbdbd 67.6px,#0ab4d2 70.5px,#20a4e3 73.4px,#2c8ef2 76.4px,#3f6eff 79.3px,#4849ed 82.3px,#3e26a9 85.2px,#0fbebb 85.7px)"></i>
<i style="top:68.15px;height:1.02px;background:linear-gradient(90deg,#0fbebb 5.8px,#f8d92c 6.2px,#fcd12f 9.1px,#fec934 12.0px,#fec239 14.9px,#fbbc3d 17.9px,#f3ba38 20.8px,#e8bb2f 23.7px,#debd29 26.6px,#d3bf27 29.5px,#c8c129 32.4px,#bdc32e 35.3px,#b2c635 38.2px,#a6c73c 41.1px,#9ac945 44.0px,#8dcb4f 46.9px,#7fcc5a 49.8px,#6ecd67 52.7px,#5ccc76 55.6px,#48cb86 58.5px,#37c898 61.4px,#29c3aa 64.3px,#0bbdbd 67.2px,#0bb4d2 70.1px,#20a4e3 73.0px,#2d8df2 76.0px,#3f6eff 78.9px,#484aed 81.8px,#3e27ab 84.7px,#0fbebb 85.1px)"></i>
<i style="top:69.15px;height:1.02px;background:linear-gradient(90deg,#0fbebb 6.4px,#f7dd2a 6.8px,#fad52d 9.8px,#fdcd31 12.8px,#fec636 15.7px,#febf3c 18.7px,#f8ba3d 21.7px,#eeba34 24.7px,#e4bb2c 27.6px,#d9be28 30.6px,#cec028 33.6px,#c2c22c 36.5px,#b6c532 39.5px,#aac73a 42.5px,#9cc944 45.5px,#8dcb50 48.4px,#7bcc5d 51.4px,#67cd6c 54.4px,#52cc7e 57.3px,#3dc991 60.3px,#2ec4a4 63.3px,#14beb8 66.2px,#05b6ce 69.2px,#1ea7e1 72.2px,#2b90f0 75.2px,#3d71ff 78.1px,#484cef 81.1px,#3f28ae 84.1px,#0fbebb 84.5px)"></i>
<i style="top:70.15px;height:1.02px;background:linear-gradient(90deg,#0fbebb 7.0px,#f5e128 7.5px,#f8da2b 10.4px,#fbd22f 13.3px,#feca33 16.2px,#fec338 19.2px,#fdbd3d 22.1px,#f5ba3a 25.0px,#ebba32 27.9px,#e1bc2b 30.8px,#d6be28 33.8px,#cbc129 36.7px,#bfc32d 39.6px,#b2c635 42.5px,#a4c83e 45.5px,#93ca4a 48.4px,#81cc59 51.3px,#6bcd69 54.2px,#55cc7c 57.1px,#3eca8f 60.1px,#2fc5a3 63.0px,#14bfb8 65.9px,#05b6ce 68.8px,#1ea7e1 71.7px,#2b90f0 74.7px,#3c71ff 77.6px,#484df0 80.5px,#3f29b2 83.4px,#0fbebb 83.9px)"></i>
<i style="top:71.16px;height:1.02px;background:linear-gradient(90deg,#0fbebb 7.7px,#f5e526 8.2px,#f6de29 11.1px,#fad62d 14.1px,#fdce31 17.1px,#fec636 20.1px,#febf3b 23.1px,#f9bb3d 26.1px,#f0ba36 29.0px,#e5bb2d 32.0px,#dabd28 35.0px,#cec028 38.0px,#c1c32c 41.0px,#b3c534 44.0px,#a2c83f 46.9px,#8fcb4e 49.9px,#79cc5e 52.9px,#60cd72 55.9px,#47cb87 58.9px,#33c79d 61.9px,#1ec0b2 64.8px,#01b8c9 67.8px,#1caadf 70.8px,#2994ed 73.8px,#3975fe 76.8px,#4850f2 79.8px,#402bb6 82.7px,#0fbebb 83.2px)"></i>
<i style="top:72.16px;height:1.02px;background:linear-gradient(90deg,#0fbebb 8.4px,#f5e924 8.9px,#f5e228 11.8px,#f8da2b 14.7px,#fbd22f 17.6px,#fdcb33 20.6px,#fec438 23.5px,#fdbd3d 26.4px,#f6ba3b 29.4px,#ecba32 32.3px,#e1bc2b 35.2px,#d6be28 38.1px,#c8c129 41.1px,#bac430 44.0px,#a9c73b 46.9px,#95ca49 49.8px,#7ecc5b 52.8px,#64cd6f 55.7px,#49cb85 58.6px,#34c79c 61.5px,#1fc0b2 64.5px,#01b8c9 67.4px,#1caadf 70.3px,#2994ed 73.3px,#3776fe 76.2px,#4851f4 79.1px,#412dbc 82.0px,#0fbebb 82.5px)"></i>
<i style="top:73.16px;height:1.02px;background:linear-gradient(90deg,#0fbebb 9.2px,#f5ec22 9.6px,#f5e526 12.6px,#f6de29 15.6px,#fad62d 18.6px,#fdce31 21.6px,#fec636 24.6px,#febf3b 27.5px,#f9ba3d 30.5px,#efba35 33.5px,#e4bb2c 36.5px,#d7be28 39.5px,#c8c129 42.5px,#b8c531 45.5px,#a4c83e 48.4px,#8dcb50 51.4px,#71cd64 54.4px,#55cc7c 57.4px,#3ac994 60.4px,#27c2ab 63.4px,#02bac3 66.3px,#18addb 69.3px,#2798ea 72.3px,#337bfd 75.3px,#4755f6 78.3px,#422fc2 81.3px,#0fbebb 81.7px)"></i>
<i style="top:74.16px;height:1.02px;background:linear-gradient(90deg,#0fbebb 10.0px,#f6f020 10.4px,#f5e924 13.3px,#f5e128 16.3px,#f8d92b 19.2px,#fbd22f 22.1px,#feca33 25.0px,#fec338 27.9px,#fcbd3d 30.9px,#f4ba39 33.8px,#e9bb30 36.7px,#ddbd29 39.6px,#cec028 42.5px,#bdc32e 45.5px,#a9c73b 48.4px,#91ca4c 51.3px,#75cc61 54.2px,#57cc7a 57.1px,#3bc993 60.0px,#28c3ab 63.0px,#03bbc3 65.9px,#17aedb 68.8px,#2699e9 71.7px,#327cfc 74.6px,#4758f8 77.6px,#4332ca 80.5px,#0fbebb 80.9px)"></i>
<i style="top:75.16px;height:1.02px;background:linear-gradient(90deg,#0fbebb 10.8px,#f6f21d 11.3px,#f5eb23 14.3px,#f5e427 17.2px,#f7dc2a 20.2px,#fad42e 23.2px,#fdcc32 26.1px,#fec537 29.1px,#febd3c 32.1px,#f5ba3b 35.1px,#eabb30 38.0px,#dcbd29 41.0px,#ccc028 44.0px,#b8c431 46.9px,#a0c841 49.9px,#84cc56 52.9px,#64cd6f 55.8px,#44cb8a 58.8px,#2ec5a3 61.8px,#0cbdbc 64.8px,#11b1d6 67.7px,#249de6 70.7px,#2f81fa 73.7px,#475cfa 76.6px,#4535d2 79.6px,#0fbebb 80.1px)"></i>
<i style="top:76.17px;height:1.02px;background:linear-gradient(90deg,#0fbebb 11.7px,#f7f51b 12.2px,#f5ee21 15.1px,#f5e725 18.0px,#f6df29 20.9px,#f9d72c 23.8px,#fccf30 26.6px,#fec835 29.5px,#fec03a 32.4px,#f9bb3d 35.3px,#eeba34 38.2px,#e0bc2b 41.1px,#d0bf27 44.0px,#bcc42f 46.9px,#a4c83e 49.8px,#87cb54 52.7px,#66cd6d 55.6px,#46cb88 58.5px,#2fc5a2 61.4px,#0ebdbb 64.3px,#0fb2d5 67.1px,#249fe6 70.0px,#2e84f9 72.9px,#4660fb 75.8px,#463ada 78.7px,#0fbebb 79.2px)"></i>
<i style="top:77.17px;height:1.02px;background:linear-gradient(90deg,#0fbebb 12.7px,#f8f719 13.1px,#f6f01f 16.1px,#f5e924 19.0px,#f5e128 22.0px,#f8d92c 24.9px,#fcd12f 27.8px,#fec834 30.8px,#fec13a 33.7px,#f9bb3d 36.6px,#ecba33 39.6px,#ddbd29 42.5px,#cac129 45.5px,#b3c534 48.4px,#97ca48 51.3px,#75cc61 54.3px,#52cc7e 57.2px,#35c79a 60.1px,#1bc0b4 63.1px,#06b5cf 66.0px,#21a3e3 68.9px,#2d89f5 71.9px,#4466fd 74.8px,#473fe2 77.8px,#0fbebb 78.2px)"></i>
<i style="top:78.17px;height:1.02px;background:linear-gradient(90deg,#0fbebb 13.7px,#f8f817 14.2px,#f6f21e 17.1px,#f5ea23 20.1px,#f5e227 23.1px,#f8da2b 26.1px,#fbd12f 29.1px,#fec934 32.0px,#fec03a 35.0px,#f8ba3d 38.0px,#eabb30 41.0px,#d8be28 44.0px,#c2c22c 46.9px,#a7c73c 49.9px,#86cb55 52.9px,#60cd72 55.9px,#3dc991 58.9px,#26c2ac 61.8px,#01b9c8 64.8px,#1da8e0 67.8px,#2c8ff1 70.8px,#406cfe 73.8px,#4745e9 76.7px,#0fbebb 77.2px)"></i>
<i style="top:79.17px;height:1.02px;background:linear-gradient(90deg,#0fbebb 14.8px,#f9fa16 15.2px,#f7f31d 18.1px,#f5ec22 21.0px,#f5e426 23.9px,#f7dc2a 26.8px,#fbd32e 29.6px,#fdcb33 32.5px,#fec239 35.4px,#f9bb3d 38.3px,#ecba32 41.1px,#dbbd29 44.0px,#c5c22a 46.9px,#aac73a 49.8px,#88cb53 52.6px,#62cd70 55.5px,#3eca8f 58.4px,#28c3ab 61.3px,#01b9c6 64.1px,#1baade 67.0px,#2a92ee 69.9px,#3c72ff 72.8px,#484cf0 75.7px,#0fbebb 76.1px)"></i>
<i style="top:80.18px;height:1.02px;background:linear-gradient(90deg,#0fbebb 16.0px,#f9fb15 16.4px,#f7f41c 19.3px,#f5ec22 22.2px,#f5e426 25.1px,#f7dc2a 28.0px,#fbd32f 30.9px,#feca34 33.8px,#fec03a 36.7px,#f7ba3c 39.6px,#e7bb2e 42.5px,#d3bf27 45.5px,#b9c431 48.4px,#98c946 51.3px,#72cd64 54.2px,#4bcb84 57.1px,#2fc5a2 60.0px,#09bdbe 62.9px,#15afd9 65.8px,#2699e9 68.7px,#347afd 71.6px,#4854f5 74.5px,#0fbebb 74.9px)"></i>
<i style="top:81.18px;height:1.02px;background:linear-gradient(90deg,#0fbebb 17.2px,#f9fb15 17.7px,#f7f41c 20.6px,#f5ec22 23.5px,#f5e427 26.4px,#f7db2b 29.4px,#fbd12f 32.3px,#fec835 35.2px,#febe3c 38.1px,#f2ba37 41.1px,#dfbc2a 44.0px,#c7c12a 46.9px,#a9c73b 49.8px,#83cc57 52.8px,#59cc78 55.7px,#36c898 58.6px,#19bfb5 61.5px,#0ab4d2 64.5px,#249fe5 67.4px,#2f82f9 70.3px,#465dfa 73.2px,#0fbebb 73.7px)"></i>
<i style="top:82.18px;height:1.02px;background:linear-gradient(90deg,#0fbebb 18.5px,#f9fb15 19.0px,#f7f31d 21.9px,#f5eb23 24.9px,#f5e327 27.8px,#f8d92b 30.8px,#fccf30 33.7px,#fec537 36.6px,#fbbc3d 39.6px,#ebba31 42.5px,#d5be28 45.5px,#b8c431 48.4px,#94ca4a 51.3px,#69cd6a 54.3px,#40ca8d 57.2px,#27c2ac 60.1px,#01b8c9 63.1px,#1fa6e2 66.0px,#2d8bf4 69.0px,#4367fd 71.9px,#0fbebb 72.4px)"></i>
<i style="top:83.18px;height:1.02px;background:linear-gradient(90deg,#0fbebb 20.0px,#f9fa16 20.5px,#f6f21e 23.4px,#f5ea24 26.3px,#f6e028 29.3px,#f9d62d 32.2px,#fdcc32 35.2px,#fec13a 38.1px,#f5ba3a 41.0px,#e1bc2b 44.0px,#c7c12a 46.9px,#a5c83d 49.9px,#7bcc5d 52.8px,#4fcc81 55.7px,#30c5a2 58.7px,#07bcc0 61.6px,#19addc 64.6px,#2994ed 67.5px,#3b72ff 70.4px,#0fbebb 70.9px)"></i>
<i style="top:84.18px;height:1.02px;background:linear-gradient(90deg,#0fbebb 21.6px,#f8f818 22.0px,#f6f020 25.0px,#f5e725 27.9px,#f7dd2a 30.8px,#fbd22f 33.7px,#fec735 36.7px,#fcbd3d 39.6px,#ecba32 42.5px,#d4bf28 45.5px,#b5c533 48.4px,#8dcb4f 51.3px,#60cd73 54.2px,#38c896 57.2px,#19bfb5 60.1px,#0db3d3 63.0px,#259de7 65.9px,#307ffb 68.9px,#0fbebb 69.3px)"></i>
<i style="top:85.19px;height:1.02px;background:linear-gradient(90deg,#0fbebb 23.3px,#f7f51b 23.8px,#f5ec22 26.7px,#f5e327 29.6px,#f8d92c 32.5px,#fdcd31 35.3px,#fec239 38.2px,#f5ba3a 41.1px,#e0bc2a 44.0px,#c4c22b 46.9px,#9fc942 49.8px,#72cd64 52.7px,#45cb89 55.6px,#29c3aa 58.4px,#01b9c8 61.3px,#1ea6e1 64.2px,#2d8cf3 67.1px,#0fbebb 67.6px)"></i>
<i style="top:86.19px;height:1.02px;background:linear-gradient(90deg,#0fbebb 25.3px,#f6f01f 25.7px,#f5e825 28.6px,#f6de29 31.4px,#fbd32f 34.2px,#fec735 37.0px,#fcbc3d 39.8px,#eabb30 42.6px,#d1bf27 45.5px,#afc636 48.3px,#85cb55 51.1px,#57cc7a 53.9px,#34c79c 56.7px,#0fbebb 59.5px,#14b0d8 62.3px,#2699e9 65.2px,#0fbebb 65.6px)"></i>
<i style="top:87.19px;height:1.02px;background:linear-gradient(90deg,#0fbebb 27.5px,#f5ea23 28.0px,#f6e028 30.9px,#fad42e 33.8px,#fec835 36.7px,#fcbc3d 39.6px,#e9bb30 42.5px,#cec028 45.5px,#a9c73b 48.4px,#7bcc5d 51.3px,#4bcb84 54.2px,#2cc4a7 57.1px,#01b9c6 60.0px,#1ea7e1 62.9px,#0fbebb 63.4px)"></i>
<i style="top:88.19px;height:1.02px;background:linear-gradient(90deg,#0fbebb 30.1px,#f6e128 30.6px,#fad52d 33.6px,#fec834 36.5px,#fbbc3d 39.5px,#e7bb2e 42.5px,#c9c129 45.5px,#a1c840 48.4px,#70cd65 51.4px,#40ca8d 54.4px,#22c1b0 57.3px,#07b5d0 60.3px,#0fbebb 60.8px)"></i>
<i style="top:89.20px;height:1.02px;background:linear-gradient(90deg,#0fbebb 33.4px,#fbd32e 33.9px,#fec636 36.8px,#f9bb3d 39.7px,#e3bc2c 42.6px,#c4c22b 45.5px,#9bc945 48.3px,#69cd6b 51.2px,#3cc992 54.1px,#1cc0b3 57.0px,#0fbebb 57.5px)"></i>
<i style="top:90.20px;height:1.02px;background:linear-gradient(90deg,#0fbebb 38.3px,#fcbc3d 38.7px,#e9bb30 41.4px,#cec028 44.1px,#abc739 46.8px,#7ecc5b 49.5px,#4fcc80 52.2px,#0fbebb 52.6px)"></i>
</div>
<div class="fr" style="left:222.2px;top:324.4px;width:90.9px;height:91.2px"></div>
<div class="cb" style="left:326.1px;top:324.3px;width:9.3px;height:91.5px;background:linear-gradient(180deg,#f9fb15 0.0%,#f5e327 6.2%,#feca33 12.5%,#f1ba37 18.8%,#c8c129 25.0%,#94ca4a 31.2%,#5ccc76 37.5%,#34c79c 43.8%,#12beb9 50.0%,#0cb3d3 56.2%,#21a3e3 62.5%,#2c90f0 68.8%,#347afd 75.0%,#4562fc 81.2%,#484cef 87.5%,#4536d5 93.8%,#3e26a8 100.0%)"></div>
<div class="pm" style="left:404.5px;top:324.4px;width:91.3px;height:91.2px;background:#2ec4a4">
<i style="top:0.00px;height:1.02px;background:linear-gradient(90deg,#2ec4a4 38.5px,#4367fd 38.9px,#347afd 41.6px,#2d8bf4 44.3px,#269ae8 47.0px,#1da8e0 49.7px,#0bb4d2 52.4px,#2ec4a4 52.8px)"></i>
<i style="top:1.00px;height:1.02px;background:linear-gradient(90deg,#2ec4a4 33.6px,#484df0 34.0px,#465ffb 36.9px,#3c71ff 39.8px,#2e84f8 42.7px,#2895ec 45.7px,#20a4e3 48.6px,#12b1d6 51.5px,#02bbc3 54.4px,#24c2ae 57.3px,#2ec4a4 57.7px)"></i>
<i style="top:2.00px;height:1.02px;background:linear-gradient(90deg,#2ec4a4 30.3px,#463de0 30.7px,#484ff2 33.7px,#4561fc 36.7px,#3a74fe 39.7px,#2e86f7 42.7px,#2797eb 45.7px,#1fa6e2 48.6px,#0db3d4 51.6px,#07bcc0 54.6px,#28c3aa 57.6px,#3bc993 60.6px,#2ec4a4 61.0px)"></i>
<i style="top:3.01px;height:1.02px;background:linear-gradient(90deg,#2ec4a4 27.6px,#4434d0 28.1px,#4744e8 31.0px,#4755f6 33.9px,#4466fd 36.9px,#3678fd 39.8px,#2d89f5 42.7px,#2699e9 45.7px,#1ea7e1 48.6px,#0cb3d3 51.5px,#06bcc0 54.4px,#27c2ab 57.4px,#39c895 60.3px,#56cc7b 63.2px,#2ec4a4 63.7px)"></i>
<i style="top:4.01px;height:1.02px;background:linear-gradient(90deg,#2ec4a4 25.4px,#422fc1 25.9px,#463bde 28.7px,#484bef 31.5px,#475bf9 34.3px,#416bfe 37.2px,#327cfc 40.0px,#2d8cf3 42.8px,#269ae8 45.7px,#1ea8e1 48.5px,#0db3d3 51.3px,#05bbc1 54.1px,#25c2ae 57.0px,#36c898 59.8px,#4fcc80 62.6px,#6fcd66 65.4px,#2ec4a4 65.9px)"></i>
<i style="top:5.01px;height:1.02px;background:linear-gradient(90deg,#2ec4a4 23.4px,#402bb7 23.9px,#4537d5 26.8px,#4746ea 29.7px,#4755f6 32.6px,#4465fd 35.5px,#3875fe 38.4px,#2e86f8 41.3px,#2995ec 44.2px,#22a2e4 47.1px,#16afd9 50.0px,#01b8c8 52.9px,#19bfb5 55.8px,#30c5a1 58.7px,#44cb89 61.6px,#63cd6f 64.5px,#84cc56 67.4px,#2ec4a4 67.9px)"></i>
<i style="top:6.01px;height:1.02px;background:linear-gradient(90deg,#2ec4a4 21.7px,#3f29b0 22.1px,#4434ce 25.1px,#4741e5 28.0px,#4850f3 31.0px,#465ffb 33.9px,#3e6fff 36.8px,#3080fa 39.8px,#2c8ff1 42.7px,#259de7 45.7px,#1caadf 48.6px,#08b5d0 51.5px,#09bdbe 54.5px,#29c3aa 57.4px,#3ac994 60.3px,#55cc7b 63.3px,#75cc61 66.2px,#94ca4a 69.2px,#2ec4a4 69.6px)"></i>
<i style="top:7.02px;height:1.02px;background:linear-gradient(90deg,#2ec4a4 20.1px,#3e27ab 20.5px,#4332c9 23.5px,#473ee1 26.5px,#484df0 29.4px,#475bf9 32.4px,#426afe 35.3px,#337afd 38.3px,#2d89f5 41.2px,#2797ea 44.2px,#20a4e3 47.1px,#14b0d8 50.1px,#01b9c7 53.0px,#1cc0b4 56.0px,#31c69f 58.9px,#46cb88 61.9px,#64cd6e 64.8px,#85cb56 67.8px,#a1c840 70.8px,#2ec4a4 71.2px)"></i>
<i style="top:8.02px;height:1.02px;background:linear-gradient(90deg,#2ec4a4 18.6px,#3e26a9 19.1px,#4331c6 22.0px,#463cdf 25.0px,#484aee 27.9px,#4758f8 30.9px,#4466fd 33.8px,#3975fe 36.8px,#2e84f8 39.7px,#2b92ee 42.7px,#249fe6 45.7px,#1babde 48.6px,#06b5cf 51.6px,#0abdbd 54.5px,#29c3aa 57.5px,#39c895 60.4px,#53cc7d 63.4px,#72cd63 66.3px,#91ca4c 69.3px,#aac73a 72.2px,#2ec4a4 72.7px)"></i>
<i style="top:9.02px;height:1.02px;background:linear-gradient(90deg,#2ec4a4 17.3px,#3e26a8 17.7px,#4330c5 20.7px,#463bdd 23.6px,#4848ec 26.5px,#4755f6 29.5px,#4562fc 32.4px,#3d70ff 35.4px,#307ffb 38.3px,#2d8df2 41.2px,#2699e9 44.2px,#1fa6e2 47.1px,#13b1d7 50.1px,#01b9c6 53.0px,#1ac0b4 55.9px,#30c5a1 58.9px,#42ca8b 61.8px,#5fcd73 64.8px,#7ecc5b 67.7px,#9ac945 70.6px,#afc636 73.6px,#2ec4a4 74.0px)"></i>
<i style="top:10.02px;height:1.02px;background:linear-gradient(90deg,#2ec4a4 16.0px,#3e27aa 16.5px,#4330c5 19.4px,#463adc 22.3px,#4747eb 25.2px,#4853f5 28.1px,#465ffb 31.1px,#406cfe 34.0px,#337bfd 36.9px,#2d88f6 39.8px,#2994ed 42.7px,#23a0e5 45.7px,#1aacdd 48.6px,#06b5cf 51.5px,#09bcbe 54.4px,#26c2ac 57.3px,#36c899 60.2px,#4dcb82 63.2px,#6acd6a 66.1px,#88cb53 69.0px,#a0c841 71.9px,#b3c534 74.8px,#2ec4a4 75.3px)"></i>
<i style="top:11.02px;height:1.02px;background:linear-gradient(90deg,#2ec4a4 14.9px,#3e28ac 15.3px,#4331c6 18.2px,#463bdc 21.1px,#4746ea 24.0px,#4852f4 26.9px,#465dfb 29.8px,#426afe 32.6px,#3777fe 35.5px,#2e84f9 38.4px,#2c90f0 41.3px,#259be7 44.2px,#1ea7e1 47.1px,#12b1d7 50.0px,#01b9c7 52.9px,#17bfb6 55.8px,#2ec4a5 58.7px,#3dc990 61.5px,#57cc7a 64.4px,#73cd63 67.3px,#8fcb4e 70.2px,#a5c83d 73.1px,#b5c533 76.0px,#2ec4a4 76.4px)"></i>
<i style="top:12.03px;height:1.02px;background:linear-gradient(90deg,#2ec4a4 13.8px,#3f29b0 14.2px,#4332ca 17.2px,#463cdf 20.2px,#4848ec 23.2px,#4853f5 26.2px,#465ffb 29.2px,#416bfe 32.2px,#3678fe 35.2px,#2e84f8 38.2px,#2b90ef 41.2px,#259ce7 44.2px,#1ea7e1 47.1px,#11b1d6 50.1px,#01b9c6 53.1px,#1abfb5 56.1px,#2fc5a3 59.1px,#3fca8e 62.1px,#5acc77 65.1px,#77cc60 68.1px,#92ca4c 71.1px,#a7c73c 74.1px,#b5c533 77.1px,#2ec4a4 77.5px)"></i>
<i style="top:13.03px;height:1.02px;background:linear-gradient(90deg,#2ec4a4 12.7px,#402ab5 13.2px,#4433cd 16.1px,#463de0 19.1px,#4848ec 22.0px,#4853f5 25.0px,#465efb 27.9px,#4369fe 30.9px,#3975fe 33.8px,#2f81fa 36.8px,#2d8cf3 39.7px,#2797ea 42.7px,#22a2e4 45.7px,#19addc 48.6px,#06b5cf 51.6px,#08bcbf 54.5px,#24c2ae 57.5px,#34c79c 60.4px,#47cb87 63.4px,#62cd70 66.3px,#7ecc5b 69.3px,#96ca49 72.2px,#a8c73b 75.2px,#b3c534 78.1px,#2ec4a4 78.6px)"></i>
<i style="top:14.03px;height:1.02px;background:linear-gradient(90deg,#2ec4a4 11.8px,#412cbb 12.2px,#4435d2 15.1px,#473fe2 18.0px,#4849ed 21.0px,#4853f5 23.9px,#465dfa 26.8px,#4367fd 29.7px,#3b72fe 32.6px,#317efb 35.5px,#2d89f6 38.4px,#2a93ed 41.3px,#249ee6 44.2px,#1da8e0 47.1px,#12b1d6 50.0px,#01b8c8 52.9px,#13beb8 55.8px,#2bc3a8 58.7px,#39c895 61.6px,#4fcc81 64.5px,#69cd6b 67.4px,#82cc57 70.3px,#98ca47 73.3px,#a7c73c 76.2px,#b0c636 79.1px,#2ec4a4 79.5px)"></i>
<i style="top:15.03px;height:1.02px;background:linear-gradient(90deg,#2ec4a4 10.9px,#422fc1 11.3px,#4538d7 14.3px,#4742e6 17.3px,#484cf0 20.3px,#4756f7 23.3px,#465ffb 26.3px,#4269fe 29.2px,#3a74fe 32.2px,#307ffb 35.2px,#2d8af5 38.2px,#2994ed 41.2px,#249ee6 44.2px,#1da8e0 47.1px,#11b1d6 50.1px,#01b9c7 53.1px,#15bfb8 56.1px,#2cc4a7 59.1px,#3ac994 62.1px,#50cc80 65.0px,#6acd6a 68.0px,#83cc57 71.0px,#97ca48 74.0px,#a5c83d 77.0px,#abc739 80.0px,#2ec4a4 80.4px)"></i>
<i style="top:16.04px;height:1.02px;background:linear-gradient(90deg,#2ec4a4 10.0px,#4332c8 10.5px,#463bdc 13.4px,#4745e9 16.3px,#484ef1 19.3px,#4757f7 22.2px,#4660fb 25.1px,#4269fe 28.1px,#3b73fe 31.0px,#317dfc 33.9px,#2e87f7 36.9px,#2b91ef 39.8px,#269ae8 42.7px,#21a4e3 45.7px,#19addc 48.6px,#07b5d0 51.5px,#05bbc1 54.4px,#1fc0b2 57.4px,#30c5a1 60.3px,#3eca8f 63.2px,#56cc7b 66.2px,#6ecd67 69.1px,#85cb56 72.0px,#96ca48 75.0px,#a2c840 77.9px,#a6c83d 80.8px,#2ec4a4 81.3px)"></i>
<i style="top:17.04px;height:1.02px;background:linear-gradient(90deg,#2ec4a4 9.2px,#4434d0 9.7px,#473ee1 12.7px,#4848ec 15.7px,#4852f4 18.7px,#475af9 21.7px,#4563fc 24.7px,#416bfe 27.7px,#3975fe 30.7px,#307ffb 33.7px,#2d88f6 36.7px,#2b91ef 39.7px,#259be8 42.7px,#20a4e3 45.7px,#18addb 48.6px,#06b5cf 51.6px,#05bbc1 54.6px,#20c1b1 57.6px,#30c5a1 60.6px,#3eca8f 63.6px,#56cc7b 66.6px,#6dcd67 69.6px,#83cc57 72.6px,#93ca4a 75.6px,#9dc943 78.6px,#9fc942 81.6px,#2ec4a4 82.1px)"></i>
<i style="top:18.04px;height:1.02px;background:linear-gradient(90deg,#2ec4a4 8.5px,#4538d7 8.9px,#4742e6 11.8px,#484cef 14.8px,#4854f5 17.7px,#475cfa 20.7px,#4564fd 23.6px,#406cfe 26.5px,#3975fe 29.5px,#317dfb 32.4px,#2e86f7 35.4px,#2c8ff1 38.3px,#2797ea 41.2px,#23a0e5 44.2px,#1ca9e0 47.1px,#11b1d6 50.1px,#01b8c9 53.0px,#0ebdbb 55.9px,#27c2ac 58.9px,#34c79c 61.8px,#43ca8a 64.8px,#5acc78 67.7px,#6fcd65 70.6px,#83cc57 73.6px,#91ca4d 76.5px,#98ca47 79.5px,#97ca48 82.4px,#2ec4a4 82.8px)"></i>
<i style="top:19.04px;height:1.02px;background:linear-gradient(90deg,#2ec4a4 7.7px,#463cde 8.2px,#4746eb 11.2px,#4850f2 14.2px,#4758f8 17.2px,#4660fb 20.2px,#4367fd 23.2px,#3e6fff 26.2px,#3777fe 29.2px,#307ffb 32.2px,#2d88f6 35.2px,#2c90f0 38.2px,#2798ea 41.2px,#23a1e4 44.2px,#1caadf 47.1px,#11b1d6 50.1px,#01b8c9 53.1px,#0ebebb 56.1px,#27c2ac 59.1px,#34c79c 62.1px,#43ca8b 65.1px,#59cc79 68.1px,#6dcd67 71.1px,#80cc59 74.1px,#8ccb50 77.1px,#91ca4c 80.1px,#8ecb4f 83.1px,#2ec4a4 83.6px)"></i>
<i style="top:20.04px;height:1.02px;background:linear-gradient(90deg,#2ec4a4 7.1px,#4740e4 7.5px,#484bee 10.4px,#4854f5 13.4px,#475bf9 16.3px,#4562fc 19.2px,#4269fe 22.2px,#3d70ff 25.1px,#3678fe 28.0px,#307ffb 31.0px,#2e86f7 33.9px,#2c8ef1 36.8px,#2896ec 39.8px,#249ee6 42.7px,#1fa6e2 45.7px,#18aedb 48.6px,#08b5d0 51.5px,#02bac4 54.5px,#18bfb6 57.4px,#2bc3a7 60.3px,#36c898 63.3px,#47cb87 66.2px,#5bcc76 69.1px,#6ecd67 72.1px,#7dcc5b 75.0px,#87cb54 77.9px,#8acb52 80.9px,#83cc57 83.8px,#2ec4a4 84.2px)"></i>
<i style="top:21.05px;height:1.02px;background:linear-gradient(90deg,#2ec4a4 6.4px,#4745ea 6.9px,#4850f2 9.9px,#4758f8 12.8px,#4660fb 15.8px,#4367fd 18.8px,#406dfe 21.8px,#3a74fe 24.8px,#337bfd 27.8px,#2f82fa 30.7px,#2d88f6 33.7px,#2c8ff0 36.7px,#2797eb 39.7px,#249ee6 42.7px,#1fa6e1 45.6px,#17aeda 48.6px,#07b5d0 51.6px,#02bac3 54.6px,#18bfb6 57.6px,#2bc3a8 60.6px,#36c899 63.5px,#46cb88 66.5px,#59cc78 69.5px,#6bcd69 72.5px,#79cc5e 75.5px,#81cc58 78.5px,#81cc58 81.4px,#78cc5f 84.4px,#2ec4a4 84.9px)"></i>
<i style="top:22.05px;height:1.02px;background:linear-gradient(90deg,#2ec4a4 5.8px,#484bee 6.3px,#4854f5 9.2px,#475cfa 12.1px,#4563fd 15.0px,#426afe 17.9px,#3d70ff 20.9px,#3776fe 23.8px,#327cfc 26.7px,#2f82f9 29.6px,#2d88f6 32.5px,#2c8ef1 35.4px,#2895ec 38.4px,#259ce7 41.3px,#21a3e3 44.2px,#1baade 47.1px,#11b1d6 50.0px,#02b7cb 52.9px,#08bcbe 55.9px,#1fc1b1 58.8px,#2ec5a4 61.7px,#39c895 64.6px,#48cb86 67.5px,#5acc77 70.4px,#69cd6a 73.4px,#75cc61 76.3px,#7acc5d 79.2px,#78cc5f 82.1px,#6dcd68 85.0px,#2ec4a4 85.5px)"></i>
<i style="top:23.05px;height:1.02px;background:linear-gradient(90deg,#2ec4a4 5.2px,#4850f2 5.7px,#4759f9 8.7px,#4561fc 11.6px,#4368fe 14.6px,#3f6fff 17.5px,#3975fe 20.5px,#347afd 23.5px,#307ffb 26.4px,#2e85f8 29.4px,#2d8af4 32.3px,#2b90f0 35.3px,#2796eb 38.3px,#259de7 41.2px,#20a4e3 44.2px,#1babde 47.1px,#10b2d5 50.1px,#02b7cb 53.0px,#08bcbe 56.0px,#1fc0b2 59.0px,#2ec4a4 61.9px,#38c896 64.9px,#46cb88 67.8px,#57cc7a 70.8px,#65cd6e 73.8px,#6fcd66 76.7px,#73cd63 79.7px,#6ecd66 82.6px,#61cd71 85.6px,#2ec4a4 86.1px)"></i>
<i style="top:24.05px;height:1.02px;background:linear-gradient(90deg,#2ec4a4 4.7px,#4755f6 5.2px,#465ffb 8.2px,#4367fd 11.2px,#3f6efe 14.2px,#3a74fe 17.2px,#3579fd 20.2px,#317efb 23.2px,#2e83f9 26.2px,#2d88f6 29.2px,#2d8df2 32.2px,#2b92ee 35.2px,#2798ea 38.2px,#249ee6 41.2px,#20a5e3 44.2px,#1aabdd 47.1px,#10b2d5 50.1px,#01b7ca 53.1px,#08bcbe 56.1px,#1ec0b2 59.1px,#2dc4a5 62.1px,#37c897 65.1px,#44cb89 68.1px,#54cc7c 71.1px,#61cd71 74.1px,#69cd6b 77.1px,#6bcd69 80.1px,#65cd6e 83.1px,#56cc7b 86.1px,#2ec4a4 86.6px)"></i>
<i style="top:25.05px;height:1.02px;background:linear-gradient(90deg,#2ec4a4 4.2px,#475bf9 4.6px,#4464fd 7.6px,#406cfe 10.5px,#3b72fe 13.4px,#3678fd 16.4px,#317dfc 19.3px,#2f81fa 22.2px,#2e85f8 25.1px,#2d89f5 28.1px,#2d8df2 31.0px,#2b92ee 33.9px,#2797eb 36.9px,#259de7 39.8px,#21a3e4 42.7px,#1da9e0 45.7px,#15afd9 48.6px,#08b5d0 51.5px,#01b9c6 54.4px,#10beba 57.4px,#24c1ae 60.3px,#30c5a2 63.2px,#39c895 66.2px,#45cb88 69.1px,#53cc7d 72.0px,#5ecc74 74.9px,#63cd6f 77.9px,#63cd70 80.8px,#5bcc77 83.7px,#4bcb84 86.7px,#2ec4a4 87.1px)"></i>
<i style="top:26.06px;height:1.02px;background:linear-gradient(90deg,#2ec4a4 3.7px,#4661fc 4.2px,#426afe 7.1px,#3c72ff 10.1px,#3578fd 13.1px,#317dfc 16.0px,#2f81fa 19.0px,#2e85f8 21.9px,#2d89f6 24.9px,#2d8cf3 27.9px,#2c90f0 30.8px,#2994ed 33.8px,#2699e9 36.8px,#249ee6 39.7px,#21a4e3 42.7px,#1caadf 45.7px,#15afd8 48.6px,#07b5d0 51.6px,#01bac5 54.5px,#0fbeba 57.5px,#24c1af 60.5px,#2fc5a3 63.4px,#37c897 66.4px,#43ca8b 69.4px,#4fcc80 72.3px,#59cc78 75.3px,#5dcc75 78.2px,#5bcc76 81.2px,#51cc7f 84.2px,#40ca8d 87.1px,#2ec4a4 87.6px)"></i>
<i style="top:27.06px;height:1.02px;background:linear-gradient(90deg,#2ec4a4 3.3px,#4367fd 3.7px,#3d70ff 6.7px,#3678fd 9.7px,#317efb 12.7px,#2f82f9 15.7px,#2e86f7 18.7px,#2d89f5 21.7px,#2d8cf3 24.7px,#2c8ff0 27.7px,#2a93ee 30.7px,#2797eb 33.7px,#259be8 36.7px,#23a0e5 39.7px,#20a5e2 42.7px,#1baade 45.7px,#14b0d8 48.6px,#06b5cf 51.6px,#01bac5 54.6px,#0fbeba 57.6px,#23c1af 60.6px,#2ec5a4 63.6px,#36c898 66.6px,#40ca8d 69.6px,#4ccb83 72.6px,#54cc7c 75.6px,#57cc7a 78.6px,#53cc7d 81.6px,#48cb86 84.6px,#38c896 87.6px,#2ec4a4 88.0px)"></i>
<i style="top:28.06px;height:1.02px;background:linear-gradient(90deg,#2ec4a4 2.9px,#406dfe 3.3px,#3776fe 6.2px,#317efb 9.1px,#2e83f9 12.1px,#2e87f7 15.0px,#2d8af5 17.9px,#2d8df2 20.8px,#2c8ff0 23.7px,#2b92ee 26.7px,#2995ec 29.6px,#2798ea 32.5px,#259be8 35.4px,#249fe5 38.3px,#20a4e3 41.3px,#1da9e0 44.2px,#17aedb 47.1px,#0db3d3 50.0px,#02b7cb 53.0px,#05bbc1 55.9px,#17bfb7 58.8px,#26c2ac 61.7px,#30c5a1 64.6px,#37c897 67.6px,#40ca8d 70.5px,#49cb85 73.4px,#4fcc80 76.3px,#50cc80 79.2px,#4acb84 82.2px,#3eca8f 85.1px,#32c69e 88.0px,#2ec4a4 88.4px)"></i>
<i style="top:29.06px;height:1.02px;background:linear-gradient(90deg,#2ec4a4 2.5px,#3a74fe 2.9px,#317dfc 5.9px,#2e83f9 8.8px,#2d88f6 11.8px,#2d8cf3 14.7px,#2c8ff1 17.7px,#2b91ef 20.6px,#2a93ee 23.5px,#2895ec 26.5px,#2797ea 29.4px,#269ae8 32.4px,#249de6 35.3px,#22a1e4 38.3px,#1fa5e2 41.2px,#1caadf 44.2px,#16afda 47.1px,#0bb3d2 50.1px,#01b8ca 53.0px,#05bbc1 56.0px,#16bfb7 58.9px,#26c2ad 61.9px,#2fc5a2 64.8px,#36c899 67.8px,#3eca8f 70.7px,#45cb88 73.6px,#4acb85 76.6px,#49cb85 79.5px,#43ca8b 82.5px,#38c896 85.4px,#2dc4a6 88.4px,#2ec4a4 88.8px)"></i>
<i style="top:30.07px;height:1.02px;background:linear-gradient(90deg,#2ec4a4 2.1px,#337afd 2.6px,#2e83f9 5.5px,#2d89f5 8.5px,#2c8ef2 11.5px,#2b91ef 14.4px,#2a93ed 17.4px,#2895ec 20.4px,#2797eb 23.4px,#2698ea 26.3px,#269ae8 29.3px,#259de7 32.3px,#23a0e5 35.2px,#21a3e3 38.2px,#1ea7e1 41.2px,#1babde 44.2px,#15afd8 47.1px,#0ab4d1 50.1px,#01b8c9 53.1px,#06bcc0 56.1px,#16bfb7 59.0px,#25c2ad 62.0px,#2fc5a3 65.0px,#35c79a 67.9px,#3cc992 70.9px,#42ca8c 73.9px,#45cb89 76.9px,#43ca8a 79.8px,#3cc991 82.8px,#33c69d 85.8px,#25c2ad 88.7px,#2ec4a4 89.2px)"></i>
<i style="top:31.07px;height:1.02px;background:linear-gradient(90deg,#2ec4a4 1.8px,#2f81fa 2.2px,#2d89f5 5.2px,#2c8ff1 8.2px,#2a93ee 11.2px,#2896ec 14.2px,#2798ea 17.2px,#2699e9 20.2px,#269ae8 23.2px,#259ce7 26.2px,#249de6 29.2px,#239fe5 32.2px,#22a2e4 35.2px,#20a5e2 38.2px,#1da8e0 41.2px,#19acdc 44.2px,#13b0d7 47.1px,#08b4d0 50.1px,#01b8c9 53.1px,#06bcc0 56.1px,#16bfb7 59.1px,#25c2ad 62.1px,#2ec4a4 65.1px,#34c79c 68.1px,#3ac994 71.1px,#3eca8f 74.1px,#40ca8d 77.1px,#3dca90 80.1px,#37c898 83.1px,#2ec4a4 86.1px,#1abfb5 89.1px,#2ec4a4 89.5px)"></i>
<i style="top:32.07px;height:1.02px;background:linear-gradient(90deg,#2ec4a4 1.5px,#2e87f7 1.9px,#2c8ef1 4.8px,#2994ed 7.7px,#2798ea 10.7px,#269ae8 13.6px,#259ce7 16.5px,#249de7 19.4px,#249ee6 22.3px,#249fe5 25.2px,#23a0e5 28.2px,#22a2e4 31.1px,#21a3e3 34.0px,#1fa6e2 36.9px,#1da9e0 39.8px,#1aacdd 42.7px,#15afd8 45.6px,#0cb3d3 48.6px,#03b7cc 51.5px,#02bac4 54.4px,#0cbdbc 57.3px,#1cc0b4 60.2px,#27c2ab 63.1px,#2fc5a3 66.1px,#34c79c 69.0px,#38c896 71.9px,#3cc992 74.8px,#3cc992 77.7px,#38c896 80.6px,#32c69e 83.6px,#28c2ab 86.5px,#0cbdbc 89.4px,#2ec4a4 89.8px)"></i>
<i style="top:33.07px;height:1.02px;background:linear-gradient(90deg,#2ec4a4 1.2px,#2d8df2 1.6px,#2994ed 4.6px,#2699e9 7.5px,#259de7 10.4px,#249fe5 13.4px,#23a0e5 16.3px,#22a1e4 19.2px,#22a2e4 22.2px,#21a3e4 25.1px,#21a3e3 28.0px,#20a5e3 31.0px,#1fa6e2 33.9px,#1da8e0 36.8px,#1babde 39.8px,#18addb 42.7px,#13b1d7 45.7px,#0ab4d1 48.6px,#02b7cb 51.5px,#02bac4 54.5px,#0dbdbc 57.4px,#1cc0b4 60.3px,#27c2ac 63.3px,#2ec4a4 66.2px,#33c69d 69.1px,#36c898 72.1px,#39c895 75.0px,#38c896 77.9px,#35c79b 80.9px,#2ec5a4 83.8px,#1fc1b1 86.7px,#02bac3 89.7px,#2ec4a4 90.1px)"></i>
<i style="top:34.07px;height:1.02px;background:linear-gradient(90deg,#2ec4a4 0.9px,#2a92ee 1.4px,#2699e9 4.3px,#249ee6 7.3px,#22a2e4 10.2px,#21a4e3 13.2px,#20a5e2 16.1px,#1fa5e2 19.1px,#1fa6e2 22.0px,#1fa6e2 25.0px,#1ea7e1 27.9px,#1ea7e1 30.9px,#1da9e0 33.8px,#1baade 36.8px,#19acdc 39.7px,#15afd9 42.7px,#10b2d5 45.7px,#07b5d0 48.6px,#01b8ca 51.6px,#03bbc3 54.5px,#0ebdbb 57.5px,#1cc0b3 60.4px,#27c2ac 63.4px,#2dc4a5 66.3px,#32c69f 69.3px,#35c79b 72.2px,#36c899 75.2px,#35c79a 78.1px,#31c6a0 81.1px,#29c3a9 84.0px,#15bfb8 87.0px,#01b8ca 89.9px,#2ec4a4 90.4px)"></i>
<i style="top:35.08px;height:1.02px;background:linear-gradient(90deg,#2ec4a4 0.7px,#2798ea 1.1px,#249fe6 4.1px,#21a3e3 7.1px,#1fa6e1 10.0px,#1da8e0 13.0px,#1ca9df 16.0px,#1caadf 18.9px,#1caadf 21.9px,#1caadf 24.9px,#1caadf 27.8px,#1baade 30.8px,#1aabdd 33.8px,#19addc 36.7px,#17aeda 39.7px,#13b1d7 42.7px,#0cb3d3 45.7px,#05b6ce 48.6px,#01b8c8 51.6px,#04bbc2 54.6px,#0fbeba 57.5px,#1cc0b3 60.5px,#26c2ac 63.5px,#2dc4a6 66.4px,#31c6a1 69.4px,#33c69d 72.4px,#34c79c 75.3px,#32c69e 78.3px,#2ec4a4 81.3px,#23c1af 84.2px,#09bdbe 87.2px,#08b4d1 90.2px,#2ec4a4 90.6px)"></i>
<i style="top:36.08px;height:1.02px;background:linear-gradient(90deg,#2ec4a4 0.5px,#249de6 0.9px,#20a4e3 3.9px,#1da8e0 6.9px,#1babde 9.9px,#19addc 12.8px,#18addb 15.8px,#18addb 18.8px,#18addb 21.8px,#19addb 24.8px,#19addc 27.8px,#18addb 30.7px,#17aedb 33.7px,#16afd9 36.7px,#13b0d7 39.7px,#0fb2d4 42.7px,#08b4d1 45.7px,#03b7cc 48.6px,#01b9c6 51.6px,#06bcc0 54.6px,#11beba 57.6px,#1dc0b3 60.6px,#26c2ad 63.5px,#2cc4a7 66.5px,#30c5a2 69.5px,#32c69f 72.5px,#32c69f 75.5px,#2fc5a2 78.5px,#2ac3a9 81.4px,#1bc0b4 84.4px,#02bac4 87.4px,#12b1d7 90.4px,#2ec4a4 90.8px)"></i>
<i style="top:37.08px;height:1.02px;background:linear-gradient(90deg,#2ec4a4 0.3px,#21a3e4 0.7px,#1da9e0 3.7px,#19addc 6.7px,#15afd9 9.7px,#13b1d7 12.7px,#12b1d6 15.7px,#12b1d6 18.7px,#12b1d7 21.7px,#13b0d7 24.7px,#14b0d8 27.7px,#14b0d8 30.7px,#13b0d7 33.7px,#12b1d6 36.7px,#0fb2d4 39.7px,#0ab4d2 42.7px,#05b6ce 45.7px,#01b8ca 48.6px,#02bac5 51.6px,#08bcbf 54.6px,#12beb9 57.6px,#1dc0b3 60.6px,#26c2ad 63.6px,#2bc3a7 66.6px,#2fc5a3 69.6px,#30c5a1 72.6px,#30c5a2 75.6px,#2dc4a6 78.6px,#25c2ad 81.6px,#11beb9 84.6px,#01b8c9 87.6px,#19addc 90.6px,#2ec4a4 91.0px)"></i>
<i style="top:38.08px;height:1.02px;background:linear-gradient(90deg,#2ec4a4 0.1px,#1da8e0 0.5px,#18addb 3.5px,#12b1d6 6.4px,#0cb3d3 9.3px,#09b4d1 12.2px,#08b4d0 15.1px,#08b4d1 18.0px,#09b4d1 20.9px,#0bb3d2 23.8px,#0cb3d3 26.7px,#0db3d3 29.6px,#0db3d3 32.6px,#0cb3d3 35.5px,#0ab4d2 38.4px,#07b5d0 41.3px,#04b6cd 44.2px,#01b8ca 47.1px,#01bac5 50.0px,#05bbc1 52.9px,#0ebdbb 55.8px,#18bfb6 58.7px,#21c1b0 61.7px,#27c2ab 64.6px,#2cc4a7 67.5px,#2ec4a4 70.4px,#2ec5a3 73.3px,#2dc4a5 76.2px,#28c3aa 79.1px,#1dc0b3 82.0px,#07bcbf 84.9px,#07b5d0 87.8px,#1da8e0 90.8px,#2ec4a4 91.2px)"></i>
<i style="top:39.09px;height:1.02px;background:linear-gradient(90deg,#2ec4a4 0.0px,#19addc 0.4px,#10b2d5 3.3px,#07b5d0 6.2px,#03b7cc 9.2px,#02b7ca 12.1px,#01b8ca 15.0px,#02b7ca 17.9px,#03b7cb 20.8px,#04b6cd 23.8px,#05b6ce 26.7px,#06b5cf 29.6px,#07b5cf 32.5px,#06b5cf 35.4px,#05b6ce 38.4px,#04b6cd 41.3px,#01b8ca 44.2px,#01b9c7 47.1px,#02bbc3 50.0px,#08bcbf 52.9px,#10beba 55.9px,#1ac0b5 58.8px,#22c1b0 61.7px,#27c2ab 64.6px,#2bc3a8 67.5px,#2dc4a6 70.5px,#2dc4a6 73.4px,#2bc3a8 76.3px,#25c2ae 79.2px,#16bfb7 82.1px,#02bac4 85.1px,#0fb2d5 88.0px,#21a4e3 90.9px,#2ec4a4 91.3px)"></i>
<i style="top:40.09px;height:1.02px;background:linear-gradient(90deg,#2ec4a4 0.0px,#12b1d6 0.3px,#06b5cf 3.2px,#01b8c9 6.1px,#01bac5 9.1px,#02bac4 12.0px,#02bac3 14.9px,#02bac4 17.8px,#01bac5 20.8px,#01b9c7 23.7px,#01b8c8 26.6px,#01b8ca 29.5px,#02b7cb 32.5px,#02b7cb 35.4px,#01b8ca 38.3px,#01b8c9 41.3px,#01b9c7 44.2px,#02bac4 47.1px,#05bbc1 50.0px,#0bbdbd 53.0px,#14beb8 55.9px,#1cc0b4 58.8px,#23c1af 61.8px,#27c2ab 64.7px,#2ac3a8 67.6px,#2cc4a7 70.5px,#2bc3a8 73.5px,#28c2ab 76.4px,#20c1b1 79.3px,#0ebdbb 82.2px,#01b8c9 85.2px,#16afd9 88.1px,#249fe5 91.0px,#2ec4a4 91.3px)"></i>
<i style="top:41.09px;height:1.02px;background:linear-gradient(90deg,#2ec4a4 0.0px,#07b5d0 0.2px,#01b9c7 3.1px,#04bbc1 6.0px,#09bcbe 9.0px,#0bbdbc 11.9px,#0bbdbc 14.8px,#0abdbd 17.8px,#08bcbf 20.7px,#05bbc1 23.6px,#02bbc3 26.6px,#02bac4 29.5px,#01bac6 32.4px,#01b9c6 35.4px,#01b9c6 38.3px,#01bac5 41.2px,#02bac3 44.2px,#05bbc1 47.1px,#09bcbe 50.1px,#0fbeba 53.0px,#17bfb6 55.9px,#1ec0b2 58.9px,#24c1af 61.8px,#27c2ab 64.7px,#2ac3a9 67.7px,#2bc3a8 70.6px,#29c3aa 73.5px,#25c2ae 76.5px,#1ac0b5 79.4px,#07bcbf 82.3px,#05b6cd 85.3px,#1aabdd 88.2px,#269ae8 91.1px,#2ec4a4 91.3px)"></i>
<i style="top:42.09px;height:1.02px;background:linear-gradient(90deg,#2ec4a4 0.0px,#01b8c9 0.1px,#06bcc0 3.0px,#10beba 6.0px,#17bfb6 8.9px,#1abfb5 11.9px,#19bfb5 14.8px,#17bfb6 17.7px,#13beb8 20.7px,#0fbebb 23.6px,#0bbdbd 26.5px,#08bcbf 29.5px,#06bcc0 32.4px,#05bbc1 35.4px,#04bbc2 38.3px,#05bbc1 41.2px,#07bcc0 44.2px,#09bdbe 47.1px,#0ebdbb 50.1px,#14beb8 53.0px,#1ac0b5 55.9px,#20c1b1 58.9px,#25c2ae 61.8px,#28c2ab 64.8px,#29c3a9 67.7px,#29c3a9 70.6px,#27c2ab 73.6px,#21c1b0 76.5px,#14bfb8 79.4px,#02bbc3 82.4px,#0ab4d2 85.3px,#1ea8e0 88.3px,#2895ec 91.2px,#2ec4a4 91.3px)"></i>
<i style="top:43.09px;height:1.02px;background:linear-gradient(90deg,#04bbc1 0.0px,#13beb8 3.0px,#1ec0b2 5.9px,#24c1af 8.9px,#25c2ad 11.8px,#25c2ae 14.8px,#23c1af 17.7px,#1fc0b1 20.6px,#1bc0b4 23.6px,#17bfb7 26.5px,#12beb9 29.5px,#0ebebb 32.4px,#0cbdbc 35.4px,#0bbdbd 38.3px,#0bbdbd 41.2px,#0cbdbc 44.2px,#0fbeba 47.1px,#14beb8 50.1px,#19bfb5 53.0px,#1ec0b2 55.9px,#22c1af 58.9px,#26c2ad 61.8px,#28c3ab 64.8px,#29c3aa 67.7px,#28c3aa 70.7px,#25c2ad 73.6px,#1dc0b3 76.5px,#0ebdbb 79.5px,#01b9c7 82.4px,#11b1d6 85.4px,#20a4e3 88.3px,#2b91ef 91.3px)"></i>
<i style="top:44.10px;height:1.02px;background:linear-gradient(90deg,#10beba 0.0px,#21c1b1 3.0px,#28c3aa 5.9px,#2cc4a7 8.8px,#2dc4a5 11.8px,#2dc4a6 14.7px,#2bc3a8 17.7px,#28c3aa 20.6px,#25c2ad 23.6px,#21c1b0 26.5px,#1dc0b3 29.5px,#19bfb5 32.4px,#16bfb7 35.3px,#14beb8 38.3px,#13beb8 41.2px,#14bfb8 44.2px,#17bfb7 47.1px,#1abfb5 50.1px,#1dc0b3 53.0px,#21c1b0 56.0px,#25c2ae 58.9px,#27c2ac 61.8px,#28c3aa 64.8px,#29c3aa 67.7px,#27c2ab 70.7px,#23c1af 73.6px,#1abfb5 76.6px,#09bcbe 79.5px,#02b7cb 82.5px,#16afd9 85.4px,#23a0e5 88.3px,#2d8cf3 91.3px)"></i>
<i style="top:45.10px;height:1.02px;background:linear-gradient(90deg,#1ec0b2 0.0px,#2ac3a9 2.9px,#30c5a2 5.9px,#32c69e 8.8px,#33c69d 11.8px,#32c69e 14.7px,#31c6a0 17.7px,#2fc5a3 20.6px,#2cc4a6 23.6px,#29c3aa 26.5px,#26c2ad 29.5px,#23c1af 32.4px,#1fc1b1 35.3px,#1dc0b3 38.3px,#1cc0b3 41.2px,#1cc0b3 44.2px,#1dc0b3 47.1px,#1fc0b2 50.1px,#22c1b0 53.0px,#24c2ae 56.0px,#27c2ac 58.9px,#28c3aa 61.8px,#29c3aa 64.8px,#29c3aa 67.7px,#26c2ac 70.7px,#21c1b0 73.6px,#16bfb7 76.6px,#05bbc1 79.5px,#05b6ce 82.5px,#1aacdd 85.4px,#259de7 88.4px,#2e87f7 91.3px)"></i>
<i style="top:46.10px;height:1.02px;background:linear-gradient(90deg,#29c3aa 0.0px,#31c6a0 3.0px,#36c799 5.9px,#39c895 8.8px,#3ac994 11.8px,#39c895 14.7px,#37c898 17.7px,#35c79b 20.6px,#32c69f 23.6px,#2fc5a2 26.5px,#2dc4a6 29.5px,#2ac3a9 32.4px,#27c2ac 35.3px,#25c2ad 38.3px,#24c1af 41.2px,#23c1af 44.2px,#23c1af 47.1px,#24c2ae 50.1px,#26c2ad 53.0px,#27c2ab 56.0px,#29c3aa 58.9px,#2ac3a9 61.8px,#2ac3a9 64.8px,#29c3aa 67.7px,#26c2ad 70.7px,#1fc0b2 73.6px,#11beb9 76.6px,#02bac4 79.5px,#09b4d1 82.5px,#1ca9df 85.4px,#2699e9 88.3px,#2f82fa 91.3px)"></i>
<i style="top:47.10px;height:1.02px;background:linear-gradient(90deg,#30c5a2 0.0px,#37c897 3.0px,#3eca8f 5.9px,#42ca8b 8.9px,#43ca8a 11.8px,#42ca8b 14.8px,#3fca8e 17.7px,#3bc992 20.6px,#38c897 23.6px,#34c79b 26.5px,#32c69f 29.5px,#2fc5a3 32.4px,#2dc4a6 35.4px,#2bc3a8 38.3px,#29c3a9 41.2px,#28c3aa 44.2px,#28c3aa 47.1px,#29c3aa 50.1px,#29c3a9 53.0px,#2ac3a9 55.9px,#2bc3a8 58.9px,#2bc3a8 61.8px,#2bc3a8 64.8px,#29c3aa 67.7px,#25c2ad 70.7px,#1dc0b3 73.6px,#0ebdbb 76.5px,#01b9c6 79.5px,#0eb2d4 82.4px,#1ea7e1 85.4px,#2895ec 88.3px,#317dfc 91.3px)"></i>
<i style="top:48.11px;height:1.02px;background:linear-gradient(90deg,#2ec4a4 0.0px,#36c899 0.1px,#40ca8d 3.0px,#49cb85 6.0px,#4fcc81 8.9px,#50cc80 11.9px,#4ecc81 14.8px,#4acb84 17.7px,#45cb89 20.7px,#3fca8e 23.6px,#3bc993 26.5px,#37c897 29.5px,#34c79c 32.4px,#32c69f 35.4px,#30c5a2 38.3px,#2ec5a4 41.2px,#2dc4a5 44.2px,#2dc4a6 47.1px,#2cc4a6 50.1px,#2dc4a6 53.0px,#2dc4a6 55.9px,#2dc4a6 58.9px,#2dc4a6 61.8px,#2cc4a7 64.8px,#29c3aa 67.7px,#24c2ae 70.6px,#1bc0b4 73.6px,#0abdbd 76.5px,#01b8c9 79.4px,#13b1d7 82.4px,#20a4e3 85.3px,#2b92ef 88.3px,#3678fd 91.2px,#2ec4a4 91.3px)"></i>
<i style="top:49.11px;height:1.02px;background:linear-gradient(90deg,#2ec4a4 0.0px,#3eca8f 0.2px,#4ccb83 3.1px,#57cc7a 6.0px,#5ccc76 9.0px,#5dcc74 11.9px,#5bcc76 14.8px,#57cc7a 17.8px,#51cc7f 20.7px,#4acb84 23.6px,#44cb8a 26.6px,#3eca8f 29.5px,#3ac994 32.4px,#36c898 35.4px,#34c79b 38.3px,#32c69e 41.2px,#31c6a0 44.2px,#30c5a1 47.1px,#30c5a2 50.1px,#2fc5a2 53.0px,#2fc5a3 55.9px,#2fc5a3 58.9px,#2ec4a4 61.8px,#2cc4a6 64.7px,#29c3a9 67.7px,#24c1ae 70.6px,#19bfb5 73.5px,#08bcbf 76.5px,#02b7cb 79.4px,#16afd9 82.3px,#22a1e4 85.3px,#2c8ef1 88.2px,#3a73fe 91.1px,#2ec4a4 91.3px)"></i>
<i style="top:50.11px;height:1.02px;background:linear-gradient(90deg,#2ec4a4 0.0px,#49cb85 0.3px,#5acc78 3.2px,#64cd6f 6.1px,#6acd6a 9.1px,#6bcd69 12.0px,#69cd6b 14.9px,#64cd6f 17.8px,#5ecd74 20.8px,#57cc7a 23.7px,#4fcc80 26.6px,#48cb86 29.5px,#42ca8c 32.5px,#3dc990 35.4px,#39c994 38.3px,#37c898 41.3px,#35c79a 44.2px,#34c79c 47.1px,#33c69d 50.0px,#32c69e 53.0px,#31c69f 55.9px,#31c5a1 58.8px,#2fc5a2 61.8px,#2dc4a5 64.7px,#2ac3a9 67.6px,#24c1af 70.5px,#17bfb6 73.5px,#06bbc1 76.4px,#05b6cd 79.3px,#19addc 82.2px,#249fe6 85.2px,#2d8bf4 88.1px,#3f6eff 91.0px,#2ec4a4 91.3px)"></i>
<i style="top:51.11px;height:1.02px;background:linear-gradient(90deg,#2ec4a4 0.0px,#57cc7a 0.4px,#67cd6c 3.3px,#73cd63 6.2px,#79cc5e 9.2px,#7bcc5d 12.1px,#78cc5f 15.0px,#73cd63 17.9px,#6ccd69 20.8px,#64cd6f 23.8px,#5ccc76 26.7px,#54cc7d 29.6px,#4ccb83 32.5px,#46cb88 35.4px,#40ca8d 38.4px,#3dc991 41.3px,#3ac994 44.2px,#38c896 47.1px,#36c898 50.0px,#35c79a 52.9px,#34c79c 55.9px,#33c69e 58.8px,#31c6a0 61.7px,#2ec5a4 64.6px,#2ac3a8 67.5px,#23c1af 70.5px,#15bfb7 73.4px,#03bbc2 76.3px,#07b5cf 79.2px,#1aabdd 82.1px,#259ce7 85.1px,#2e87f7 88.0px,#426afe 90.9px,#2ec4a4 91.3px)"></i>
<i style="top:52.11px;height:1.02px;background:linear-gradient(90deg,#2ec4a4 0.1px,#64cd6f 0.5px,#76cc60 3.5px,#83cc57 6.4px,#89cb53 9.3px,#8acb52 12.2px,#87cb54 15.1px,#82cc58 18.0px,#7acc5d 20.9px,#71cd64 23.8px,#68cd6b 26.7px,#60cd72 29.6px,#58cc79 32.6px,#50cc7f 35.5px,#4acb85 38.4px,#44cb89 41.3px,#40ca8d 44.2px,#3dc990 47.1px,#3bc993 50.0px,#38c895 52.9px,#36c898 55.8px,#35c79b 58.7px,#32c69e 61.7px,#2fc5a2 64.6px,#2bc3a8 67.5px,#23c1af 70.4px,#14beb8 73.3px,#02bac3 76.2px,#09b4d1 79.1px,#1ca9df 82.0px,#269ae9 84.9px,#2e84f8 87.8px,#4466fd 90.8px,#2ec4a4 91.2px)"></i>
<i style="top:53.12px;height:1.02px;background:linear-gradient(90deg,#2ec4a4 0.3px,#73cd63 0.7px,#86cb55 3.7px,#92ca4b 6.7px,#98ca47 9.7px,#98c947 12.7px,#95ca49 15.7px,#8fcb4e 18.7px,#87cb54 21.7px,#7ecc5b 24.7px,#73cd62 27.7px,#6acd6a 30.7px,#61cd72 33.7px,#59cc79 36.7px,#51cc7e 39.7px,#4bcb84 42.7px,#46cb88 45.7px,#42ca8c 48.6px,#3eca8f 51.6px,#3bc992 54.6px,#38c896 57.6px,#35c79a 60.6px,#32c69f 63.6px,#2dc4a5 66.6px,#26c2ad 69.6px,#17bfb6 72.6px,#03bbc3 75.6px,#09b4d1 78.6px,#1ca9df 81.6px,#2699e9 84.6px,#2f82fa 87.6px,#4562fc 90.6px,#2ec4a4 91.0px)"></i>
<i style="top:54.12px;height:1.02px;background:linear-gradient(90deg,#2ec4a4 0.5px,#82cc58 0.9px,#95ca49 3.9px,#a0c841 6.9px,#a6c83d 9.9px,#a6c73c 12.8px,#a3c83e 15.8px,#9ec943 18.8px,#96ca49 21.8px,#8ccb50 24.8px,#82cc58 27.8px,#77cc60 30.7px,#6dcd67 33.7px,#64cd6f 36.7px,#5ccc76 39.7px,#55cc7c 42.7px,#4fcc81 45.7px,#49cb85 48.6px,#44cb89 51.6px,#3fca8e 54.6px,#3bc992 57.6px,#37c897 60.6px,#33c69d 63.5px,#2ec5a4 66.5px,#26c2ac 69.5px,#16bfb7 72.5px,#02bac4 75.5px,#0bb3d2 78.5px,#1ea8e1 81.4px,#2797eb 84.4px,#307ffb 87.4px,#465ffb 90.4px,#2ec4a4 90.8px)"></i>
<i style="top:55.12px;height:1.02px;background:linear-gradient(90deg,#2ec4a4 0.7px,#91ca4d 1.1px,#a3c83f 4.1px,#aec637 7.1px,#b3c534 10.0px,#b4c534 13.0px,#b1c635 16.0px,#abc739 18.9px,#a4c83e 21.9px,#9ac945 24.9px,#90ca4d 27.8px,#85cb55 30.8px,#7bcc5d 33.8px,#70cd65 36.7px,#67cd6c 39.7px,#5fcd73 42.7px,#58cc79 45.7px,#51cc7e 48.6px,#4bcb84 51.6px,#45cb89 54.6px,#3fca8e 57.5px,#3ac994 60.5px,#35c79b 63.5px,#2fc5a3 66.4px,#27c2ac 69.4px,#16bfb7 72.4px,#02bac4 75.3px,#0eb2d4 78.3px,#1fa6e1 81.3px,#2994ec 84.2px,#327cfc 87.2px,#475cfa 90.2px,#2ec4a4 90.6px)"></i>
<i style="top:56.12px;height:1.02px;background:linear-gradient(90deg,#2ec4a4 0.9px,#9fc942 1.4px,#b1c636 4.3px,#bbc42f 7.3px,#c0c32d 10.2px,#c1c32c 13.2px,#bec32e 16.1px,#b9c431 19.1px,#b1c635 22.0px,#a8c73b 25.0px,#9ec942 27.9px,#93ca4b 30.9px,#88cb53 33.8px,#7ecc5b 36.8px,#73cd63 39.7px,#6acd6a 42.7px,#62cd71 45.7px,#5acc77 48.6px,#53cc7d 51.6px,#4bcb83 54.5px,#44cb8a 57.5px,#3dc991 60.4px,#36c898 63.4px,#30c5a1 66.3px,#27c2ab 69.3px,#16bfb7 72.2px,#01bac5 75.2px,#10b2d5 78.1px,#20a5e2 81.1px,#2a93ee 84.0px,#3479fd 87.0px,#4759f8 89.9px,#2ec4a4 90.4px)"></i>
<i style="top:57.13px;height:1.02px;background:linear-gradient(90deg,#2ec4a4 1.2px,#adc738 1.6px,#bdc32e 4.6px,#c7c129 7.5px,#ccc028 10.4px,#cdc028 13.4px,#cac129 16.3px,#c5c22a 19.2px,#bec32e 22.2px,#b5c533 25.1px,#abc739 28.0px,#a0c840 31.0px,#96ca49 33.9px,#8bcb51 36.8px,#80cc59 39.8px,#76cc61 42.7px,#6ccd68 45.7px,#63cd70 48.6px,#5bcc77 51.5px,#52cc7e 54.5px,#49cb85 57.4px,#40ca8d 60.3px,#38c896 63.3px,#31c6a0 66.2px,#28c3aa 69.1px,#16bfb7 72.1px,#01b9c6 75.0px,#12b1d6 77.9px,#21a4e3 80.9px,#2b91ef 83.8px,#3777fe 86.7px,#4756f7 89.7px,#2ec4a4 90.1px)"></i>
<i style="top:58.13px;height:1.02px;background:linear-gradient(90deg,#2ec4a4 1.5px,#b9c430 1.9px,#c9c129 4.8px,#d3bf27 7.7px,#d7be28 10.7px,#d8be28 13.6px,#d5be28 16.5px,#d1bf27 19.4px,#cac129 22.3px,#c1c32c 25.2px,#b8c431 28.2px,#adc638 31.1px,#a3c83f 34.0px,#97ca47 36.9px,#8dcb50 39.8px,#82cc58 42.7px,#77cc60 45.7px,#6dcd68 48.6px,#63cd70 51.5px,#59cc78 54.4px,#4fcc80 57.3px,#44cb89 60.2px,#3ac993 63.1px,#32c69e 66.1px,#29c3aa 69.0px,#16bfb7 71.9px,#01b9c6 74.8px,#13b1d7 77.7px,#21a3e4 80.6px,#2c8ff0 83.6px,#3974fe 86.5px,#4854f5 89.4px,#2ec4a4 89.8px)"></i>
<i style="top:59.13px;height:1.02px;background:linear-gradient(90deg,#2ec4a4 1.8px,#c6c22a 2.2px,#d5be28 5.2px,#ddbd29 8.2px,#e1bc2b 11.2px,#e1bc2b 14.2px,#dfbc2a 17.2px,#dabd28 20.2px,#d3bf27 23.2px,#cbc129 26.2px,#c1c32c 29.2px,#b6c532 32.2px,#abc739 35.2px,#9fc941 38.2px,#94ca4a 41.2px,#88cb53 44.2px,#7dcc5c 47.1px,#71cd64 50.1px,#65cd6e 53.1px,#5acc78 56.1px,#4dcc82 59.1px,#40ca8d 62.1px,#36c899 65.1px,#2dc4a6 68.1px,#1cc0b4 71.1px,#02bac4 74.1px,#10b2d5 77.1px,#21a3e3 80.1px,#2c8ff0 83.1px,#3a74fe 86.1px,#4852f4 89.1px,#2ec4a4 89.5px)"></i>
<i style="top:60.13px;height:1.02px;background:linear-gradient(90deg,#2ec4a4 2.1px,#d1bf27 2.6px,#dfbc2a 5.5px,#e7bb2e 8.5px,#eaba31 11.5px,#eaba31 14.4px,#e8bb2f 17.4px,#e4bb2c 20.4px,#ddbd29 23.4px,#d5be28 26.3px,#ccc028 29.3px,#c2c22c 32.3px,#b7c532 35.2px,#acc739 38.2px,#a0c941 41.2px,#94ca4a 44.2px,#87cb54 47.1px,#7bcc5d 50.1px,#6ecd67 53.1px,#60cd72 56.1px,#53cc7d 59.0px,#44cb89 62.0px,#38c897 65.0px,#2ec4a4 67.9px,#1dc0b3 70.9px,#02bac4 73.9px,#11b1d6 76.9px,#21a3e4 79.8px,#2c8ef1 82.8px,#3c72ff 85.8px,#4851f3 88.7px,#2ec4a4 89.2px)"></i>
<i style="top:61.13px;height:1.02px;background:linear-gradient(90deg,#2ec4a4 2.5px,#dbbd29 2.9px,#e8bb2f 5.9px,#efba35 8.8px,#f2ba38 11.8px,#f3ba38 14.7px,#f1ba36 17.7px,#ecba33 20.6px,#e7bb2e 23.5px,#dfbc2a 26.5px,#d7be28 29.4px,#cdc028 32.4px,#c2c22c 35.3px,#b7c532 38.3px,#abc739 41.2px,#9fc942 44.2px,#92ca4c 47.1px,#85cb56 50.1px,#76cc60 53.0px,#67cd6c 56.0px,#58cc79 58.9px,#48cb86 61.9px,#3ac994 64.8px,#2fc5a3 67.8px,#1ec0b2 70.7px,#02bac4 73.6px,#12b1d6 76.6px,#22a2e4 79.5px,#2d8df2 82.5px,#3d71ff 85.4px,#484ff2 88.4px,#2ec4a4 88.8px)"></i>
<i style="top:62.14px;height:1.02px;background:linear-gradient(90deg,#2ec4a4 2.9px,#e4bb2c 3.3px,#f0ba36 6.2px,#f7ba3c 9.1px,#f9bb3d 12.1px,#fabb3d 15.0px,#f8ba3d 17.9px,#f4ba3a 20.8px,#efba35 23.7px,#e9bb2f 26.7px,#e0bc2b 29.6px,#d7be28 32.5px,#cdc028 35.4px,#c2c22c 38.3px,#b6c532 41.3px,#aac73a 44.2px,#9cc943 47.1px,#8ecb4e 50.0px,#7fcc5a 53.0px,#6fcd66 55.9px,#5ecd74 58.8px,#4dcb82 61.7px,#3cc991 64.6px,#30c5a1 67.6px,#1fc1b1 70.5px,#02bac3 73.4px,#12b1d6 76.3px,#22a2e4 79.2px,#2d8df2 82.2px,#3e70ff 85.1px,#484ef1 88.0px,#2ec4a4 88.4px)"></i>
<i style="top:63.14px;height:1.02px;background:linear-gradient(90deg,#2ec4a4 3.3px,#edba33 3.7px,#f8ba3d 6.7px,#fcbd3d 9.7px,#febe3c 12.7px,#febe3c 15.7px,#fdbd3d 18.7px,#fabb3d 21.7px,#f5ba3b 24.7px,#efba35 27.7px,#e7bb2e 30.7px,#ddbd29 33.7px,#d3bf27 36.7px,#c7c129 39.7px,#bbc430 42.7px,#adc638 45.7px,#9fc942 48.6px,#8fcb4e 51.6px,#7ecc5b 54.6px,#6bcd69 57.6px,#58cc79 60.6px,#44ca8a 63.6px,#34c79b 66.6px,#26c2ad 69.6px,#07bcbf 72.6px,#0db3d3 75.6px,#21a3e3 78.6px,#2c8ef1 81.6px,#3d70ff 84.6px,#484ef1 87.6px,#2ec4a4 88.0px)"></i>
<i style="top:64.14px;height:1.02px;background:linear-gradient(90deg,#2ec4a4 3.7px,#f5ba3a 4.2px,#fdbd3d 7.1px,#fec13a 10.1px,#fec338 13.1px,#fec338 16.0px,#fec239 19.0px,#febf3c 21.9px,#fbbc3d 24.9px,#f6ba3b 27.9px,#efba35 30.8px,#e6bb2d 33.8px,#dcbd29 36.8px,#d1bf27 39.7px,#c5c22a 42.7px,#b7c532 45.7px,#a8c73b 48.6px,#98c947 51.6px,#86cb55 54.5px,#72cd64 57.5px,#5dcc75 60.5px,#47cb87 63.4px,#36c799 66.4px,#27c2ac 69.4px,#08bcbf 72.3px,#0db3d3 75.3px,#21a3e3 78.2px,#2c8ef2 81.2px,#3e70ff 84.2px,#484df0 87.1px,#2ec4a4 87.6px)"></i>
<i style="top:65.14px;height:1.02px;background:linear-gradient(90deg,#2ec4a4 4.2px,#fbbc3d 4.6px,#fec13a 7.6px,#fec636 10.5px,#fec835 13.4px,#fec835 16.4px,#fec636 19.3px,#fec438 22.2px,#fec03b 25.1px,#fcbc3d 28.1px,#f6ba3b 31.0px,#eeba34 33.9px,#e5bb2d 36.9px,#dabd28 39.8px,#cec028 42.7px,#c1c32c 45.7px,#b2c635 48.6px,#a1c840 51.5px,#8ecb4e 54.4px,#79cc5e 57.4px,#62cd70 60.3px,#4bcb84 63.2px,#37c897 66.2px,#29c3aa 69.1px,#09bcbe 72.0px,#0cb3d3 74.9px,#21a3e3 77.9px,#2c8ef2 80.8px,#3e70ff 83.7px,#484df1 86.7px,#2ec4a4 87.1px)"></i>
<i style="top:66.15px;height:1.02px;background:linear-gradient(90deg,#2ec4a4 4.7px,#febf3b 5.2px,#fec636 8.2px,#fdcb33 11.2px,#fdcd32 14.2px,#fdcd32 17.2px,#fdcb33 20.2px,#fec835 23.2px,#fec438 26.2px,#febf3b 29.2px,#fabb3d 32.2px,#f2ba38 35.2px,#e8bb2f 38.2px,#ddbd29 41.2px,#d1bf27 44.2px,#c2c22c 47.1px,#b1c635 50.1px,#9ec942 53.1px,#89cb53 56.1px,#70cd65 59.1px,#57cc7a 62.1px,#3eca8f 65.1px,#2ec4a4 68.1px,#12beb9 71.1px,#07b5cf 74.1px,#1fa6e2 77.1px,#2c90f0 80.1px,#3c71ff 83.1px,#484ef1 86.1px,#2ec4a4 86.6px)"></i>
<i style="top:67.15px;height:1.02px;background:linear-gradient(90deg,#2ec4a4 5.2px,#fec438 5.7px,#fdcb33 8.7px,#fcd030 11.6px,#fbd22f 14.6px,#fbd22f 17.5px,#fcd030 20.5px,#fdcd32 23.5px,#fec834 26.4px,#fec338 29.4px,#febe3c 32.3px,#f9ba3d 35.3px,#f0ba36 38.3px,#e5bb2d 41.2px,#d9be28 44.2px,#cac129 47.1px,#bac430 50.1px,#a6c73c 53.0px,#90ca4d 56.0px,#76cc60 59.0px,#5ccc76 61.9px,#41ca8c 64.9px,#2fc5a2 67.8px,#14bfb8 70.8px,#06b5ce 73.8px,#1fa6e2 76.7px,#2c90f0 79.7px,#3c72ff 82.6px,#484ff1 85.6px,#2ec4a4 86.1px)"></i>
<i style="top:68.15px;height:1.02px;background:linear-gradient(90deg,#2ec4a4 5.8px,#fec934 6.3px,#fcd030 9.2px,#fad42e 12.1px,#f9d62d 15.0px,#f9d62d 17.9px,#fad52e 20.9px,#fbd12f 23.8px,#fdcd31 26.7px,#fec835 29.6px,#fec339 32.5px,#fdbd3d 35.4px,#f6ba3b 38.4px,#ecba32 41.3px,#e0bc2a 44.2px,#d2bf27 47.1px,#c1c32c 50.0px,#aec637 52.9px,#97ca47 55.9px,#7dcc5b 58.8px,#60cd72 61.7px,#44cb89 64.6px,#31c6a0 67.5px,#17bfb6 70.4px,#05b6cd 73.4px,#1ea7e1 76.3px,#2b91ef 79.2px,#3b73fe 82.1px,#4850f2 85.0px,#2ec4a4 85.5px)"></i>
<i style="top:69.15px;height:1.02px;background:linear-gradient(90deg,#2ec4a4 6.4px,#fdcd31 6.9px,#fad52e 9.9px,#f8d92b 12.8px,#f7db2a 15.8px,#f7db2b 18.8px,#f8d92c 21.8px,#fad52d 24.8px,#fcd030 27.8px,#fdcb33 30.7px,#fec537 33.7px,#febf3c 36.7px,#f8ba3d 39.7px,#edba33 42.7px,#e0bc2b 45.6px,#d1bf27 48.6px,#bec32e 51.6px,#a8c73b 54.6px,#8dcb4f 57.6px,#6fcd66 60.6px,#50cc80 63.5px,#36c899 66.5px,#21c1b0 69.5px,#01b8c9 72.5px,#1caadf 75.5px,#2994ed 78.5px,#3876fe 81.4px,#4852f4 84.4px,#2ec4a4 84.9px)"></i>
<i style="top:70.15px;height:1.02px;background:linear-gradient(90deg,#2ec4a4 7.1px,#fbd22f 7.5px,#f8d92b 10.4px,#f6de29 13.4px,#f6df29 16.3px,#f6df29 19.2px,#f7dd2a 22.2px,#f8da2b 25.1px,#fad52d 28.0px,#fccf30 31.0px,#fec934 33.9px,#fec339 36.8px,#fcbd3d 39.8px,#f3ba39 42.7px,#e7bb2e 45.7px,#d7be28 48.6px,#c5c22a 51.5px,#aec637 54.5px,#94ca4a 57.4px,#74cc62 60.3px,#54cc7c 63.3px,#38c896 66.2px,#24c1af 69.1px,#01b9c7 72.1px,#1babde 75.0px,#2895ec 77.9px,#3677fe 80.9px,#4854f5 83.8px,#2ec4a4 84.2px)"></i>
<i style="top:71.16px;height:1.02px;background:linear-gradient(90deg,#2ec4a4 7.7px,#f9d72d 8.2px,#f6de29 11.2px,#f5e227 14.2px,#f5e427 17.2px,#f5e327 20.2px,#f6e128 23.2px,#f7dd2a 26.2px,#f9d82c 29.2px,#fbd22f 32.2px,#fdcb33 35.2px,#fec438 38.2px,#fdbd3d 41.2px,#f3ba38 44.2px,#e5bb2d 47.1px,#d4bf28 50.1px,#bec32e 53.1px,#a4c83e 56.1px,#85cb55 59.1px,#62cd71 62.1px,#40ca8d 65.1px,#2bc3a8 68.1px,#04bbc1 71.1px,#17aeda 74.1px,#2698ea 77.1px,#337bfc 80.1px,#4756f7 83.1px,#2ec4a4 83.6px)"></i>
<i style="top:72.16px;height:1.02px;background:linear-gradient(90deg,#2ec4a4 8.5px,#f7db2a 8.9px,#f5e227 11.8px,#f5e626 14.8px,#f5e725 17.7px,#f5e725 20.7px,#f5e426 23.6px,#f6e128 26.5px,#f7dc2a 29.5px,#fad62d 32.4px,#fccf30 35.4px,#fec835 38.3px,#fec03b 41.2px,#f8ba3d 44.2px,#eaba31 47.1px,#dabd28 50.1px,#c5c22a 53.0px,#aac73a 55.9px,#8bcb51 58.9px,#66cd6d 61.8px,#43ca8a 64.8px,#2dc4a6 67.7px,#07bcbf 70.6px,#15afd9 73.6px,#269ae8 76.5px,#317efb 79.5px,#4759f8 82.4px,#2ec4a4 82.8px)"></i>
<i style="top:73.16px;height:1.02px;background:linear-gradient(90deg,#2ec4a4 9.2px,#f6e029 9.7px,#f5e626 12.7px,#f5ea24 15.7px,#f5eb23 18.7px,#f5ea24 21.7px,#f5e725 24.7px,#f5e327 27.7px,#f6de29 30.7px,#f9d72c 33.7px,#fcd030 36.7px,#fec835 39.7px,#febf3b 42.7px,#f6ba3b 45.7px,#e7bb2e 48.6px,#d3bf27 51.6px,#bbc430 54.6px,#9cc944 57.6px,#77cc60 60.6px,#50cc80 63.6px,#33c69d 66.6px,#13beb9 69.6px,#0eb2d4 72.6px,#249ee6 75.6px,#2f82fa 78.6px,#465dfa 81.6px,#2ec4a4 82.1px)"></i>
<i style="top:74.16px;height:1.02px;background:linear-gradient(90deg,#2ec4a4 10.0px,#f5e427 10.5px,#f5ea24 13.4px,#f5ed22 16.3px,#f5ee21 19.3px,#f5ed22 22.2px,#f5ea23 25.1px,#f5e625 28.1px,#f5e128 31.0px,#f7db2b 33.9px,#fbd32e 36.9px,#fdcb33 39.8px,#fec239 42.7px,#fabb3d 45.7px,#ebba32 48.6px,#d8be28 51.5px,#c0c32d 54.4px,#a1c840 57.4px,#7ccc5c 60.3px,#55cc7c 63.2px,#35c79b 66.2px,#17bfb6 69.1px,#0ab4d2 72.0px,#23a0e5 75.0px,#2e85f8 77.9px,#4561fc 80.8px,#2ec4a4 81.3px)"></i>
<i style="top:75.16px;height:1.02px;background:linear-gradient(90deg,#2ec4a4 10.9px,#f5e725 11.3px,#f5ed22 14.3px,#f6f01f 17.3px,#f6f11f 20.3px,#f6ef20 23.3px,#f5ed22 26.3px,#f5e825 29.2px,#f5e227 32.2px,#f7db2a 35.2px,#fbd32e 38.2px,#feca33 41.2px,#fec13a 44.2px,#f7ba3c 47.1px,#e6bb2d 50.1px,#cfc028 53.1px,#b2c635 56.1px,#8ecb4f 59.1px,#63cd6f 62.1px,#3dc991 65.0px,#24c1af 68.0px,#02b7cb 71.0px,#20a5e3 74.0px,#2d8af5 77.0px,#4466fd 80.0px,#2ec4a4 80.4px)"></i>
<i style="top:76.17px;height:1.02px;background:linear-gradient(90deg,#2ec4a4 11.8px,#f5eb23 12.2px,#f6f01f 15.1px,#f6f31d 18.0px,#f7f31d 21.0px,#f6f21e 23.9px,#f6ef20 26.8px,#f5eb23 29.7px,#f5e526 32.6px,#f6de29 35.5px,#fad62d 38.4px,#fdcd32 41.3px,#fec338 44.2px,#fabb3d 47.1px,#e9bb30 50.0px,#d4bf27 52.9px,#b7c532 55.8px,#93ca4b 58.7px,#68cd6b 61.6px,#40ca8d 64.5px,#27c2ac 67.4px,#01b8c8 70.3px,#1ea7e1 73.3px,#2c8ef2 76.2px,#416bfe 79.1px,#2ec4a4 79.5px)"></i>
<i style="top:77.17px;height:1.02px;background:linear-gradient(90deg,#2ec4a4 12.7px,#f5ee21 13.2px,#f7f31d 16.1px,#f7f51b 19.1px,#f7f51b 22.0px,#f7f41c 25.0px,#f6f01f 27.9px,#f5eb23 30.9px,#f5e526 33.8px,#f6de29 36.8px,#fad52e 39.7px,#fdcb33 42.7px,#fec13a 45.7px,#f5ba3a 48.6px,#e1bc2b 51.6px,#c7c12a 54.5px,#a4c83e 57.5px,#7acc5e 60.4px,#4dcc82 63.4px,#2fc5a3 66.3px,#05bbc1 69.3px,#1aacdd 72.2px,#2a93ed 75.2px,#3c72ff 78.1px,#2ec4a4 78.6px)"></i>
<i style="top:78.17px;height:1.02px;background:linear-gradient(90deg,#2ec4a4 13.8px,#f6f11f 14.2px,#f7f51b 17.2px,#f8f719 20.2px,#f8f719 23.2px,#f7f51b 26.2px,#f6f11f 29.2px,#f5eb23 32.2px,#f5e526 35.2px,#f7dc2a 38.2px,#fbd22f 41.2px,#fec835 44.2px,#fdbd3d 47.1px,#edba33 50.1px,#d5be28 53.1px,#b5c533 56.1px,#8ccb50 59.1px,#5dcc75 62.1px,#36c799 65.1px,#13beb9 68.1px,#13b1d7 71.1px,#2699e9 74.1px,#3579fd 77.1px,#2ec4a4 77.5px)"></i>
<i style="top:79.17px;height:1.02px;background:linear-gradient(90deg,#2ec4a4 14.9px,#f7f31c 15.3px,#f8f719 18.2px,#f8f917 21.1px,#f8f818 24.0px,#f7f61a 26.9px,#f6f21e 29.8px,#f5ed22 32.6px,#f5e626 35.5px,#f6de29 38.4px,#fad42e 41.3px,#fec934 44.2px,#febe3c 47.1px,#f0ba36 50.0px,#d8be28 52.9px,#b9c430 55.8px,#91ca4c 58.7px,#62cd70 61.5px,#39c995 64.4px,#1bc0b4 67.3px,#0bb3d2 70.2px,#249ee6 73.1px,#2f80fa 76.0px,#2ec4a4 76.4px)"></i>
<i style="top:80.18px;height:1.02px;background:linear-gradient(90deg,#2ec4a4 16.0px,#f7f61a 16.5px,#f8f917 19.4px,#f9fa16 22.3px,#f8f917 25.2px,#f7f61a 28.1px,#f6f21e 31.1px,#f5ec22 34.0px,#f5e427 36.9px,#f7db2b 39.8px,#fcd030 42.7px,#fec537 45.7px,#f9bb3d 48.6px,#e5bb2d 51.5px,#c9c129 54.4px,#a3c83f 57.3px,#74cc62 60.2px,#45cb89 63.2px,#28c2ab 66.1px,#01b8ca 69.0px,#20a4e3 71.9px,#2d88f6 74.8px,#2ec4a4 75.3px)"></i>
<i style="top:81.18px;height:1.02px;background:linear-gradient(90deg,#2ec4a4 17.3px,#f8f718 17.7px,#f9fa15 20.7px,#f9fb15 23.6px,#f8f917 26.5px,#f7f51b 29.5px,#f6f01f 32.4px,#f5ea24 35.4px,#f5e128 38.3px,#f9d72c 41.2px,#fdcc32 44.2px,#fec03b 47.1px,#f0ba36 50.1px,#d7be28 53.0px,#b4c533 55.9px,#87cb54 58.9px,#55cc7b 61.8px,#31c6a0 64.8px,#05bbc1 67.7px,#1baade 70.6px,#2c90f0 73.6px,#2ec4a4 74.0px)"></i>
<i style="top:82.18px;height:1.02px;background:linear-gradient(90deg,#2ec4a4 18.6px,#f8f917 19.1px,#f9fb15 22.0px,#f9fb15 25.0px,#f8f817 27.9px,#f7f41c 30.9px,#f5ee21 33.8px,#f5e725 36.8px,#f6dd29 39.7px,#fbd22f 42.7px,#fec636 45.7px,#fabb3d 48.6px,#e4bb2c 51.6px,#c4c22b 54.5px,#9ac945 57.5px,#67cd6c 60.4px,#39c994 63.4px,#17bfb7 66.3px,#12b1d7 69.3px,#2798ea 72.2px,#2ec4a4 72.7px)"></i>
<i style="top:83.18px;height:1.02px;background:linear-gradient(90deg,#2ec4a4 20.1px,#f9f916 20.5px,#f9fb15 23.5px,#f9fa16 26.5px,#f8f719 29.4px,#f6f21e 32.4px,#f5eb23 35.3px,#f5e327 38.3px,#f8d82c 41.2px,#fdcc32 44.2px,#fec03b 47.1px,#efba35 50.1px,#d3bf27 53.0px,#adc738 56.0px,#7bcc5d 58.9px,#48cb86 61.9px,#27c2ab 64.8px,#04b6cc 67.8px,#23a1e4 70.8px,#2ec4a4 71.2px)"></i>
<i style="top:84.18px;height:1.02px;background:linear-gradient(90deg,#2ec4a4 21.7px,#f9fa16 22.1px,#f9fa16 25.1px,#f8f818 28.0px,#f7f41c 31.0px,#f5ef20 33.9px,#f5e725 36.8px,#f6de29 39.8px,#fbd22f 42.7px,#fec636 45.7px,#f8ba3d 48.6px,#e0bc2a 51.5px,#bec32e 54.5px,#90ca4d 57.4px,#5bcc77 60.3px,#32c69e 63.3px,#06bcc1 66.2px,#1caadf 69.2px,#2ec4a4 69.6px)"></i>
<i style="top:85.19px;height:1.02px;background:linear-gradient(90deg,#2ec4a4 23.4px,#f8f917 23.9px,#f8f817 26.8px,#f7f61a 29.7px,#f6f11f 32.6px,#f5ea23 35.5px,#f5e228 38.4px,#f9d72c 41.3px,#fdcb33 44.2px,#febe3c 47.1px,#ebba32 50.0px,#cdc028 52.9px,#a4c83e 55.8px,#70cd65 58.7px,#3eca8f 61.6px,#1dc0b3 64.5px,#0db3d4 67.4px,#2ec4a4 67.9px)"></i>
<i style="top:86.19px;height:1.02px;background:linear-gradient(90deg,#2ec4a4 25.4px,#f8f719 25.9px,#f7f61a 28.7px,#f6f21e 31.5px,#f5ec22 34.3px,#f5e526 37.2px,#f7db2a 40.0px,#fcd030 42.8px,#fec338 45.7px,#f4ba3a 48.5px,#dbbd29 51.3px,#b7c532 54.1px,#88cb53 57.0px,#54cc7d 59.8px,#2fc5a3 62.6px,#02bac4 65.4px,#2ec4a4 65.9px)"></i>
<i style="top:87.19px;height:1.02px;background:linear-gradient(90deg,#2ec4a4 27.6px,#f7f41c 28.1px,#f6f11f 31.0px,#f5ec23 33.9px,#f5e427 36.9px,#f8da2b 39.8px,#fdce31 42.7px,#fec13a 45.7px,#f0ba36 48.6px,#d4bf27 51.5px,#abc739 54.4px,#77cc60 57.4px,#42ca8c 60.3px,#20c1b1 63.2px,#2ec4a4 63.7px)"></i>
<i style="top:88.19px;height:1.02px;background:linear-gradient(90deg,#2ec4a4 30.3px,#f6ef20 30.7px,#f5ea24 33.7px,#f5e227 36.7px,#f9d82c 39.7px,#fdcc32 42.7px,#febe3c 45.7px,#ebba32 48.6px,#cbc029 51.6px,#9fc942 54.6px,#67cd6c 57.6px,#37c898 60.6px,#2ec4a4 61.0px)"></i>
<i style="top:89.20px;height:1.02px;background:linear-gradient(90deg,#2ec4a4 33.6px,#f5e626 34.0px,#f6de29 36.9px,#fad42e 39.8px,#fec834 42.7px,#fcbc3d 45.7px,#e6bb2d 48.6px,#c5c22a 51.5px,#98ca47 54.4px,#61cd71 57.3px,#2ec4a4 57.7px)"></i>
<i style="top:90.20px;height:1.02px;background:linear-gradient(90deg,#2ec4a4 38.5px,#fad42e 38.9px,#feca34 41.6px,#febe3c 44.3px,#edba33 47.0px,#d2bf27 49.7px,#adc638 52.4px,#2ec4a4 52.8px)"></i>
</div>
<div class="fr" style="left:404.5px;top:324.4px;width:91.3px;height:91.2px"></div>
<div class="cb" style="left:510.7px;top:324.3px;width:8.8px;height:91.5px;background:linear-gradient(180deg,#f9fb15 0.0%,#f5e327 6.2%,#feca33 12.5%,#f1ba37 18.8%,#c8c129 25.0%,#94ca4a 31.2%,#5ccc76 37.5%,#34c79c 43.8%,#12beb9 50.0%,#0cb3d3 56.2%,#21a3e3 62.5%,#2c90f0 68.8%,#347afd 75.0%,#4562fc 81.2%,#484cef 87.5%,#4536d5 93.8%,#3e26a8 100.0%)"></div>
</div></body></html>
